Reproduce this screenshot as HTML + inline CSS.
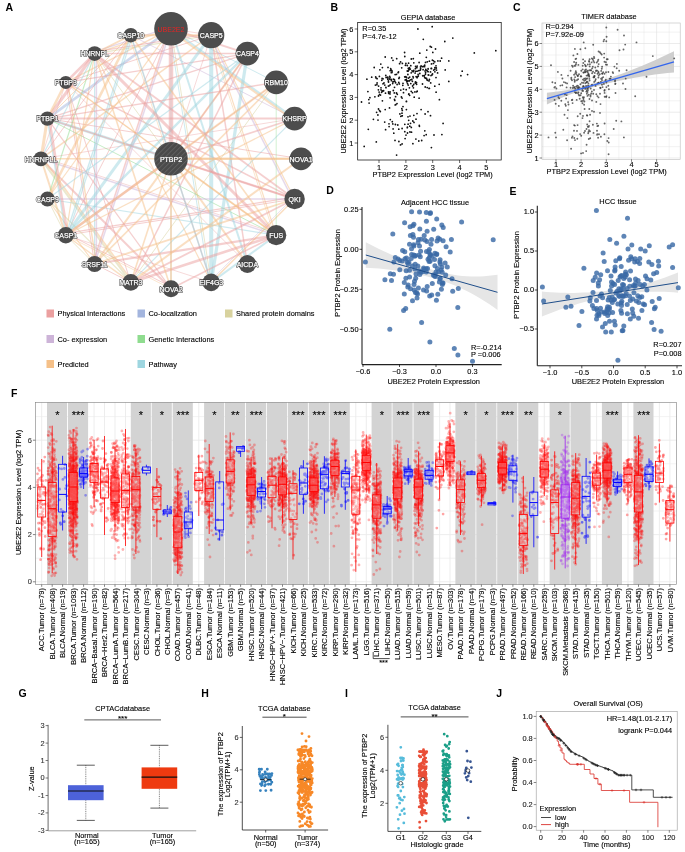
<!DOCTYPE html>
<html><head><meta charset="utf-8"><title>Figure</title>
<style>html,body{margin:0;padding:0;background:#fff;width:685px;height:852px;overflow:hidden}
svg{display:block;font-family:"Liberation Sans", sans-serif;filter:blur(0.4px)}</style></head>
<body><svg width="685" height="852" viewBox="0 0 685 852" font-family='"Liberation Sans", sans-serif'><text x="5.6" y="11.1" font-size="10.5" font-weight="bold">A</text>
<g fill="none" stroke-opacity="0.5" filter="url(#soft)">
<line x1="171" y1="28.8" x2="211.2" y2="282.4" stroke="#d8d29e" stroke-width="1.0"/>
<line x1="65.8" y1="235.2" x2="94.6" y2="53.6" stroke="#f5c088" stroke-width="1.2"/>
<line x1="171" y1="288.8" x2="41" y2="158.8" stroke="#eba0a0" stroke-width="2.0"/>
<line x1="65.8" y1="235.2" x2="47.4" y2="199" stroke="#d8d29e" stroke-width="1.0"/>
<line x1="94.6" y1="264" x2="47.4" y2="199" stroke="#f5c088" stroke-width="1.2"/>
<line x1="171" y1="28.8" x2="65.8" y2="235.2" stroke="#eba0a0" stroke-width="1.0"/>
<line x1="276.2" y1="235.2" x2="41" y2="158.8" stroke="#cdb4d8" stroke-width="1.5"/>
<line x1="247.4" y1="264" x2="65.8" y2="82.4" stroke="#eba0a0" stroke-width="0.8"/>
<line x1="211.2" y1="35.2" x2="94.6" y2="53.6" stroke="#d8d29e" stroke-width="1.2"/>
<line x1="276.2" y1="235.2" x2="47.4" y2="199" stroke="#9ed6e0" stroke-width="1.2"/>
<line x1="171" y1="288.8" x2="65.8" y2="235.2" stroke="#f5c088" stroke-width="0.8"/>
<line x1="171" y1="28.8" x2="171" y2="288.8" stroke="#9ed6e0" stroke-width="0.8"/>
<line x1="211.2" y1="282.4" x2="65.8" y2="235.2" stroke="#eba0a0" stroke-width="0.8"/>
<line x1="65.8" y1="235.2" x2="171" y2="158.8" stroke="#eba0a0" stroke-width="2.6"/>
<line x1="171" y1="28.8" x2="276.2" y2="82.4" stroke="#9ed6e0" stroke-width="1.0"/>
<line x1="211.2" y1="35.2" x2="171" y2="158.8" stroke="#eba0a0" stroke-width="0.8"/>
<line x1="211.2" y1="35.2" x2="247.4" y2="264" stroke="#eba0a0" stroke-width="1.5"/>
<line x1="294.6" y1="199" x2="65.8" y2="235.2" stroke="#eba0a0" stroke-width="1.0"/>
<line x1="171" y1="28.8" x2="94.6" y2="53.6" stroke="#f5c088" stroke-width="1.5"/>
<line x1="47.4" y1="118.6" x2="130.8" y2="35.2" stroke="#f5c088" stroke-width="1.0"/>
<line x1="247.4" y1="53.6" x2="47.4" y2="118.6" stroke="#eba0a0" stroke-width="1.5"/>
<line x1="276.2" y1="82.4" x2="171" y2="158.8" stroke="#eba0a0" stroke-width="1.0"/>
<line x1="294.6" y1="118.6" x2="130.8" y2="282.4" stroke="#9ed6e0" stroke-width="1.2"/>
<line x1="294.6" y1="118.6" x2="130.8" y2="35.2" stroke="#cdb4d8" stroke-width="1.0"/>
<line x1="130.8" y1="282.4" x2="41" y2="158.8" stroke="#d8d29e" stroke-width="2.0"/>
<line x1="94.6" y1="264" x2="65.8" y2="82.4" stroke="#eba0a0" stroke-width="1.0"/>
<line x1="247.4" y1="53.6" x2="94.6" y2="264" stroke="#f5c088" stroke-width="2.0"/>
<line x1="170.4" y1="27.1" x2="94" y2="51.9" stroke="#cdb4d8" stroke-width="1.2"/>
<line x1="276.7" y1="233.5" x2="41.6" y2="157.1" stroke="#eba0a0" stroke-width="0.8"/>
<line x1="276.2" y1="235.2" x2="211.2" y2="282.4" stroke="#9ed6e0" stroke-width="2.0"/>
<line x1="211.2" y1="35.2" x2="65.8" y2="82.4" stroke="#eba0a0" stroke-width="1.0"/>
<line x1="171.8" y1="287.2" x2="66.6" y2="233.6" stroke="#eba0a0" stroke-width="1.0"/>
<line x1="294.6" y1="199" x2="65.8" y2="82.4" stroke="#eba0a0" stroke-width="1.5"/>
<line x1="171" y1="28.8" x2="65.8" y2="82.4" stroke="#f5c088" stroke-width="1.5"/>
<line x1="169.2" y1="29.1" x2="209.4" y2="282.7" stroke="#9ed6e0" stroke-width="1.0"/>
<line x1="211.2" y1="35.2" x2="294.6" y2="199" stroke="#f5c088" stroke-width="1.2"/>
<line x1="47.4" y1="118.6" x2="171" y2="158.8" stroke="#9ed6e0" stroke-width="2.6"/>
<line x1="171" y1="28.8" x2="294.6" y2="118.6" stroke="#9ed6e0" stroke-width="2.0"/>
<line x1="130.8" y1="282.4" x2="94.6" y2="264" stroke="#eba0a0" stroke-width="1.0"/>
<line x1="41" y1="158.8" x2="94.6" y2="53.6" stroke="#9ed6e0" stroke-width="1.2"/>
<line x1="65.8" y1="235.2" x2="47.4" y2="118.6" stroke="#9ed6e0" stroke-width="1.5"/>
<line x1="294.6" y1="118.6" x2="41" y2="158.8" stroke="#eba0a0" stroke-width="0.8"/>
<line x1="211.2" y1="282.4" x2="94.6" y2="53.6" stroke="#f5c088" stroke-width="1.2"/>
<line x1="211.2" y1="35.2" x2="276.2" y2="235.2" stroke="#f5c088" stroke-width="1.2"/>
<line x1="247.4" y1="264" x2="171" y2="158.8" stroke="#f5c088" stroke-width="2.0"/>
<line x1="209.6" y1="36" x2="293" y2="199.8" stroke="#cdb4d8" stroke-width="1.5"/>
<line x1="211.2" y1="35.2" x2="41" y2="158.8" stroke="#f5c088" stroke-width="1.5"/>
<line x1="94.6" y1="264" x2="94.6" y2="53.6" stroke="#9ed6e0" stroke-width="1.2"/>
<line x1="301" y1="158.8" x2="47.4" y2="118.6" stroke="#eba0a0" stroke-width="1.0"/>
<line x1="65.8" y1="235.2" x2="41" y2="158.8" stroke="#f5c088" stroke-width="2.0"/>
<line x1="171" y1="28.8" x2="47.4" y2="118.6" stroke="#a3b5de" stroke-width="2.6"/>
<line x1="294.4" y1="197.2" x2="65.5" y2="233.4" stroke="#eba0a0" stroke-width="1.2"/>
<line x1="294.6" y1="199" x2="211.2" y2="282.4" stroke="#f5c088" stroke-width="1.5"/>
<line x1="293.4" y1="197.7" x2="209.9" y2="281.2" stroke="#cdb4d8" stroke-width="0.8"/>
<line x1="130.8" y1="35.2" x2="171" y2="158.8" stroke="#eba0a0" stroke-width="0.8"/>
<line x1="276.2" y1="235.2" x2="47.4" y2="118.6" stroke="#8fdc8f" stroke-width="1.0"/>
<line x1="209.5" y1="35.7" x2="274.5" y2="235.8" stroke="#f5c088" stroke-width="0.8"/>
<line x1="294.6" y1="199" x2="47.4" y2="199" stroke="#cdb4d8" stroke-width="1.5"/>
<line x1="47.4" y1="199" x2="94.6" y2="53.6" stroke="#8fdc8f" stroke-width="1.2"/>
<line x1="67.6" y1="234.9" x2="49.1" y2="118.3" stroke="#eba0a0" stroke-width="2.6"/>
<line x1="171" y1="28.8" x2="247.4" y2="264" stroke="#9ed6e0" stroke-width="2.0"/>
<line x1="210.9" y1="33.4" x2="94.3" y2="51.8" stroke="#eba0a0" stroke-width="1.2"/>
<line x1="211.2" y1="282.4" x2="171" y2="158.8" stroke="#eba0a0" stroke-width="1.2"/>
<line x1="130.8" y1="282.4" x2="65.8" y2="82.4" stroke="#eba0a0" stroke-width="1.0"/>
<line x1="41" y1="158.8" x2="65.8" y2="82.4" stroke="#eba0a0" stroke-width="0.8"/>
<line x1="247.4" y1="53.6" x2="65.8" y2="82.4" stroke="#eba0a0" stroke-width="1.2"/>
<line x1="247.4" y1="53.6" x2="130.8" y2="282.4" stroke="#eba0a0" stroke-width="1.5"/>
<line x1="247.4" y1="53.6" x2="94.6" y2="53.6" stroke="#eba0a0" stroke-width="1.5"/>
<line x1="94.6" y1="53.6" x2="171" y2="158.8" stroke="#d8d29e" stroke-width="1.0"/>
<line x1="171" y1="28.8" x2="94.6" y2="264" stroke="#cdb4d8" stroke-width="1.5"/>
<line x1="276.2" y1="82.4" x2="276.2" y2="235.2" stroke="#8fdc8f" stroke-width="0.8"/>
<line x1="130.8" y1="282.4" x2="47.4" y2="199" stroke="#d8d29e" stroke-width="1.2"/>
<line x1="47.4" y1="199" x2="130.8" y2="35.2" stroke="#f5c088" stroke-width="2.6"/>
<line x1="96.4" y1="263.7" x2="67.6" y2="82.1" stroke="#f5c088" stroke-width="1.5"/>
<line x1="171" y1="28.8" x2="47.4" y2="199" stroke="#f5c088" stroke-width="1.2"/>
<line x1="65.8" y1="82.4" x2="171" y2="158.8" stroke="#f5c088" stroke-width="0.8"/>
<line x1="94.6" y1="264" x2="65.8" y2="235.2" stroke="#d8d29e" stroke-width="1.0"/>
<line x1="169.3" y1="28.2" x2="92.9" y2="263.4" stroke="#eba0a0" stroke-width="1.5"/>
<line x1="171" y1="288.8" x2="47.4" y2="118.6" stroke="#eba0a0" stroke-width="1.2"/>
<line x1="171" y1="28.8" x2="211.2" y2="35.2" stroke="#eba0a0" stroke-width="0.8"/>
<line x1="276.2" y1="82.4" x2="130.8" y2="282.4" stroke="#d8d29e" stroke-width="1.0"/>
<line x1="132.3" y1="281.4" x2="42.5" y2="157.7" stroke="#f5c088" stroke-width="1.5"/>
<line x1="247.4" y1="53.6" x2="171" y2="158.8" stroke="#eba0a0" stroke-width="1.2"/>
<line x1="96.4" y1="264" x2="96.4" y2="53.6" stroke="#cdb4d8" stroke-width="1.5"/>
<line x1="129.1" y1="35.7" x2="169.3" y2="159.4" stroke="#f5c088" stroke-width="0.8"/>
<line x1="169.9" y1="30.3" x2="293.6" y2="120.1" stroke="#f5c088" stroke-width="2.0"/>
<line x1="41" y1="158.8" x2="130.8" y2="35.2" stroke="#eba0a0" stroke-width="1.0"/>
</g>
<g fill="none" stroke-opacity="0.5" filter="url(#soft)">
<line x1="171" y1="28.8" x2="171" y2="158.8" stroke="#eba0a0" stroke-width="4.5"/>
<line x1="211.2" y1="35.2" x2="211.2" y2="282.4" stroke="#9ed6e0" stroke-width="4.0"/>
<line x1="247.4" y1="53.6" x2="211.2" y2="282.4" stroke="#9ed6e0" stroke-width="3.2"/>
<line x1="211.2" y1="35.2" x2="65.8" y2="235.2" stroke="#9ed6e0" stroke-width="3.0"/>
<line x1="247.4" y1="53.6" x2="65.8" y2="235.2" stroke="#9ed6e0" stroke-width="2.4"/>
<line x1="130.8" y1="35.2" x2="211.2" y2="282.4" stroke="#9ed6e0" stroke-width="1.6"/>
<line x1="130.8" y1="35.2" x2="65.8" y2="235.2" stroke="#9ed6e0" stroke-width="1.4"/>
<line x1="47.4" y1="199" x2="247.4" y2="53.6" stroke="#9ed6e0" stroke-width="1.2"/>
<line x1="67.5" y1="235.8" x2="132.5" y2="35.7" stroke="#9ed6e0" stroke-width="1.2"/>
<line x1="94.6" y1="53.6" x2="276.2" y2="235.2" stroke="#eba0a0" stroke-width="3.0"/>
<line x1="94.6" y1="53.6" x2="47.4" y2="118.6" stroke="#eba0a0" stroke-width="3.2"/>
<line x1="94.6" y1="53.6" x2="65.8" y2="82.4" stroke="#eba0a0" stroke-width="2.6"/>
<line x1="47.4" y1="118.6" x2="41" y2="158.8" stroke="#f5c088" stroke-width="3.0"/>
<line x1="65.8" y1="82.4" x2="47.4" y2="118.6" stroke="#f5c088" stroke-width="2.4"/>
<line x1="47.4" y1="118.6" x2="294.6" y2="118.6" stroke="#eba0a0" stroke-width="2.0"/>
<line x1="171" y1="158.8" x2="301" y2="158.8" stroke="#f5c088" stroke-width="2.6"/>
<line x1="171" y1="158.8" x2="294.6" y2="199" stroke="#eba0a0" stroke-width="2.2"/>
<line x1="171" y1="158.8" x2="276.2" y2="235.2" stroke="#f5c088" stroke-width="1.8"/>
<line x1="276.2" y1="235.2" x2="130.8" y2="282.4" stroke="#eba0a0" stroke-width="2.6"/>
<line x1="276.2" y1="235.2" x2="94.6" y2="264" stroke="#eba0a0" stroke-width="2.2"/>
<line x1="276.2" y1="82.4" x2="65.8" y2="235.2" stroke="#f5c088" stroke-width="2.2"/>
<line x1="301" y1="158.8" x2="130.8" y2="282.4" stroke="#f5c088" stroke-width="2.0"/>
<line x1="294.6" y1="199" x2="94.6" y2="264" stroke="#f5c088" stroke-width="1.8"/>
<line x1="94.6" y1="53.6" x2="294.6" y2="199" stroke="#eba0a0" stroke-width="1.8"/>
<line x1="47.4" y1="118.6" x2="294.6" y2="199" stroke="#eba0a0" stroke-width="1.4"/>
<line x1="130.8" y1="35.2" x2="276.2" y2="235.2" stroke="#f5c088" stroke-width="1.6"/>
<line x1="171" y1="28.8" x2="247.4" y2="53.6" stroke="#eba0a0" stroke-width="2.0"/>
<line x1="130.8" y1="35.2" x2="211.2" y2="35.2" stroke="#f5c088" stroke-width="2.0"/>
<line x1="94.6" y1="53.6" x2="130.8" y2="35.2" stroke="#f5c088" stroke-width="1.8"/>
<line x1="276.2" y1="82.4" x2="94.6" y2="264" stroke="#f5c088" stroke-width="1.6"/>
<line x1="294.6" y1="118.6" x2="171" y2="158.8" stroke="#eba0a0" stroke-width="1.6"/>
<line x1="171" y1="158.8" x2="171" y2="288.8" stroke="#f5c088" stroke-width="2.0"/>
<line x1="171" y1="158.8" x2="130.8" y2="282.4" stroke="#f5c088" stroke-width="1.6"/>
<line x1="41" y1="158.8" x2="301" y2="158.8" stroke="#f5c088" stroke-width="1.4"/>
<line x1="47.4" y1="118.6" x2="276.2" y2="82.4" stroke="#eba0a0" stroke-width="1.4"/>
<line x1="65.8" y1="235.2" x2="130.8" y2="282.4" stroke="#f5c088" stroke-width="1.4"/>
<line x1="94.6" y1="53.6" x2="171" y2="288.8" stroke="#f5c088" stroke-width="1.6"/>
<line x1="65.8" y1="82.4" x2="276.2" y2="235.2" stroke="#f5c088" stroke-width="1.4"/>
<line x1="276.2" y1="235.2" x2="171" y2="288.8" stroke="#eba0a0" stroke-width="1.6"/>
<line x1="294.6" y1="199" x2="130.8" y2="282.4" stroke="#eba0a0" stroke-width="1.8"/>
<line x1="294.6" y1="118.6" x2="65.8" y2="235.2" stroke="#f5c088" stroke-width="1.2"/>
</g>
<defs><filter id="soft" x="-5%" y="-5%" width="110%" height="110%"><feGaussianBlur stdDeviation="0.45"/></filter><pattern id="hatch" width="3.5" height="3.5" patternUnits="userSpaceOnUse" patternTransform="rotate(45)"><rect width="3.5" height="3.5" fill="#4a4a4a"/><line x1="0" y1="0" x2="0" y2="3.5" stroke="#707070" stroke-width="1"/></pattern></defs>
<circle cx="171" cy="28.8" r="16.8" fill="#4d4d4d"/>
<circle cx="211.2" cy="35.2" r="13.1" fill="#4d4d4d"/>
<circle cx="247.4" cy="53.6" r="11.8" fill="#4d4d4d"/>
<circle cx="276.2" cy="82.4" r="11.8" fill="#4d4d4d"/>
<circle cx="294.6" cy="118.6" r="11.8" fill="#4d4d4d"/>
<circle cx="301" cy="158.8" r="11.4" fill="#4d4d4d"/>
<circle cx="294.6" cy="199" r="10.2" fill="#4d4d4d"/>
<circle cx="276.2" cy="235.2" r="10.1" fill="#4d4d4d"/>
<circle cx="247.4" cy="264" r="8.9" fill="#4d4d4d"/>
<circle cx="211.2" cy="282.4" r="8.8" fill="#4d4d4d"/>
<circle cx="171" cy="288.8" r="8.5" fill="#4d4d4d"/>
<circle cx="130.8" cy="282.4" r="8.4" fill="#4d4d4d"/>
<circle cx="94.6" cy="264" r="8.0" fill="#4d4d4d"/>
<circle cx="65.8" cy="235.2" r="8.2" fill="#4d4d4d"/>
<circle cx="47.4" cy="199" r="7.4" fill="#4d4d4d"/>
<circle cx="41" cy="158.8" r="7.4" fill="#4d4d4d"/>
<circle cx="47.4" cy="118.6" r="7.2" fill="#4d4d4d"/>
<circle cx="65.8" cy="82.4" r="6.5" fill="#4d4d4d"/>
<circle cx="94.6" cy="53.6" r="7.4" fill="#4d4d4d"/>
<circle cx="130.8" cy="35.2" r="7.2" fill="#4d4d4d"/>
<circle cx="171" cy="158.8" r="16.8" fill="url(#hatch)"/>
<text x="171" y="31.5" font-size="7" text-anchor="middle" fill="#e42424">UBE2E2</text>
<text x="211.2" y="37.9" font-size="7" text-anchor="middle" fill="#fff" stroke="#3c3c3c" stroke-width="1.3" stroke-linejoin="round">CASP5</text>
<text x="211.2" y="37.9" font-size="7" text-anchor="middle" fill="#fff" stroke="#fff" stroke-width="0.25">CASP5</text>
<text x="247.4" y="56.3" font-size="7" text-anchor="middle" fill="#fff" stroke="#3c3c3c" stroke-width="1.3" stroke-linejoin="round">CASP4</text>
<text x="247.4" y="56.3" font-size="7" text-anchor="middle" fill="#fff" stroke="#fff" stroke-width="0.25">CASP4</text>
<text x="276.2" y="85.1" font-size="7" text-anchor="middle" fill="#fff" stroke="#3c3c3c" stroke-width="1.3" stroke-linejoin="round">RBM10</text>
<text x="276.2" y="85.1" font-size="7" text-anchor="middle" fill="#fff" stroke="#fff" stroke-width="0.25">RBM10</text>
<text x="294.6" y="121.3" font-size="7" text-anchor="middle" fill="#fff" stroke="#3c3c3c" stroke-width="1.3" stroke-linejoin="round">KHSRP</text>
<text x="294.6" y="121.3" font-size="7" text-anchor="middle" fill="#fff" stroke="#fff" stroke-width="0.25">KHSRP</text>
<text x="301" y="161.5" font-size="7" text-anchor="middle" fill="#fff" stroke="#3c3c3c" stroke-width="1.3" stroke-linejoin="round">NOVA1</text>
<text x="301" y="161.5" font-size="7" text-anchor="middle" fill="#fff" stroke="#fff" stroke-width="0.25">NOVA1</text>
<text x="294.6" y="201.7" font-size="7" text-anchor="middle" fill="#fff" stroke="#3c3c3c" stroke-width="1.3" stroke-linejoin="round">QKI</text>
<text x="294.6" y="201.7" font-size="7" text-anchor="middle" fill="#fff" stroke="#fff" stroke-width="0.25">QKI</text>
<text x="276.2" y="237.9" font-size="7" text-anchor="middle" fill="#fff" stroke="#3c3c3c" stroke-width="1.3" stroke-linejoin="round">FUS</text>
<text x="276.2" y="237.9" font-size="7" text-anchor="middle" fill="#fff" stroke="#fff" stroke-width="0.25">FUS</text>
<text x="247.4" y="266.7" font-size="7" text-anchor="middle" fill="#fff" stroke="#3c3c3c" stroke-width="1.3" stroke-linejoin="round">AICDA</text>
<text x="247.4" y="266.7" font-size="7" text-anchor="middle" fill="#fff" stroke="#fff" stroke-width="0.25">AICDA</text>
<text x="211.2" y="285.1" font-size="7" text-anchor="middle" fill="#fff" stroke="#3c3c3c" stroke-width="1.3" stroke-linejoin="round">EIF4G3</text>
<text x="211.2" y="285.1" font-size="7" text-anchor="middle" fill="#fff" stroke="#fff" stroke-width="0.25">EIF4G3</text>
<text x="171" y="291.5" font-size="7" text-anchor="middle" fill="#fff" stroke="#3c3c3c" stroke-width="1.3" stroke-linejoin="round">NOVA2</text>
<text x="171" y="291.5" font-size="7" text-anchor="middle" fill="#fff" stroke="#fff" stroke-width="0.25">NOVA2</text>
<text x="130.8" y="285.1" font-size="7" text-anchor="middle" fill="#fff" stroke="#3c3c3c" stroke-width="1.3" stroke-linejoin="round">MATR3</text>
<text x="130.8" y="285.1" font-size="7" text-anchor="middle" fill="#fff" stroke="#fff" stroke-width="0.25">MATR3</text>
<text x="94.6" y="266.7" font-size="7" text-anchor="middle" fill="#fff" stroke="#3c3c3c" stroke-width="1.3" stroke-linejoin="round">SRSF11</text>
<text x="94.6" y="266.7" font-size="7" text-anchor="middle" fill="#fff" stroke="#fff" stroke-width="0.25">SRSF11</text>
<text x="65.8" y="237.9" font-size="7" text-anchor="middle" fill="#fff" stroke="#3c3c3c" stroke-width="1.3" stroke-linejoin="round">CASP1</text>
<text x="65.8" y="237.9" font-size="7" text-anchor="middle" fill="#fff" stroke="#fff" stroke-width="0.25">CASP1</text>
<text x="47.4" y="201.7" font-size="7" text-anchor="middle" fill="#fff" stroke="#3c3c3c" stroke-width="1.3" stroke-linejoin="round">CASP9</text>
<text x="47.4" y="201.7" font-size="7" text-anchor="middle" fill="#fff" stroke="#fff" stroke-width="0.25">CASP9</text>
<text x="41" y="161.5" font-size="7" text-anchor="middle" fill="#fff" stroke="#3c3c3c" stroke-width="1.3" stroke-linejoin="round">HNRNPLL</text>
<text x="41" y="161.5" font-size="7" text-anchor="middle" fill="#fff" stroke="#fff" stroke-width="0.25">HNRNPLL</text>
<text x="47.4" y="121.3" font-size="7" text-anchor="middle" fill="#fff" stroke="#3c3c3c" stroke-width="1.3" stroke-linejoin="round">PTBP1</text>
<text x="47.4" y="121.3" font-size="7" text-anchor="middle" fill="#fff" stroke="#fff" stroke-width="0.25">PTBP1</text>
<text x="65.8" y="85.1" font-size="7" text-anchor="middle" fill="#fff" stroke="#3c3c3c" stroke-width="1.3" stroke-linejoin="round">PTBP3</text>
<text x="65.8" y="85.1" font-size="7" text-anchor="middle" fill="#fff" stroke="#fff" stroke-width="0.25">PTBP3</text>
<text x="94.6" y="56.3" font-size="7" text-anchor="middle" fill="#fff" stroke="#3c3c3c" stroke-width="1.3" stroke-linejoin="round">HNRNPL</text>
<text x="94.6" y="56.3" font-size="7" text-anchor="middle" fill="#fff" stroke="#fff" stroke-width="0.25">HNRNPL</text>
<text x="130.8" y="37.9" font-size="7" text-anchor="middle" fill="#fff" stroke="#3c3c3c" stroke-width="1.3" stroke-linejoin="round">CASP10</text>
<text x="130.8" y="37.9" font-size="7" text-anchor="middle" fill="#fff" stroke="#fff" stroke-width="0.25">CASP10</text>
<text x="171" y="161.5" font-size="7" text-anchor="middle" fill="#fff" stroke="#fff" stroke-width="0.2">PTBP2</text>
<rect x="46.5" y="309.5" width="7.5" height="8" fill="#eba0a0" stroke="none" stroke-width="0.8"/>
<text x="57.5" y="316" font-size="7.4" stroke="#000" stroke-width="0.12">Physical Interactions</text>
<rect x="137.5" y="309.5" width="7.5" height="8" fill="#a3b5de" stroke="none" stroke-width="0.8"/>
<text x="148.5" y="316" font-size="7.4" stroke="#000" stroke-width="0.12">Co-localization</text>
<rect x="225" y="309.5" width="7.5" height="8" fill="#d8d29e" stroke="none" stroke-width="0.8"/>
<text x="236" y="316" font-size="7.4" stroke="#000" stroke-width="0.12">Shared protein domains</text>
<rect x="46.5" y="335" width="7.5" height="8" fill="#cdb4d8" stroke="none" stroke-width="0.8"/>
<text x="57.5" y="341.5" font-size="7.4" stroke="#000" stroke-width="0.12">Co- expression</text>
<rect x="137.5" y="335" width="7.5" height="8" fill="#8fdc8f" stroke="none" stroke-width="0.8"/>
<text x="148.5" y="341.5" font-size="7.4" stroke="#000" stroke-width="0.12">Genetic Interactions</text>
<rect x="46.5" y="360" width="7.5" height="8" fill="#f5c088" stroke="none" stroke-width="0.8"/>
<text x="57.5" y="366.5" font-size="7.4" stroke="#000" stroke-width="0.12">Predicted</text>
<rect x="137.5" y="360" width="7.5" height="8" fill="#9ed6e0" stroke="none" stroke-width="0.8"/>
<text x="148.5" y="366.5" font-size="7.4" stroke="#000" stroke-width="0.12">Pathway</text>
<text x="330.6" y="11.1" font-size="10.5" font-weight="bold">B</text>
<text x="428" y="20" font-size="7.4" text-anchor="middle" stroke="#000" stroke-width="0.12">GEPIA database</text>
<rect x="357.7" y="22.6" width="143.5" height="137.4" fill="none" stroke="#000" stroke-width="0.7"/>
<path d="M411.2 91.3h0M437.6 72.9h0M417.4 77h0M389.5 107.9h0M394.8 81.2h0M423.1 69.7h0M385.9 87.4h0M434.9 71.8h0M423 75.7h0M409.4 87.8h0M397.1 84.5h0M379.5 94.4h0M393.4 81.7h0M403.5 92.7h0M407.9 74.5h0M404.7 76.8h0M436.3 68h0M424.3 76h0M421.1 65.9h0M439.2 84.3h0M389.6 79h0M394.4 79.6h0M411.2 72.8h0M376.9 84.7h0M368.8 99.6h0M416.5 76.9h0M410.3 69.1h0M437.9 60.9h0M418.8 70.7h0M408.7 94.2h0M408.2 71h0M390.2 70.7h0M376 77.9h0M388.5 82h0M427.2 87.6h0M391.7 72.7h0M398.8 82.4h0M373.4 119.3h0M424.2 66.7h0M394.5 99.4h0M395.6 96.7h0M431 75.6h0M405.9 63.5h0M422.7 75.8h0M415.5 71.3h0M426.8 50.1h0M379.9 69.8h0M408.5 78.2h0M406.5 80.5h0M430.7 82.9h0M390.1 92h0M412 70.8h0M375.4 85.1h0M405 77.1h0M392.1 71.9h0M388.7 93.4h0M434.9 67.6h0M398.1 72.7h0M433.5 60.8h0M413.8 62.8h0M413.7 70.5h0M410.4 79.8h0M420.6 68.3h0M396.5 93h0M402.1 98.1h0M390 77.4h0M395.6 82.6h0M384 82.9h0M429.4 88.4h0M383.6 90.7h0M424.7 77.7h0M390 93.9h0M436.1 92.2h0M425.4 74.4h0M385.8 75.4h0M431.5 63.9h0M445.2 69.9h0M431.1 68.5h0M408.3 68.5h0M378 120.1h0M388.4 86.1h0M441.6 58.2h0M415.6 66.5h0M382.4 67.6h0M426.3 57.3h0M413.2 71.6h0M413.1 71.8h0M398.5 71.9h0M402.8 85.3h0M392.7 83.5h0M377.1 78.7h0M430.2 46.4h0M406.3 79.7h0M409.7 77.1h0M398.9 78.4h0M432.8 52.4h0M381 87.8h0M399.6 63.7h0M369.1 103.1h0M386 87.7h0M425.6 72.7h0M409.4 67.7h0M407.3 65.5h0M412.5 92.7h0M429.4 79.4h0M388.4 80.9h0M410.8 83.6h0M414.9 91.9h0M401.7 67.8h0M420.5 66.8h0M424.7 65.2h0M428.3 74.9h0M379.4 76.4h0M433.7 70.1h0M375.7 77h0M416.6 84.3h0M427 79.7h0M378.6 86.1h0M408.2 85.1h0M432.4 60.2h0M383 83.8h0M412.6 86h0M428.1 68.7h0M407.3 81.5h0M419.1 62.5h0M388.5 91.9h0M381.6 92.3h0M391 69.9h0M391.7 57.9h0M396.7 58.7h0M436 65.8h0M417.1 71.2h0M388 67.4h0M388.9 85.9h0M436 77.6h0M405.9 76.7h0M434.8 61.8h0M413.7 84.5h0M409.6 95.3h0M425.2 87h0M417.2 66.1h0M416.5 82.6h0M405.2 79.9h0M420.3 70.1h0M409 69.8h0M436.5 70.1h0M387.8 79.2h0M400.8 90.1h0M406.8 81.8h0M429 80.9h0M405.4 65.3h0M425.1 71h0M426.6 78.5h0M417.1 77.7h0M416.1 76.6h0M427.3 61.8h0M394.8 100.4h0M406.2 89.7h0M382.1 91.4h0M385.2 57h0M391.3 72.7h0M427.2 71.1h0M425.5 62.4h0M380.8 64.1h0M413.3 77.8h0M403 83.3h0M408.6 63.2h0M415.4 68.7h0M389.7 76.5h0M428.8 75.1h0M404.8 56.5h0M419.8 53.2h0M407.3 71h0M387.7 77.2h0M376.6 112.3h0M396.5 74.3h0M428.1 71.7h0M423.9 66.2h0M429.4 61.2h0M379.1 92.1h0M434.8 86.2h0M424.6 66.7h0M426.5 78.6h0M411.8 79.5h0M432 74.9h0M382.4 90.9h0M377.9 115h0M371.7 77.2h0M391.4 80.7h0M391.9 70.7h0M393 60.3h0M406.5 77.5h0M378.5 109h0M403.5 89.1h0M390.1 97.8h0M412.4 81.3h0M367.9 91.6h0M395.2 104.9h0M440.2 61h0M401.4 96.9h0M420.6 69h0M413 76.6h0M408 80.8h0M390.2 84.8h0M407.5 83.6h0M374.9 96.8h0M429 88.4h0M431.5 68.5h0M431.4 47.2h0M374.2 67.5h0M390.7 68.7h0M386.1 77.5h0M393.3 90.5h0M413.3 58.7h0M426.9 70.6h0M395.5 82.8h0M430.5 71.9h0M425.8 69.3h0M394.5 87.3h0M418.1 74.3h0M422.5 84h0M383.1 91h0M404.6 52.5h0M419.8 73.5h0M418.3 76h0M377.1 82.9h0M409.7 68.5h0M413.4 87.8h0M434.7 69.4h0M410.8 65.7h0M399.3 77.4h0M415.1 73.1h0M435.5 49h0M425.7 78.2h0M384.8 85.1h0M369.9 97.7h0M411.3 59h0M397 103.6h0M415.5 82h0M432.5 73.9h0M395.1 74.6h0M381.8 80.3h0M402.4 63.4h0M416.7 91.8h0M382.1 78.5h0M399.3 83.9h0M378.5 96h0M416.9 67.7h0M427.4 80.3h0M406.5 101.4h0M409.3 80.9h0M408.9 93.9h0M385.5 93.2h0M391.2 79.4h0M393.4 79.2h0M400.6 61.9h0M381 89.8h0M417.2 91.2h0M415.3 83h0M394.3 92.9h0M382.4 100.8h0M422.5 66.7h0M380.5 95.1h0M379.5 110.6h0M383.1 78.8h0M378.4 89.8h0M433.5 63.4h0M392.9 81.8h0M387.9 77.7h0M428.1 69.1h0M425.1 114h0M414.2 97.2h0M413.8 115.3h0M414 122.4h0M389 123.8h0M406.3 101.5h0M405.1 138.6h0M411.3 127.4h0M390.3 119.6h0M430.5 115.7h0M409.9 131.9h0M392.3 121.7h0M385.6 129.7h0M404.8 124.3h0M407.3 127.7h0M398.9 141.5h0M409.8 126.2h0M399.9 113.9h0M415.9 139.1h0M398.8 129.2h0M408 116.8h0M421.7 140.5h0M443.1 123.4h0M395 140.4h0M402.3 110.4h0M397.3 94.3h0M419.1 98.2h0M393.1 128.9h0M402 115.8h0M408.1 124.2h0M395.4 124.5h0M395.7 104.7h0M402.1 143.9h0M380.3 111.5h0M389.1 126.6h0M403 106.6h0M410.5 123.3h0M406 135.1h0M384.7 122.1h0M402.3 115.8h0M419.3 125.4h0M416 119.2h0M407.5 133h0M396.6 155.1h0M417 113.6h0M400.8 116.3h0M392.8 123.9h0M397.8 125h0M428 111.7h0M411.5 132.2h0M424.1 135.6h0M402.1 128.5h0M421.1 109.6h0M400.5 144.9h0M406.4 109.6h0M441.9 134.6h0M418.8 141h0M401.8 108.7h0M407.4 127.2h0M412.9 143.7h0M424.8 130.8h0M402 113.2h0M385.2 109.6h0M404.8 131.7h0M408.7 120.3h0M410 116.1h0M426.2 134.7h0M412.8 121h0M419.4 126.3h0M393.8 133.2h0M417.9 29h0M432.2 26.7h0M423.3 39.3h0M444.8 41.5h0M452.8 38.1h0M474.3 52.9h0M495.8 50.7h0M462.2 71.2h0M467.6 74.6h0M448.8 60.9h0M364.2 146.4h0M368.3 129.3h0M376.3 141.9h0M361.5 102h0M366.9 79.2h0M431.4 147.6h0M434 135h0M439.4 99.7h0M448.8 81.4h0M460.9 75.7h0" stroke="#111" stroke-width="1.8" stroke-linecap="round" fill="none"/>
<line x1="354.7" y1="143" x2="357.7" y2="143" stroke="#000" stroke-width="0.6"/>
<text x="353.4" y="145.5" font-size="7.4" text-anchor="end" stroke="#000" stroke-width="0.12">1</text>
<line x1="354.7" y1="120.2" x2="357.7" y2="120.2" stroke="#000" stroke-width="0.6"/>
<text x="353.4" y="122.7" font-size="7.4" text-anchor="end" stroke="#000" stroke-width="0.12">2</text>
<line x1="354.7" y1="97.4" x2="357.7" y2="97.4" stroke="#000" stroke-width="0.6"/>
<text x="353.4" y="99.9" font-size="7.4" text-anchor="end" stroke="#000" stroke-width="0.12">3</text>
<line x1="354.7" y1="74.6" x2="357.7" y2="74.6" stroke="#000" stroke-width="0.6"/>
<text x="353.4" y="77.1" font-size="7.4" text-anchor="end" stroke="#000" stroke-width="0.12">4</text>
<line x1="354.7" y1="51.8" x2="357.7" y2="51.8" stroke="#000" stroke-width="0.6"/>
<text x="353.4" y="54.3" font-size="7.4" text-anchor="end" stroke="#000" stroke-width="0.12">5</text>
<line x1="354.7" y1="29" x2="357.7" y2="29" stroke="#000" stroke-width="0.6"/>
<text x="353.4" y="31.5" font-size="7.4" text-anchor="end" stroke="#000" stroke-width="0.12">6</text>
<line x1="379" y1="160" x2="379" y2="163" stroke="#000" stroke-width="0.6"/>
<text x="379" y="169.5" font-size="7.4" text-anchor="middle" stroke="#000" stroke-width="0.12">1</text>
<line x1="405.9" y1="160" x2="405.9" y2="163" stroke="#000" stroke-width="0.6"/>
<text x="405.9" y="169.5" font-size="7.4" text-anchor="middle" stroke="#000" stroke-width="0.12">2</text>
<line x1="432.7" y1="160" x2="432.7" y2="163" stroke="#000" stroke-width="0.6"/>
<text x="432.7" y="169.5" font-size="7.4" text-anchor="middle" stroke="#000" stroke-width="0.12">3</text>
<line x1="459.6" y1="160" x2="459.6" y2="163" stroke="#000" stroke-width="0.6"/>
<text x="459.6" y="169.5" font-size="7.4" text-anchor="middle" stroke="#000" stroke-width="0.12">4</text>
<line x1="486.4" y1="160" x2="486.4" y2="163" stroke="#000" stroke-width="0.6"/>
<text x="486.4" y="169.5" font-size="7.4" text-anchor="middle" stroke="#000" stroke-width="0.12">5</text>
<text x="362.3" y="31.4" font-size="7.4" stroke="#000" stroke-width="0.12">R=0.35</text>
<text x="362.3" y="39.2" font-size="7.4" stroke="#000" stroke-width="0.12">P=4.7e-12</text>
<text x="432.6" y="177.3" font-size="7.4" text-anchor="middle" stroke="#000" stroke-width="0.12">PTBP2 Expression Level (log2 TPM)</text>
<text x="0" y="0" font-size="7.4" stroke="#000" stroke-width="0.12" text-anchor="middle" transform="translate(345.6 91) rotate(-90)">UBE2E2 Expression Level (log2 TPM)</text>
<text x="513" y="11" font-size="10.5" font-weight="bold">C</text>
<text x="609" y="19" font-size="7.4" text-anchor="middle" stroke="#000" stroke-width="0.12">TIMER database</text>
<rect x="542" y="23" width="138.2" height="136.3" fill="#fff" stroke="none" stroke-width="0.8"/>
<line x1="543.4" y1="23" x2="543.4" y2="159.3" stroke="#e4e4e4" stroke-width="0.45"/>
<line x1="556" y1="23" x2="556" y2="159.3" stroke="#e4e4e4" stroke-width="0.7"/>
<line x1="568.6" y1="23" x2="568.6" y2="159.3" stroke="#e4e4e4" stroke-width="0.45"/>
<line x1="581.1" y1="23" x2="581.1" y2="159.3" stroke="#e4e4e4" stroke-width="0.7"/>
<line x1="593.7" y1="23" x2="593.7" y2="159.3" stroke="#e4e4e4" stroke-width="0.45"/>
<line x1="606.3" y1="23" x2="606.3" y2="159.3" stroke="#e4e4e4" stroke-width="0.7"/>
<line x1="618.9" y1="23" x2="618.9" y2="159.3" stroke="#e4e4e4" stroke-width="0.45"/>
<line x1="631.5" y1="23" x2="631.5" y2="159.3" stroke="#e4e4e4" stroke-width="0.7"/>
<line x1="644" y1="23" x2="644" y2="159.3" stroke="#e4e4e4" stroke-width="0.45"/>
<line x1="656.6" y1="23" x2="656.6" y2="159.3" stroke="#e4e4e4" stroke-width="0.7"/>
<line x1="669.2" y1="23" x2="669.2" y2="159.3" stroke="#e4e4e4" stroke-width="0.45"/>
<line x1="542" y1="158" x2="680.2" y2="158" stroke="#e4e4e4" stroke-width="0.7"/>
<line x1="542" y1="146.6" x2="680.2" y2="146.6" stroke="#e4e4e4" stroke-width="0.45"/>
<line x1="542" y1="135.1" x2="680.2" y2="135.1" stroke="#e4e4e4" stroke-width="0.7"/>
<line x1="542" y1="123.7" x2="680.2" y2="123.7" stroke="#e4e4e4" stroke-width="0.45"/>
<line x1="542" y1="112.2" x2="680.2" y2="112.2" stroke="#e4e4e4" stroke-width="0.7"/>
<line x1="542" y1="100.8" x2="680.2" y2="100.8" stroke="#e4e4e4" stroke-width="0.45"/>
<line x1="542" y1="89.3" x2="680.2" y2="89.3" stroke="#e4e4e4" stroke-width="0.7"/>
<line x1="542" y1="77.9" x2="680.2" y2="77.9" stroke="#e4e4e4" stroke-width="0.45"/>
<line x1="542" y1="66.4" x2="680.2" y2="66.4" stroke="#e4e4e4" stroke-width="0.7"/>
<line x1="542" y1="55" x2="680.2" y2="55" stroke="#e4e4e4" stroke-width="0.45"/>
<line x1="542" y1="43.5" x2="680.2" y2="43.5" stroke="#e4e4e4" stroke-width="0.7"/>
<line x1="542" y1="32.1" x2="680.2" y2="32.1" stroke="#e4e4e4" stroke-width="0.45"/>
<rect x="542" y="23" width="138.2" height="136.3" fill="none" stroke="#bdbdbd" stroke-width="0.6"/>
<path d="M546.9 92.7 L553.3 92.1 L559.6 91.3 L566 90.2 L572.3 89 L578.7 87.5 L585 85.8 L591.4 83.9 L597.7 82 L604.1 79.9 L610.4 77.8 L616.8 75.5 L623.2 73.2 L629.5 70.8 L635.9 68.3 L642.2 65.7 L648.6 63 L654.9 60.2 L661.3 57.3 L667.6 54.3 L674 51.3 L674 72.4 L667.6 73 L661.3 73.7 L654.9 74.5 L648.6 75.4 L642.2 76.4 L635.9 77.5 L629.5 78.7 L623.2 79.9 L616.8 81.3 L610.4 82.8 L604.1 84.3 L597.7 85.9 L591.4 87.6 L585 89.5 L578.7 91.5 L572.3 93.7 L566 96.1 L559.6 98.7 L553.3 101.6 L546.9 104.6Z" fill="#cfcfcf"/>
<path d="M581.3 70.8h0M582.3 90.7h0M606.8 59.3h0M600.9 81.9h0M559.2 98.4h0M599.8 74.3h0M587.5 81.7h0M573.1 85.8h0M594.3 62.4h0M588.3 73.8h0M604.5 61.7h0M604.7 89.9h0M589.9 64.2h0M595.7 79.2h0M582.3 88.8h0M603.2 72.3h0M589.6 80.6h0M585.3 88.8h0M577.9 93.1h0M562.3 85.3h0M612.7 72.1h0M593.2 44.7h0M615.2 84.1h0M597.5 73.8h0M615 81.4h0M583.4 98.3h0M590.5 96.5h0M575.5 59.1h0M578.3 86.2h0M571.8 100.1h0M600 93.8h0M606.4 82.6h0M577.4 87.7h0M610.9 76.6h0M585.3 48.3h0M605.9 62.3h0M590.7 88.5h0M600.7 53.4h0M623.5 49.5h0M600.5 104.1h0M585.5 83.2h0M582 82.8h0M586 69.5h0M594.1 76.9h0M600.2 87.8h0M577.4 54h0M577.9 87.8h0M577.7 76h0M598.5 82.6h0M593.5 77.3h0M608.3 85.8h0M579.4 87.5h0M587.8 88.7h0M586.9 93.7h0M581.3 101.2h0M596.8 62.5h0M589.2 76.7h0M561.3 100.8h0M583.6 86.2h0M587.8 72.2h0M586.5 82.1h0M598.4 77.5h0M606.4 87.1h0M586.1 86h0M580.7 76.3h0M588.4 83.4h0M585.8 66.2h0M597.8 61.1h0M575.7 93h0M592.1 73.2h0M583.3 72.5h0M598.4 71.8h0M609.2 97.4h0M593.4 60.9h0M574.7 87.1h0M608.7 142.5h0M597.3 134.2h0M574.9 125.6h0M575 140.1h0M592.9 124.7h0M600.9 136.8h0M581.2 135.7h0M582.5 118.1h0M580.1 134.1h0M599 134.2h0M597.1 134.7h0M584.1 104.7h0M589.6 121.3h0M585 131h0M588.2 133.2h0M606.3 27.5h0M636.5 42.4h0M551 65.3h0M556 137.4h0M623.9 137.4h0" stroke="#333" stroke-width="1.9" stroke-linecap="round" stroke-opacity="0.75" fill="none"/>
<path d="M589.7 66.4h0M605.5 80.5h0M597.6 83.4h0M583.9 97.2h0M574.1 74.8h0M587.6 70.8h0M604.2 39.6h0M603.2 77.1h0M574.9 80.4h0M596.2 70.4h0M589 60.9h0M583.5 99.9h0M575.1 77.1h0M576.2 86.6h0M619.2 70.8h0M578.7 94.7h0M589.4 70.2h0M555.2 83h0M585.4 78.4h0M572.6 103.1h0M572.8 88h0M583.9 72.6h0M591.6 62.4h0M585 70.2h0M558.8 105.9h0M576.7 99.9h0M625.5 89h0M582.6 100.9h0M602 80h0M565.3 104.2h0M579.2 95.6h0M571.3 77.8h0M574.3 79.5h0M552.4 82.2h0M591.2 93.5h0M556.4 88.5h0M592 110.9h0M594 89.9h0M566.6 87.4h0M592 100.5h0M580.4 84.2h0M570.6 70.7h0M604.4 90.8h0M589.6 59.3h0M572.3 99.8h0M581.3 76.4h0M605.9 64.6h0M558.4 97.1h0M568.5 104.5h0M588.8 74.4h0M590.8 70.1h0M572.7 66.8h0M590.1 114.7h0M586.2 78.8h0M576.3 92.7h0M589.4 78.9h0M596.3 101.9h0M571.3 79h0M592 85.6h0M588.6 87.4h0M575.8 71.3h0M602.2 78h0M605.8 79.7h0M601.1 78.7h0M583.1 59.4h0M602.1 66.8h0M576.2 62.7h0M615.1 80.2h0M566.7 95.1h0M565.8 105.7h0M578.5 88h0M606.5 96.1h0M598.7 64.1h0M582.9 97.3h0M610.5 78.6h0M577 130.9h0M587.3 115.6h0M583 115.9h0M607.3 141h0M577.3 138.7h0M588.7 126.7h0M613.7 129h0M598.1 137.8h0M589 126h0M582.5 103.3h0M589 130.1h0M598.2 125.8h0M586.6 144.8h0M583 152.9h0M590 131.2h0M617.6 29.8h0M625.2 44.6h0M646.5 76.7h0M571.1 148.8h0M621.4 121.4h0" stroke="#333" stroke-width="1.9" stroke-linecap="round" stroke-opacity="0.75" fill="none"/>
<path d="M589.1 75.7h0M591.9 91.5h0M623 83.5h0M616.7 68.2h0M598.7 83.1h0M595.6 85.9h0M554.6 99.9h0M585.2 72.2h0M574.9 92.1h0M604.1 57.6h0M587.3 78.5h0M585 61.3h0M604.2 53.6h0M594.1 77.3h0M594.3 58.1h0M582.9 79.6h0M584.4 101.5h0M594.3 76.1h0M592.8 59.3h0M557.9 71.9h0M598.5 97.4h0M587.8 64.5h0M590.6 95.1h0M601.2 70.9h0M584.2 80.8h0M584.7 87.6h0M606 72.3h0M603.9 83.9h0M601.7 54.5h0M578.1 79.3h0M596 71.1h0M601.8 68.8h0M587 87.9h0M572 65.6h0M592.8 66.8h0M588.7 94.8h0M574.9 48.9h0M578.4 64.9h0M593.2 93.8h0M585.6 80h0M599.9 52.2h0M587.9 90.2h0M594.2 81.9h0M586.8 90.2h0M608.9 89.3h0M578.5 92.4h0M576.9 80.2h0M588.1 85.4h0M577.2 85.6h0M604.6 92.9h0M594 56.9h0M589.5 99h0M624 35.5h0M595.3 80.7h0M563.9 82.1h0M573.4 55.4h0M579.7 98.8h0M613.1 73.1h0M583 88.1h0M587.5 92h0M580.4 49.3h0M581.2 93.3h0M609.7 78.8h0M568.1 102.1h0M562.4 78.5h0M603.6 41.3h0M594.8 72.9h0M588.2 75h0M570.6 87.7h0M598.6 51.5h0M583.6 82.9h0M607 64.7h0M565.6 82.7h0M602.4 73.7h0M598.7 75.5h0M600 112.9h0M555.3 132.7h0M608.6 154.2h0M590.2 138.3h0M587.8 126.8h0M589.3 109h0M588.8 139h0M597 130.7h0M567.1 140.2h0M593.5 132.9h0M616.2 120.7h0M594 111.7h0M563.3 129.7h0M567.4 118.1h0M574 130.8h0M583.7 42.4h0M652.8 56.1h0M635.2 96.2h0M581.1 153.4h0" stroke="#333" stroke-width="1.9" stroke-linecap="round" stroke-opacity="0.75" fill="none"/>
<path d="M580.2 113.8h0M602.1 73.4h0M576.2 58.6h0M614.4 66.6h0M600.6 88h0M598.5 72.8h0M598.3 59.7h0M575.3 73.2h0M565 94.4h0M586.6 75.6h0M597.4 96.1h0M586.3 91.6h0M582.7 69.4h0M594.6 76h0M615.5 93h0M595.3 67.5h0M561.4 74.9h0M577.7 116.2h0M567.1 83.4h0M574.1 62h0M568 75.6h0M597.3 70.6h0M574 87.5h0M588 75.5h0M602 84.8h0M567.9 110.1h0M572 80.3h0M576.3 72.6h0M583.1 86.2h0M555 87h0M616.9 63.9h0M606.2 97h0M564.5 114.8h0M584.6 109h0M585.5 65.6h0M577.9 75.7h0M579 74.3h0M619.5 50.3h0M626.6 70.3h0M580.5 95.2h0M582.7 65.7h0M575.2 88.7h0M596.3 94.3h0M584.1 78.8h0M589.2 61.7h0M591.1 70.5h0M554.4 87.5h0M604.7 96.7h0M615.5 83.6h0M625.7 78.6h0M598 66.4h0M574.4 65.8h0M575.9 64.4h0M604.5 73.8h0M574.7 81.8h0M583.1 90.9h0M584.9 64.6h0M555.7 103.8h0M576.5 74.5h0M560.4 85.6h0M592.1 68.4h0M602.6 87.1h0M586.5 71.5h0M591.9 58.4h0M575.3 65.7h0M587.5 95.9h0M585 71.7h0M566.1 98.5h0M608.4 72h0M607.7 59.2h0M593 71.7h0M606.6 36.8h0M586.7 82.2h0M583.3 63h0M592 84.8h0M572.5 136.4h0M588.6 131.7h0M574.3 138h0M608.6 138.1h0M604.6 123.5h0M587.2 124.5h0M574.1 125.1h0M586.9 115.2h0M571.9 137.8h0M604.4 134.3h0M597.3 126.1h0M577.6 125.1h0M586.5 129h0M584.1 132.7h0M596.9 123.6h0M606.3 41.2h0M674.2 58.4h0M548.5 137.4h0M586.2 151.1h0" stroke="#333" stroke-width="1.9" stroke-linecap="round" stroke-opacity="0.75" fill="none"/>
<line x1="546.9" y1="98.7" x2="674" y2="61.8" stroke="#3366ee" stroke-width="1.3"/>
<line x1="539.5" y1="158" x2="542" y2="158" stroke="#333" stroke-width="0.6"/>
<text x="538.5" y="160.5" font-size="7.4" text-anchor="end" stroke="#000" stroke-width="0.12">1</text>
<line x1="539.5" y1="135.1" x2="542" y2="135.1" stroke="#333" stroke-width="0.6"/>
<text x="538.5" y="137.6" font-size="7.4" text-anchor="end" stroke="#000" stroke-width="0.12">2</text>
<line x1="539.5" y1="112.2" x2="542" y2="112.2" stroke="#333" stroke-width="0.6"/>
<text x="538.5" y="114.7" font-size="7.4" text-anchor="end" stroke="#000" stroke-width="0.12">3</text>
<line x1="539.5" y1="89.3" x2="542" y2="89.3" stroke="#333" stroke-width="0.6"/>
<text x="538.5" y="91.8" font-size="7.4" text-anchor="end" stroke="#000" stroke-width="0.12">4</text>
<line x1="539.5" y1="66.4" x2="542" y2="66.4" stroke="#333" stroke-width="0.6"/>
<text x="538.5" y="68.9" font-size="7.4" text-anchor="end" stroke="#000" stroke-width="0.12">5</text>
<line x1="539.5" y1="43.5" x2="542" y2="43.5" stroke="#333" stroke-width="0.6"/>
<text x="538.5" y="46" font-size="7.4" text-anchor="end" stroke="#000" stroke-width="0.12">6</text>
<line x1="556" y1="159.3" x2="556" y2="161.8" stroke="#333" stroke-width="0.6"/>
<text x="556" y="167.3" font-size="7.4" text-anchor="middle" stroke="#000" stroke-width="0.12">1</text>
<line x1="581.1" y1="159.3" x2="581.1" y2="161.8" stroke="#333" stroke-width="0.6"/>
<text x="581.1" y="167.3" font-size="7.4" text-anchor="middle" stroke="#000" stroke-width="0.12">2</text>
<line x1="606.3" y1="159.3" x2="606.3" y2="161.8" stroke="#333" stroke-width="0.6"/>
<text x="606.3" y="167.3" font-size="7.4" text-anchor="middle" stroke="#000" stroke-width="0.12">3</text>
<line x1="631.5" y1="159.3" x2="631.5" y2="161.8" stroke="#333" stroke-width="0.6"/>
<text x="631.5" y="167.3" font-size="7.4" text-anchor="middle" stroke="#000" stroke-width="0.12">4</text>
<line x1="656.6" y1="159.3" x2="656.6" y2="161.8" stroke="#333" stroke-width="0.6"/>
<text x="656.6" y="167.3" font-size="7.4" text-anchor="middle" stroke="#000" stroke-width="0.12">5</text>
<text x="545.5" y="29" font-size="7.4" stroke="#000" stroke-width="0.12">R=0.294</text>
<text x="545.5" y="36.5" font-size="7.4" stroke="#000" stroke-width="0.12">P=7.92e-09</text>
<text x="606.7" y="174" font-size="7.4" text-anchor="middle" stroke="#000" stroke-width="0.12">PTBP2 Expression Level (log2 TPM)</text>
<text x="0" y="0" font-size="7.4" stroke="#000" stroke-width="0.12" text-anchor="middle" transform="translate(532.2 91) rotate(-90)">UBE2E2 Expression Level (log2 TPM)</text>
<text x="326.3" y="194.4" font-size="10.5" font-weight="bold">D</text>
<text x="435" y="204.6" font-size="7.4" text-anchor="middle" stroke="#000" stroke-width="0.12">Adjacent HCC tissue</text>
<path d="M365.8 242.2 L370.2 244.5 L374.6 246.8 L379 248.9 L383.4 251 L387.8 253.1 L392.1 255 L396.5 256.9 L400.9 258.7 L405.3 260.5 L409.7 262.2 L414.1 263.8 L418.5 265.4 L422.9 266.9 L427.3 268.3 L431.7 269.6 L436 270.9 L440.4 272.1 L444.8 273.1 L449.2 274 L453.6 274.8 L458 275.4 L462.4 275.9 L466.8 276.2 L471.2 276.4 L475.6 276.5 L479.9 276.4 L484.3 276.2 L488.7 275.8 L493.1 275.3 L497.5 274.7 L497.5 309.9 L493.1 306.8 L488.7 303.8 L484.3 301 L479.9 298.3 L475.6 295.7 L471.2 293.3 L466.8 291 L462.4 288.9 L458 286.8 L453.6 285 L449.2 283.3 L444.8 281.7 L440.4 280.2 L436 278.9 L431.7 277.7 L427.3 276.5 L422.9 275.5 L418.5 274.5 L414.1 273.5 L409.7 272.7 L405.3 271.9 L400.9 271.1 L396.5 270.5 L392.1 269.9 L387.8 269.4 L383.4 268.9 L379 268.5 L374.6 268.2 L370.2 268 L365.8 267.8Z" fill="#e6e6e6"/>
<g fill="#3a6aa6" fill-opacity="0.82">
<circle cx="406.5" cy="258" r="2.5"/>
<circle cx="429.3" cy="257.8" r="2.5"/>
<circle cx="427.2" cy="286.4" r="2.5"/>
<circle cx="419.5" cy="246" r="2.5"/>
<circle cx="416.7" cy="292.7" r="2.5"/>
<circle cx="412.9" cy="234.4" r="2.5"/>
<circle cx="424.2" cy="235.5" r="2.5"/>
<circle cx="442.3" cy="284.4" r="2.5"/>
<circle cx="409.6" cy="277.1" r="2.5"/>
<circle cx="447.3" cy="267.1" r="2.5"/>
<circle cx="437.4" cy="268.5" r="2.5"/>
<circle cx="418.4" cy="288.1" r="2.5"/>
<circle cx="436.5" cy="254.5" r="2.5"/>
<circle cx="403.6" cy="310.6" r="2.5"/>
<circle cx="399.8" cy="269.7" r="2.5"/>
<circle cx="406.2" cy="270.7" r="2.5"/>
<circle cx="419.1" cy="270.8" r="2.5"/>
<circle cx="420.3" cy="256.8" r="2.5"/>
<circle cx="417.5" cy="294.1" r="2.5"/>
<circle cx="426.5" cy="251.4" r="2.5"/>
<circle cx="393.9" cy="261.9" r="2.5"/>
<circle cx="432.3" cy="283.6" r="2.5"/>
<circle cx="404.3" cy="294.1" r="2.5"/>
<circle cx="415.4" cy="292.4" r="2.5"/>
<circle cx="419" cy="255.1" r="2.5"/>
<circle cx="408.2" cy="285.1" r="2.5"/>
<circle cx="405" cy="258.8" r="2.5"/>
<circle cx="410.4" cy="235.4" r="2.5"/>
<circle cx="424.9" cy="240" r="2.5"/>
<circle cx="433.7" cy="229.2" r="2.5"/>
<circle cx="433.3" cy="275.1" r="2.5"/>
<circle cx="410.5" cy="288.7" r="2.5"/>
<circle cx="413.5" cy="237.3" r="2.5"/>
<circle cx="411.6" cy="254.4" r="2.5"/>
<circle cx="431.6" cy="239.5" r="2.5"/>
<circle cx="395.3" cy="257.5" r="2.5"/>
<circle cx="443.1" cy="240.7" r="2.5"/>
<circle cx="418" cy="242.8" r="2.5"/>
<circle cx="413.6" cy="244.8" r="2.5"/>
<circle cx="430" cy="254.4" r="2.5"/>
<circle cx="440.1" cy="259.7" r="2.5"/>
<circle cx="430.1" cy="261.2" r="2.5"/>
<circle cx="440.4" cy="264.1" r="2.5"/>
<circle cx="427" cy="241.6" r="2.5"/>
<circle cx="443" cy="283" r="2.5"/>
<circle cx="443.2" cy="227.4" r="2.5"/>
<circle cx="423.6" cy="267.9" r="2.5"/>
<circle cx="446.1" cy="246.7" r="2.5"/>
<circle cx="427.5" cy="268.5" r="2.5"/>
<circle cx="426.3" cy="272.1" r="2.5"/>
<circle cx="411.6" cy="211.7" r="2.5"/>
<circle cx="420.8" cy="272.2" r="2.5"/>
<circle cx="436.4" cy="300.3" r="2.5"/>
<circle cx="405.9" cy="278.3" r="2.5"/>
<circle cx="434.5" cy="276" r="2.5"/>
<circle cx="430.1" cy="213.5" r="2.5"/>
<circle cx="429.1" cy="261.6" r="2.5"/>
<circle cx="392.8" cy="234" r="2.5"/>
<circle cx="423.5" cy="290.1" r="2.5"/>
<circle cx="434.5" cy="259.4" r="2.5"/>
<circle cx="413.9" cy="246" r="2.5"/>
<circle cx="426.4" cy="221.3" r="2.5"/>
<circle cx="390.3" cy="273.8" r="2.5"/>
<circle cx="434.9" cy="253.2" r="2.5"/>
<circle cx="415.4" cy="255.6" r="2.5"/>
<circle cx="437.8" cy="294.3" r="2.5"/>
<circle cx="398.1" cy="259" r="2.5"/>
<circle cx="435.2" cy="274.8" r="2.5"/>
<circle cx="421.6" cy="322.4" r="2.5"/>
<circle cx="436.8" cy="253.9" r="2.5"/>
<circle cx="411.5" cy="248.7" r="2.5"/>
<circle cx="416" cy="274.1" r="2.5"/>
<circle cx="457.8" cy="307.4" r="2.5"/>
<circle cx="412.9" cy="225.7" r="2.5"/>
<circle cx="414.7" cy="256.3" r="2.5"/>
<circle cx="421" cy="239.3" r="2.5"/>
<circle cx="410.1" cy="226.7" r="2.5"/>
<circle cx="442.4" cy="283.1" r="2.5"/>
<circle cx="450.2" cy="252.1" r="2.5"/>
<circle cx="414.8" cy="268.9" r="2.5"/>
<circle cx="399.8" cy="260.5" r="2.5"/>
<circle cx="442.2" cy="272.2" r="2.5"/>
<circle cx="441.2" cy="269.9" r="2.5"/>
<circle cx="437" cy="241.1" r="2.5"/>
<circle cx="441.9" cy="267" r="2.5"/>
<circle cx="412.4" cy="266.1" r="2.5"/>
<circle cx="422.6" cy="271.8" r="2.5"/>
<circle cx="404.8" cy="251.8" r="2.5"/>
<circle cx="404.3" cy="282.4" r="2.5"/>
<circle cx="439.4" cy="281.9" r="2.5"/>
<circle cx="415.2" cy="264.3" r="2.5"/>
<circle cx="458.3" cy="288.4" r="2.5"/>
<circle cx="426.1" cy="268.8" r="2.5"/>
<circle cx="415.7" cy="278.3" r="2.5"/>
<circle cx="436.7" cy="219" r="2.5"/>
<circle cx="451.4" cy="239.6" r="2.5"/>
<circle cx="432.1" cy="256.3" r="2.5"/>
<circle cx="407.3" cy="262.3" r="2.5"/>
<circle cx="430.5" cy="212.7" r="2.5"/>
<circle cx="445.1" cy="262.9" r="2.5"/>
<circle cx="417.8" cy="265.9" r="2.5"/>
<circle cx="413.7" cy="255.1" r="2.5"/>
<circle cx="439.9" cy="261.9" r="2.5"/>
<circle cx="427.1" cy="231.2" r="2.5"/>
<circle cx="408.9" cy="261.9" r="2.5"/>
<circle cx="419.5" cy="212.1" r="2.5"/>
<circle cx="414" cy="284.6" r="2.5"/>
<circle cx="429.4" cy="249.5" r="2.5"/>
<circle cx="426.6" cy="290.9" r="2.5"/>
<circle cx="441.8" cy="225" r="2.5"/>
<circle cx="435.4" cy="276.5" r="2.5"/>
<circle cx="402.2" cy="261.1" r="2.5"/>
<circle cx="431" cy="244.3" r="2.5"/>
<circle cx="438.1" cy="237.9" r="2.5"/>
<circle cx="431.7" cy="294.9" r="2.5"/>
<circle cx="440.1" cy="278.2" r="2.5"/>
<circle cx="417" cy="298.1" r="2.5"/>
<circle cx="411.2" cy="258.6" r="2.5"/>
<circle cx="438.6" cy="271.7" r="2.5"/>
<circle cx="409.5" cy="270.2" r="2.5"/>
<circle cx="393.5" cy="274.3" r="2.5"/>
<circle cx="440" cy="279.1" r="2.5"/>
<circle cx="414.5" cy="281.3" r="2.5"/>
<circle cx="420.6" cy="251.3" r="2.5"/>
<circle cx="404.6" cy="222.7" r="2.5"/>
<circle cx="405.7" cy="308.4" r="2.5"/>
<circle cx="408.2" cy="264.1" r="2.5"/>
<circle cx="419.8" cy="274.6" r="2.5"/>
<circle cx="430.5" cy="254.8" r="2.5"/>
<circle cx="391.5" cy="280.4" r="2.5"/>
<circle cx="436" cy="272.1" r="2.5"/>
<circle cx="407.8" cy="286.9" r="2.5"/>
<circle cx="409.5" cy="244.2" r="2.5"/>
<circle cx="434.9" cy="265.8" r="2.5"/>
<circle cx="424" cy="269.3" r="2.5"/>
<circle cx="402.6" cy="250.5" r="2.5"/>
<circle cx="452" cy="278.8" r="2.5"/>
<circle cx="412.5" cy="300.8" r="2.5"/>
<circle cx="428.7" cy="251.8" r="2.5"/>
<circle cx="428" cy="259.2" r="2.5"/>
<circle cx="445.7" cy="274.9" r="2.5"/>
<circle cx="418.4" cy="239.4" r="2.5"/>
<circle cx="439.8" cy="239.3" r="2.5"/>
<circle cx="414.2" cy="289.9" r="2.5"/>
<circle cx="441.4" cy="289.3" r="2.5"/>
<circle cx="413.9" cy="224.3" r="2.5"/>
<circle cx="419.8" cy="229" r="2.5"/>
<circle cx="452.7" cy="291.2" r="2.5"/>
<circle cx="429.7" cy="296.1" r="2.5"/>
<circle cx="389.8" cy="329.3" r="2.5"/>
<circle cx="493.2" cy="239.7" r="2.5"/>
<circle cx="472.5" cy="361.3" r="2.5"/>
<circle cx="454.3" cy="348.5" r="2.5"/>
<circle cx="457.9" cy="354.9" r="2.5"/>
<circle cx="429.9" cy="342.1" r="2.5"/>
<circle cx="365.4" cy="262.1" r="2.5"/>
<circle cx="384.9" cy="279.7" r="2.5"/>
<circle cx="426.3" cy="212.5" r="2.5"/>
<circle cx="461.6" cy="222.1" r="2.5"/>
</g>
<line x1="365.8" y1="255" x2="497.5" y2="292.3" stroke="#1f4e8a" stroke-width="1.0"/>
<line x1="362" y1="207" x2="362" y2="364.6" stroke="#222" stroke-width="1.1"/>
<line x1="362" y1="364.6" x2="501.7" y2="364.6" stroke="#222" stroke-width="1.1"/>
<line x1="359.5" y1="209.3" x2="362" y2="209.3" stroke="#000" stroke-width="0.7"/>
<text x="358.5" y="211.7" font-size="7.4" text-anchor="end" stroke="#000" stroke-width="0.12">0.25</text>
<line x1="359.5" y1="249.3" x2="362" y2="249.3" stroke="#000" stroke-width="0.7"/>
<text x="358.5" y="251.7" font-size="7.4" text-anchor="end" stroke="#000" stroke-width="0.12">0.00</text>
<line x1="359.5" y1="289.3" x2="362" y2="289.3" stroke="#000" stroke-width="0.7"/>
<text x="358.5" y="291.7" font-size="7.4" text-anchor="end" stroke="#000" stroke-width="0.12">−0.25</text>
<line x1="359.5" y1="329.3" x2="362" y2="329.3" stroke="#000" stroke-width="0.7"/>
<text x="358.5" y="331.7" font-size="7.4" text-anchor="end" stroke="#000" stroke-width="0.12">−0.50</text>
<line x1="363" y1="364.6" x2="363" y2="367" stroke="#000" stroke-width="0.7"/>
<text x="363" y="373.5" font-size="7.4" text-anchor="middle" stroke="#000" stroke-width="0.12">−0.6</text>
<line x1="399.5" y1="364.6" x2="399.5" y2="367" stroke="#000" stroke-width="0.7"/>
<text x="399.5" y="373.5" font-size="7.4" text-anchor="middle" stroke="#000" stroke-width="0.12">−0.3</text>
<line x1="436" y1="364.6" x2="436" y2="367" stroke="#000" stroke-width="0.7"/>
<text x="436" y="373.5" font-size="7.4" text-anchor="middle" stroke="#000" stroke-width="0.12">0.0</text>
<line x1="472.5" y1="364.6" x2="472.5" y2="367" stroke="#000" stroke-width="0.7"/>
<text x="472.5" y="373.5" font-size="7.4" text-anchor="middle" stroke="#000" stroke-width="0.12">0.3</text>
<text x="433.7" y="383.6" font-size="7.4" text-anchor="middle" stroke="#000" stroke-width="0.12">UBE2E2 Protein Expression</text>
<text x="0" y="0" font-size="7.4" stroke="#000" stroke-width="0.12" text-anchor="middle" transform="translate(339.5 273) rotate(-90)">PTBP2 Protein Expression</text>
<text x="471" y="349.5" font-size="7.4" stroke="#000" stroke-width="0.12">R=-0.214</text>
<text x="471" y="356.5" font-size="7.4" stroke="#000" stroke-width="0.12">P =0.006</text>
<text x="509.5" y="195" font-size="10.5" font-weight="bold">E</text>
<text x="618" y="204.3" font-size="7.4" text-anchor="middle" stroke="#000" stroke-width="0.12">HCC tissue</text>
<path d="M541.9 291.5 L546.4 291.9 L551 292.2 L555.5 292.5 L560 292.7 L564.6 292.8 L569.1 292.9 L573.7 292.9 L578.2 292.8 L582.7 292.6 L587.3 292.4 L591.8 292.2 L596.3 291.8 L600.9 291.4 L605.4 290.9 L610 290.4 L614.5 289.8 L619 289.1 L623.6 288.4 L628.1 287.6 L632.6 286.6 L637.2 285.6 L641.7 284.5 L646.2 283.3 L650.8 282.1 L655.3 280.7 L659.9 279.2 L664.4 277.7 L668.9 276 L673.5 274.3 L678 272.5 L678 292.7 L673.5 292.3 L668.9 292 L664.4 291.8 L659.9 291.7 L655.3 291.7 L650.8 291.7 L646.2 291.8 L641.7 292.1 L637.2 292.4 L632.6 292.8 L628.1 293.3 L623.6 293.9 L619 294.6 L614.5 295.4 L610 296.2 L605.4 297.1 L600.9 298 L596.3 299.1 L591.8 300.1 L587.3 301.3 L582.7 302.5 L578.2 303.8 L573.7 305.2 L569.1 306.6 L564.6 308.1 L560 309.6 L555.5 311.2 L551 312.9 L546.4 314.7 L541.9 316.5Z" fill="#e6e6e6"/>
<g fill="#3a6aa6" fill-opacity="0.82">
<circle cx="609.8" cy="239.6" r="2.5"/>
<circle cx="612.3" cy="302.6" r="2.5"/>
<circle cx="593" cy="292.5" r="2.5"/>
<circle cx="621.7" cy="295.8" r="2.5"/>
<circle cx="598.4" cy="286" r="2.5"/>
<circle cx="599.6" cy="279.7" r="2.5"/>
<circle cx="637.4" cy="261.5" r="2.5"/>
<circle cx="609" cy="312.9" r="2.5"/>
<circle cx="619.8" cy="257.7" r="2.5"/>
<circle cx="632.3" cy="308.9" r="2.5"/>
<circle cx="635.6" cy="283" r="2.5"/>
<circle cx="615.1" cy="267" r="2.5"/>
<circle cx="621.9" cy="275.5" r="2.5"/>
<circle cx="606.4" cy="312.2" r="2.5"/>
<circle cx="652.2" cy="301.6" r="2.5"/>
<circle cx="632.7" cy="298.9" r="2.5"/>
<circle cx="601.5" cy="294.1" r="2.5"/>
<circle cx="621.2" cy="266.5" r="2.5"/>
<circle cx="633.8" cy="316.3" r="2.5"/>
<circle cx="629.6" cy="279.7" r="2.5"/>
<circle cx="653.6" cy="273.8" r="2.5"/>
<circle cx="645.5" cy="275.9" r="2.5"/>
<circle cx="611.5" cy="282" r="2.5"/>
<circle cx="619.5" cy="258.8" r="2.5"/>
<circle cx="598.3" cy="283.1" r="2.5"/>
<circle cx="625.6" cy="272" r="2.5"/>
<circle cx="623.8" cy="278.4" r="2.5"/>
<circle cx="669.2" cy="247" r="2.5"/>
<circle cx="622.9" cy="330.4" r="2.5"/>
<circle cx="583.9" cy="268.2" r="2.5"/>
<circle cx="609.2" cy="297.6" r="2.5"/>
<circle cx="623.1" cy="296.3" r="2.5"/>
<circle cx="598.8" cy="313.8" r="2.5"/>
<circle cx="605.7" cy="331.9" r="2.5"/>
<circle cx="614.6" cy="299.5" r="2.5"/>
<circle cx="627.2" cy="304.4" r="2.5"/>
<circle cx="618.2" cy="280.6" r="2.5"/>
<circle cx="605.3" cy="323.6" r="2.5"/>
<circle cx="635.1" cy="258.8" r="2.5"/>
<circle cx="611.5" cy="286.1" r="2.5"/>
<circle cx="612.2" cy="296.9" r="2.5"/>
<circle cx="596.6" cy="308.6" r="2.5"/>
<circle cx="607.1" cy="308.9" r="2.5"/>
<circle cx="632.7" cy="313" r="2.5"/>
<circle cx="592.4" cy="305.6" r="2.5"/>
<circle cx="619.9" cy="290.7" r="2.5"/>
<circle cx="633.9" cy="292.8" r="2.5"/>
<circle cx="614.4" cy="321.2" r="2.5"/>
<circle cx="625.4" cy="295.7" r="2.5"/>
<circle cx="601.3" cy="311.9" r="2.5"/>
<circle cx="644.4" cy="284.4" r="2.5"/>
<circle cx="640.7" cy="248.9" r="2.5"/>
<circle cx="625.3" cy="276.9" r="2.5"/>
<circle cx="589.9" cy="301.1" r="2.5"/>
<circle cx="602.5" cy="327.1" r="2.5"/>
<circle cx="638.5" cy="318.3" r="2.5"/>
<circle cx="651.6" cy="322.4" r="2.5"/>
<circle cx="626.4" cy="274.7" r="2.5"/>
<circle cx="643.3" cy="304" r="2.5"/>
<circle cx="610.3" cy="290.6" r="2.5"/>
<circle cx="617.8" cy="304.1" r="2.5"/>
<circle cx="621.1" cy="288.7" r="2.5"/>
<circle cx="628.6" cy="260.2" r="2.5"/>
<circle cx="593.9" cy="308.4" r="2.5"/>
<circle cx="637.8" cy="295.8" r="2.5"/>
<circle cx="644.6" cy="304.7" r="2.5"/>
<circle cx="600.7" cy="274.7" r="2.5"/>
<circle cx="597" cy="315.2" r="2.5"/>
<circle cx="627.4" cy="313.7" r="2.5"/>
<circle cx="609.5" cy="321.3" r="2.5"/>
<circle cx="579" cy="325.5" r="2.5"/>
<circle cx="635.5" cy="278.9" r="2.5"/>
<circle cx="623.9" cy="236.2" r="2.5"/>
<circle cx="612.6" cy="312.6" r="2.5"/>
<circle cx="658.7" cy="266" r="2.5"/>
<circle cx="623.6" cy="285" r="2.5"/>
<circle cx="607.7" cy="315.5" r="2.5"/>
<circle cx="622.9" cy="296.2" r="2.5"/>
<circle cx="602.6" cy="297.8" r="2.5"/>
<circle cx="607.6" cy="306.8" r="2.5"/>
<circle cx="628" cy="249.1" r="2.5"/>
<circle cx="611.3" cy="332" r="2.5"/>
<circle cx="613.1" cy="283.6" r="2.5"/>
<circle cx="650.8" cy="280" r="2.5"/>
<circle cx="636.4" cy="301" r="2.5"/>
<circle cx="635.4" cy="285.7" r="2.5"/>
<circle cx="630.5" cy="271" r="2.5"/>
<circle cx="629.7" cy="286.3" r="2.5"/>
<circle cx="647" cy="278.7" r="2.5"/>
<circle cx="620.8" cy="276.1" r="2.5"/>
<circle cx="654.1" cy="329.4" r="2.5"/>
<circle cx="604.2" cy="261.6" r="2.5"/>
<circle cx="616.6" cy="243.2" r="2.5"/>
<circle cx="596.6" cy="273" r="2.5"/>
<circle cx="615" cy="270" r="2.5"/>
<circle cx="630.3" cy="319.1" r="2.5"/>
<circle cx="646.9" cy="289.9" r="2.5"/>
<circle cx="609.3" cy="309.2" r="2.5"/>
<circle cx="621.2" cy="303" r="2.5"/>
<circle cx="614.7" cy="271" r="2.5"/>
<circle cx="608" cy="309.2" r="2.5"/>
<circle cx="600" cy="296" r="2.5"/>
<circle cx="622.2" cy="330.7" r="2.5"/>
<circle cx="590.3" cy="297.7" r="2.5"/>
<circle cx="623.1" cy="288.5" r="2.5"/>
<circle cx="621.5" cy="305.4" r="2.5"/>
<circle cx="609.4" cy="307.2" r="2.5"/>
<circle cx="603.1" cy="253.1" r="2.5"/>
<circle cx="596.5" cy="319.1" r="2.5"/>
<circle cx="654.4" cy="308.7" r="2.5"/>
<circle cx="597.3" cy="310.6" r="2.5"/>
<circle cx="648.8" cy="262" r="2.5"/>
<circle cx="631.8" cy="245.1" r="2.5"/>
<circle cx="614.6" cy="284.4" r="2.5"/>
<circle cx="600.5" cy="308.3" r="2.5"/>
<circle cx="639.7" cy="297.4" r="2.5"/>
<circle cx="651.9" cy="264.4" r="2.5"/>
<circle cx="604.5" cy="311.9" r="2.5"/>
<circle cx="615.8" cy="260.7" r="2.5"/>
<circle cx="639.8" cy="258.5" r="2.5"/>
<circle cx="627.1" cy="288.4" r="2.5"/>
<circle cx="656.7" cy="272.6" r="2.5"/>
<circle cx="611" cy="276.1" r="2.5"/>
<circle cx="630.8" cy="256.7" r="2.5"/>
<circle cx="598.9" cy="315.5" r="2.5"/>
<circle cx="658.4" cy="261.2" r="2.5"/>
<circle cx="608.1" cy="300.1" r="2.5"/>
<circle cx="581.9" cy="311.6" r="2.5"/>
<circle cx="618.9" cy="288.7" r="2.5"/>
<circle cx="618.6" cy="295.4" r="2.5"/>
<circle cx="655.2" cy="307.2" r="2.5"/>
<circle cx="615.1" cy="325" r="2.5"/>
<circle cx="620.9" cy="310.5" r="2.5"/>
<circle cx="631.7" cy="258.7" r="2.5"/>
<circle cx="649.3" cy="245.8" r="2.5"/>
<circle cx="620" cy="277.1" r="2.5"/>
<circle cx="639.6" cy="263.4" r="2.5"/>
<circle cx="630.3" cy="300.4" r="2.5"/>
<circle cx="615.9" cy="292.9" r="2.5"/>
<circle cx="622.5" cy="284.5" r="2.5"/>
<circle cx="621.6" cy="313.3" r="2.5"/>
<circle cx="604.8" cy="313.5" r="2.5"/>
<circle cx="642.7" cy="285.9" r="2.5"/>
<circle cx="596.5" cy="300.4" r="2.5"/>
<circle cx="641.9" cy="310.5" r="2.5"/>
<circle cx="638.1" cy="280.4" r="2.5"/>
<circle cx="619.5" cy="296.4" r="2.5"/>
<circle cx="607.5" cy="270.8" r="2.5"/>
<circle cx="617.1" cy="291.2" r="2.5"/>
<circle cx="629.5" cy="295.9" r="2.5"/>
<circle cx="634.3" cy="286.3" r="2.5"/>
<circle cx="626.2" cy="293.6" r="2.5"/>
<circle cx="638.8" cy="302.5" r="2.5"/>
<circle cx="611.2" cy="300.3" r="2.5"/>
<circle cx="625.3" cy="274.3" r="2.5"/>
<circle cx="593.2" cy="280.4" r="2.5"/>
<circle cx="634.7" cy="261.9" r="2.5"/>
<circle cx="623.8" cy="325.9" r="2.5"/>
<circle cx="613.7" cy="299.8" r="2.5"/>
<circle cx="641.8" cy="296.8" r="2.5"/>
<circle cx="633.4" cy="285.5" r="2.5"/>
<circle cx="571" cy="306.3" r="2.5"/>
<circle cx="621.8" cy="301.3" r="2.5"/>
<circle cx="595.2" cy="277.3" r="2.5"/>
<circle cx="640.1" cy="284.5" r="2.5"/>
<circle cx="596.4" cy="210.4" r="2.5"/>
<circle cx="627.5" cy="218.2" r="2.5"/>
<circle cx="672.6" cy="244.8" r="2.5"/>
<circle cx="542.4" cy="286.9" r="2.5"/>
<circle cx="543.6" cy="300.9" r="2.5"/>
<circle cx="567.8" cy="297" r="2.5"/>
<circle cx="565.9" cy="307.2" r="2.5"/>
<circle cx="617.9" cy="360.2" r="2.5"/>
<circle cx="678.3" cy="287.7" r="2.5"/>
<circle cx="672.6" cy="267.4" r="2.5"/>
<circle cx="661.1" cy="331.3" r="2.5"/>
<circle cx="659.2" cy="298.6" r="2.5"/>
<circle cx="645.2" cy="251" r="2.5"/>
</g>
<line x1="541.9" y1="304" x2="678" y2="282.6" stroke="#1f4e8a" stroke-width="1.0"/>
<line x1="537.3" y1="205.7" x2="537.3" y2="365.8" stroke="#222" stroke-width="1.1"/>
<line x1="537.3" y1="365.8" x2="682" y2="365.8" stroke="#222" stroke-width="1.1"/>
<line x1="534.8" y1="212" x2="537.3" y2="212" stroke="#000" stroke-width="0.7"/>
<text x="534" y="214.4" font-size="7.4" text-anchor="end" stroke="#000" stroke-width="0.12">1.0</text>
<line x1="534.8" y1="251" x2="537.3" y2="251" stroke="#000" stroke-width="0.7"/>
<text x="534" y="253.4" font-size="7.4" text-anchor="end" stroke="#000" stroke-width="0.12">0.5</text>
<line x1="534.8" y1="290" x2="537.3" y2="290" stroke="#000" stroke-width="0.7"/>
<text x="534" y="292.4" font-size="7.4" text-anchor="end" stroke="#000" stroke-width="0.12">0.0</text>
<line x1="534.8" y1="329" x2="537.3" y2="329" stroke="#000" stroke-width="0.7"/>
<text x="534" y="331.4" font-size="7.4" text-anchor="end" stroke="#000" stroke-width="0.12">−0.5</text>
<line x1="550" y1="365.8" x2="550" y2="368.3" stroke="#000" stroke-width="0.7"/>
<text x="550" y="374.5" font-size="7.4" text-anchor="middle" stroke="#000" stroke-width="0.12">−1.0</text>
<line x1="581.8" y1="365.8" x2="581.8" y2="368.3" stroke="#000" stroke-width="0.7"/>
<text x="581.8" y="374.5" font-size="7.4" text-anchor="middle" stroke="#000" stroke-width="0.12">−0.5</text>
<line x1="613.5" y1="365.8" x2="613.5" y2="368.3" stroke="#000" stroke-width="0.7"/>
<text x="613.5" y="374.5" font-size="7.4" text-anchor="middle" stroke="#000" stroke-width="0.12">0.0</text>
<line x1="645.2" y1="365.8" x2="645.2" y2="368.3" stroke="#000" stroke-width="0.7"/>
<text x="645.2" y="374.5" font-size="7.4" text-anchor="middle" stroke="#000" stroke-width="0.12">0.5</text>
<line x1="677" y1="365.8" x2="677" y2="368.3" stroke="#000" stroke-width="0.7"/>
<text x="677" y="374.5" font-size="7.4" text-anchor="middle" stroke="#000" stroke-width="0.12">1.0</text>
<text x="618" y="383.6" font-size="7.4" text-anchor="middle" stroke="#000" stroke-width="0.12">UBE2E2 Protein Expression</text>
<text x="0" y="0" font-size="7.4" stroke="#000" stroke-width="0.12" text-anchor="middle" transform="translate(519 275) rotate(-90)">PTBP2 Protein Expression</text>
<text x="681.5" y="346.5" font-size="7.4" text-anchor="end" stroke="#000" stroke-width="0.12">R=0.207</text>
<text x="681.5" y="355.5" font-size="7.4" text-anchor="end" stroke="#000" stroke-width="0.12">P=0.008</text>
<text x="11" y="397.3" font-size="10.5" font-weight="bold">F</text>
<rect x="35.4" y="402.4" width="641.2" height="182.2" fill="#fff" stroke="none" stroke-width="0.8"/>
<line x1="41.7" y1="402.4" x2="41.7" y2="584.6" stroke="#ebebeb" stroke-width="0.9"/>
<line x1="52.2" y1="402.4" x2="52.2" y2="584.6" stroke="#ebebeb" stroke-width="0.9"/>
<line x1="62.6" y1="402.4" x2="62.6" y2="584.6" stroke="#ebebeb" stroke-width="0.9"/>
<line x1="73.1" y1="402.4" x2="73.1" y2="584.6" stroke="#ebebeb" stroke-width="0.9"/>
<line x1="83.6" y1="402.4" x2="83.6" y2="584.6" stroke="#ebebeb" stroke-width="0.9"/>
<line x1="94.1" y1="402.4" x2="94.1" y2="584.6" stroke="#ebebeb" stroke-width="0.9"/>
<line x1="104.5" y1="402.4" x2="104.5" y2="584.6" stroke="#ebebeb" stroke-width="0.9"/>
<line x1="115" y1="402.4" x2="115" y2="584.6" stroke="#ebebeb" stroke-width="0.9"/>
<line x1="125.5" y1="402.4" x2="125.5" y2="584.6" stroke="#ebebeb" stroke-width="0.9"/>
<line x1="135.9" y1="402.4" x2="135.9" y2="584.6" stroke="#ebebeb" stroke-width="0.9"/>
<line x1="146.4" y1="402.4" x2="146.4" y2="584.6" stroke="#ebebeb" stroke-width="0.9"/>
<line x1="156.9" y1="402.4" x2="156.9" y2="584.6" stroke="#ebebeb" stroke-width="0.9"/>
<line x1="167.3" y1="402.4" x2="167.3" y2="584.6" stroke="#ebebeb" stroke-width="0.9"/>
<line x1="177.8" y1="402.4" x2="177.8" y2="584.6" stroke="#ebebeb" stroke-width="0.9"/>
<line x1="188.3" y1="402.4" x2="188.3" y2="584.6" stroke="#ebebeb" stroke-width="0.9"/>
<line x1="198.8" y1="402.4" x2="198.8" y2="584.6" stroke="#ebebeb" stroke-width="0.9"/>
<line x1="209.2" y1="402.4" x2="209.2" y2="584.6" stroke="#ebebeb" stroke-width="0.9"/>
<line x1="219.7" y1="402.4" x2="219.7" y2="584.6" stroke="#ebebeb" stroke-width="0.9"/>
<line x1="230.2" y1="402.4" x2="230.2" y2="584.6" stroke="#ebebeb" stroke-width="0.9"/>
<line x1="240.6" y1="402.4" x2="240.6" y2="584.6" stroke="#ebebeb" stroke-width="0.9"/>
<line x1="251.1" y1="402.4" x2="251.1" y2="584.6" stroke="#ebebeb" stroke-width="0.9"/>
<line x1="261.6" y1="402.4" x2="261.6" y2="584.6" stroke="#ebebeb" stroke-width="0.9"/>
<line x1="272" y1="402.4" x2="272" y2="584.6" stroke="#ebebeb" stroke-width="0.9"/>
<line x1="282.5" y1="402.4" x2="282.5" y2="584.6" stroke="#ebebeb" stroke-width="0.9"/>
<line x1="293" y1="402.4" x2="293" y2="584.6" stroke="#ebebeb" stroke-width="0.9"/>
<line x1="303.4" y1="402.4" x2="303.4" y2="584.6" stroke="#ebebeb" stroke-width="0.9"/>
<line x1="313.9" y1="402.4" x2="313.9" y2="584.6" stroke="#ebebeb" stroke-width="0.9"/>
<line x1="324.4" y1="402.4" x2="324.4" y2="584.6" stroke="#ebebeb" stroke-width="0.9"/>
<line x1="334.9" y1="402.4" x2="334.9" y2="584.6" stroke="#ebebeb" stroke-width="0.9"/>
<line x1="345.3" y1="402.4" x2="345.3" y2="584.6" stroke="#ebebeb" stroke-width="0.9"/>
<line x1="355.8" y1="402.4" x2="355.8" y2="584.6" stroke="#ebebeb" stroke-width="0.9"/>
<line x1="366.3" y1="402.4" x2="366.3" y2="584.6" stroke="#ebebeb" stroke-width="0.9"/>
<line x1="376.7" y1="402.4" x2="376.7" y2="584.6" stroke="#ebebeb" stroke-width="0.9"/>
<line x1="387.2" y1="402.4" x2="387.2" y2="584.6" stroke="#ebebeb" stroke-width="0.9"/>
<line x1="397.7" y1="402.4" x2="397.7" y2="584.6" stroke="#ebebeb" stroke-width="0.9"/>
<line x1="408.2" y1="402.4" x2="408.2" y2="584.6" stroke="#ebebeb" stroke-width="0.9"/>
<line x1="418.6" y1="402.4" x2="418.6" y2="584.6" stroke="#ebebeb" stroke-width="0.9"/>
<line x1="429.1" y1="402.4" x2="429.1" y2="584.6" stroke="#ebebeb" stroke-width="0.9"/>
<line x1="439.6" y1="402.4" x2="439.6" y2="584.6" stroke="#ebebeb" stroke-width="0.9"/>
<line x1="450" y1="402.4" x2="450" y2="584.6" stroke="#ebebeb" stroke-width="0.9"/>
<line x1="460.5" y1="402.4" x2="460.5" y2="584.6" stroke="#ebebeb" stroke-width="0.9"/>
<line x1="471" y1="402.4" x2="471" y2="584.6" stroke="#ebebeb" stroke-width="0.9"/>
<line x1="481.4" y1="402.4" x2="481.4" y2="584.6" stroke="#ebebeb" stroke-width="0.9"/>
<line x1="491.9" y1="402.4" x2="491.9" y2="584.6" stroke="#ebebeb" stroke-width="0.9"/>
<line x1="502.4" y1="402.4" x2="502.4" y2="584.6" stroke="#ebebeb" stroke-width="0.9"/>
<line x1="512.9" y1="402.4" x2="512.9" y2="584.6" stroke="#ebebeb" stroke-width="0.9"/>
<line x1="523.3" y1="402.4" x2="523.3" y2="584.6" stroke="#ebebeb" stroke-width="0.9"/>
<line x1="533.8" y1="402.4" x2="533.8" y2="584.6" stroke="#ebebeb" stroke-width="0.9"/>
<line x1="544.3" y1="402.4" x2="544.3" y2="584.6" stroke="#ebebeb" stroke-width="0.9"/>
<line x1="554.7" y1="402.4" x2="554.7" y2="584.6" stroke="#ebebeb" stroke-width="0.9"/>
<line x1="565.2" y1="402.4" x2="565.2" y2="584.6" stroke="#ebebeb" stroke-width="0.9"/>
<line x1="575.7" y1="402.4" x2="575.7" y2="584.6" stroke="#ebebeb" stroke-width="0.9"/>
<line x1="586.1" y1="402.4" x2="586.1" y2="584.6" stroke="#ebebeb" stroke-width="0.9"/>
<line x1="596.6" y1="402.4" x2="596.6" y2="584.6" stroke="#ebebeb" stroke-width="0.9"/>
<line x1="607.1" y1="402.4" x2="607.1" y2="584.6" stroke="#ebebeb" stroke-width="0.9"/>
<line x1="617.6" y1="402.4" x2="617.6" y2="584.6" stroke="#ebebeb" stroke-width="0.9"/>
<line x1="628" y1="402.4" x2="628" y2="584.6" stroke="#ebebeb" stroke-width="0.9"/>
<line x1="638.5" y1="402.4" x2="638.5" y2="584.6" stroke="#ebebeb" stroke-width="0.9"/>
<line x1="649" y1="402.4" x2="649" y2="584.6" stroke="#ebebeb" stroke-width="0.9"/>
<line x1="659.4" y1="402.4" x2="659.4" y2="584.6" stroke="#ebebeb" stroke-width="0.9"/>
<line x1="669.9" y1="402.4" x2="669.9" y2="584.6" stroke="#ebebeb" stroke-width="0.9"/>
<line x1="35.4" y1="581.8" x2="676.6" y2="581.8" stroke="#ebebeb" stroke-width="0.9"/>
<line x1="35.4" y1="558.2" x2="676.6" y2="558.2" stroke="#ebebeb" stroke-width="0.6"/>
<line x1="35.4" y1="534.6" x2="676.6" y2="534.6" stroke="#ebebeb" stroke-width="0.9"/>
<line x1="35.4" y1="511" x2="676.6" y2="511" stroke="#ebebeb" stroke-width="0.6"/>
<line x1="35.4" y1="487.4" x2="676.6" y2="487.4" stroke="#ebebeb" stroke-width="0.9"/>
<line x1="35.4" y1="463.8" x2="676.6" y2="463.8" stroke="#ebebeb" stroke-width="0.6"/>
<line x1="35.4" y1="440.2" x2="676.6" y2="440.2" stroke="#ebebeb" stroke-width="0.9"/>
<line x1="35.4" y1="416.6" x2="676.6" y2="416.6" stroke="#ebebeb" stroke-width="0.6"/>
<rect x="47" y="402.4" width="20.1" height="182.2" fill="#d3d3d3" stroke="none" stroke-width="0.8"/>
<rect x="68" y="402.4" width="20.1" height="182.2" fill="#d3d3d3" stroke="none" stroke-width="0.8"/>
<rect x="130.8" y="402.4" width="20.1" height="182.2" fill="#d3d3d3" stroke="none" stroke-width="0.8"/>
<rect x="151.7" y="402.4" width="20.1" height="182.2" fill="#d3d3d3" stroke="none" stroke-width="0.8"/>
<rect x="172.7" y="402.4" width="20.1" height="182.2" fill="#d3d3d3" stroke="none" stroke-width="0.8"/>
<rect x="204.1" y="402.4" width="20.1" height="182.2" fill="#d3d3d3" stroke="none" stroke-width="0.8"/>
<rect x="225" y="402.4" width="20.1" height="182.2" fill="#d3d3d3" stroke="none" stroke-width="0.8"/>
<rect x="246" y="402.4" width="20.1" height="182.2" fill="#d3d3d3" stroke="none" stroke-width="0.8"/>
<rect x="266.9" y="402.4" width="20.1" height="182.2" fill="#d3d3d3" stroke="none" stroke-width="0.8"/>
<rect x="287.8" y="402.4" width="20.1" height="182.2" fill="#d3d3d3" stroke="none" stroke-width="0.8"/>
<rect x="308.8" y="402.4" width="20.1" height="182.2" fill="#d3d3d3" stroke="none" stroke-width="0.8"/>
<rect x="329.7" y="402.4" width="20.1" height="182.2" fill="#d3d3d3" stroke="none" stroke-width="0.8"/>
<rect x="371.6" y="402.4" width="20.1" height="182.2" fill="#d3d3d3" stroke="none" stroke-width="0.8"/>
<rect x="392.5" y="402.4" width="20.1" height="182.2" fill="#d3d3d3" stroke="none" stroke-width="0.8"/>
<rect x="413.5" y="402.4" width="20.1" height="182.2" fill="#d3d3d3" stroke="none" stroke-width="0.8"/>
<rect x="455.4" y="402.4" width="20.1" height="182.2" fill="#d3d3d3" stroke="none" stroke-width="0.8"/>
<rect x="476.3" y="402.4" width="20.1" height="182.2" fill="#d3d3d3" stroke="none" stroke-width="0.8"/>
<rect x="497.2" y="402.4" width="20.1" height="182.2" fill="#d3d3d3" stroke="none" stroke-width="0.8"/>
<rect x="518.2" y="402.4" width="20.1" height="182.2" fill="#d3d3d3" stroke="none" stroke-width="0.8"/>
<rect x="549.6" y="402.4" width="20.1" height="182.2" fill="#d3d3d3" stroke="none" stroke-width="0.8"/>
<rect x="570.5" y="402.4" width="20.1" height="182.2" fill="#d3d3d3" stroke="none" stroke-width="0.8"/>
<rect x="601.9" y="402.4" width="20.1" height="182.2" fill="#d3d3d3" stroke="none" stroke-width="0.8"/>
<rect x="633.4" y="402.4" width="20.1" height="182.2" fill="#d3d3d3" stroke="none" stroke-width="0.8"/>
<path d="M43.8 486.6h0M39.4 489.3h0M40.1 492h0M45.3 495.6h0M38.3 494h0M43.3 492.4h0M43.7 549h0M40.1 504.4h0M39.7 478.4h0M40.5 494.3h0M42 484.6h0M42.6 511.6h0M44.2 492.7h0M37.8 505.8h0M41.8 519.7h0M43.6 461.4h0M37.8 484.6h0M38.2 495.6h0M38.2 499.3h0M44.9 504.1h0M41.1 499.9h0M39.7 496.5h0M40.7 548.2h0M40.6 559.7h0M39.5 535.4h0M40.3 501.3h0M45.9 493h0" stroke="#ff0000" stroke-width="2.8" stroke-linecap="round" stroke-opacity="0.35" fill="none"/>
<path d="M44.5 492.3h0M42.8 504.6h0M37.7 485.7h0M37.6 508.5h0M45 521.7h0M43.4 508.8h0M41.4 476.9h0M37.5 473.8h0M39.8 502.6h0M38.4 523.2h0M38 468.2h0M39.8 514.4h0M41.7 513.8h0M39.4 470.4h0M38.9 528.6h0M42.6 475.5h0M40.9 507.4h0M42.9 515.1h0M44.9 522.5h0M42.6 517.4h0M43.1 494.1h0M44.8 457.1h0M43.8 522.1h0M45.1 522.7h0M44.9 527.7h0M44.9 489.1h0" stroke="#ff0000" stroke-width="2.8" stroke-linecap="round" stroke-opacity="0.35" fill="none"/>
<path d="M41.6 531.1h0M45.1 504.2h0M39.1 529.8h0M38 480.2h0M40.7 549.2h0M41.1 480.4h0M42.1 518.8h0M42.5 524.4h0M44.9 494.9h0M42.8 480.9h0M40.4 496.4h0M45.8 480.4h0M45.2 492.8h0M45.2 536.4h0M42.3 504.3h0M37.9 501.7h0M37.6 482.1h0M41.2 501.5h0M40.6 507.4h0M42.7 520.8h0M39.5 533.4h0M39.2 495.2h0M40.3 523h0M39.2 487.5h0M39.8 488.2h0M40.2 489.3h0" stroke="#ff0000" stroke-width="2.8" stroke-linecap="round" stroke-opacity="0.35" fill="none"/>
<path d="M54.2 530.9h0M50 543.4h0M55.8 510h0M52.6 517.9h0M53.6 486.3h0M53.6 530.3h0M54.9 556.7h0M54.8 512.2h0M52.7 458.5h0M53.2 568h0M53 514.8h0M49 550h0M52.3 497.9h0M52.6 543.6h0M56.2 517.7h0M53.2 473.5h0M49.7 491.9h0M54.6 503.8h0M49.9 482.3h0M50.5 491.2h0M51.6 500.4h0M52.3 538.3h0M48.9 499.4h0M52.3 556h0M52.2 484.3h0M56 520.9h0M55.9 496.9h0M49.4 487.8h0M50.7 488.6h0M53.2 556.2h0M55.7 485.2h0M52.8 558.8h0M52.2 509.1h0M54 540.2h0M51.2 543h0M51.7 575.8h0M51.4 531.7h0M56.3 441.3h0M49.5 524.5h0M48.8 571.8h0M56 554.6h0M50.1 427.1h0M56.2 510h0M55.7 543.5h0M53.5 471.5h0M53.5 509.1h0M51.7 492.6h0M53.9 559.4h0M54.3 528.4h0M50.1 520.4h0M53.5 513.6h0M52.9 573.6h0M53.6 460.5h0M56.1 476.5h0M53.8 540.5h0M52.7 498.8h0M54.8 449.6h0M49.2 505.9h0M55.3 540.1h0M53.8 548.2h0M50.7 522.5h0M54.4 470h0M48.5 493.9h0M50.6 508.2h0M48.7 431.7h0M53 525.4h0M49.8 510.6h0M55.3 514.5h0" stroke="#ff0000" stroke-width="2.8" stroke-linecap="round" stroke-opacity="0.3" fill="none"/>
<path d="M51.6 554.5h0M54.4 486.5h0M49.6 545.6h0M55.5 562.4h0M48.4 559.2h0M48.7 508.2h0M53.7 464.4h0M53.3 540.4h0M55.1 505h0M53.9 449.9h0M53.6 495.9h0M49.7 505.2h0M48.2 506h0M50.7 463.2h0M54.1 486.7h0M52.7 514.9h0M53.7 471.6h0M50.7 490.4h0M51.1 527.2h0M50.7 466.5h0M55.9 491.7h0M53.8 542.1h0M51.4 484.9h0M51.9 495.8h0M56 505h0M54 464.4h0M52.9 517.7h0M51.2 533.8h0M49.5 530.3h0M50.2 466.9h0M53.2 527.7h0M50.2 480.5h0M53.3 464.3h0M50.5 487.8h0M50.8 486h0M53.6 569.2h0M50.2 444.7h0M48.9 562.7h0M52.7 538.9h0M48.9 480h0M49.7 474.5h0M48.2 491.6h0M50 501.8h0M48.7 521.8h0M52.7 513.9h0M55.7 467.3h0M54.8 508.9h0M49.9 531.9h0M50.2 494.9h0M50.4 533.6h0M55.8 478.4h0M48.5 468.4h0M52.4 494.9h0M48.6 515.4h0M51 555.2h0M48.2 492.2h0M55.5 511.1h0M54.5 457h0M54.4 523.4h0M50.2 524.7h0M55.4 475.1h0M48.7 491.9h0M48.4 513.8h0M49.5 515.3h0M54.2 520.5h0M48.9 531.3h0M56.2 472.9h0M53.8 444.2h0" stroke="#ff0000" stroke-width="2.8" stroke-linecap="round" stroke-opacity="0.3" fill="none"/>
<path d="M54.6 476.8h0M54.9 525.1h0M55.9 479h0M53.6 496.3h0M50.1 517.4h0M50.1 517.5h0M51.9 486.2h0M50.8 493.1h0M50.6 484.7h0M53.8 538.1h0M54.1 530.8h0M55.8 471.3h0M52.8 505.4h0M54.5 493.8h0M53.6 554.2h0M54.6 498.8h0M49 564.2h0M50.5 508.9h0M54.5 519.5h0M54.2 474.1h0M48.4 471.4h0M53.5 527.4h0M49.6 506.8h0M53 531.2h0M49.8 464.3h0M48.2 480.9h0M49.8 532.7h0M48.8 525h0M54.2 468.5h0M52.1 461.7h0M50.9 561.4h0M54.3 498h0M50.6 492.9h0M52 472.6h0M50.8 458.7h0M51.5 510.4h0M49.2 531.1h0M50.9 511.7h0M48.6 531.9h0M53.9 526.1h0M48.5 453.5h0M53.5 509.2h0M50 456.7h0M55 541.2h0M50 485.3h0M49.9 531.5h0M56.4 516.2h0M50.1 501.2h0M53.5 439.4h0M48.7 489.7h0M54.8 546.8h0M48.4 503.5h0M55.8 509.5h0M53 476.2h0M52.5 534.6h0M54.8 496.7h0M53.1 472.4h0M50.5 476.5h0M48.5 540h0M53.8 509.1h0M54.5 499.3h0M50.3 476.4h0M52.8 449.7h0M55.5 536.5h0M54.2 549.3h0M54.6 492.9h0M55.9 507.8h0M51.6 457.2h0" stroke="#ff0000" stroke-width="2.8" stroke-linecap="round" stroke-opacity="0.3" fill="none"/>
<path d="M52.4 513.9h0M52.2 486.7h0M54.4 534.7h0M50.4 485.8h0M52.6 563.8h0M55.4 525.2h0M55.2 516.2h0M52.8 497.7h0M48.5 559.1h0M55.3 466.2h0M56.2 505.1h0M51.4 471.6h0M56 473.2h0M51.2 538.2h0M49 481h0M48.2 555h0M48.7 518.4h0M53 487h0M55.8 506.7h0M53.7 529.1h0M48.1 434.9h0M54.8 465h0M55.8 486.3h0M55.9 459.7h0M53.4 503.9h0M56.2 480h0M51.6 480.9h0M48.8 548h0M53.1 526.8h0M51.7 526h0M54.6 523.5h0M48.9 512.2h0M52.8 482.4h0M54.8 528.1h0M54.6 521.2h0M52.8 468.7h0M56.1 516.3h0M55.4 547h0M48.5 572.5h0M53.2 535.1h0M53.4 486.5h0M54.3 509.2h0M51 559.6h0M52.5 556.1h0M50.4 465.5h0M50.7 499.1h0M55.4 471h0M49.7 541h0M50.9 433.5h0M51 549h0M52.8 519.5h0M53.4 491.2h0M49.1 546.5h0M55.7 563.6h0M55.8 546.3h0M48.4 533.1h0M50.5 502.4h0M52.3 541.4h0M54.4 454.6h0M51.2 506.1h0M49.7 506.5h0M54.2 502.3h0M49.1 568.1h0M54.3 519.7h0M53.3 452.4h0M54.5 463.6h0M54.3 459.6h0M53.7 522.9h0" stroke="#ff0000" stroke-width="2.8" stroke-linecap="round" stroke-opacity="0.3" fill="none"/>
<path d="M54.9 509.9h0M55.8 512.3h0M55.9 510.3h0M50.4 561.6h0M49.6 443.3h0M48.3 530.7h0M49.7 526.1h0M48.7 559.3h0M48.7 490.7h0M53.7 560.8h0M49.5 560.9h0M52.7 472.3h0M53.7 515.4h0M50.8 527.2h0M54.8 516.4h0M48.8 495.9h0M52.4 467.3h0M56.2 529.9h0M49.3 531h0M54.2 497h0M48.1 474.5h0M52.4 477.6h0M54.4 451.3h0M50.3 531.4h0M48.7 503.5h0M52.5 510.7h0M54.3 500.1h0M49 483.1h0M54.9 540.8h0M52.9 485h0M49.3 549.8h0M48.3 519.2h0M56.2 522.7h0M55.4 516.6h0M56 566.4h0M49.5 499.1h0M53.8 506h0M56.1 501.7h0M55.2 523.9h0M49.8 454.1h0M48.9 545.4h0M50.6 509.3h0M50 497.1h0M48.3 467.9h0M55.8 485.7h0M55 530.9h0M54.4 527.8h0M53.7 459.6h0M54.9 573.2h0M50.8 497.2h0M51 479.2h0M49.3 531.6h0M50.6 486h0M49.2 487h0M51.9 486.3h0M56.2 537.5h0M53 511.3h0M50.2 529.7h0M55.7 562.7h0M55.7 558.1h0M49.8 533.5h0M50.5 528.5h0M56.1 491.7h0M48.9 513h0M52.1 493.6h0M53.7 440.6h0M54.6 451.4h0M48.6 506.1h0" stroke="#ff0000" stroke-width="2.8" stroke-linecap="round" stroke-opacity="0.3" fill="none"/>
<path d="M51.9 434.7h0M53.9 536.4h0M50.9 564.7h0M55.9 488.4h0M51.9 510.9h0M48.9 484.9h0M48 470.9h0M50.6 558.1h0M50.5 494.1h0M53.6 479.4h0M53.4 508.7h0M49.7 506h0M53.6 512.4h0M52.6 526h0M51.5 440.7h0M50.3 522.4h0M48.5 435.7h0M50.3 505.3h0M48.2 447.6h0M51.3 470.3h0M54.8 497.5h0M50.7 525.5h0M50.4 513.2h0M53.1 518.2h0M52.5 482h0M52.8 470.2h0M51.3 540.3h0M52.2 524.4h0M49.3 490.8h0M52.8 447.8h0M54.5 481.4h0M50.3 544.8h0M56.4 530.7h0M56 495.5h0M52.7 481.9h0M48.8 461.6h0M51.2 553.9h0M54.6 575.6h0M48 518.9h0M51.4 452.1h0M52.6 495.8h0M49.3 526.8h0M50 500.1h0M49.2 565h0M54.2 502.5h0M51.7 507.3h0M51.7 529.9h0M55.9 572.9h0M52 507.7h0M51.8 473.2h0M49.4 555.8h0M55.1 559.6h0M52.2 504.8h0M53.9 458.6h0M51.8 507.5h0M56.1 518.2h0M53.7 475.6h0M50.3 539.4h0M53.9 545.6h0M53.9 526.7h0M48.1 520.7h0M50.4 495.5h0M48.2 473.9h0M48.4 550.1h0M51.9 473.6h0M49.9 478.8h0M51.8 514.4h0M51.3 564.8h0" stroke="#ff0000" stroke-width="2.8" stroke-linecap="round" stroke-opacity="0.3" fill="none"/>
<path d="M62.7 515.8h0M59 468.4h0M61.6 468.9h0M64.9 477.4h0M64.9 464.6h0M59.7 489.3h0M61 509.3h0M60.7 524.3h0M64.2 521.7h0M59.5 488.9h0M66.7 496.1h0M59.4 499.9h0M62.9 511.4h0M64.3 468.5h0M66.4 485.7h0M63.6 511.8h0M65.6 488.6h0M62.9 479.4h0M60.3 523h0" stroke="#0000ff" stroke-width="2.8" stroke-linecap="round" stroke-opacity="0.5" fill="none"/>
<path d="M71.1 497.1h0M69.9 457.6h0M75.5 489.7h0M71 475.2h0M70.5 519.1h0M75.4 483.5h0M75.5 487.4h0M75 474.6h0M76.1 509.4h0M73.8 497.1h0M71.2 489.4h0M73.2 460.3h0M75.4 506.3h0M75.5 490.7h0M71.9 486h0M75.6 488.8h0M76.9 486.9h0M70.3 542.2h0M75.4 452.7h0M74.5 534.9h0M69.4 498.6h0M76.3 499.5h0M70.5 497.6h0M71.9 481.5h0M69.4 492.9h0M71.8 500.8h0M75.5 481.3h0M71.8 483.7h0M75.6 502.7h0M76.3 506.6h0M76.3 530.6h0M76.4 507.9h0M76 453.5h0M69.5 512.9h0M70 475.9h0M74.8 520h0M75.9 483.9h0M72.8 490.3h0M70.2 507.4h0M75.7 481.2h0M77.3 484.5h0M75.6 453.3h0M75.9 494.8h0M69.6 476.1h0M72.5 441.9h0M74 508.3h0M72.6 502.8h0M70.3 472.6h0M70.2 446.5h0M74.7 458.7h0M69 499.8h0M69.3 465.8h0M74.7 474h0M76.9 473.3h0M70.7 512.5h0M70.1 478.7h0M73.3 486.3h0M75.9 525.4h0M73 521.6h0M76.1 490.4h0M77.3 481.5h0M73.6 492h0M71.5 467.9h0M71.5 492.3h0M72.9 479.4h0M70.5 488.2h0M75.8 522.3h0M73.8 499h0M71.2 512.5h0M74 479.6h0M69.3 482h0M69.3 490.4h0M73.1 513.7h0M71.7 484.7h0M74.1 497.3h0M69.9 497.3h0M77.2 502.1h0M69.7 485.4h0M69.1 512.8h0M77.2 522.9h0M74.5 500.3h0M71.8 507.3h0M74 461.3h0M74.4 479.9h0M76.3 458.4h0M76.2 488.5h0M77.1 488.6h0M73.2 482.2h0M74.9 467.7h0M72.2 490.4h0M70.4 490.3h0M70.3 454.1h0M72.4 453h0M76 538.3h0M74.2 517.8h0M74.5 466.2h0M71.4 472.2h0M76 515.1h0M76.2 473h0M74.7 448.5h0M71.3 474.3h0M73.1 493.2h0M73.3 500.9h0M70.4 495.2h0M76.3 452.6h0M71.5 439.3h0M77.1 465.1h0M72.5 538h0M76.7 509.6h0M73.7 504.9h0M75.2 438.4h0M73 466.8h0M71.1 520.7h0M72.8 502.1h0M72.1 492.8h0M71.8 482.6h0M73.2 487h0M71.8 461.3h0M72.4 508h0M74.6 476.8h0M73.9 511.3h0M74.4 509h0M72.7 494.6h0M74.6 477.6h0M69 486.5h0M73.5 493.1h0M68.9 489.6h0M74.5 505h0M75.1 503.8h0M74 480.2h0M73.7 479h0M71.7 499h0M73.9 482.8h0M70 486.1h0M73.3 479.2h0M71.9 539.9h0M76.1 470.9h0M70 431.1h0M75.8 495.8h0M69.8 501h0M76.5 498.2h0M71.4 471.1h0M77 500.8h0M72.2 491.4h0M72.6 479.8h0M69.5 504.7h0M71.3 501.7h0M69.3 485.9h0M75.5 475.7h0M74.5 484.1h0M72 483.4h0M76.2 499.9h0M69 453.4h0M75.1 452.7h0M75.7 476.4h0M69.1 498.4h0M73.3 445.5h0M71.2 455.1h0M74.9 537.1h0M76.3 510.1h0M70.3 476.7h0M71.5 452h0M76.7 510h0M72.1 511.1h0M73 470.2h0M76.2 482.1h0M69.9 496h0M74.6 492.6h0M73.2 483.9h0M76.3 488.1h0M75.6 512.2h0M75.8 466.7h0M72.6 486.2h0M75.1 474.8h0M70.1 464.3h0M73.3 511h0M73.2 490h0M69.4 543.5h0M71.6 466.6h0M70.4 532h0M74.1 482.2h0M70.5 489h0M73.4 469.3h0" stroke="#ff0000" stroke-width="2.8" stroke-linecap="round" stroke-opacity="0.3" fill="none"/>
<path d="M69.6 492.9h0M75.9 469.5h0M77.2 468.3h0M74.8 482.9h0M72.2 480.7h0M75.3 483.9h0M70.6 498.4h0M72.6 468h0M76.4 501.6h0M71.1 489.6h0M74 482.3h0M71.9 481.6h0M77.3 487.1h0M73.4 483.8h0M69.6 502.5h0M73.2 466.6h0M71.3 496.1h0M70.8 517.2h0M75.3 488.5h0M74.5 460.4h0M76.8 492h0M77.1 492h0M77.1 501.2h0M73.8 488.6h0M73.9 480.2h0M73 498h0M75.1 507.7h0M70.8 530.1h0M75.2 478.8h0M72.1 504.4h0M69.7 489.5h0M72.9 514.1h0M69.6 528.1h0M77.2 487.1h0M74.7 503.9h0M75.2 480.1h0M74.4 471.8h0M72.3 508.1h0M73.8 491.4h0M74.6 502.1h0M72.6 530.8h0M72.4 482.8h0M71.1 525.8h0M70.1 503.2h0M72.5 489.3h0M76.8 475.7h0M71.2 491.9h0M69.4 525.9h0M69 493.8h0M74 482.6h0M72.7 494.9h0M69.6 509h0M70.1 503.4h0M75.5 475.4h0M71.5 483.6h0M74.2 473.2h0M69.4 457.5h0M70.5 470.8h0M76.1 503.9h0M73.5 488.9h0M71.7 491.4h0M71.4 476.2h0M72.4 467.2h0M76.6 512.6h0M76.2 481.4h0M69.9 482h0M73.8 493.2h0M75.3 536.1h0M70.6 484.2h0M69.8 471.8h0M74.8 448.9h0M74.7 507.2h0M73 502.8h0M73.4 496.6h0M76.2 518h0M71 469.6h0M74.9 494h0M71.2 463.7h0M76.8 494.3h0M69.2 492h0M71.5 505.8h0M74.6 486.9h0M74.4 488.1h0M71.2 526.8h0M74.9 521.8h0M69.8 484.1h0M71.6 478.6h0M76.8 472.6h0M70.3 490.5h0M70.7 505.6h0M75.7 537.8h0M71.1 480h0M70.7 433h0M70.2 470.2h0M76.4 497.1h0M76.1 481.4h0M75 508.7h0M75.7 470.2h0M72 479.4h0M69.2 481.2h0M73.1 476.7h0M76.5 534.2h0M70.8 551.1h0M74.7 485.3h0M69.2 518.2h0M71.9 511.8h0M75.9 480.5h0M75.6 536.9h0M76.2 487.5h0M74.5 484.8h0M68.9 435.3h0M76.7 489.2h0M75.4 482.9h0M70.6 457.2h0M76.7 483.2h0M70.7 508.4h0M75.6 479.9h0M72.2 500.7h0M74.6 498.4h0M75.9 483.3h0M71.6 496h0M74 502.1h0M71.4 465.4h0M77.3 457.3h0M75.1 510.3h0M74.2 491.8h0M76.2 512.1h0M70.9 515.1h0M76 446.7h0M73.3 497.8h0M76.9 518.2h0M73.9 497.5h0M70.5 499.1h0M73.7 491.3h0M70.5 482.8h0M75.8 493.1h0M69.1 477h0M72.1 505.9h0M71.6 506.2h0M74.7 478h0M69 477h0M70.1 481.7h0M73.4 555.7h0M71.4 472.7h0M69.9 507.7h0M71.8 464.6h0M69.7 510.7h0M76.3 468.6h0M70.7 547.8h0M74 494.6h0M76.7 491h0M72.7 487.1h0M74.3 503.4h0M71.2 474.8h0M74.9 483.5h0M69.6 511h0M75.2 515.5h0M74 524.7h0M73.5 543.7h0M75.7 458.6h0M75.7 445.3h0M76.3 494.1h0M70 477.7h0M76.2 509.2h0M74.8 517.3h0M69.1 495.6h0M74.3 516.5h0M72.7 532.7h0M76.4 546.7h0M73.6 526.4h0M71.8 473.9h0M76.8 465.8h0M71.7 471.9h0M70.4 491h0M76.7 510.8h0M75.6 480.6h0M77.1 482.2h0M69.1 475.3h0M75.3 505.4h0M70.2 495h0M72.5 497.4h0M72.9 512.4h0" stroke="#ff0000" stroke-width="2.8" stroke-linecap="round" stroke-opacity="0.3" fill="none"/>
<path d="M70.1 490.8h0M76.2 506.3h0M73.4 476h0M73.8 507.1h0M74.2 470.9h0M70.7 476.8h0M72.4 491.4h0M70.4 486.8h0M71.8 493.7h0M75.5 467.6h0M74.8 464.3h0M72.2 495h0M76.2 510.5h0M73.1 468.8h0M72.3 512.9h0M74.7 467.7h0M75.4 478.4h0M76.3 508.9h0M73.5 474.5h0M72.2 474.7h0M73.4 474.4h0M70.9 494.1h0M75.9 478.2h0M72.1 488.1h0M69.4 462.8h0M69.9 470.5h0M74.3 460.1h0M70.9 504h0M75.1 482.6h0M74.9 503.7h0M75.3 467h0M69.9 491.3h0M70.6 475.9h0M71.2 525.1h0M72.7 533.3h0M70.9 448.6h0M71.8 479.2h0M71.8 504.6h0M70.4 535.2h0M69.9 467.7h0M74 557.1h0M75.9 501.4h0M73.2 489.3h0M72.1 488.9h0M71 486.8h0M76.9 511.5h0M74.1 489.2h0M72.9 470.3h0M69.9 461.2h0M73.7 457.9h0M76.2 447.4h0M74.5 497h0M71.4 495.7h0M76.7 517.2h0M70.1 512.4h0M72.7 443.1h0M72.9 497.2h0M76.6 498.4h0M71.1 489.5h0M77.2 476.7h0M71 500.4h0M69.8 490.2h0M70.1 437.9h0M69.9 517.6h0M69.3 463.9h0M77.1 465.7h0M72.8 473.7h0M72.9 479h0M74 493.1h0M72 519.3h0M73.1 523.3h0M69.5 494.4h0M69.9 465.2h0M71.3 438.8h0M68.9 483.8h0M73.5 452.6h0M71.1 470.4h0M70 484.9h0M75.9 472h0M77.3 501.5h0M71.4 489.5h0M68.9 491.2h0M70.4 461.1h0M71.2 484h0M70.5 530.7h0M69.7 471.5h0M76.7 477.8h0M75.5 487.7h0M74.9 481.7h0M72 476.7h0M74.8 480.7h0M75.4 457h0M73.3 484.7h0M73.1 489.7h0M69.8 500.4h0M70.4 484.1h0M73.5 530.5h0M70.9 466.2h0M70 495.3h0M72.4 500.1h0M74.1 488h0M76.5 488h0M75.2 488.4h0M73.2 493.6h0M77.1 545.8h0M69.2 476.9h0M70 474h0M69.1 473.6h0M70.6 481.4h0M74.1 483.8h0M76.4 484.3h0M71.4 461h0M72.1 478.4h0M72.9 484.8h0M73 488.1h0M73.2 513.3h0M75.3 500.5h0M76.2 459.1h0M74.5 490.5h0M73.5 475.3h0M75.1 472.7h0M74.7 506.8h0M75.2 494.2h0M74.4 527.8h0M72.5 513.4h0M74.3 496.6h0M70 485.1h0M76.1 463.5h0M69.1 502.7h0M74 479h0M72 522.6h0M72.5 509h0M73.5 464.8h0M72.4 471h0M74.6 482.8h0M73.4 451.6h0M74.7 493.9h0M69.4 482.7h0M69 454.1h0M74 492.5h0M76.9 433.8h0M73.7 457.5h0M70.8 478.8h0M72.3 457.2h0M71.4 481.5h0M69.5 472.2h0M75.5 475.6h0M70.4 491.2h0M74.9 466.4h0M71 486.8h0M74.5 497.5h0M75.8 494.9h0M69.5 454.9h0M69.5 508.8h0M72.1 489h0M76.6 505.2h0M69.2 485.1h0M75.3 513.7h0M75.1 490.2h0M70.8 494.7h0M70.4 458.8h0M71.5 536.8h0M73.6 518.9h0M73.6 545.8h0M71.7 481h0M75.3 458.3h0M70.7 481.8h0M74 430.1h0M69 495h0M70.8 487h0M70.7 455.2h0M72.4 489.2h0M75 510.2h0M70.6 479h0M69.5 509.2h0M71.7 529.4h0M74.1 493.7h0M71.9 493.1h0M75.6 488.5h0M71.6 494.1h0M70.4 479.6h0M71 457.9h0" stroke="#ff0000" stroke-width="2.8" stroke-linecap="round" stroke-opacity="0.3" fill="none"/>
<path d="M73.5 455.5h0M71 484.2h0M72.3 505.4h0M71.8 493.3h0M75.2 471.3h0M72.2 490.2h0M71.7 509.1h0M74.2 511.2h0M72 481.7h0M71.4 478.1h0M70.8 479.7h0M69.7 474.9h0M74.1 487.8h0M74.2 461.3h0M69.7 482.6h0M72.5 488.6h0M72.1 494.7h0M73.7 456.4h0M74 462.4h0M75.8 441.5h0M73.8 473.2h0M70.9 491h0M72 500.3h0M76 539.2h0M71.8 524.2h0M71 502.1h0M75.4 510.3h0M71.5 501.5h0M73 519.7h0M76.2 501.2h0M71.3 479.9h0M75.7 497.5h0M70.5 468.4h0M72.4 509.6h0M69.6 459.6h0M71.3 467.5h0M71.5 472.8h0M75.2 488h0M76.3 523.9h0M76.1 491.3h0M72.2 489.6h0M71.6 488.5h0M70.4 485.2h0M75.3 482.9h0M71.8 497.6h0M74.7 491.5h0M70.7 473h0M70 441.1h0M75 514.1h0M76 521.1h0M73.3 483.3h0M76.9 489.9h0M76 537.9h0M72.2 478.4h0M76.9 440.1h0M76.6 489.2h0M71.3 495.5h0M70.1 443.4h0M70.1 484.1h0M72.5 484.4h0M75.7 495.7h0M74.1 455.5h0M74.7 450.7h0M69.6 497.2h0M75.5 504.4h0M76.8 483.7h0M69.1 504.5h0M70.9 479.6h0M72.8 461.7h0M73.5 500.6h0M77 451.4h0M74.1 466.2h0M71 552.1h0M71.3 490h0M76.5 453.6h0M69.4 530.5h0M70.6 517.7h0M73.9 517.3h0M69.2 486.1h0M74.1 513.1h0M75.6 482.6h0M73.4 455.2h0M76.1 490.8h0M73.5 502.7h0M76.7 491.1h0M77.1 481.8h0M70.3 477.9h0M74.6 460.1h0M75.7 520.1h0M72.3 547.1h0M71.7 530.7h0M70.5 506.6h0M77.3 517.2h0M72.6 493.9h0M69.9 462h0M69.8 490.4h0M71.3 521.2h0M70.7 473.4h0M73.5 479.3h0M70.4 526.3h0M73.5 498.8h0M76.6 506.1h0M73.8 497.1h0M75.4 482.1h0M69.4 491.4h0M75.3 488.6h0M74.1 466h0M72.1 483.3h0M76.7 464.5h0M70.8 518.1h0M76.3 493.5h0M69.6 503.7h0M70.1 495.9h0M69.8 488.7h0M75.1 497.7h0M74.6 483.2h0M76.8 508.2h0M76.2 475h0M72.5 457.4h0M76.3 515.1h0M71.3 473.8h0M69.2 478.6h0M74.6 494.6h0M77 545.2h0M76.2 463.1h0M72.7 459.2h0M69.9 552.6h0M73.7 486.8h0M76.7 498.9h0M71 520.3h0M73.4 485.5h0M75 474.2h0M76.3 474.8h0M72.1 515.6h0M72.7 500h0M74.8 474.6h0M76.7 484.3h0M74.1 475.5h0M70.4 504.7h0M76.6 463h0M71.1 523.1h0M75.9 502.7h0M71.4 468.3h0M71.1 508.1h0M74.7 480.5h0M73.6 445.8h0M71.8 552.3h0M76.8 497.3h0M77 496h0M73.4 494.1h0M72.4 467h0M70.2 514.7h0M76.5 505.4h0M73.6 510.2h0M70.7 457.5h0M69 475.1h0M75.1 452.2h0M76 497.3h0M75.2 489.9h0M72.2 474.1h0M77 486.9h0M69.6 465.9h0M74.5 472.2h0M72.5 513.4h0M69.1 515.6h0M71.4 483.7h0M75.6 479.1h0M69.4 508h0M71.1 518h0M75.8 471.9h0M69.5 463.6h0M70 463.8h0M75.2 498.3h0M70.4 462.3h0M76.7 499.8h0M75.7 476.1h0M74.3 444.9h0M77.2 489.1h0M69.6 549.7h0M72.1 492.9h0M69.9 522.7h0M71.1 493.3h0" stroke="#ff0000" stroke-width="2.8" stroke-linecap="round" stroke-opacity="0.3" fill="none"/>
<path d="M76.5 428.1h0M70.7 505.1h0M71.9 512.8h0M74.8 556.7h0M69.5 504.8h0M74.6 470.2h0M75.9 460.5h0M70.3 492.1h0M74 490.7h0M76.2 457.1h0M77 475.8h0M76.8 514.9h0M69.1 470.5h0M75 487.8h0M72.1 508.1h0M73.6 475.3h0M72.7 457.4h0M70.2 488.6h0M70.1 470.7h0M70.8 471h0M74.4 473.4h0M76.1 481h0M74.2 492.7h0M70.8 522.1h0M75.3 505.1h0M76.6 501.1h0M70 459.3h0M77 515.9h0M73.2 475.1h0M73.7 504.6h0M74.8 518.4h0M71.8 501.4h0M72.3 540.8h0M75.5 471.7h0M77.3 534.2h0M72.2 497.4h0M71.9 497.2h0M76.3 513.7h0M73.2 471.7h0M69.4 480h0M72.9 493.5h0M75.5 476.6h0M69.5 492.4h0M72 512.2h0M72.9 492h0M72 450.2h0M74 468h0M70.5 484.8h0M72.4 458h0M69.6 484.8h0M76.1 493.4h0M70.2 493h0M76.1 537.8h0M72.6 487.8h0M74.1 460.7h0M69.1 496.6h0M71.4 460h0M76.3 469.6h0M75.1 493.2h0M72.3 526.1h0M71.3 475h0M72.2 486.2h0M69.3 472.2h0M71.6 536.4h0M74.9 510.5h0M73.2 454.9h0M74.6 512.4h0M76.9 492.6h0M73.7 471.2h0M74 500.8h0M71.8 482.1h0M74.2 483.9h0M75.7 484.5h0M75.6 494.6h0M69.8 493.5h0M76.6 485h0M75.8 497h0M76.4 468h0M71.3 508.3h0M72.3 500.9h0M71.6 439.2h0M72.6 495h0M75.8 497.9h0M72.6 524.5h0M73.7 494.5h0M69.9 489.6h0M76.3 432.4h0M72.9 498.9h0M74.6 456.2h0M75.7 505.5h0M73.8 481.9h0M71.2 509.2h0M73.2 465.6h0M75.8 458.7h0M73 489h0M71.8 492.4h0M73.6 495.7h0M76 472.1h0M76.9 508.7h0M69.6 513.4h0M71.9 520.6h0M76.4 431.4h0M72.3 497.8h0M69.9 495.2h0M75 509.8h0M69.1 473.7h0M75.7 508.5h0M76 489.3h0M71 490.4h0M76.2 472.7h0M71.1 489h0M72.2 503.3h0M70.5 473.9h0M72.9 543.2h0M71.6 477.3h0M71.1 531.3h0M74.7 487.3h0M70.7 501.9h0M73.6 471.4h0M73.1 484.3h0M74.3 499.4h0M72.7 512.4h0M72.6 457.2h0M75.1 452.6h0M76.3 479h0M72.3 494.1h0M75.4 502.6h0M70.8 494.9h0M75.8 493.7h0M76.7 476.1h0M74.2 470.5h0M72 520.4h0M74.8 445.7h0M74.9 489.5h0M76.1 455.1h0M69.4 476h0M76 436.2h0M74.4 431h0M75.8 471.2h0M75.7 507.7h0M69.7 522.9h0M71.6 490.9h0M70.3 501h0M76.1 489.6h0M77.1 537.3h0M72.2 483.8h0M69.5 470.3h0M77.1 489.1h0M72.8 494.6h0M73.2 540.8h0M73.6 511.1h0M75 498.6h0M73.6 481.7h0M75.6 486.5h0M71.8 470h0M73.6 551.4h0M74.1 477.7h0M69.6 485.2h0M73.5 491h0M76.6 450.1h0M74.5 491h0M75.2 478h0M71.5 492.2h0M73.1 512.8h0M74.6 491h0M75.8 454.1h0M73.6 515.1h0M69.8 503.1h0M69.7 492.5h0M71.7 484.5h0M76.6 502.1h0M74.7 482.6h0M74.1 472.6h0M70.5 455.3h0M75.6 501h0M72.5 493h0M70.9 524.4h0M71.1 506.9h0M72.4 502.1h0M74 442.7h0M70.1 451.5h0M75.2 490.7h0" stroke="#ff0000" stroke-width="2.8" stroke-linecap="round" stroke-opacity="0.3" fill="none"/>
<path d="M76.2 497.1h0M72 498.9h0M72.7 496.3h0M75.5 476.8h0M69.8 490h0M73.2 448.7h0M71.7 481.5h0M69.9 438.1h0M74.1 471.9h0M76.8 509.2h0M72.7 477.8h0M76.3 491.9h0M77 544.2h0M73.5 469.2h0M76.2 501.8h0M76.4 477.9h0M72.3 472.1h0M77.2 493.7h0M70.4 533.7h0M70.2 503.7h0M69.9 465.1h0M73.2 506.8h0M75 521h0M72.7 489.9h0M73.5 502.1h0M70.1 500.3h0M71.9 468.9h0M72.1 478.8h0M70.4 493.8h0M72 490.9h0M70.7 489.4h0M69.7 491.9h0M77.1 456h0M76.1 453.9h0M72.4 498h0M76.3 470.1h0M72.2 471.9h0M76.3 526.4h0M69 499.5h0M76.4 480.3h0M75.9 492.3h0M71.6 508h0M72.4 500.3h0M69.2 469.9h0M73.2 546h0M69 499.5h0M71.1 496.9h0M71.2 491.7h0M74.6 490.9h0M71.6 495.6h0M74.1 496.1h0M76.7 466h0M74.7 475.9h0M71.6 441.6h0M76.9 473.5h0M74 465.9h0M69.3 493.1h0M77 474.1h0M73.7 476.5h0M75.4 479.5h0M70.2 535.4h0M69.8 483.6h0M72.5 475.6h0M77 434.7h0M77.1 499.3h0M76.5 448.1h0M75.2 442.8h0M69.6 507.6h0M72.8 490.6h0M72.6 484.3h0M74.6 516h0M74.9 499.5h0M76.9 516.8h0M75.9 463.5h0M69.1 438.2h0M72.6 477.1h0M73.7 490.8h0M72 491.1h0M72.1 481.4h0M72.3 484h0M75.7 439.1h0M75.5 481.3h0M73.3 487h0M70 521.5h0M72.9 482.2h0M72.7 497.8h0M68.9 449.9h0M75.4 486.6h0M70.9 499.6h0M75.2 481.5h0M69.8 448.8h0M73.2 501.2h0M76.2 523.5h0M74.8 439.1h0M74.4 481.7h0M74.7 523.1h0M72.8 507.2h0M76 488.9h0M73.8 503.2h0M70.8 501.6h0M70.2 490.1h0M73.7 504h0M69.4 481.6h0M74.6 492h0M73.4 513.4h0M77 559.3h0M72.3 497.5h0M75.6 487h0M73.5 465.6h0M70.2 469.8h0M73.6 500.6h0M71.5 488.8h0M76.2 495.4h0M70.9 503.6h0M70.5 543.9h0M74.8 478.3h0M69.4 485h0M76.5 457.1h0M72.9 505.5h0M69.4 466.4h0M70.5 498.2h0M75.2 444h0M76 470.3h0M72.7 506.7h0M75.9 490.4h0M77.1 479.9h0M69 470.4h0M73.8 492.7h0M70.9 461.1h0M74.8 496.9h0M74.1 505.8h0M72.7 490.6h0M73.1 498.8h0M77.1 498.2h0M75.2 507.1h0M71.2 486.9h0M70.2 485h0M74.6 480h0M70.2 503.5h0M76.3 544.4h0M76.5 495h0M76.1 477.7h0M72.6 526.4h0M76.6 468.4h0M75.3 495.9h0M72.7 486.5h0M70.6 464.4h0M69.9 463.8h0M70.7 488.5h0M72.4 460.6h0M74.2 472.9h0M74.8 476.4h0M70.2 464.9h0M74.9 482h0M75.9 494.4h0M76.4 478.2h0M74.2 517.9h0M76.4 459.1h0M76.1 551.2h0M73.7 483h0M76.9 484.4h0M76.7 479.6h0M75 508.4h0M72.4 459.1h0M72.7 491.1h0M71.6 486.1h0M76.1 485h0M71 448.1h0M75.8 474.3h0M74.1 513h0M69.2 518.1h0M70.6 468.2h0M73.2 484.6h0M72.7 487.4h0M73.6 503.6h0M75.7 483.8h0M77.3 502.9h0M69.5 489.3h0M72.5 458.3h0M74.4 512.6h0M75.1 499h0M75.5 475.7h0" stroke="#ff0000" stroke-width="2.8" stroke-linecap="round" stroke-opacity="0.3" fill="none"/>
<path d="M83 476.5h0M86.1 474.3h0M87.6 475.2h0M84.7 474h0M86.6 464.2h0M85.8 482.4h0M80.2 472.1h0M85.5 476.7h0M83.4 476.6h0M81.1 477.2h0M83.4 470.7h0M81.9 473h0M81.2 468.9h0M82.7 466.2h0M81 486.9h0M80 460.6h0M83.5 472h0M82.8 461h0M85.6 495.3h0M83.7 467.3h0M80.8 483.9h0M83.7 479.7h0M82.2 468.6h0M82.3 468.5h0M83.7 472.1h0M86.6 470.4h0M81.8 471.3h0M83 451h0M84.3 483.4h0M81.7 452h0M84.9 464.3h0M83 478.3h0M83.4 477.7h0M81 476.1h0M86.5 474h0M82 481.5h0M85 462h0M82.3 480.8h0" stroke="#0000ff" stroke-width="2.8" stroke-linecap="round" stroke-opacity="0.35" fill="none"/>
<path d="M81 475.1h0M84.4 478.9h0M82.2 468.2h0M87.6 449.2h0M82.8 472.7h0M84.5 476.9h0M83.2 481.3h0M81.3 476.6h0M79.4 480.5h0M85.6 475.7h0M82.1 476.1h0M83.2 484.2h0M84.6 474.2h0M81.3 467.4h0M87.4 473.8h0M80.4 479.6h0M82 464.6h0M83 475.3h0M83.9 482.5h0M86.3 460.5h0M84.6 476.7h0M83.5 470.6h0M81.8 470.9h0M85 477.3h0M87.2 456.2h0M85.5 470.4h0M85.2 475.6h0M87.5 474.2h0M80.3 484.4h0M83.1 471.2h0M81.3 474h0M84.3 476.6h0M84.5 478.1h0M86.4 469.8h0M79.8 471.9h0M80.1 470.4h0M86.8 476.4h0" stroke="#0000ff" stroke-width="2.8" stroke-linecap="round" stroke-opacity="0.35" fill="none"/>
<path d="M81.3 459.5h0M81.2 474.5h0M84 471.6h0M85.2 474.7h0M81.9 457.1h0M83.1 474.9h0M80 462.7h0M83.8 467.8h0M87.5 467.8h0M87.1 471.4h0M80.1 459h0M82.7 472.3h0M85.9 474.7h0M81.9 471.8h0M86.6 466.5h0M86.3 467.4h0M87.2 476.1h0M86.7 475.9h0M79.6 474.3h0M83.8 470.7h0M85.9 473.5h0M86 475.7h0M82.8 479.5h0M85.8 461.2h0M86.6 474h0M87.3 460.3h0M82.7 464.9h0M83.8 474.6h0M86 464.1h0M81.5 475.9h0M84.2 471.4h0M86.8 463.9h0M84.3 470.6h0M83.7 468.9h0M83.7 474.4h0M87.4 478.8h0M84.4 472h0" stroke="#0000ff" stroke-width="2.8" stroke-linecap="round" stroke-opacity="0.35" fill="none"/>
<path d="M91.1 446.2h0M93.8 492.3h0M94.3 495.1h0M91.6 470.7h0M94.2 482.3h0M97.7 470h0M97.2 477.2h0M96.3 476h0M96.7 476.6h0M97.7 463.3h0M91.8 507.9h0M96.7 466.5h0M94.7 450.4h0M95.9 488h0M93.8 496.8h0M90.2 467.3h0M92.5 463.9h0M96.1 450.1h0M94.8 484.3h0M97 468.7h0M96 500.5h0M95.3 486.1h0M98.1 484.6h0M90.6 467.8h0M93.6 466.5h0M97.1 465.7h0M97.2 460.4h0M90.6 474.4h0M94.3 475.3h0M98 438.7h0M91.1 467.5h0M92.4 480.5h0" stroke="#ff0000" stroke-width="2.8" stroke-linecap="round" stroke-opacity="0.3" fill="none"/>
<path d="M91.5 465.6h0M97.8 456.6h0M96.7 460.2h0M98.1 477.5h0M90.4 466.7h0M95.9 481h0M96.4 466.7h0M93 475.9h0M97.5 468.6h0M95.3 478.5h0M91.9 524.3h0M93.4 486.4h0M98.1 477h0M97 462.4h0M95.4 469.1h0M96.2 468.6h0M89.9 447.5h0M92.6 472.2h0M91.7 469.9h0M90.1 468.1h0M93.9 512h0M97.6 468.2h0M97.8 484.9h0M93 453.9h0M96.2 481.2h0M93.3 492.6h0M97.7 501h0M90.6 442.7h0M92.9 491.3h0M95.5 473.6h0M95.6 510h0M96 476.8h0" stroke="#ff0000" stroke-width="2.8" stroke-linecap="round" stroke-opacity="0.3" fill="none"/>
<path d="M98.2 483.7h0M95.4 480.3h0M90.1 470.9h0M97.4 489.9h0M96.5 473.3h0M93.9 480h0M96.9 439.9h0M97.3 464.1h0M92.6 452.2h0M96.2 458.4h0M94.5 476.2h0M90.6 460.6h0M94.6 457.4h0M93.1 463.5h0M96.7 491.2h0M90.4 457.1h0M94.1 447.4h0M92.5 463.5h0M95.1 491.4h0M90.1 469.8h0M92.9 468.2h0M90.2 481.1h0M92.8 474.1h0M92.3 469.7h0M96.2 460h0M91.3 473.6h0M91.7 464.7h0M93.8 472.8h0M91.7 463.6h0M96.3 460.1h0M95.5 465.8h0M93.9 482.3h0" stroke="#ff0000" stroke-width="2.8" stroke-linecap="round" stroke-opacity="0.3" fill="none"/>
<path d="M93.8 487.8h0M95.3 480.4h0M95.7 484.2h0M97.5 465.4h0M90.8 474.5h0M93.3 464.2h0M97.5 474.5h0M91.8 437.4h0M94 477.2h0M91.3 444.9h0M95 493.5h0M91.8 459.5h0M93.2 440.1h0M94.8 492.1h0M98 490.4h0M90.7 463.7h0M93.1 453.7h0M93.7 497.6h0M93.5 464.9h0M92.6 459.5h0M95.2 483.4h0M96.4 458.9h0M96.7 464.4h0M94.6 506.7h0M92.8 477.1h0M90.9 478.3h0M93 513.7h0M94.8 488.2h0M95.9 468.5h0M93.5 457.9h0M92.6 474.8h0M92.8 468.2h0" stroke="#ff0000" stroke-width="2.8" stroke-linecap="round" stroke-opacity="0.3" fill="none"/>
<path d="M91 467.3h0M96.7 467.6h0M94.2 494.9h0M90.5 461.1h0M96.5 487.7h0M94.6 475.7h0M95.3 468.4h0M95 481.1h0M93.1 458.4h0M97 471.2h0M92.7 480.1h0M92 459h0M94.2 478.4h0M96.5 449.6h0M90.6 484.6h0M92.9 474.3h0M90.8 471.6h0M90.7 471.8h0M93 459.8h0M92 463.5h0M95.9 458.1h0M91 506.4h0M93.8 470.8h0M95.2 467.2h0M90.4 480.6h0M92.2 451.9h0M95.5 467.8h0M92.3 474.8h0M93.2 493h0M96.6 500.6h0M95.6 477.9h0" stroke="#ff0000" stroke-width="2.8" stroke-linecap="round" stroke-opacity="0.3" fill="none"/>
<path d="M97.1 465h0M90.5 439.1h0M91.6 472.7h0M95.6 484.9h0M91.2 512.1h0M90.4 443.2h0M94.9 476.5h0M94.4 453.1h0M92.5 465.5h0M96.6 469.2h0M97.5 483.6h0M95.1 469.4h0M96.4 475.9h0M90.6 486h0M97.9 458.4h0M96.8 464.4h0M89.9 466h0M95.9 472.3h0M93.9 465.9h0M93.7 453.7h0M97.8 472h0M91.9 471.1h0M91.3 456.7h0M98.1 479.2h0M95.1 464.3h0M98.2 446.1h0M91.3 464.3h0M96.3 465.3h0M97.1 487.8h0M92.4 525.8h0M97.6 476h0" stroke="#ff0000" stroke-width="2.8" stroke-linecap="round" stroke-opacity="0.3" fill="none"/>
<path d="M108.3 464.3h0M107.9 519.9h0M102 474.8h0M103 441h0M107.4 465.7h0M101.1 482h0M102.1 473.3h0M103.2 488.3h0M106.1 481.7h0M101.7 506.9h0M105.2 486.2h0M101.3 472.5h0M103.5 498.1h0M107 476.5h0M104.5 497.6h0M101.1 471.8h0M106.4 521.3h0M102.4 475.4h0M103.4 499h0M103.9 458.6h0M103.4 479h0M101.2 495.2h0M101.6 468.4h0M103.8 468.6h0M105.1 494.8h0M105.9 453.6h0M102 490.5h0M103.1 481.4h0" stroke="#ff0000" stroke-width="2.8" stroke-linecap="round" stroke-opacity="0.35" fill="none"/>
<path d="M105.4 460h0M106.6 486.2h0M107.2 479.7h0M102 481.3h0M106.2 479.3h0M107.8 487h0M107.9 482.8h0M104.6 461.1h0M104.9 484.9h0M102.5 448.5h0M107 477.3h0M107.3 469.8h0M100.9 503.9h0M104.7 480.1h0M104 490.1h0M103.7 468.5h0M105.8 481.9h0M101.1 511h0M104 478h0M105.7 518h0M108.1 508.5h0M100.9 479.3h0M101.1 509.6h0M106.2 476.5h0M101.2 472h0M107.3 469.2h0M108.4 478.9h0" stroke="#ff0000" stroke-width="2.8" stroke-linecap="round" stroke-opacity="0.35" fill="none"/>
<path d="M107.7 468.1h0M107 465.2h0M107 475.6h0M102.6 474.2h0M104.3 473.1h0M100.4 504.5h0M104.7 477.1h0M105.6 473.2h0M100.7 458.7h0M104.2 462.3h0M102.1 498.2h0M105.3 460.3h0M101.9 466.8h0M100.5 483.4h0M106.7 480.7h0M108 477.2h0M103.7 484h0M102.9 503.1h0M107.4 491.9h0M101.7 497.7h0M101.8 480.9h0M100.4 493h0M101.7 483.1h0M107.2 481.9h0M107.2 471.6h0M106.7 477.3h0M106.9 518h0" stroke="#ff0000" stroke-width="2.8" stroke-linecap="round" stroke-opacity="0.35" fill="none"/>
<path d="M113.8 497.6h0M119.1 514.3h0M114.9 489.2h0M117.1 465.1h0M119.1 458.6h0M115.6 485.4h0M111.7 514.3h0M118.3 479.6h0M115.4 494.3h0M114.7 443.8h0M111.3 456.6h0M113.2 497.4h0M112.2 537.7h0M116.1 492.9h0M115.8 500.6h0M117.5 474.7h0M114.8 483.8h0M111.2 484.1h0M113.9 537h0M111.5 471.3h0M116.6 505.8h0M111 491.1h0M111.9 492.9h0M117.2 481.7h0M114.8 510h0M118.9 499.8h0M111.6 483.1h0M111.2 492.6h0M113.6 473.6h0M117.7 501.4h0M111.4 499.8h0M117.8 486.5h0M112.8 503.5h0M118 463.2h0M112.3 482h0M114.5 477.4h0M111.4 452.5h0M114.5 513.1h0M112.3 471.1h0M112.4 467.2h0M115.1 504.7h0M117.3 480.4h0M118.4 489.7h0M116.7 486.8h0M116.5 457.7h0M117.7 494.2h0M117.8 519.8h0M111.3 483.7h0M118.5 509h0M117.2 493.9h0M113.4 499.3h0M113.9 535h0M118.6 486.4h0M118.4 516.9h0M117 467.6h0M113.8 492h0M111.1 503.9h0M113 470h0M117 513.2h0M117.4 511h0M113.3 520.6h0M114.6 477.7h0M117.3 515.1h0M116.7 504.8h0M115.5 504h0M117.2 450.2h0M119 501.9h0M115.7 483.9h0M110.9 494.5h0M118.8 518.7h0M118.7 511.8h0M115.8 486h0M118.9 505.1h0M116.5 508.9h0M117.4 508h0M113.8 495.8h0M117.1 478.6h0M115.1 505.8h0M111.1 459h0M118.3 498.8h0M116.2 507.7h0M117.9 483.8h0M115.7 492.9h0M111.7 497.6h0M117 493.3h0M116.7 491h0M118.6 455.4h0M112.2 484.8h0M118.4 498.2h0M119.2 507.3h0M115.5 518.9h0M110.9 476.7h0M118.5 499.3h0M115.6 456.1h0" stroke="#ff0000" stroke-width="2.8" stroke-linecap="round" stroke-opacity="0.3" fill="none"/>
<path d="M111.6 489.9h0M115 477.7h0M112.4 517.6h0M113.6 514.2h0M115.6 503h0M115 506.8h0M118 500h0M116.4 487.4h0M119 492h0M117.4 511.6h0M114.4 486.5h0M113.7 475.3h0M113.7 491.9h0M117.8 477.2h0M118.3 492.7h0M116.9 501.2h0M111.6 483.1h0M116 483.5h0M112.1 508.4h0M116.5 490h0M113.3 491.9h0M113.8 496.4h0M114.7 495.9h0M118.7 517.1h0M117.7 494.1h0M117.2 516.8h0M117.2 527.5h0M117.5 512.7h0M110.9 493.3h0M111 495.9h0M114.5 506.2h0M116.9 489.3h0M112.9 485.8h0M116.4 489.2h0M114.3 483.6h0M111.9 476.2h0M112.7 461.5h0M119 489.9h0M116.5 461.3h0M117.2 518.1h0M113.6 472.9h0M115.9 501.7h0M114.4 515.2h0M116.9 463.5h0M118.8 462.7h0M111 489h0M116.6 511.1h0M116.6 492h0M114.8 486.6h0M114.7 533.8h0M114.6 494.5h0M113.8 515.6h0M112.6 485.6h0M114.4 475h0M117.2 498.9h0M118.7 462h0M114.3 505.5h0M111.4 515.2h0M111.3 509.2h0M113 444.3h0M118.1 486.8h0M116 480.4h0M116.4 505.5h0M117.8 472.9h0M116.9 493.8h0M113.4 493h0M112.9 447.9h0M117.8 510.2h0M118 491.3h0M113.3 463.7h0M112.6 443.6h0M111.4 495.6h0M113.9 485h0M115.6 479.3h0M115.1 558.7h0M113.6 475.3h0M118.7 495.2h0M116.7 503.3h0M116.4 498.8h0M115.7 492.9h0M112.1 514.8h0M118.7 495.4h0M111.2 518.6h0M118.1 540.4h0M112.5 498.6h0M117.9 496.3h0M114.3 490h0M112 473.1h0M114.5 468.8h0M112.3 501.5h0M117.5 473.3h0M116.3 475.1h0M113.9 500.8h0M115.9 496.9h0" stroke="#ff0000" stroke-width="2.8" stroke-linecap="round" stroke-opacity="0.3" fill="none"/>
<path d="M112.7 489.7h0M110.8 488.1h0M116.7 492.9h0M111.9 496.1h0M114.6 489.5h0M114.8 458.9h0M116.4 486.3h0M117.5 511.8h0M111.7 499h0M111.9 480.4h0M113.6 495.8h0M111.3 491.9h0M111.2 464.3h0M117.3 488.3h0M111.8 492.6h0M114.9 501.4h0M114.8 480.8h0M111.9 482.3h0M118.4 495.8h0M116.5 441h0M118.1 453.4h0M118.8 447.6h0M115.8 485.6h0M113.6 471.9h0M115.6 488.8h0M114.5 516.5h0M116.6 541.1h0M118.4 489.4h0M112.8 493.4h0M118.8 489.6h0M112.3 484.6h0M114.9 538.9h0M113 493.4h0M118.6 482.7h0M117.9 492h0M113.5 481.5h0M112.5 467.5h0M117.2 471.1h0M118.4 483.7h0M115 469.3h0M111.2 511.3h0M116.1 495h0M111.3 505.2h0M114.3 480.4h0M117 529.9h0M112.6 510.5h0M113.9 486h0M111.8 486.7h0M116.8 488.7h0M118.1 518.2h0M111.8 492.6h0M111.7 487.1h0M111.1 476.3h0M113.7 465.7h0M112.9 483.1h0M113.3 470.1h0M116.6 492.7h0M114.3 484.3h0M111 494.7h0M117.7 491.7h0M112.2 480.8h0M113.7 481.2h0M119.2 449.9h0M116.9 478.2h0M117.4 504.6h0M111.4 513.9h0M116.3 447.1h0M118.5 505.4h0M111.9 490.2h0M113.5 511.9h0M116.2 508.2h0M116.7 519.4h0M114.8 504.7h0M115.1 484.8h0M115.8 503.4h0M114.2 443h0M118.7 475.6h0M118.7 491.1h0M111.8 506.1h0M113.3 476.5h0M115.8 472.5h0M118.5 547.4h0M114.3 496.7h0M117 483.2h0M118.7 459.6h0M113.4 504.8h0M115.5 525.3h0M117.7 490.8h0M112.9 491.8h0M112.1 493.4h0M118.5 520.5h0M111.8 502.8h0M112.5 494.3h0M117.1 492.6h0" stroke="#ff0000" stroke-width="2.8" stroke-linecap="round" stroke-opacity="0.3" fill="none"/>
<path d="M116.8 494.4h0M114.2 490h0M112.1 473h0M113.8 466.7h0M112.5 468h0M112.5 507.3h0M111.7 486.2h0M116.2 450.7h0M113.4 501.7h0M118.3 523.1h0M113.3 474.3h0M113.5 502.8h0M114.4 502.5h0M117.3 487h0M119 497.1h0M111.3 520.8h0M118.5 501h0M117.9 470.2h0M111.8 493.7h0M118.2 485.3h0M115.9 442.9h0M113.2 492.5h0M118.7 467h0M118.2 507.4h0M115.5 502.4h0M116.2 494.1h0M115.5 488.5h0M115.2 475.3h0M112.9 480.1h0M113.6 503.8h0M111.8 494.3h0M113.1 488.7h0M117.9 500.3h0M112.8 517.2h0M113.8 494.5h0M116.1 485.6h0M113.4 505.5h0M117.8 488.9h0M115.8 482.4h0M111.1 487.6h0M113.7 475.2h0M114.5 512.3h0M116.7 446h0M113.7 460.1h0M114.2 513.7h0M119 502h0M116.2 515.5h0M112.4 516h0M115.7 481.3h0M111.5 493h0M114.4 518.5h0M116.3 477.5h0M113.3 447.5h0M111 499.7h0M113.2 502.9h0M111.6 489.9h0M115.8 512.8h0M115.6 489.1h0M114.5 480.9h0M114.7 486.5h0M111.1 512.2h0M111.7 495.2h0M116.6 469.8h0M118 508.6h0M111.5 503.7h0M116 471.3h0M113.8 493.7h0M114.9 460.2h0M113.9 494.4h0M114.4 476h0M115.6 507.4h0M113.5 463.2h0M115.9 491.3h0M113.7 483h0M116.6 534.7h0M115 555.6h0M118 492.7h0M111.3 489.5h0M116.1 480.1h0M112.4 501.9h0M111.9 482.6h0M114.6 488.9h0M114.5 509.8h0M112.1 479.2h0M117 505.2h0M117.5 501.8h0M111.9 497.7h0M111.7 506.2h0M115.1 501.6h0M115.4 501.5h0M113.4 472.5h0M115.2 459.2h0M113 485.3h0M117.5 479h0" stroke="#ff0000" stroke-width="2.8" stroke-linecap="round" stroke-opacity="0.3" fill="none"/>
<path d="M115.6 483.1h0M114.6 488.3h0M114.5 495.5h0M118.4 506h0M111.3 452.3h0M117 504h0M113.7 489.3h0M112.7 496.2h0M116 469.5h0M113.3 501.1h0M117.5 496h0M112.1 513.6h0M118.1 509.4h0M118.7 519.8h0M118.7 496.4h0M115.6 493.6h0M117.7 465.8h0M118 523.1h0M117 505.4h0M117.3 461.4h0M111.5 483.2h0M117.4 521.9h0M115.1 448.8h0M113.2 461.6h0M111.3 479.9h0M118.8 501.3h0M115.2 466.4h0M115.3 483.9h0M115.6 471.9h0M114.7 460.7h0M111.9 491h0M115.9 484.1h0M117.5 511.6h0M114.6 481.2h0M111.4 489.9h0M118.4 501.3h0M118 465.7h0M119.1 497.6h0M116.7 479.3h0M116.5 498.7h0M112.5 466.7h0M112.4 489.5h0M114.6 487.9h0M111.9 504.7h0M115.4 488.7h0M115 485.3h0M114.4 515.8h0M112.6 495.6h0M114.7 484.8h0M116.7 497.4h0M111.4 478.8h0M114 492h0M116.4 507.1h0M115.2 488.7h0M113.9 510.2h0M114.6 501.1h0M112.9 495h0M113.6 502.7h0M114.4 494.9h0M116.2 470.1h0M111.4 494.5h0M112.4 475.6h0M111.6 469.5h0M115 495.1h0M112.4 500.4h0M116.4 497.2h0M111.3 471h0M113.7 481.6h0M116 539.4h0M117.6 493.8h0M111.1 507.9h0M110.9 487.4h0M117.9 496.2h0M114.8 519.2h0M115.5 501.7h0M117.4 502.3h0M118.5 519.1h0M115.7 501.2h0M111.5 466.3h0M112.1 492.2h0M113.1 483.2h0M113.9 493.1h0M114.1 531.3h0M118.7 484.9h0M116.7 471.5h0M115.9 512.5h0M112.9 456.4h0M118.8 495.8h0M117.2 446h0M112.8 500.4h0M115.1 492h0M116.8 512.5h0M111.6 505.8h0M114.3 513.4h0" stroke="#ff0000" stroke-width="2.8" stroke-linecap="round" stroke-opacity="0.3" fill="none"/>
<path d="M117.7 483.8h0M115.4 494.7h0M113.7 473.5h0M117.7 467.5h0M118.2 476.1h0M113.7 463h0M111.2 507.3h0M117 510.2h0M115.3 480.6h0M113 499.5h0M114.9 525.5h0M112.8 498.1h0M116.9 499.5h0M115.6 461h0M115.3 480.8h0M113.2 469h0M116.8 479.7h0M117.6 496.9h0M112.7 493.1h0M118 475h0M113.5 513.8h0M115.4 511.3h0M116.9 506.4h0M112.5 500.7h0M111.5 473.2h0M116.9 485.7h0M113.9 494h0M118.7 552.4h0M113.2 475.9h0M114.4 482.5h0M113 519.3h0M115.2 488.2h0M115 478.9h0M118.3 528.2h0M114.3 502.9h0M114.2 517.6h0M117.6 498h0M118.9 520.8h0M116.5 473.2h0M117.9 495.5h0M111.3 497.3h0M111.6 500.8h0M117.4 504.6h0M111.7 484.2h0M111.2 486.5h0M114 505.9h0M116.8 488.9h0M116.8 514.7h0M118.5 500h0M112.9 497.2h0M117.3 467.1h0M111.5 529.2h0M118.5 489h0M117.7 483.5h0M115.3 494.6h0M110.8 530.5h0M114.3 484.2h0M114.8 470.3h0M118.2 502.8h0M112.5 477.4h0M115.8 492.2h0M118.9 478.4h0M113.6 518.9h0M112.3 502h0M118.6 486.1h0M111.5 509.2h0M112.4 476.3h0M112.7 494.3h0M116.7 481.7h0M117.4 476.9h0M112.4 504.6h0M118.8 511.8h0M112.8 496.5h0M112.2 489.2h0M114.4 500.7h0M118.5 486.4h0M114.1 477.7h0M114.5 494.8h0M113 491.7h0M118.3 490.7h0M116.3 485.1h0M116.9 490.3h0M113.2 513.6h0M113.7 502.9h0M118.1 488.4h0M115.3 497.6h0M116.4 496.8h0M113.9 463.5h0M117 496h0M111.1 500.2h0M116.5 450.4h0M113.9 447.3h0M111.9 497.4h0M112.5 490.3h0" stroke="#ff0000" stroke-width="2.8" stroke-linecap="round" stroke-opacity="0.3" fill="none"/>
<path d="M123.4 462h0M128.2 538h0M124.5 439.4h0M127.1 454.4h0M122.1 519.9h0M122.6 506.4h0M127.6 507.7h0M124.5 490.5h0M126.3 497.1h0M127.6 490h0M128.3 489.6h0M123.1 443h0M123.6 496.4h0M129 509.1h0M127.3 487.9h0M129.3 473.2h0M121.6 495.8h0M122.9 483h0M128.2 466.4h0M125 444.3h0M124.5 533.7h0M124.3 468.7h0M123.8 518h0M123.9 507h0M128.9 479.6h0M122.9 549.5h0M125.6 443.1h0M124.1 471.6h0M127.6 499h0M121.6 457.2h0M124.9 507.4h0M124.6 499.7h0M122.7 473.1h0M122.3 481h0M127.5 517.8h0M128.4 506.8h0M122.3 480.7h0" stroke="#ff0000" stroke-width="2.8" stroke-linecap="round" stroke-opacity="0.3" fill="none"/>
<path d="M127.4 477.9h0M124.2 480.4h0M122.1 459.7h0M129.1 504h0M128.4 510.5h0M126.6 534h0M127.5 498.3h0M124.4 469.9h0M124.4 435.8h0M121.8 455h0M123 489.9h0M125.9 499.1h0M126.7 520.9h0M126.2 492.2h0M128.7 466.8h0M124.9 499.4h0M123.7 459.5h0M124.5 534.3h0M125.6 501.4h0M128.8 493.4h0M128.9 477.7h0M123.3 535.4h0M121.6 497h0M123.1 516.9h0M124.1 491.9h0M121.3 490.5h0M121.5 447.3h0M129.5 477.2h0M123.9 519.1h0M121.5 487.9h0M129.6 479.1h0M128.7 480.8h0M124.7 512.1h0M127.4 455.1h0M127.6 473.7h0M128.4 441.1h0" stroke="#ff0000" stroke-width="2.8" stroke-linecap="round" stroke-opacity="0.3" fill="none"/>
<path d="M121.5 493.8h0M127.6 508.5h0M124.6 478.3h0M126.4 484h0M122.6 477h0M125.4 457.2h0M127.5 470.5h0M126.6 485.8h0M123.9 519.6h0M126.4 481.7h0M127.2 507.3h0M126.9 510.3h0M123.9 466h0M123.5 434.3h0M122.7 502.4h0M127.4 519.5h0M128.1 467.6h0M128.7 509.1h0M124.7 448.4h0M127.3 448.6h0M127.3 438.3h0M122.1 478.1h0M127.9 504.8h0M122.3 461.8h0M127.1 485.4h0M127.9 485.7h0M124.3 486h0M124.5 529.1h0M122.8 449.7h0M122.3 470h0M121.8 524.1h0M129.6 483.9h0M121.5 481.6h0M128.6 472.7h0M123.8 467.8h0M127.6 490.5h0" stroke="#ff0000" stroke-width="2.8" stroke-linecap="round" stroke-opacity="0.3" fill="none"/>
<path d="M128.3 518.1h0M126.3 471.4h0M123 478h0M121.8 476.5h0M127.6 477.5h0M127.1 501.5h0M122 494.1h0M128.2 499.3h0M121.6 486.8h0M123.1 499.1h0M123 504.8h0M127.8 493.6h0M124.7 439.7h0M128 514.4h0M128 491.8h0M123.3 482.6h0M122 477.9h0M124.7 477.7h0M123.5 526.3h0M129.2 490.7h0M123.2 486.9h0M128 513.4h0M125.2 503h0M129 438.1h0M127.1 507.3h0M121.9 430.9h0M128.4 457.5h0M125.4 481.5h0M128.4 483.9h0M124 464.8h0M126 457.8h0M122.5 512.2h0M127.2 457.7h0M126.4 474.7h0M125.4 459h0M126.9 478.2h0" stroke="#ff0000" stroke-width="2.8" stroke-linecap="round" stroke-opacity="0.3" fill="none"/>
<path d="M124.6 476.6h0M124 491.1h0M125.7 455.2h0M122.5 493.6h0M124.6 472.7h0M123.5 524.4h0M129.5 484.8h0M121.6 472.7h0M128.9 475.6h0M128.1 523h0M129 466.8h0M127.9 512h0M122.4 492.1h0M129.3 490.9h0M122.3 485.6h0M122.6 499.7h0M127.1 483.8h0M127.2 505h0M124.6 505.2h0M125.8 483.9h0M129.5 479.5h0M124.7 538.2h0M126.3 500.6h0M122.2 515.3h0M122 484.8h0M127 498.9h0M127.1 506.1h0M125.9 493.1h0M123.4 471.5h0M122.5 472.1h0M129.6 529.3h0M125.4 517.8h0M128 513.9h0M121.7 460.8h0M126.4 491.3h0M125.4 489.3h0" stroke="#ff0000" stroke-width="2.8" stroke-linecap="round" stroke-opacity="0.3" fill="none"/>
<path d="M127.6 457.3h0M128.1 484.1h0M125.9 462.2h0M127.2 501.2h0M126.4 474h0M124.7 492.8h0M125.2 445.4h0M127.5 490.6h0M125.2 489.4h0M127.6 511h0M124.2 498.5h0M126.3 505.6h0M128.5 502h0M126.2 502.8h0M126.5 475.4h0M123.2 502.2h0M126.2 473h0M127.9 512.3h0M122.4 493h0M121.5 508.9h0M126.1 491.7h0M125.8 493.6h0M129.2 472h0M128.9 520.9h0M128.4 475.9h0M128.1 500.8h0M128 503.9h0M127.1 491.8h0M123.4 453.2h0M128.1 483.7h0M128.6 454.6h0M121.5 489.4h0M125.8 483h0M122.1 526h0M129.5 517.2h0M129.5 455.7h0" stroke="#ff0000" stroke-width="2.8" stroke-linecap="round" stroke-opacity="0.3" fill="none"/>
<path d="M131.8 490.5h0M137.5 496.5h0M132.7 476.5h0M136.5 449.8h0M136.5 490.9h0M135.9 473.7h0M132.5 474.1h0M132.4 487.1h0M132 483.8h0M139.2 479.3h0M133.5 458h0M134.1 461.8h0M134.5 501.6h0M136.4 529.7h0M133.8 496.4h0M139.8 458.2h0M134.4 445.9h0M138.6 478.6h0M137.2 489.8h0M139.1 525.3h0M138.9 512.5h0M140.1 506.8h0M131.8 488.1h0M133.2 503.7h0M136 455.7h0M138.3 530.3h0M136.8 547.4h0M139.8 449.7h0M137.4 479h0M135.3 445.7h0M136.4 528.3h0M132.6 495.3h0M139.4 507.9h0M132.8 481.8h0M131.8 515.9h0M132.5 501.3h0M139.3 498.6h0M134.3 509.8h0M133.2 479.3h0M135.3 509.1h0M133.3 488.9h0M139.2 479h0M134 487.4h0M140 511.8h0M133 483.5h0M139.7 539.8h0M131.8 538h0M135.7 483.6h0M140 527.3h0M134.5 450h0M136.7 477.8h0" stroke="#ff0000" stroke-width="2.8" stroke-linecap="round" stroke-opacity="0.3" fill="none"/>
<path d="M133.6 501.8h0M135.6 471h0M132.8 473.4h0M138.2 472.4h0M132 488h0M135.2 480.4h0M138.2 451.6h0M134.9 487.7h0M134.5 500h0M137.2 531.6h0M137.4 499.8h0M135.3 500.5h0M138.7 498.8h0M135.9 487.7h0M135.3 489.8h0M134.5 463.4h0M135.8 485.2h0M136.8 512.8h0M137.9 495.2h0M137.1 488.4h0M133 473.9h0M137.6 478.8h0M135.2 465.4h0M134.8 495.8h0M136.7 479h0M138.1 501.3h0M134.7 478.2h0M134.6 447.4h0M134.4 558h0M135.4 527.1h0M140 495.6h0M134 495.6h0M136.3 516.5h0M138.7 473.6h0M137.6 454.2h0M133.4 493.7h0M140.1 461.7h0M133.1 470.1h0M132.8 499.1h0M137.9 486.4h0M132.6 486.1h0M137.2 518.6h0M135.6 488h0M137.4 478h0M133.9 490.8h0M132.6 520.2h0M134.8 524.6h0M137.5 494.4h0M133.7 496h0M137.7 479.2h0M138.1 523h0" stroke="#ff0000" stroke-width="2.8" stroke-linecap="round" stroke-opacity="0.3" fill="none"/>
<path d="M133.2 472.4h0M133.2 489.3h0M136 493.7h0M133.4 495.8h0M132.5 549.5h0M132.7 509.4h0M138.5 489.3h0M131.8 488.6h0M138.6 481.1h0M139.6 517.6h0M139.8 506.8h0M133.7 524.8h0M139.5 473h0M133.4 482.2h0M139.5 509.8h0M134.2 497.5h0M139.6 494.7h0M132.1 504h0M137.5 488.9h0M135.9 505.3h0M132.8 490.5h0M132.9 499h0M132.1 536.1h0M138.5 511.1h0M139.3 519.9h0M135.3 497h0M133.9 498.6h0M134.8 506.8h0M136.4 453h0M136.3 472.1h0M133 494.2h0M139.6 488.5h0M132.7 489.3h0M137.1 483.6h0M137.6 497.8h0M132.3 481.4h0M139.8 483.5h0M139.7 509h0M135.3 452.9h0M138.3 467.3h0M133.4 489.1h0M136 511.1h0M139.7 490.6h0M137.3 516.2h0M134.7 491.6h0M133.1 472.9h0M138.4 488.6h0M136.6 487.2h0M135.1 487.6h0M135.9 488.4h0M135.1 484.6h0" stroke="#ff0000" stroke-width="2.8" stroke-linecap="round" stroke-opacity="0.3" fill="none"/>
<path d="M140 541.4h0M133.4 457.1h0M132.8 474.9h0M136.7 485.1h0M135.7 494.7h0M139.8 514.8h0M139.8 503.8h0M138.8 496.2h0M135.8 497.5h0M139.9 510.4h0M139.2 535.9h0M137.3 490.7h0M137.9 463.4h0M135.2 550.7h0M139.2 482.1h0M131.8 504.3h0M137.1 501.9h0M132.4 507.6h0M138.5 529.5h0M138.5 482.9h0M136.4 492.1h0M138.4 481.9h0M135 525.7h0M137.9 503h0M133.8 554.8h0M134.2 486h0M134.4 511.7h0M135.5 493h0M134.4 530h0M132 489.4h0M133.7 474.5h0M134.4 489.8h0M138.4 489.9h0M134.3 445.5h0M133.1 477.8h0M133.8 488.3h0M136.2 469h0M138.7 485.9h0M138.4 480.2h0M133.3 519.8h0M139.3 501h0M132.7 537.6h0M136.8 487h0M135 512.8h0M132.5 461.7h0M137.2 503.3h0M139.1 513.6h0M134.3 490.6h0M140.1 507.4h0M139.9 506.2h0M137.9 487.6h0" stroke="#ff0000" stroke-width="2.8" stroke-linecap="round" stroke-opacity="0.3" fill="none"/>
<path d="M138.6 537.1h0M133.7 482.8h0M135.7 500.2h0M134.9 523.9h0M134.6 446.3h0M137.4 487.3h0M132.1 524h0M135.8 454.5h0M132.1 480.3h0M133.8 508.4h0M133.1 516.2h0M131.8 469.6h0M131.9 528.8h0M140 457.6h0M135.8 455h0M136.9 523h0M136.2 471.1h0M137 469.5h0M135.5 478.9h0M138.2 469.9h0M133.4 497.8h0M135.1 502.5h0M138.4 551.9h0M134.1 509.9h0M132.1 456.5h0M139.5 508.2h0M136.4 475.6h0M136.6 490.8h0M134.4 525.7h0M133.6 486.3h0M135.1 464.1h0M137.3 469.4h0M136.8 480h0M134.2 485.7h0M134.4 475.7h0M137.2 510.5h0M139 510.1h0M136.8 532.5h0M138.6 458.3h0M138 489.5h0M135.1 498.5h0M138.9 507.1h0M138.3 465.5h0M135 505.9h0M134.6 513.5h0M132.1 476h0M136.5 488.6h0M138.4 488.9h0M137 511.7h0M137.9 506.4h0" stroke="#ff0000" stroke-width="2.8" stroke-linecap="round" stroke-opacity="0.3" fill="none"/>
<path d="M138.5 482.7h0M138.5 504.2h0M134.6 499.5h0M136 461.9h0M136.7 463.3h0M138.3 492h0M132.5 497.9h0M138.3 525.6h0M136.6 539.5h0M136 510.1h0M137.2 463.4h0M131.7 464.9h0M138.5 474.4h0M135.2 449.3h0M137.5 509.9h0M138.3 486.6h0M136.3 500.8h0M132.7 488h0M132.5 482h0M136.8 459.4h0M135.2 522.1h0M139.1 475.7h0M137.3 507.7h0M134.8 519.7h0M139.8 489.7h0M131.8 481.5h0M135.7 477.4h0M139.7 523h0M135.3 470.2h0M138.8 472.9h0M139.2 487h0M139.6 492.1h0M133.9 515.4h0M138.2 448.8h0M136.3 515.8h0M137.7 538.3h0M134.5 465.4h0M136.5 516.7h0M135.1 480.1h0M139 502.8h0M138.1 474h0M139.7 497.3h0M134.7 525.3h0M132.5 480.8h0M134.3 449.8h0M132.3 514h0M135.1 463h0M133 532.9h0M138.3 485.7h0M132.6 509.9h0" stroke="#ff0000" stroke-width="2.8" stroke-linecap="round" stroke-opacity="0.3" fill="none"/>
<path d="M142.4 469.4h0M148.2 468.2h0M148.2 467.7h0" stroke="#0000ff" stroke-width="2.8" stroke-linecap="round" stroke-opacity="0.5" fill="none"/>
<path d="M153.5 517.1h0M154.3 493.9h0M156.8 480.2h0M160.7 538.7h0M156 510.1h0M157.1 501.9h0M160.1 505.3h0M157.3 521.2h0M153.1 489.3h0M157.5 509.3h0M159 500.5h0M155 488h0M154.6 498.7h0M160.9 485.7h0M153.8 502.4h0M154.2 525.6h0M158.8 477h0M158.8 498.6h0M159.5 484.4h0M155.6 512h0M157.9 482.1h0M154.5 499.2h0M154.6 493.8h0M158.8 491.4h0M160.7 488.8h0M160 521.3h0M157.9 496.8h0M156.8 493.8h0M155.4 503.7h0M153 487.1h0M158.1 490.2h0M153.3 519.8h0M156 487.7h0M152.8 499.6h0M156.1 499.1h0M156.7 493.3h0" stroke="#ff0000" stroke-width="2.8" stroke-linecap="round" stroke-opacity="0.5" fill="none"/>
<path d="M165.9 511.3h0M170.1 509.4h0M170.9 507.4h0M164.5 512.3h0M163.6 511.2h0M164.9 510.3h0M169.9 509h0M169.6 512.7h0M163.6 514.4h0" stroke="#0000ff" stroke-width="2.8" stroke-linecap="round" stroke-opacity="0.5" fill="none"/>
<path d="M173.8 509.5h0M175.6 502.1h0M174.7 526.7h0M180.2 525.1h0M174.7 518.9h0M180.9 494.2h0M179.4 552.5h0M176.4 554.9h0M174.6 502.7h0M174.1 531h0M179.2 509.9h0M181.1 542.3h0M177.2 476.2h0M175.7 538.6h0M179.6 528.4h0M174.3 543.5h0M181.4 523.5h0M179.9 547.9h0M174.6 526.1h0M177.6 564.8h0M177.7 552.5h0M178.2 528.5h0M178.8 537.5h0M177.3 534.7h0M181 558.1h0M181 503.2h0M181.1 569.3h0M175.1 520.2h0M175.9 552h0M178.8 537.1h0M179.4 534.1h0M173.9 528.8h0M180.9 529h0M174.9 550.5h0M176 560.6h0M179 514.1h0M178.4 549.5h0M181.4 524.3h0M175.4 532.4h0M176.8 515.9h0M177.6 500.3h0M178.4 501.7h0M179.6 568.7h0M180.1 528.2h0M176.8 514.1h0M178 516.9h0M178.8 523.8h0M179.5 509.9h0M180 507.9h0M177.7 493.2h0M177.2 529.9h0M174.7 543h0M180.2 569h0M178.2 521.8h0M182 557h0M177.6 542.4h0M177.1 534h0M175.5 516.7h0M179.7 529.9h0M174.3 560.1h0M177.8 533.6h0M177.4 514h0M176 526.3h0M173.6 525.3h0M182 505h0M175.9 552h0M177 507.7h0M175.9 528.5h0M177.5 504.3h0M181 501.7h0M173.6 559.6h0M179.5 521.2h0M177.8 485.9h0M178.6 528.3h0M177.7 534.3h0M176.6 551h0M179.5 565.6h0" stroke="#ff0000" stroke-width="2.8" stroke-linecap="round" stroke-opacity="0.3" fill="none"/>
<path d="M176.8 537.9h0M176 537.7h0M175.4 533.3h0M181.3 530.1h0M175.8 526.8h0M174.6 504.8h0M179 557.5h0M174.5 536.9h0M179 553h0M175.4 488.6h0M179.2 532h0M174.9 533.2h0M174.5 547.4h0M174.4 545.6h0M178.9 517.9h0M175 528.4h0M179.5 529.9h0M180.5 534.4h0M179.4 505.3h0M174.8 548.6h0M176 488.1h0M179.3 519.2h0M175.1 469.6h0M175.8 515.6h0M177.1 543.5h0M181 544.2h0M177.6 515.7h0M179 547.9h0M175.6 532.6h0M175.4 541.5h0M174.9 541.1h0M175.8 555.8h0M176.4 549.1h0M174.5 561h0M175 509.9h0M179.7 569.2h0M174 506.2h0M181.5 509.5h0M174.1 550.5h0M174.9 553.3h0M181.7 536.9h0M175.7 549.8h0M179.4 549.9h0M174.1 524.3h0M175.9 544.3h0M174.7 525.5h0M180.4 529h0M179.2 556.7h0M179.5 545.7h0M180.8 515.9h0M181.4 547.3h0M180.5 503.4h0M175.9 517.7h0M176.7 524.9h0M178.3 545.5h0M179.2 505h0M179.1 484.9h0M174.8 560.6h0M176.8 537.2h0M175.1 557.3h0M178.5 542.3h0M179.8 568h0M179.4 473.8h0M178.2 492.4h0M175 557.6h0M175.8 521.7h0M178.7 528.6h0M179.4 495.2h0M173.7 547.2h0M181.3 510.6h0M176.6 557h0M175.8 487.2h0M174.3 503.4h0M180.3 562.3h0M177.8 521.4h0M179.5 480.5h0" stroke="#ff0000" stroke-width="2.8" stroke-linecap="round" stroke-opacity="0.3" fill="none"/>
<path d="M174.3 535.3h0M179.3 507h0M174.8 497.3h0M174.2 528.8h0M179.2 537.6h0M178.8 528.2h0M177.6 534h0M175.1 542h0M179.6 542.8h0M178.2 564.4h0M175.3 532.6h0M174.8 548.9h0M178.8 492.4h0M181.9 484.5h0M174.9 553.9h0M179.3 535.1h0M177.5 542.1h0M178.8 530h0M178 535.5h0M181.6 546.5h0M181.2 525.4h0M179.6 566h0M181.1 534.1h0M178.3 543h0M180.2 534.9h0M180.8 512.9h0M175 536.9h0M177.8 539h0M180.5 517.7h0M179.5 508.6h0M174.5 530h0M179.6 510.1h0M176 535.7h0M174.6 561.4h0M177.3 516.7h0M178.8 555.4h0M174.5 529.9h0M175.7 560.6h0M179.6 534.9h0M180.7 495.1h0M175.6 527.4h0M177 538.3h0M175.3 525.5h0M175.3 477.2h0M181.5 514h0M175.7 526.3h0M176.4 528.5h0M176.1 492.8h0M180.4 530h0M181.7 471.3h0M180.1 483.7h0M175.4 537.4h0M178.6 563.9h0M176.9 498.5h0M175.2 501.8h0M173.7 553.1h0M177.3 516.4h0M177.2 518.7h0M178.8 556.9h0M174.8 544.3h0M180.5 535.6h0M181.5 501.5h0M179.6 556.6h0M176 541.8h0M177.9 476.4h0M180.8 575h0M177.3 539.1h0M176.3 516.3h0M179 543h0M175.6 538.2h0M177.2 522.4h0M181.2 530.4h0M178.1 555.2h0M177.2 557.7h0M176.2 537.4h0M177.4 529.8h0" stroke="#ff0000" stroke-width="2.8" stroke-linecap="round" stroke-opacity="0.3" fill="none"/>
<path d="M175.1 538.7h0M177.4 524.7h0M174.1 522.4h0M180.1 530.5h0M175.6 499.2h0M178.7 536.6h0M176.3 533.8h0M176.5 542.5h0M173.9 500.1h0M174.7 529h0M180.1 519.8h0M179.6 556.1h0M178.8 531.4h0M179.3 500.2h0M179.3 509.7h0M177.4 514.7h0M178.3 507.5h0M181.7 553.3h0M175.5 507.2h0M176.2 536.1h0M181.4 544.3h0M177.4 507h0M176.8 527.5h0M174.3 530.1h0M176.1 532.4h0M175.4 500.7h0M180.8 498.6h0M178.8 541.4h0M179.7 557h0M179.5 517h0M178.4 539.1h0M178.1 472.3h0M173.8 510.5h0M179.8 521.7h0M178.8 541.3h0M178.5 515.4h0M177 554h0M177.3 547.2h0M178.3 561.6h0M180.2 514.5h0M181.9 525.6h0M181.7 526.4h0M176.7 537.6h0M181.8 538.5h0M175.2 564.8h0M174.8 510h0M181.5 552h0M175 527.2h0M181.5 538.9h0M173.8 526h0M181.5 565.3h0M174.2 546.4h0M175.4 554.5h0M181.3 542.6h0M175.3 515h0M178.1 572.6h0M181.9 540.3h0M180.6 528.1h0M179.9 512.3h0M173.9 516.2h0M181.3 545.8h0M174.6 534.8h0M179.7 523.9h0M178.9 525h0M175.1 509.8h0M178.4 559.8h0M181.5 529.1h0M176.1 472.1h0M181.9 572.4h0M177.8 545.7h0M174.5 511.9h0M176.7 531.5h0M174.7 519.1h0M179.5 505.7h0M179.7 497.8h0M175.5 552.6h0" stroke="#ff0000" stroke-width="2.8" stroke-linecap="round" stroke-opacity="0.3" fill="none"/>
<path d="M174.9 515.4h0M178.5 520.9h0M177.8 497.7h0M174.1 513.5h0M176.1 516.7h0M179.2 552.1h0M181.9 565.8h0M175.9 538.2h0M177.8 546.6h0M175.8 538.8h0M178 494.9h0M174.9 515.4h0M174.5 523h0M179.2 522.8h0M180 564.8h0M178.2 540h0M175.5 527.6h0M178.5 524.5h0M175.4 538.3h0M177 479h0M180.3 529h0M178.2 511h0M178.7 524.1h0M176.1 538.8h0M178.6 520.6h0M178.3 497.6h0M177.4 513.7h0M178 530.7h0M175.6 527.8h0M179.4 535.7h0M175.7 551h0M181.5 548.8h0M177.7 525h0M180.1 468.3h0M180.5 558.8h0M181.8 552.7h0M175.3 491.8h0M181.8 529.4h0M180.5 552.3h0M181.4 496.7h0M173.8 511.8h0M175.7 535.3h0M175.9 548.5h0M175.5 520.7h0M180 539.9h0M177.7 524.3h0M175.7 519.7h0M181.3 529.9h0M181.4 538.2h0M173.9 514.5h0M175.2 542.4h0M179.9 489.9h0M175.6 498.1h0M175 537.4h0M176.2 534.2h0M173.6 520h0M180 511.1h0M174.2 526h0M177.6 551.2h0M181.9 517.6h0M177.2 571.7h0M177 520.1h0M176.1 558.3h0M174.7 523.6h0M178.8 570.5h0M176.6 556.1h0M174.7 527.6h0M180 493.1h0M178 532.5h0M181.8 523.7h0M177.4 521.2h0M180.6 510.9h0M181.5 496.9h0M181.7 549.1h0M177.9 533.3h0M177.6 503.2h0" stroke="#ff0000" stroke-width="2.8" stroke-linecap="round" stroke-opacity="0.3" fill="none"/>
<path d="M174.4 522.8h0M180 546.4h0M181.6 529.9h0M180.3 552.9h0M173.9 522h0M174.7 533.1h0M175.9 534.2h0M176.7 519.5h0M180.9 534.4h0M176.6 536.9h0M176.8 543h0M175 525.5h0M174.3 526.1h0M180.9 504.7h0M175 512.5h0M180.1 497.8h0M178.4 505.9h0M181 557.1h0M180.1 479.1h0M175.7 511.5h0M177.6 527.2h0M178.4 516.6h0M179.7 543.5h0M177.7 495.2h0M180.7 487.8h0M174.8 527h0M180.3 504.2h0M177.4 533.7h0M177.2 551.9h0M175.8 554h0M176.4 513.4h0M177.7 523.1h0M179.2 499.1h0M178.6 551.7h0M176.1 539.4h0M173.8 523.7h0M180.5 522.3h0M180.7 553.9h0M177.5 544.1h0M179.5 532h0M176.2 524.5h0M174.7 532.1h0M180.8 526.5h0M181.1 493.8h0M178 522.9h0M179.9 509.9h0M176 540.4h0M181.2 557h0M177.7 559.2h0M181.8 512h0M179.2 472.6h0M179.5 532.1h0M177.9 517.1h0M178.8 495.7h0M177.7 538.9h0M182 538.1h0M176.5 543.1h0M176.6 537.4h0M178.4 479.3h0M177.6 493.8h0M174.6 545.4h0M179.3 539.6h0M178.5 519.5h0M178.8 535.5h0M180.4 555.5h0M178.6 546.2h0M176 516.3h0M177.2 507.3h0M181.7 535h0M177.1 548.7h0M176.1 538.7h0M176.8 538.5h0M175.8 545.5h0M175.2 525.8h0M178.5 536.7h0M177.7 523h0" stroke="#ff0000" stroke-width="2.8" stroke-linecap="round" stroke-opacity="0.3" fill="none"/>
<path d="M185.2 529.1h0M185.6 525.9h0M186.2 507.8h0M191.4 523h0M187.7 515.9h0M186.3 517.5h0M190.4 508.6h0M186.4 524.7h0M190.5 520.4h0M185.6 523.4h0M192 520.1h0M189.6 506.2h0M186.8 534.2h0M185 531.8h0" stroke="#0000ff" stroke-width="2.8" stroke-linecap="round" stroke-opacity="0.35" fill="none"/>
<path d="M186.3 510.3h0M184.9 536.4h0M192 520.6h0M188.1 525.8h0M189.3 523.8h0M185.6 496.4h0M186.1 523.1h0M190.4 532.9h0M185.4 537.7h0M190.1 528.6h0M188 519.2h0M185.4 508.9h0M188.6 536.7h0M184.9 534.1h0" stroke="#0000ff" stroke-width="2.8" stroke-linecap="round" stroke-opacity="0.35" fill="none"/>
<path d="M190.7 518.8h0M191.1 502.3h0M190.9 514h0M186.4 524.8h0M185.8 511.3h0M186 521.8h0M185.6 527.1h0M186.1 524.3h0M187 498.9h0M184.5 521.9h0M185.5 493.1h0M185.6 525.9h0M187.5 527h0" stroke="#0000ff" stroke-width="2.8" stroke-linecap="round" stroke-opacity="0.35" fill="none"/>
<path d="M198.5 485.9h0M202.6 491.7h0M200.8 487.7h0M202.1 503.9h0M199.5 483.5h0M199.5 478.8h0M201.9 482.7h0M194.7 483.8h0M200.7 487.9h0M198 486.7h0M200 489.5h0M199.4 468.2h0M196.2 501.9h0M196.4 479.9h0M202.2 479.9h0M202.1 479.5h0" stroke="#ff0000" stroke-width="2.8" stroke-linecap="round" stroke-opacity="0.35" fill="none"/>
<path d="M196.6 490.9h0M199.6 499.5h0M198.9 488.2h0M197.1 483.7h0M198.2 478.1h0M195.4 484.4h0M196.2 468.1h0M196 485.2h0M199.5 490.6h0M201.8 493.1h0M199.7 483.7h0M198.7 480.7h0M196.4 488.9h0M199.4 468.6h0M200.7 470.7h0M200.8 489.2h0" stroke="#ff0000" stroke-width="2.8" stroke-linecap="round" stroke-opacity="0.35" fill="none"/>
<path d="M202.1 471.2h0M200.1 497.9h0M195.1 481.9h0M202.8 470.1h0M200.5 462.8h0M201.2 468.8h0M199.1 479.6h0M201.9 456.2h0M202.5 502h0M196 489.3h0M195.9 472.9h0M202.1 481.1h0M198.5 456.6h0M202.7 479.7h0M202.8 461.9h0M195.8 475.7h0" stroke="#ff0000" stroke-width="2.8" stroke-linecap="round" stroke-opacity="0.35" fill="none"/>
<path d="M208.5 522.2h0M206.6 470.7h0M205.8 499h0M207.1 503.2h0M212.5 472h0M205.5 504.5h0M212 514h0M211.2 515.4h0M211.9 488.1h0M209.2 468.4h0M205.6 500.3h0M208.6 517.6h0M209.2 544.9h0M211.6 492.7h0M208.5 481h0M211.5 496.6h0M206.9 501.6h0M207.3 490.1h0M210.2 461.4h0M208.3 487.7h0M206 472.5h0M206.4 498h0M210.5 487.8h0M207 485.7h0M210.3 477.7h0M209.1 476.5h0M209.1 493.4h0M209.4 501.1h0M209.6 483.9h0M205.2 500.6h0M208.7 475.4h0" stroke="#ff0000" stroke-width="2.8" stroke-linecap="round" stroke-opacity="0.3" fill="none"/>
<path d="M205 505.5h0M207.3 501.5h0M208.8 504.9h0M205.5 503.5h0M205.3 483.9h0M205.2 489.7h0M205.2 498.7h0M213.4 519.6h0M210.3 462.1h0M208.5 493.1h0M205.1 491.1h0M208.6 479.4h0M206.6 494.7h0M209.6 484.1h0M209.4 484.9h0M206.2 478.4h0M209.7 474.3h0M212.8 491.8h0M206.9 495.3h0M213 480.3h0M205.7 512.9h0M212.5 522.6h0M210.9 487h0M206.6 513.8h0M211.4 498.2h0M210.7 481.1h0M212.6 488h0M210.9 477.4h0M205 462.2h0M207.7 486.3h0M213.4 497.8h0" stroke="#ff0000" stroke-width="2.8" stroke-linecap="round" stroke-opacity="0.3" fill="none"/>
<path d="M210.5 484.1h0M207.7 480.3h0M207.8 493.2h0M206.2 488.7h0M212.2 461.6h0M213.4 458.1h0M209.7 477.6h0M208.4 486h0M208 493.6h0M209.7 482.9h0M206.4 463.4h0M209.3 525.7h0M213.2 488.8h0M207.5 511.7h0M206.9 491.3h0M205.3 441h0M210.6 464.3h0M205.4 484.1h0M207.5 503.5h0M208.5 524.1h0M209.6 474.6h0M205.6 508.3h0M208.4 489.9h0M211.2 495.2h0M207.1 499.7h0M206.1 482.3h0M205.6 484.4h0M205.8 485.1h0M207.6 490.2h0M212 495.4h0M209.3 522.1h0" stroke="#ff0000" stroke-width="2.8" stroke-linecap="round" stroke-opacity="0.3" fill="none"/>
<path d="M209.1 471.3h0M211 522.3h0M206.9 527.7h0M209.8 481.2h0M210.8 474.6h0M205.6 486.3h0M205.7 501.9h0M205 448.8h0M207.8 509.8h0M205.9 492.7h0M207.6 504.5h0M205.1 511.8h0M205.4 486.1h0M211.2 477.4h0M206.9 489.1h0M213.2 494.3h0M211.3 472h0M211.9 492.6h0M211.6 496.7h0M205.1 493.1h0M206 491.6h0M211.6 486.4h0M212.1 479h0M213.4 475.3h0M208.5 509.2h0M213.2 483.7h0M207.4 492.7h0M209.5 498.8h0M211.1 475.5h0M208.4 473.4h0M211.6 530.6h0" stroke="#ff0000" stroke-width="2.8" stroke-linecap="round" stroke-opacity="0.3" fill="none"/>
<path d="M210 557h0M206.3 484.3h0M206.6 483.5h0M213.1 535.1h0M210.8 500.6h0M211.1 463h0M211.8 512.9h0M210.7 477.3h0M207.6 468h0M207.7 471.9h0M212 507.6h0M212.7 505.2h0M208 511.5h0M211 490.5h0M212 491.6h0M209.6 500.1h0M210 515.8h0M208.6 493.6h0M206.2 484.4h0M209.3 493.3h0M210 505.5h0M208.9 516.6h0M211.9 516.2h0M210.6 474.2h0M210.5 484.2h0M206.3 486.5h0M209.5 511.4h0M212.9 484.3h0M211.7 494.5h0M209.5 483.7h0" stroke="#ff0000" stroke-width="2.8" stroke-linecap="round" stroke-opacity="0.3" fill="none"/>
<path d="M209.2 517.3h0M209.7 489.3h0M210.2 480.6h0M205.4 487.3h0M211.4 515.7h0M207.6 491.2h0M206 489.6h0M207.5 452.2h0M211.2 474.3h0M207.5 475.3h0M206.3 504.6h0M213 489.5h0M206.8 477.2h0M207.7 539.6h0M212.5 484.1h0M212.1 480.6h0M205.3 477.5h0M209.3 488.2h0M207.3 495.7h0M206.6 471.9h0M210.3 497h0M212.3 476.3h0M210.9 487.8h0M206.9 510.5h0M211.9 503.9h0M208 505.9h0M207.8 492.7h0M211.7 483.3h0M210.7 498.3h0M210 470.6h0" stroke="#ff0000" stroke-width="2.8" stroke-linecap="round" stroke-opacity="0.3" fill="none"/>
<path d="M217.9 519.9h0M219.3 487.9h0M222.4 532.1h0M219.2 483.1h0M221.9 535.2h0M222.1 504.5h0M218.7 539.2h0M219.3 531.2h0M215.6 528h0M216.1 533.9h0M223.2 504h0" stroke="#0000ff" stroke-width="2.8" stroke-linecap="round" stroke-opacity="0.5" fill="none"/>
<path d="M233.1 462.8h0M228.9 484h0M233.7 463.6h0M228 459.9h0M227.7 468.1h0M231.5 485.6h0M227.4 494.9h0M231.2 461.4h0M228.9 481.8h0M232.4 470.6h0M232.4 471.5h0M226.5 463.2h0M227.2 482h0M229.8 461.2h0M227.6 472.6h0M228.5 485.3h0M226.7 458.1h0M230.5 446.7h0M229.9 468.6h0M230.1 506.9h0M231.4 494.1h0M228.1 473.9h0M231.2 481.7h0M233.9 456.3h0M229.8 479.8h0M230.8 480.7h0" stroke="#ff0000" stroke-width="2.8" stroke-linecap="round" stroke-opacity="0.3" fill="none"/>
<path d="M233.9 481.3h0M226.1 488.6h0M233.5 491.7h0M228.6 491.2h0M229.3 446.9h0M230.1 460.1h0M229.2 467.5h0M234 487.4h0M229.5 495.7h0M229.9 477.3h0M228.4 466.2h0M231.8 515.5h0M230.8 473.3h0M233.9 468.9h0M232.1 475h0M232.1 479.9h0M230.8 471.8h0M232.1 485h0M227.6 471.5h0M232.4 464.6h0M227.2 478.1h0M228 463.6h0M227.3 464.7h0M226 436.5h0M231.3 441.1h0M231.1 456.7h0" stroke="#ff0000" stroke-width="2.8" stroke-linecap="round" stroke-opacity="0.3" fill="none"/>
<path d="M228.8 443.1h0M230.9 441.3h0M226.7 475.7h0M233 465.8h0M231.2 441.3h0M230.6 473.8h0M229.6 448.4h0M227 474.8h0M226.5 447h0M233.2 457.1h0M228.8 467h0M233.5 469.3h0M234 475.2h0M231.8 481.4h0M232.7 463.4h0M234.3 452.5h0M230.7 460.7h0M232.9 472.7h0M228.5 452.5h0M231.8 499.3h0M230.5 458.1h0M228.6 470.3h0M228.1 474h0M230.2 471.8h0M230.7 482.5h0M226.3 442h0" stroke="#ff0000" stroke-width="2.8" stroke-linecap="round" stroke-opacity="0.3" fill="none"/>
<path d="M226.1 452.1h0M227.4 484.6h0M230.7 482.4h0M233.9 501.3h0M232.6 466.6h0M233.4 434h0M228.7 470.9h0M229.9 469.9h0M226.9 486.5h0M234.2 478.5h0M227.9 508.7h0M231.7 457.9h0M232.1 491h0M228.3 489h0M227.9 457.8h0M226.1 453.6h0M230.5 515.4h0M234.3 461.2h0M232.9 513.2h0M230.5 507.9h0M226.6 474.7h0M230.6 496.2h0M233.8 463h0M226.4 467.8h0M231.4 490.6h0" stroke="#ff0000" stroke-width="2.8" stroke-linecap="round" stroke-opacity="0.3" fill="none"/>
<path d="M227 475.3h0M234.2 470.4h0M226.6 462.8h0M229.3 482.7h0M226.3 441.3h0M232.2 447.5h0M231.9 473.2h0M229.4 463.1h0M228.5 484.6h0M232.9 459.3h0M228.5 460.5h0M232 505.7h0M233.3 455.4h0M226.9 481.7h0M232 470.2h0M231 488.2h0M226.9 450.2h0M227.6 448.8h0M233.7 451.4h0M233.6 490.7h0M232.9 461.5h0M229.5 461.5h0M228.4 480.5h0M232.6 473.2h0M233.1 484.7h0" stroke="#ff0000" stroke-width="2.8" stroke-linecap="round" stroke-opacity="0.3" fill="none"/>
<path d="M227.8 467.3h0M227 474.3h0M228.3 473.8h0M227.5 470.2h0M229.2 484.9h0M229.2 498.2h0M227.9 485.3h0M230.8 469.5h0M231.7 479.8h0M231 489.2h0M232.4 469.4h0M230.6 464.7h0M232.4 468.3h0M227.6 484h0M230.4 453.2h0M227.9 494h0M231.6 453.8h0M233.9 482.5h0M231.3 466.2h0M233.3 453.5h0M232 479.3h0M229.1 475.7h0M232.8 477.3h0M227.8 464.8h0M230 455.3h0" stroke="#ff0000" stroke-width="2.8" stroke-linecap="round" stroke-opacity="0.3" fill="none"/>
<path d="M243.3 446.4h0M242.5 449.3h0M239 452.5h0M239.4 452.7h0M239.5 451.3h0" stroke="#0000ff" stroke-width="2.8" stroke-linecap="round" stroke-opacity="0.5" fill="none"/>
<path d="M251.5 494.8h0M249.3 497.5h0M247.7 527.1h0M253.1 505.4h0M253.6 472.9h0M253.7 477.5h0M254.5 482.4h0M248.2 494.2h0M254.3 490.4h0M254.3 496.3h0M253.7 475.7h0M247.5 498.7h0M249.8 486.9h0M254.6 475.4h0M249.4 486.7h0M251.5 501.2h0M251.5 487.9h0M250.1 484.5h0M247.2 486.6h0M254.5 482.9h0M252.5 476.6h0M247.4 473.7h0M250.2 485.7h0M252.9 476h0M254.6 477.2h0M252.4 490.6h0M252.5 495h0M254.8 487.1h0M253.3 487.9h0M250.8 484.6h0M252.8 491.2h0M248.5 473h0M250.5 487h0M253.9 482.3h0M253.2 473.3h0M252.2 486.8h0M253.1 498h0M255.2 481.8h0M249 500.7h0M254.6 485.7h0M250.7 485.5h0M254.3 500.1h0M251.5 501.9h0M250.8 485.5h0M253.1 483.2h0M251.8 483.7h0M254.4 484h0M250.3 462.9h0M248 486.8h0M249.8 494.5h0M248.5 499.1h0M251.2 473.7h0M247 507.1h0M254.5 486.8h0M248.7 451.4h0M252.5 515.6h0M247.5 486.8h0M247.3 473.7h0M249.8 517.2h0M247.8 499h0M247.9 483.6h0M254 499.6h0M251.6 519.8h0M247 482.1h0M248.2 515.8h0M248.9 481.8h0M247.4 494.5h0M252.2 483.1h0M250.4 479.4h0M248 484.7h0M253.1 506.8h0M249 485.5h0M248.1 480.7h0M253.5 488.6h0M253.3 512h0M248.4 499.2h0M255 486.9h0M254.3 475.9h0M254.9 463.3h0M250.8 492.1h0M252.6 501.6h0M254.5 470.3h0M249.1 516.1h0M251.9 501.8h0M247.6 484.2h0M247.3 472.4h0M249.4 486.9h0" stroke="#ff0000" stroke-width="2.8" stroke-linecap="round" stroke-opacity="0.3" fill="none"/>
<path d="M247.9 456.4h0M254.6 509.1h0M248.4 494.2h0M249.1 523.8h0M253.9 454.1h0M250.1 486h0M251.5 477.3h0M250.7 491.1h0M254.3 481.5h0M253.9 495.1h0M254.1 491.3h0M247.6 481.6h0M253.4 481.1h0M250.8 477.7h0M253.8 481.9h0M252.8 490.9h0M250.2 482.3h0M251.4 469.6h0M248.3 478.8h0M248.7 488.8h0M252.1 472.4h0M247.6 480.1h0M247.5 486.8h0M253.6 483.6h0M250 510.6h0M254.4 522.4h0M252.9 500.1h0M253 491.5h0M249.9 471h0M248.2 481.2h0M255.1 496.6h0M251.8 489.5h0M250.2 497.7h0M252.8 483.5h0M252.2 492.2h0M247.8 459.6h0M253 480h0M254.8 493.2h0M247.2 486h0M247.3 476.7h0M249.3 481.1h0M248.2 482.9h0M247.8 467h0M252.8 536h0M253.2 467.9h0M248 482.4h0M252.8 498.9h0M246.9 490.2h0M252.4 477.2h0M250.9 473.3h0M249.7 508h0M247.9 511.2h0M248.7 477h0M247.2 474.3h0M249.2 500.3h0M252.8 538.3h0M248.9 488.3h0M247.9 484.8h0M250.9 507.7h0M251 494.4h0M249.8 463.3h0M252 495.9h0M254.2 494.3h0M252.6 447.2h0M252.5 471.6h0M253.4 504.1h0M254.5 480.4h0M250.2 483.2h0M248.2 474.6h0M254.1 471.4h0M249.6 477.2h0M247.5 481.3h0M247.9 492.1h0M249.2 506.5h0M249.4 500.6h0M254 463.7h0M253.2 494.9h0M250.9 488.8h0M250.7 498.6h0M249.5 482.9h0M250 478.1h0M251.6 493.5h0M250.4 492.1h0M253.3 488.5h0M255.2 497.4h0M251.1 448.3h0M253.5 494h0" stroke="#ff0000" stroke-width="2.8" stroke-linecap="round" stroke-opacity="0.3" fill="none"/>
<path d="M248.6 471.5h0M249.6 484h0M255.3 471.3h0M252.9 480.9h0M248.3 477.7h0M250.8 465.2h0M247.6 488.8h0M250.6 477.8h0M248.7 485.2h0M247.9 504.4h0M249.9 465h0M248.8 459h0M253.7 478.3h0M248.9 469.4h0M249.6 486.5h0M255.2 463.5h0M252.5 469.5h0M248.9 493.9h0M252.1 483.8h0M247.7 488.5h0M249.2 479h0M248.8 478.1h0M250.2 497.2h0M253.9 479.7h0M254.9 486.9h0M253.1 472.3h0M249.1 482.1h0M247.8 493.9h0M251.3 480.5h0M251.7 486.1h0M248.1 500.8h0M247.8 478.5h0M249.9 444.9h0M253.9 485.3h0M250.5 473.2h0M255.1 491.7h0M249.5 472.3h0M249.2 478.9h0M252.1 502.7h0M252.7 486.7h0M249 488.7h0M253 488.3h0M253 472h0M253.2 452.3h0M249.6 490h0M247.8 504.9h0M251.1 481.5h0M251.5 470.7h0M248.3 485.6h0M252.8 478.4h0M253.9 476.1h0M248.8 465.1h0M254.2 498.7h0M254.3 485.6h0M248 495.3h0M249.7 489.7h0M252.3 487h0M249.8 474.4h0M252.8 472.9h0M247 497.1h0M253.9 476.6h0M252.3 470.2h0M247.4 552.3h0M251.6 478.5h0M253.5 518h0M254 490.6h0M252.9 485.4h0M253.3 470.1h0M247.3 485.5h0M254.4 496.3h0M252.9 454.5h0M254.6 475.4h0M248.9 473.1h0M247.2 480.4h0M252.6 485.9h0M253.9 484.4h0M248.6 483.8h0M253.3 491.3h0M252.8 478.8h0M248.9 482.1h0M248.5 495.9h0M254.2 485.7h0M250.3 490.1h0M254.6 461.3h0M247.6 478.3h0M247.2 486.1h0M252.3 480.4h0" stroke="#ff0000" stroke-width="2.8" stroke-linecap="round" stroke-opacity="0.3" fill="none"/>
<path d="M248.2 478.6h0M250.9 486.4h0M254.5 480.6h0M250.6 505.3h0M253.2 483.7h0M252.5 472.3h0M255 482.7h0M253.8 498.8h0M250.8 483.7h0M254.5 463.6h0M253.5 526.9h0M250.2 470.5h0M252.5 483h0M251.4 491.1h0M250.6 474.1h0M252.4 498.1h0M249.3 488.3h0M247 451h0M253.5 470.5h0M247.2 459h0M254.5 507.2h0M247.8 482.8h0M251 480h0M251.4 522.8h0M247.9 516.8h0M248.1 474.9h0M254.3 459h0M249.7 490.5h0M252.6 485.6h0M254.4 477.5h0M254.4 498.2h0M249.7 499.1h0M252.4 500.8h0M252.8 505.2h0M253.1 483.9h0M247.6 480.5h0M253.2 470h0M252.3 501.5h0M253.9 480.5h0M254.8 476.2h0M248.3 473.3h0M253.3 517.1h0M246.9 471.4h0M249.2 473.7h0M247.2 473.2h0M252.6 456.4h0M249.3 488h0M247.5 474.9h0M252.5 478.1h0M250.7 489.4h0M253 479.9h0M254.4 476.9h0M247 499.4h0M254.6 481.3h0M249.5 477.6h0M247.5 478.3h0M250.1 481.5h0M254.6 482.8h0M252.2 468.8h0M253.9 494.2h0M249.9 489.6h0M250.6 477.4h0M248.2 485.6h0M248.7 481.6h0M250.8 487.4h0M252.5 501.6h0M247.1 485h0M254.9 480.9h0M248.5 482.5h0M252.1 487h0M250.6 494.2h0M252.4 501.4h0M247.2 465.6h0M254.5 488.2h0M250 491.8h0M249.1 473.8h0M248.1 491.5h0M252.7 503.7h0M253.6 483.3h0M254.2 474.7h0M253.7 476.3h0M252.3 510.3h0M253.2 515.7h0M250 471.8h0M250.4 473.6h0M248.4 470.8h0M255.1 494.1h0" stroke="#ff0000" stroke-width="2.8" stroke-linecap="round" stroke-opacity="0.3" fill="none"/>
<path d="M247.6 500.3h0M251.6 488.4h0M254.4 492.1h0M250.5 477.7h0M251.3 554.9h0M251.4 500.3h0M253.8 490h0M253.5 486.3h0M250.3 459.9h0M250.3 493.5h0M248.4 481.7h0M248.4 468.6h0M249.8 550.6h0M248 468.7h0M249.5 479.3h0M248.2 493.2h0M253.6 485.1h0M251.6 483.8h0M249 480.7h0M252 478.4h0M250.6 507.8h0M250.2 480.7h0M252 484.5h0M254.4 470.9h0M253.4 451.6h0M253.2 483.4h0M254.2 491.1h0M255.2 469.2h0M255.2 492.2h0M247.4 486.1h0M250.3 501.5h0M252.8 506.9h0M252.8 478.9h0M247.7 482.1h0M252.4 479.6h0M253.6 468h0M249.2 479.5h0M249.8 490h0M255.1 506.3h0M249.7 522.3h0M250.3 483.1h0M250.8 511.2h0M255.2 484h0M251.8 484.8h0M250.8 489.5h0M252.8 480.6h0M248.7 498.1h0M254 476.8h0M253.1 474.2h0M248.4 506.1h0M252.5 474.2h0M249.2 480h0M249.3 467.3h0M248.3 542.4h0M253.9 449.9h0M247 490.6h0M255.1 481.8h0M249.8 478.3h0M251.6 488h0M251.6 507.2h0M251.4 479.7h0M248.3 477.6h0M253.7 483.3h0M254.5 496.8h0M249.5 481.5h0M250.7 503.4h0M254.3 499h0M252.7 477.8h0M248.9 474.2h0M247 491h0M251.8 497h0M253.7 482h0M252.1 476.3h0M249.3 478.2h0M253.7 486h0M252.4 498.6h0M253.7 494.9h0M250.7 494.3h0M251.6 477.3h0M248.7 473.7h0M254.2 457h0M253.4 477.5h0M252.7 491.8h0M248.5 476.4h0M251.5 488.2h0M249.4 440.2h0" stroke="#ff0000" stroke-width="2.8" stroke-linecap="round" stroke-opacity="0.3" fill="none"/>
<path d="M253.4 474.9h0M247.5 500.8h0M249.6 478.4h0M249.1 489.8h0M252.5 459.8h0M247.7 490.5h0M246.9 491.9h0M248.1 503.6h0M247 470.2h0M254.2 483.1h0M251.4 522.4h0M250.7 500.8h0M247.6 484h0M252.2 481.7h0M254.2 482.8h0M253 507.2h0M254.4 445h0M254.9 474.3h0M249.1 481.9h0M250.3 470.1h0M249.1 499.7h0M254 491h0M252.1 480.5h0M248.2 493.7h0M254.7 495h0M247 512.5h0M250.1 484.5h0M250.2 492.1h0M252.1 485.5h0M255 473.1h0M255 471.5h0M248 475.3h0M247.3 463h0M249.2 479.9h0M247.2 471.8h0M250.7 487.8h0M250 487.9h0M254.3 519.3h0M246.9 498.3h0M247.8 483.2h0M248.7 482.4h0M251.6 488.2h0M248.1 479.5h0M252.8 460.3h0M247.3 486.6h0M250 486.4h0M254.3 476.7h0M248.7 474.3h0M251.2 484.4h0M252.7 484h0M249.4 486.2h0M253.7 489.7h0M247.1 480.1h0M248.8 487.6h0M252.1 479.8h0M251.9 501.6h0M251.8 495.1h0M250.5 479.1h0M251.9 483.3h0M251.5 504h0M251.5 524.2h0M255.1 472.7h0M250.8 481.3h0M248 507.1h0M254.8 491.2h0M252.7 469.3h0M252 469.2h0M252.3 484h0M255.2 487.5h0M249.9 479.1h0M250.1 485.1h0M253.1 458.5h0M249 477.9h0M251.5 482h0M252.1 505.5h0M253.7 481.6h0M254.4 519.7h0M250.3 478.9h0M250.4 475.2h0M253.6 463h0M253 482.3h0M254.2 490.6h0M251.6 471h0M247.6 478.2h0M253.4 477.8h0M247 469.7h0" stroke="#ff0000" stroke-width="2.8" stroke-linecap="round" stroke-opacity="0.3" fill="none"/>
<path d="M257.4 511.7h0M258.7 488.8h0M257.8 499.4h0M263.4 485h0M261.8 487.8h0M260.5 501.7h0M264.3 486.4h0M260.1 484.2h0M260.8 503.3h0M263.4 493.8h0M257.8 490.9h0M260 498.9h0M261.1 491.8h0M261.1 490.3h0M257.5 488.9h0" stroke="#0000ff" stroke-width="2.8" stroke-linecap="round" stroke-opacity="0.35" fill="none"/>
<path d="M260.9 487.8h0M263 491.7h0M260.5 494h0M262.2 488.4h0M261.9 490.9h0M262.6 488.6h0M263.4 494.1h0M257.6 497.3h0M265 507.3h0M265.1 499.8h0M264.4 503.8h0M261.4 497.5h0M265.7 488.8h0M262.2 484.7h0M261.8 486.1h0" stroke="#0000ff" stroke-width="2.8" stroke-linecap="round" stroke-opacity="0.35" fill="none"/>
<path d="M259.9 488.8h0M261.7 483.7h0M264.3 498.8h0M260.4 486.8h0M258 493h0M264.1 481.4h0M258.6 483.8h0M265 484.9h0M260.5 511.1h0M259.3 494.3h0M261 498.1h0M264 481.5h0M265.6 493.8h0M261.1 487.5h0" stroke="#0000ff" stroke-width="2.8" stroke-linecap="round" stroke-opacity="0.35" fill="none"/>
<path d="M273.9 470.7h0M273.8 477.3h0M276 488.4h0M274 493.5h0M272.5 495.2h0M274.8 479.9h0M273.8 467.6h0M270.1 501.1h0M276 483.8h0M270.1 505.4h0M272.9 492h0M274 476.1h0M275.2 467.8h0M268.2 500.7h0M268.3 486.5h0M269.3 482.2h0M270.5 480.6h0M268.6 486.9h0M275.9 486h0M275.2 500.8h0M271.1 500.9h0M268.8 483.8h0M272.7 496h0M276 473.7h0M274.9 478.5h0M268.7 521.7h0M268.6 503.2h0M270.9 505.5h0M272 484.2h0M275.4 458.4h0M268.1 478.9h0M271.2 481.1h0M269.7 482h0" stroke="#ff0000" stroke-width="2.8" stroke-linecap="round" stroke-opacity="0.35" fill="none"/>
<path d="M269.4 485.3h0M271.1 495.2h0M268.9 479.2h0M274.2 460.3h0M271.4 502h0M273.1 480.5h0M274.4 494.6h0M268.9 486.5h0M274.7 475.8h0M268 477h0M272.3 475.5h0M275.7 459.9h0M275.1 468.3h0M273.1 482.2h0M269.1 498.1h0M271.1 482.5h0M268.2 516.7h0M269.1 475.6h0M270.6 520.8h0M268.3 472h0M276.1 484.6h0M271.8 491h0M270.1 463.7h0M275.9 491h0M271.5 507h0M271.7 469h0M275.1 509h0M269.7 470.2h0M275.9 459.4h0M271.4 500.4h0M268.3 482.9h0M272.9 493.4h0" stroke="#ff0000" stroke-width="2.8" stroke-linecap="round" stroke-opacity="0.35" fill="none"/>
<path d="M272.9 505.8h0M273.7 485.1h0M274.8 528.1h0M274.4 466.8h0M267.9 472.7h0M274.3 489.1h0M271.5 471.8h0M269.7 476h0M270.1 472.1h0M272 476.7h0M273.9 487.6h0M275.2 529.3h0M272.4 472.4h0M271.4 469.1h0M270.2 458.7h0M276.1 486.6h0M272.1 483.7h0M269 474.2h0M270.5 518h0M273.4 488.1h0M270.7 479.8h0M271.2 481.4h0M270.5 477.1h0M275 492.2h0M275.8 477.3h0M271.7 480.2h0M271.3 483.4h0M273.5 504.4h0M273.2 485.3h0M271.4 481.1h0M269.4 473.9h0M273.6 499.2h0" stroke="#ff0000" stroke-width="2.8" stroke-linecap="round" stroke-opacity="0.35" fill="none"/>
<path d="M283.1 466.6h0M279.7 478.9h0M283.6 476.9h0M278.5 468.4h0M286.1 478.9h0M283.2 478.2h0M283.8 478.7h0M283.9 497.3h0M281.4 502.8h0M285.7 468h0M280.8 491.3h0M281.8 491.5h0M286.5 481.5h0M284.6 514.5h0M282.1 495.3h0M286.6 461.1h0M282.5 468.8h0M281 476.9h0M285.5 471.6h0M283.3 488.8h0M279.4 478.3h0M280.3 472.4h0M281.1 477.8h0M279.8 483.5h0M286.4 479.9h0M284.4 492.5h0M285.3 487.1h0M279.6 497.8h0M284.2 495h0M284.5 482.9h0M282.3 464.7h0M278.5 490.9h0M283.2 505.4h0M284.7 455.5h0M285.4 471.4h0M285.5 496.5h0M282.5 525h0M283 520.2h0M283.2 483.1h0M286.7 508.4h0M282.7 507h0M282.9 480.9h0M280.4 482.2h0M285.3 459.5h0M278.4 503.4h0M283.4 495.2h0M285.5 475.7h0M280.8 510h0M278.5 499.3h0M282.6 477.9h0M284.2 507.3h0M281.2 478.1h0M285.7 506.7h0M285.7 489.8h0M285.9 483.7h0M285.7 482.7h0M282 504.3h0M284.7 471.3h0M279.4 489h0M279.1 545.7h0M283.8 477.9h0M279.1 471.8h0M280.4 480.4h0M279.8 480.2h0M286.2 489.8h0M286.2 493.1h0M283.1 493.5h0M283.4 483.8h0M281.7 500.4h0M283.5 499.8h0M285.1 503.9h0" stroke="#ff0000" stroke-width="2.8" stroke-linecap="round" stroke-opacity="0.3" fill="none"/>
<path d="M279.8 475.4h0M280.5 472.6h0M280.5 492.3h0M280.8 489.3h0M282.5 482.9h0M282.8 473.6h0M282.5 500.7h0M284.6 472.9h0M281.8 476.8h0M283.5 478.4h0M284.1 511.9h0M278.8 473.5h0M278.9 505.3h0M279.2 459.5h0M279.7 539.4h0M283.7 457.4h0M286.5 497.1h0M283.6 483.5h0M284.7 485.4h0M279.3 475h0M279.6 483.3h0M281.5 495.1h0M278.6 480.6h0M281.1 479.4h0M285.6 483.1h0M279.9 480h0M279 496.7h0M283.4 486.8h0M284.5 443.5h0M285 465.9h0M285.6 474.2h0M278.4 477.6h0M286.6 505.3h0M283.8 482.7h0M285.6 472.6h0M281.1 475.1h0M286.7 478.9h0M279 478.8h0M283.3 492.8h0M281.7 490.4h0M279 489.9h0M284 527h0M284.3 475.5h0M285.2 480.5h0M284.6 491.1h0M281.9 480.2h0M278.8 480.1h0M281 489.2h0M285.5 491.4h0M278.6 476h0M279.2 510.8h0M282.9 482.3h0M285.8 481.9h0M281.2 502.5h0M279.5 474.5h0M284.2 492.7h0M286.3 493.9h0M285 496h0M278.8 482.3h0M281.5 454.5h0M279.2 485.8h0M283.9 481.8h0M286 488.8h0M284.8 447.9h0M281.8 491.3h0M283.2 503.8h0M285.7 474.9h0M281.2 493.6h0M282.1 469.4h0M279.4 478.9h0" stroke="#ff0000" stroke-width="2.8" stroke-linecap="round" stroke-opacity="0.3" fill="none"/>
<path d="M284.8 492.8h0M280.5 491.5h0M283.4 505.6h0M285.2 486.5h0M282.5 472.4h0M278.7 480.3h0M282.1 480.4h0M284.2 497.7h0M284.9 478.3h0M284.9 487h0M284 504h0M285.8 510.4h0M286.2 452.2h0M280.9 493h0M284 483.8h0M286.5 474.5h0M279.1 500h0M280.5 471.1h0M280.2 497.9h0M284.3 483.2h0M286 503.7h0M279.2 504.4h0M282.7 481.3h0M280.2 480.4h0M280.7 472.6h0M282.9 485h0M281.4 498h0M281.8 502.1h0M285 500.2h0M279.3 482h0M285.8 466h0M284 497.4h0M285.6 493.6h0M286.3 478.9h0M278.4 485.9h0M280 496.3h0M280.1 495.4h0M281.5 478.9h0M285.7 482.4h0M285.3 485.4h0M283.6 457.6h0M285.7 492.7h0M283.1 486h0M282.8 530.4h0M285.6 505.8h0M279.9 496.5h0M284 531.2h0M283.1 491h0M278.7 472.5h0M281.5 467.3h0M281.9 490.2h0M280.5 472.4h0M282.7 491.7h0M282 479.9h0M281 478.7h0M283 479.1h0M280.4 486.6h0M281.2 479.9h0M282.1 484.4h0M280.6 488.6h0M285.1 474.7h0M283.9 468.6h0M285 480.7h0M284 473.6h0M285.2 470.1h0M279.6 503.4h0M283.4 505.6h0M286.6 465.5h0M282.4 468.6h0M283 490.9h0" stroke="#ff0000" stroke-width="2.8" stroke-linecap="round" stroke-opacity="0.3" fill="none"/>
<path d="M286 475h0M281.3 490.7h0M282 476.6h0M283.6 498.8h0M283.1 490.7h0M285.7 468.4h0M284.4 490.9h0M284.2 492.7h0M278.6 457.9h0M286 478.5h0M283.4 463.2h0M278.6 485.8h0M286.5 481.6h0M285.1 496.1h0M285.8 475.2h0M286.4 499.7h0M283.7 501.7h0M281.6 494.8h0M279.2 488.5h0M281.2 479.2h0M284.4 481.1h0M283.4 503.7h0M285.9 475.9h0M283.6 490.7h0M282.8 474.3h0M279.6 486.7h0M279.9 466.3h0M280.1 498.8h0M286.6 488.1h0M281.6 507.2h0M278.6 503.6h0M286.5 485.5h0M285.9 492.9h0M285.8 475.6h0M278.7 505.4h0M281.2 476.4h0M281.7 474.3h0M285.7 495.6h0M285.5 449.2h0M283 479.4h0M283.1 480.4h0M281.8 487.1h0M284.4 496.2h0M285.8 483.9h0M284.6 478.5h0M284.6 477.7h0M281.6 464.6h0M281.8 487.7h0M284.9 473.6h0M283 528h0M282 500.3h0M282.2 493h0M279.7 495.8h0M278.5 503.4h0M284 492.2h0M280.2 493.5h0M279.9 491.8h0M286.1 479.9h0M282.7 522h0M285.6 479.5h0M286.7 485.2h0M286.7 481.5h0M280.7 488.3h0M283.8 469.6h0M285.7 480.6h0M285 468.9h0M278.9 482.3h0M286.1 479.7h0M281.4 482.4h0M282.4 475.2h0" stroke="#ff0000" stroke-width="2.8" stroke-linecap="round" stroke-opacity="0.3" fill="none"/>
<path d="M281.5 483.9h0M283.7 507.5h0M280 489.5h0M279.9 465.9h0M285.3 479.1h0M286.2 481.8h0M278.9 501.3h0M279.1 479.8h0M280 478.7h0M280 485h0M283.5 494.4h0M279.7 473h0M285.6 493.7h0M279.8 492.9h0M281.4 473.8h0M280.1 518.8h0M281.5 493.5h0M280.5 475.2h0M280.5 473.5h0M280.7 470.7h0M284.2 464.4h0M285.7 497h0M281.3 488h0M283.8 493.5h0M282.5 463.5h0M284.3 491.3h0M284.2 484.5h0M284.9 441.4h0M279.9 480.7h0M279.6 470.9h0M280 475.2h0M282.9 478.8h0M279 492.1h0M279.2 456.8h0M286 485.9h0M279.8 467.3h0M282.3 477.6h0M279.5 494.3h0M284 476.8h0M279.9 504.4h0M279.6 474.6h0M281.7 516.8h0M281.3 488.9h0M284.4 484.3h0M284.8 487.9h0M279.2 471.6h0M282.5 486.7h0M282.5 488.7h0M286.7 476.7h0M286.3 478.2h0M284.1 491.4h0M278.8 516.7h0M279 489.5h0M279.2 488.5h0M284 469.3h0M281.4 480.2h0M284.6 492.3h0M282.5 477.2h0M282.9 489h0M285.8 478.1h0M281.9 440.9h0M284.7 497h0M284.5 521.1h0M285.9 477h0M278.8 473.6h0M285.5 486.4h0M281.5 499.7h0M286.3 518.9h0M284.2 473.3h0M278.5 464.5h0" stroke="#ff0000" stroke-width="2.8" stroke-linecap="round" stroke-opacity="0.3" fill="none"/>
<path d="M285.6 502.7h0M284.3 482.5h0M282.1 474.2h0M282.6 501.1h0M284.6 532.7h0M282.7 502.1h0M283.8 441.6h0M282.6 488.6h0M282.9 517.3h0M280.3 492.1h0M279.9 483.1h0M284.3 492h0M285 481.4h0M280 490h0M279.6 476.5h0M284.4 469.4h0M279.8 484.6h0M278.7 479.1h0M279.5 491.3h0M280.1 505.2h0M279.8 469h0M284.5 476.8h0M281.2 474.6h0M281.8 495.8h0M278.9 478.8h0M279.6 498.1h0M283.2 505.6h0M280.9 472.8h0M282.2 493.9h0M284.5 515.6h0M286.2 483.2h0M280.4 479.6h0M286.7 488.6h0M282.9 483.9h0M284.3 476.2h0M283.3 484.1h0M284.7 475.1h0M282.4 477.1h0M281 486.8h0M283.1 463.4h0M278.5 463.7h0M279.1 480.1h0M286 482.6h0M280.3 479.3h0M280.9 480.4h0M285.2 524.6h0M286.5 483.9h0M279.5 475.8h0M280 498.4h0M278.7 500.6h0M281 481.8h0M283.8 476.6h0M284.7 496.8h0M283.1 481.2h0M278.6 491.5h0M281.1 495.5h0M285.6 478.5h0M285.4 487.4h0M279.1 458.2h0M283.1 515.4h0M279.8 479.7h0M285.5 500.1h0M285.5 481.9h0M283.1 492.4h0M282.4 480.4h0M286.5 482.2h0M283.6 467h0M284.9 457.5h0M283.1 516.6h0M284.1 481.2h0" stroke="#ff0000" stroke-width="2.8" stroke-linecap="round" stroke-opacity="0.3" fill="none"/>
<path d="M291.1 518.3h0M293.2 485.3h0M294.6 479.8h0M295.8 474.5h0M296.1 489.7h0M289.4 471.8h0M296.6 486.9h0M294.5 477.1h0M289.5 481.4h0M289.8 509h0M290 534h0M292.9 500.1h0M290.4 499.8h0M293.5 473.9h0M290.7 491.8h0M289.1 478.7h0M297.1 524.6h0M289.4 493.4h0M290.4 477.9h0M291.2 526.8h0M293.6 533.7h0M289.6 498.1h0" stroke="#ff0000" stroke-width="2.8" stroke-linecap="round" stroke-opacity="0.35" fill="none"/>
<path d="M294.3 523.7h0M295.5 490.1h0M295.1 490.1h0M294.7 485h0M291.7 521.3h0M289.6 534.7h0M289.9 486.9h0M291.7 510.8h0M294.5 473.4h0M296 486.1h0M289.8 486.3h0M288.9 494.1h0M291 493h0M292.8 514.5h0M295.5 534.1h0M288.8 485.2h0M292.6 538.9h0M288.8 490.9h0M290.7 522h0M293.8 488.2h0M289.4 481.1h0M289.4 501.1h0" stroke="#ff0000" stroke-width="2.8" stroke-linecap="round" stroke-opacity="0.35" fill="none"/>
<path d="M296.2 513.6h0M293.6 491.3h0M289 488.9h0M290.7 487.1h0M294.3 487.4h0M294 499.2h0M292.1 493.9h0M289.8 481.8h0M297 528.7h0M293.8 555.2h0M290.4 504.2h0M290.4 519.9h0M289.6 511.1h0M295 478.1h0M289.3 492.8h0M290.8 538.6h0M294.3 505h0M292.1 486h0M294.9 517h0M292.7 488.4h0M293.9 511.1h0M294.2 536.9h0" stroke="#ff0000" stroke-width="2.8" stroke-linecap="round" stroke-opacity="0.35" fill="none"/>
<path d="M305.3 493.9h0M307.1 492.8h0M301.4 482h0M304.2 482.1h0M301.4 492.2h0M300.2 484.9h0M305.3 474h0M299.3 503.8h0M307.1 476.8h0M305.6 501.2h0M301.9 488.1h0M304 501.8h0M299.4 480.3h0M307.4 463.8h0M301.6 466.8h0M305.3 486.3h0M303.2 498.9h0M301.4 489h0M304.5 474.8h0M301.4 466.4h0M302 489.7h0M305 480h0M304.5 474h0M303.5 503.8h0M306.3 475.7h0" stroke="#0000ff" stroke-width="2.8" stroke-linecap="round" stroke-opacity="0.5" fill="none"/>
<path d="M312.4 502.5h0M314.5 491h0M317.6 471.7h0M313.1 497.9h0M310.4 463.1h0M314 486.7h0M309.8 461.7h0M314.1 489.7h0M314.6 490.8h0M314.7 496.5h0M312.7 481.1h0M312.1 448.7h0M315.2 484.3h0M310.8 479.6h0M310.6 464.8h0M318 473.7h0M311.6 485h0M314.3 482.3h0M310 499.4h0M317.3 457.7h0M313.9 491h0M313.6 489.5h0M317.1 466.4h0M312.4 482.4h0M315.1 488h0M315.3 479h0M310.5 488.2h0M315.2 486.4h0M316.4 481.9h0M315.9 491.6h0M312.3 484.4h0M313.6 489.3h0M315 495.5h0M311 446.7h0M311.2 494.9h0M316.2 485.8h0M309.7 486h0M316.2 480.7h0M313.2 472.2h0M314.3 491.3h0M312.6 483h0M309.7 487.7h0M314.7 490.9h0M316.5 488.9h0M311.6 489.5h0M310.9 476.6h0M313.8 486.7h0M313 495.9h0M316.7 493.3h0M318 481.6h0M311.1 487.5h0M312.3 442.9h0M317.9 490.1h0M311.9 491.4h0M318 472.2h0M313.2 476.2h0M316.1 486.6h0M314.5 485.1h0M315.1 487.6h0M311.2 492.3h0M312.4 493.8h0M314.9 481.9h0M311.1 461.8h0M316.4 486.2h0M311.5 494.5h0M312.1 455.6h0M314.4 471.1h0M313.8 485.5h0M312.9 464.3h0M312.9 481h0M312 489.8h0M313.3 492h0M315.6 485.1h0M315.3 496.5h0M315.7 461.4h0M317.4 474.2h0M311.4 487.6h0M318 477.4h0M312.5 481.6h0M314.2 496.6h0M317 467.9h0M316.1 482.4h0M313.2 501.7h0M310.6 487.9h0M311.2 489h0M310.2 484h0M311 467.1h0M310.6 493.9h0M312.7 489.7h0" stroke="#ff0000" stroke-width="2.8" stroke-linecap="round" stroke-opacity="0.3" fill="none"/>
<path d="M315 480.4h0M313.1 482.1h0M313 501.2h0M317.9 481.6h0M313.9 476h0M314.1 463h0M316 479.5h0M316.1 486.3h0M313.2 488.4h0M317 482.1h0M314.3 483.3h0M311 488.9h0M315.8 497.6h0M315.7 493h0M316.1 513h0M311 498.7h0M315.4 478.6h0M313.8 461h0M311.5 513.1h0M309.7 481.5h0M309.9 485.8h0M315.7 458.9h0M315.2 488.6h0M317.6 481.8h0M315.5 480.9h0M317.8 488.8h0M313.1 486.4h0M314.8 497.9h0M311.3 498h0M314.1 486.7h0M313.7 485.2h0M311.4 490.7h0M317.4 491.4h0M315.5 488.4h0M318 476.2h0M317.2 474.5h0M310.7 482.8h0M317.8 502.8h0M317.1 495.1h0M313.5 481.7h0M313.2 523.4h0M309.8 496.3h0M317.3 486.3h0M311.8 532h0M316.6 475.5h0M310.3 491.5h0M318.1 498.3h0M318.1 489.7h0M314.7 468.5h0M315.1 491.7h0M310.5 480h0M311.2 475.4h0M315.6 494.5h0M310.8 488h0M316.6 487.1h0M311.1 471.7h0M317.6 485.3h0M317.5 487.8h0M317.1 475.4h0M315 501.6h0M311.2 521.5h0M316.2 466.3h0M313.3 503.5h0M310.5 477.7h0M317.4 504.2h0M316 530h0M317.2 480.2h0M317.4 479.5h0M315.3 492.2h0M313.8 481.7h0M311.9 473.1h0M310 506.2h0M313.4 483.8h0M317.3 486.5h0M313.3 469.3h0M317.3 476.3h0M312.3 481.1h0M315.3 487.6h0M313 491.2h0M311.3 492.9h0M318 477.8h0M314.3 461.5h0M311.7 489h0M312.9 473.9h0M317.3 479.7h0M310 522.6h0M316.3 484.7h0M311.3 482.6h0M316.6 475.8h0" stroke="#ff0000" stroke-width="2.8" stroke-linecap="round" stroke-opacity="0.3" fill="none"/>
<path d="M310.7 483.7h0M314.4 466.6h0M310.4 494.9h0M315.2 478.6h0M313 478h0M311.8 483.8h0M317.5 492.6h0M315.4 504.9h0M317.8 490.3h0M317.8 485.3h0M314.6 482.8h0M316.9 481.2h0M309.9 488.5h0M314.8 479.8h0M316.5 524.2h0M315.5 491.5h0M315.1 486.7h0M315.2 494.2h0M316.3 479.4h0M310 477h0M313.9 479.8h0M312.4 489.3h0M317.7 498.5h0M313.5 469.7h0M314.6 489h0M317.8 482.8h0M316.5 481.5h0M316.1 481.9h0M310.9 488.4h0M316 486.7h0M310.9 469.3h0M312.8 483.5h0M316.5 470.6h0M314.5 478.3h0M316.5 472.4h0M312.9 496.9h0M317.4 492.3h0M315.6 489h0M317.2 502h0M314.6 470.4h0M315.4 490.7h0M311.7 484.5h0M317.3 486h0M310.7 488.1h0M315.8 519.2h0M315.3 484.2h0M312.2 478h0M317.1 481.2h0M313.5 478.2h0M313 491.1h0M315.6 465.6h0M312.7 483.9h0M311.6 485.3h0M310.9 499h0M310.2 498.9h0M311.3 485.5h0M314.6 487.7h0M314.5 484.1h0M313 480.1h0M312.5 506.3h0M310.3 472.4h0M309.9 481.4h0M314.3 486.3h0M314.3 469.3h0M310.5 450.3h0M312.3 485.5h0M314.2 479.5h0M311.2 483.6h0M314.3 472.5h0M312.3 493.2h0M317.4 514.5h0M317.3 493.1h0M314.3 503.2h0M309.9 485.6h0M314.2 469.6h0M312.9 502.4h0M313.7 482.9h0M314.1 457h0M316.8 502h0M310.1 487.1h0M317.3 469.9h0M317.5 488.9h0M313.8 487.6h0M315.2 489.8h0M311.8 483.9h0M316.3 520.5h0M312.8 480.4h0M315.9 485h0M316.5 498.1h0" stroke="#ff0000" stroke-width="2.8" stroke-linecap="round" stroke-opacity="0.3" fill="none"/>
<path d="M310.8 473.7h0M317.9 474.1h0M316.8 496.1h0M313.1 485.8h0M309.8 449.6h0M312.3 462.6h0M312 484.5h0M318 475.1h0M314.8 473.1h0M314.6 476.9h0M312.6 465.5h0M314.7 486h0M313.2 483.3h0M312.7 499.7h0M312.2 507.1h0M313.6 484.5h0M313.8 501.7h0M313.1 479.6h0M318 490.5h0M310.5 476.1h0M310.7 485.4h0M314.7 489.2h0M315.9 480.8h0M316.1 470.7h0M312.9 470.9h0M313.9 488.2h0M314.8 490.2h0M315.8 493.8h0M310.2 477.1h0M317.6 486.5h0M309.9 485.6h0M312.5 499.4h0M316.1 476.2h0M313.2 478.5h0M314 494.9h0M313 494.8h0M310.1 484.4h0M315 455.2h0M315 469h0M314.7 489.7h0M309.9 473.5h0M310.9 472.3h0M312.7 515.3h0M312.1 470.4h0M315.5 487.3h0M311.9 485.7h0M314.2 492.5h0M317.8 491.5h0M316.9 482.4h0M309.8 495.7h0M314.4 485.9h0M315.8 474.4h0M311.6 479.9h0M311.7 490.4h0M317.8 475h0M314.7 484.6h0M316.8 481.1h0M315.1 497.5h0M317.9 489.8h0M317.5 453.2h0M313 488.5h0M315.2 478.1h0M309.9 493.6h0M310.4 480.4h0M316.7 506.7h0M313.4 488.1h0M310.3 494.3h0M315.1 477h0M312.4 475.3h0M310.5 496.1h0M310.1 485.1h0M314.2 471.1h0M310.2 491.6h0M309.9 484.9h0M311.6 484.7h0M316 493.4h0M311.4 476.8h0M312 491.4h0M316.1 444.3h0M318.1 498.3h0M311.1 497.3h0M315.8 488.3h0M310.5 489.2h0M311.8 486.9h0M310.8 454.6h0M314.3 456.6h0M317.3 491.9h0M310.1 468.6h0M315.3 480.4h0" stroke="#ff0000" stroke-width="2.8" stroke-linecap="round" stroke-opacity="0.3" fill="none"/>
<path d="M318.1 486.9h0M314.7 519.7h0M310.2 489.9h0M316.6 471h0M316.4 478.5h0M313 458.8h0M310.8 476.3h0M315.6 473h0M314.7 476.2h0M315.1 506.2h0M311.5 504.5h0M317.4 479.9h0M314.5 518h0M311.5 491.4h0M310.3 478.4h0M317.4 494.4h0M310.2 472.6h0M313.4 499.9h0M317 444.2h0M309.8 481.9h0M315.6 496.2h0M310.1 474.7h0M310.1 479.2h0M313 496.1h0M315.2 491.2h0M316.5 503.5h0M315.8 482.6h0M310.2 463.2h0M316.8 490.6h0M317.2 494h0M311.6 475.6h0M309.9 486.1h0M313.7 505.3h0M312 495.6h0M312.1 490.1h0M316.2 498.4h0M312.8 477.4h0M315.6 468.9h0M311.1 486.6h0M317.5 482.2h0M311.1 500.2h0M312 477.4h0M311.7 483.2h0M311 478.5h0M316.5 481.1h0M316.8 464.8h0M311.7 486.7h0M312.6 478.5h0M310.8 485.6h0M313.4 494.8h0M317.9 495.4h0M317.6 494.9h0M313.6 467.2h0M311.8 469.1h0M311 488.2h0M311.9 491.3h0M310.1 479h0M314.3 491.4h0M310.6 468.5h0M314.6 457.9h0M309.8 467.8h0M312.3 478.4h0M315.5 446.9h0M312.2 484.3h0M316.6 481.2h0M316.4 497.3h0M310.2 478.1h0M311.1 478.4h0M315.8 475.9h0M311.3 482.1h0M318.1 470.8h0M313.9 490.5h0M309.9 475.7h0M314.6 492.4h0M316.7 495.2h0M310.2 479.5h0M316.5 499.5h0M311.1 465.4h0M310.2 481.9h0M310.2 482.3h0M316.2 487.6h0M315.3 459.1h0M317.9 493.3h0M312.9 502.1h0M310.6 482.3h0M313.3 489.4h0M310 471.9h0M311.4 461.2h0M312.1 493.7h0" stroke="#ff0000" stroke-width="2.8" stroke-linecap="round" stroke-opacity="0.3" fill="none"/>
<path d="M310.7 503.8h0M314.7 509h0M316.8 465.4h0M318 482.3h0M316.4 482.1h0M316.9 489.4h0M316 482.2h0M315 481.9h0M313.3 484.6h0M310.1 482.9h0M315.8 488.2h0M315.4 484h0M312.4 497.1h0M314.7 493.8h0M316.2 478.5h0M317.5 542.3h0M311.3 500h0M315.7 538.4h0M317.8 489h0M311.7 488.1h0M311.4 514.6h0M312.1 469.4h0M315.1 476.9h0M315 481h0M311.7 489.9h0M315.3 491.2h0M311.5 482.3h0M312.7 491.8h0M311.3 484.2h0M315.8 492.7h0M314.9 471.1h0M317.9 489.9h0M312.8 486.8h0M310 503.8h0M313.9 461.2h0M316.5 484.8h0M317.5 483.9h0M313.8 465.8h0M311.6 482.4h0M316.2 479.3h0M311.6 488.6h0M310.1 487.7h0M318 499.4h0M312.5 477.2h0M317.8 492.3h0M312.1 468.6h0M314.8 481.5h0M313.5 495.8h0M316.3 482.8h0M310.6 490.9h0M311.5 478.3h0M310.4 494.7h0M318 495.4h0M315.8 486.9h0M314.9 519.7h0M313 487.1h0M317.5 477.8h0M309.8 498.2h0M315.1 482.9h0M314.4 473.5h0M315.2 487.2h0M317.7 474.4h0M312 506.3h0M317.9 477.2h0M311.2 492.3h0M311.1 481.9h0M312.4 492.3h0M311.2 483.8h0M316.9 487.1h0M311.3 480.8h0M315.3 491.1h0M310 477.2h0M317.1 486.1h0M310.6 478.5h0M310.9 492.1h0M313.2 485.9h0M314.8 483.6h0M310.5 486.9h0M311.9 493.8h0M310.4 475.4h0M312.3 480.2h0M316.6 475.6h0M314.4 479.6h0M314.6 472.7h0M316.9 472h0M317.9 496.9h0M310.6 488h0M316.3 491h0" stroke="#ff0000" stroke-width="2.8" stroke-linecap="round" stroke-opacity="0.3" fill="none"/>
<path d="M320.9 498.7h0M320.6 473.6h0M321.4 472.6h0M320.7 497.5h0M323.7 471.6h0M322.6 471.4h0M327 465.3h0M326.9 477.5h0M321.5 483.1h0M326.3 469h0M325.6 464.8h0M328.2 459.6h0M326.1 491.2h0M328.3 486.7h0M326.4 459h0M326.2 466.5h0M325.9 468.3h0M325.5 483.6h0M323.7 464h0M324.1 466.5h0M328.3 491h0M323.7 481.8h0M324.7 477.5h0M327.8 490.3h0" stroke="#0000ff" stroke-width="2.8" stroke-linecap="round" stroke-opacity="0.35" fill="none"/>
<path d="M323.9 475.4h0M324.9 485.2h0M324.1 467h0M323.8 473.4h0M328.4 490.8h0M322 472.1h0M327.9 464.1h0M326 460h0M324.3 472h0M325.9 471.4h0M325.7 475.2h0M321.7 473.9h0M327.3 478.3h0M325.6 483.7h0M326.3 467.5h0M322.8 475.3h0M326.4 472.2h0M323.4 478.9h0M323.8 474.4h0M327.8 467.5h0M327.7 469.6h0M320.9 474.5h0M323.1 488.7h0M324.2 490.1h0" stroke="#0000ff" stroke-width="2.8" stroke-linecap="round" stroke-opacity="0.35" fill="none"/>
<path d="M328 477.5h0M327.1 489.5h0M326.4 477.1h0M322 472.6h0M321.8 481.5h0M325.7 471.8h0M321.4 474.3h0M328 499.9h0M321.4 474.1h0M328.2 469.3h0M323 485.6h0M324.6 484.5h0M323.4 471.2h0M326.5 461.3h0M325.7 470.8h0M321.9 482.2h0M324 467.2h0M320.9 486.2h0M328.3 464.1h0M326.3 501.8h0M322.5 478.1h0M326.8 469.5h0M321.9 493.9h0M327.4 487.8h0" stroke="#0000ff" stroke-width="2.8" stroke-linecap="round" stroke-opacity="0.35" fill="none"/>
<path d="M333.1 470.5h0M332.9 476.9h0M336.2 469.7h0M332.7 461.9h0M336.6 469.2h0M331.2 483.6h0M338.4 469.9h0M337.5 468.6h0M333.9 469.2h0M335.7 475.6h0M338 460.7h0M333.3 472.6h0M332.7 450.8h0M334.7 467h0M333.1 469.6h0M334 471.6h0M331.3 494.5h0M332 464.6h0M336.3 465.4h0M331.8 461.1h0M336.5 489.7h0M331.6 473h0M333.9 468.7h0M332.6 497.9h0M334.5 464.5h0M332.2 477.5h0M335.1 466.6h0M330.7 464.1h0M331.3 469.8h0M332.2 443.6h0M333.1 440.4h0M331 470.5h0M332 472.3h0M334.8 459.8h0M333.6 468.2h0M331.2 456.7h0M332.7 483.6h0M335.7 460.1h0M337.6 463.9h0M338.5 465.1h0M330.7 471.4h0M333.1 462.5h0M331.2 473.9h0M338.6 526h0M334.3 459.1h0M337.3 467.8h0M335.8 526.1h0M338 477.9h0M332.9 457.5h0" stroke="#ff0000" stroke-width="2.8" stroke-linecap="round" stroke-opacity="0.3" fill="none"/>
<path d="M335.2 492.3h0M334.2 467.8h0M337 471.1h0M338.5 464.6h0M330.9 457.9h0M335.5 460.1h0M330.7 488h0M335.5 482.8h0M333.1 483.6h0M334.6 485h0M338.4 462.2h0M336.9 471.8h0M330.8 472.6h0M333.5 517.4h0M336.5 471.3h0M333.3 465.9h0M333.3 465h0M337 476.5h0M336.7 462.7h0M338.1 472.9h0M332.3 467.5h0M331.4 453.1h0M330.8 487.2h0M332.2 493.5h0M334.5 472.3h0M338.4 470.5h0M336.2 489.1h0M335.6 461.6h0M338.3 475.5h0M332.5 474.2h0M332.9 462.4h0M335.6 475.6h0M335.3 453.8h0M337.8 474.2h0M338.9 466.8h0M333.3 467.3h0M334.9 464.6h0M335.5 466h0M335.5 469.5h0M337.6 450.2h0M335.7 474.3h0M332.3 481.3h0M334.4 462.2h0M333.3 460.4h0M332.9 468.5h0M334.9 461.3h0M336.7 460.4h0M333.9 466.3h0M338.8 453.3h0" stroke="#ff0000" stroke-width="2.8" stroke-linecap="round" stroke-opacity="0.3" fill="none"/>
<path d="M334.4 472.7h0M332.4 472h0M338 494.7h0M331.3 477.2h0M332 460.9h0M334.2 485.8h0M334.8 454.2h0M335.4 463.5h0M333.6 467.9h0M335.4 461.7h0M335.7 478.4h0M332 460.4h0M331.2 452.6h0M333.7 472.9h0M333.1 462.9h0M332.9 489.1h0M333.3 470.6h0M336.8 474h0M333.5 470.2h0M336.1 460h0M332.4 475.6h0M338.2 496.6h0M332 467.5h0M335 458.4h0M336.2 461.9h0M338.7 473.7h0M338.6 477.7h0M333.6 471.7h0M337.5 462.8h0M336 489.2h0M338.7 468.3h0M338.7 478.2h0M336.8 454h0M334.5 487.4h0M331 467h0M337.3 457.4h0M338 461.9h0M333.8 465.9h0M334.4 474.5h0M333.4 445h0M332.5 449.7h0M334.4 472.6h0M335.1 463.9h0M338.4 483.4h0M333.8 462.1h0M334 461.9h0M336.4 471.4h0M335.3 478.3h0" stroke="#ff0000" stroke-width="2.8" stroke-linecap="round" stroke-opacity="0.3" fill="none"/>
<path d="M337.6 461.6h0M332.9 491.6h0M331.5 464.7h0M332.4 453.4h0M330.8 489.4h0M336.2 478.2h0M333.1 468.3h0M332 474.7h0M338.5 461.2h0M332.2 471.3h0M331.4 469h0M333.6 464.2h0M338.6 479.8h0M335.2 468.1h0M338.1 469.1h0M335.6 463.1h0M336.2 464.9h0M335.6 461.6h0M331 488.6h0M332.9 461.9h0M338.6 482.5h0M334.9 480.6h0M332.9 466.8h0M338.4 456.6h0M334 475.8h0M331.9 480.6h0M331.7 477.5h0M336.5 463.8h0M334.5 472.8h0M337.4 487h0M338.2 467.2h0M338.4 457.2h0M332.6 473.1h0M338.6 461.9h0M332.7 460.7h0M336.4 440.5h0M333.9 546.2h0M334 488.3h0M335.3 461.6h0M335.4 465h0M334.3 467.4h0M336.1 443.7h0M333.9 482.3h0M334.2 506.2h0M333.4 454.1h0M337.1 467.5h0M336.4 454.4h0M336.3 482.5h0" stroke="#ff0000" stroke-width="2.8" stroke-linecap="round" stroke-opacity="0.3" fill="none"/>
<path d="M336.3 458h0M337.5 448.9h0M335 486.4h0M331.2 462h0M333 461.8h0M334.4 453.2h0M334.3 451.2h0M339 471.1h0M331.9 475.9h0M332.8 486.3h0M336.6 463.7h0M337.8 469.5h0M331.7 478.8h0M334.8 462.4h0M338.5 474.5h0M333.4 438.9h0M330.7 464.8h0M334.7 468.7h0M338.8 469.4h0M335.5 459.9h0M339 471.1h0M331.5 461.8h0M333 483.8h0M337.3 477.1h0M334.7 456.3h0M335.7 462.4h0M331.2 533.5h0M332.1 444.2h0M335 462h0M337.4 485.7h0M333.5 466.1h0M337.4 464.7h0M334.7 485h0M337.5 453.7h0M338.9 471h0M337.2 472.3h0M338.7 468.5h0M333.3 501.4h0M334.2 443.6h0M335.3 472.2h0M334.8 473.9h0M331.2 492.3h0M332.4 462.7h0M336.8 513.6h0M330.9 477.6h0M338.2 470.3h0M332 477.5h0M333.1 463.5h0" stroke="#ff0000" stroke-width="2.8" stroke-linecap="round" stroke-opacity="0.3" fill="none"/>
<path d="M331.7 468.5h0M334.1 462.3h0M335.7 466.9h0M337.4 463.8h0M331.2 459.1h0M338 458.5h0M333.3 498.6h0M332.5 479.2h0M338.4 466.8h0M331.2 452.2h0M336.2 472.7h0M331.9 475h0M334.4 474.4h0M334.7 461.2h0M331.1 487.1h0M337.6 470.8h0M332 475.4h0M333.9 456.4h0M338.8 466.9h0M334.7 460.9h0M332.5 507.1h0M331.3 460.8h0M337.1 476.8h0M338.8 480.8h0M331.1 458.2h0M335 458.3h0M336.6 457.4h0M330.9 471.9h0M336.7 474.8h0M331.2 471.9h0M337.9 498.9h0M335.8 458.5h0M335.1 460.9h0M336.7 459.3h0M334.4 472.7h0M335.6 466.4h0M337.9 454.2h0M335.9 441.2h0M338.3 465.6h0M337.6 452.6h0M337.8 464.9h0M337.7 470.9h0M338.1 479.2h0M334.1 468.4h0M332.2 465.7h0M333.3 467.3h0M332.8 457.8h0M335.9 474.4h0" stroke="#ff0000" stroke-width="2.8" stroke-linecap="round" stroke-opacity="0.3" fill="none"/>
<path d="M348.2 500.4h0M346.4 473.1h0M348.1 478.8h0M346.1 482.9h0M349 472h0M349.3 471.6h0M343.9 482.8h0M341.5 506.1h0M349.4 469h0M346.3 493.1h0M342.2 478.8h0M345.1 468.2h0M346.3 473h0M346.9 467.8h0M345.8 501.7h0M344.6 489.1h0M342.2 471.1h0M341.8 473h0M345.8 479.2h0M346.7 493.3h0M346.8 492.5h0M348.9 472.8h0M347.8 472.8h0M348.9 472.5h0M348 483.7h0M344.5 484.6h0M345.7 493.2h0M341.4 505.1h0M343.2 477.3h0M343.3 471h0M349 473.5h0M345.7 460.6h0" stroke="#0000ff" stroke-width="2.8" stroke-linecap="round" stroke-opacity="0.5" fill="none"/>
<path d="M352.6 486.2h0M355 483.7h0M356.7 465.5h0M355.6 497.1h0M359 499.3h0M358.8 467.8h0M354 518.4h0M356.1 514.6h0M356.3 488h0M353 502.4h0M356.1 485.1h0M359.2 520.3h0M355 498.2h0M352 520.4h0M358.7 534.7h0M355 479.5h0M355.9 469.4h0M353.1 500.7h0M356.4 489.6h0M360 504.6h0M357.6 523.8h0M358.6 490.4h0M357.9 489.5h0M356.1 489.8h0M356.8 459.7h0M352 527.1h0M352 537.8h0M353.2 479.5h0M357.2 462.9h0" stroke="#ff0000" stroke-width="2.8" stroke-linecap="round" stroke-opacity="0.3" fill="none"/>
<path d="M360 477.2h0M355.4 497.6h0M353.1 476.7h0M354.6 492.2h0M353.5 513.4h0M351.9 487.1h0M357.9 490.7h0M354.2 515.2h0M353.6 487.4h0M354 496.1h0M352 501.2h0M356.7 487.4h0M356.4 484.4h0M357.6 490.8h0M352.4 470.5h0M355.9 493.7h0M359.3 512.7h0M353.8 490.3h0M353.4 515.4h0M352.2 474.4h0M353 530.5h0M356.1 532.7h0M357.6 498.8h0M354 497.5h0M356.2 505.8h0M353.9 503.6h0M358.6 472h0M356.8 462h0M353.8 467.4h0" stroke="#ff0000" stroke-width="2.8" stroke-linecap="round" stroke-opacity="0.3" fill="none"/>
<path d="M356.7 529.7h0M352.2 486.9h0M359.2 539.6h0M355.6 482.6h0M355.4 507.6h0M353.1 480.6h0M355.8 451.8h0M355 508.4h0M358.9 490.1h0M351.8 489h0M353.6 522.7h0M351.7 478h0M357.5 472.7h0M358.2 460.7h0M354.8 481.9h0M359.2 484.2h0M357.7 483.4h0M353.4 505.3h0M357.3 469.4h0M357.9 524h0M353.1 497.9h0M355.4 496.5h0M359.2 489.7h0M355.6 484.5h0M355.7 476.5h0M351.6 565.2h0M358.4 513.1h0M358.2 503.7h0M354.2 481.8h0" stroke="#ff0000" stroke-width="2.8" stroke-linecap="round" stroke-opacity="0.3" fill="none"/>
<path d="M353.6 483.1h0M354.4 492.5h0M356.8 487.4h0M353.2 484.5h0M359.8 522.9h0M359.2 510.9h0M354.6 455.7h0M352.1 553.8h0M355.7 488h0M359.3 487.3h0M357.8 480h0M359.5 489.1h0M351.7 487.7h0M354.6 522.1h0M352.7 486.5h0M356.6 463.8h0M358.2 498.4h0M352.9 532.8h0M358.9 461.6h0M355.8 561.2h0M355.8 464.8h0M356.9 539.4h0M353.8 570.1h0M353.7 513.8h0M356.8 512.2h0M354 483.8h0M352.3 491.2h0M356.9 454.1h0M353.4 515.2h0" stroke="#ff0000" stroke-width="2.8" stroke-linecap="round" stroke-opacity="0.3" fill="none"/>
<path d="M352.1 457.2h0M354.4 557.3h0M357.2 491.3h0M352.7 533.6h0M358 501.3h0M355 476.1h0M355.5 528.7h0M356.5 475.5h0M356.9 457.6h0M358.1 510.8h0M358.7 554.9h0M356.5 483.4h0M356.7 548.2h0M355.7 483.4h0M359.6 518.9h0M357.7 508.1h0M352.8 459.8h0M353.3 509.7h0M356 478.2h0M354.8 480.3h0M359.8 495.5h0M358.1 454.7h0M357.1 510h0M352.3 492.2h0M354.1 487.8h0M358 465.4h0M358.6 462.8h0M358.2 506.6h0M356.8 511.7h0" stroke="#ff0000" stroke-width="2.8" stroke-linecap="round" stroke-opacity="0.3" fill="none"/>
<path d="M352.6 503.8h0M353.8 514.6h0M357.5 487.9h0M353.6 533.6h0M359 564.9h0M356.3 474.9h0M357 530h0M353.3 531.5h0M353 484.3h0M356.8 485.7h0M356.9 523h0M359.8 505.5h0M357.4 515.3h0M353.8 501.8h0M357.5 496.6h0M359.5 507.7h0M359.3 487.9h0M353.6 493.2h0M357.7 471.4h0M357.2 546.4h0M354.3 500.8h0M355.7 529.5h0M354.2 501.9h0M352 519.8h0M354.7 521h0M352.2 503.3h0M357.9 509.7h0M359.7 480.4h0" stroke="#ff0000" stroke-width="2.8" stroke-linecap="round" stroke-opacity="0.3" fill="none"/>
<path d="M364.5 472.6h0M363.6 451.2h0M365.3 456.1h0M364.7 468.9h0M364.7 459.2h0M365.8 454.3h0M365.8 499.1h0M364.9 440.7h0M366.9 460.2h0M368.9 464.5h0M363.5 481.4h0M363 462h0M369.3 459.3h0M363.7 454.8h0M362.3 474.6h0M366.6 451.3h0M368.8 442.4h0M367.4 479h0M367.1 458.1h0M363.3 466.2h0M362.5 471.7h0M367 469.8h0M367.9 475.7h0M366.5 468.7h0M364.4 449.6h0M363.1 487.3h0M369.7 464.7h0M364.6 464.1h0M366.6 450.8h0M367 456.5h0M362.6 466.2h0M370.4 464.5h0M370.4 450.6h0M365.5 453.6h0M367.8 452.8h0M366.7 478h0M369.6 458.8h0M368 477.6h0M369 459.9h0M366.8 460.5h0M367.6 456.8h0M364.6 463.1h0M364.7 474.6h0M363.2 445.7h0M368.1 464.5h0M368 463.3h0M366.9 461.4h0M369.3 489.2h0M365.8 453.2h0M368.4 496.7h0M363.3 455h0M364.7 450.2h0M363.1 477.2h0M366.8 467.5h0M368 451.9h0M368.9 486.4h0M365.7 450.4h0M368 490.2h0M362.1 462.2h0M369.4 450.7h0M367.9 467.4h0M362.5 461.2h0M365.6 467.5h0M366.3 474.5h0M366.5 457.2h0M368.5 464h0M367.6 479.6h0M369.8 435.6h0M363.1 462.7h0M368.9 468.8h0M369.7 444.2h0M365.9 465.4h0M364.2 482.8h0M365.2 451.4h0M366.3 452.8h0M366.2 467.2h0M369.6 468.2h0M365.2 452.3h0M370.2 473.7h0M369.8 462.4h0M363.7 477.9h0M362.8 454.8h0M366.5 468.5h0M364.3 453.6h0M369.1 467.5h0M366.2 451.4h0" stroke="#ff0000" stroke-width="2.8" stroke-linecap="round" stroke-opacity="0.3" fill="none"/>
<path d="M364.5 473.5h0M362.2 451.4h0M366.2 458.7h0M367.9 466.3h0M362.1 456h0M364.2 453.5h0M362.4 465.1h0M365.4 461.6h0M366.2 479.3h0M367.6 442h0M367.3 469h0M364.8 463.6h0M363.4 459.4h0M362.3 473.6h0M366.1 474.3h0M362.2 444.4h0M369 488.4h0M368.4 464.1h0M362.7 444.8h0M368.7 477h0M362.8 452.2h0M364.8 461.9h0M368.5 466.3h0M365.2 450.2h0M363.4 468.5h0M366.9 469.9h0M362.8 463h0M370.2 446.2h0M370.2 470.9h0M368.1 458.1h0M366.2 456.4h0M364.2 464.1h0M367.3 460.4h0M366.9 477.8h0M369.3 492.8h0M369.7 470.6h0M368 439h0M365.2 480.7h0M362.1 467.8h0M366.9 469.7h0M366.3 482.4h0M369.7 438.3h0M364.9 451h0M364.9 467.7h0M365.5 475.3h0M365.7 489.1h0M365.6 455.4h0M367.4 484.2h0M366.8 464.9h0M362.9 491.3h0M368.5 467.6h0M366.4 453.5h0M363.1 455.6h0M365 456.5h0M363.4 449h0M368.7 468.5h0M366 460.1h0M365.3 472.5h0M363.4 455.9h0M365.3 439.4h0M368 473.1h0M369.4 475.6h0M366.8 457.2h0M368.8 473.1h0M363.7 457.2h0M368.2 457.7h0M365.3 457.7h0M367.4 457.8h0M368.4 452.8h0M369.7 462.7h0M364.8 465.3h0M363.7 481.2h0M364.7 459.7h0M368.8 470.1h0M362.9 440.9h0M364.8 460.3h0M362.8 441.7h0M365.6 458.8h0M367.4 467.1h0M367.6 451.1h0M368.9 465.1h0M362.4 446.1h0M367.3 460.7h0M364.3 460.7h0M366.6 477h0M368.5 461.7h0" stroke="#ff0000" stroke-width="2.8" stroke-linecap="round" stroke-opacity="0.3" fill="none"/>
<path d="M363.3 461.8h0M363.9 467.8h0M366.9 454h0M367.4 463h0M368.4 477.7h0M364.8 453.2h0M369.8 449.8h0M364.6 463.3h0M365.4 468.6h0M366 482.5h0M367.1 465h0M364.6 471h0M363.7 452h0M365.8 476h0M363.2 479.3h0M365.6 460.3h0M366.1 466.7h0M366.5 446.6h0M370.1 465.4h0M366.2 471.7h0M365.3 460.2h0M362.1 463.4h0M368.3 454.2h0M362.1 472.4h0M366.3 467.4h0M363.2 455.4h0M370.3 458.1h0M366.7 476.1h0M365.8 457.9h0M369.8 499h0M370.4 458.3h0M366.4 489.1h0M367.4 458.2h0M369 453h0M363.3 450.9h0M369.5 461.6h0M368.9 468.5h0M367.4 499.7h0M365.6 459.3h0M368.4 470.4h0M368.4 455.2h0M370 500.6h0M362.1 480.1h0M365.2 474.4h0M364.1 475.4h0M369.7 462h0M369.8 453.4h0M370.1 454.1h0M366.3 462.2h0M365.8 466.8h0M370.4 470.1h0M368.9 464.9h0M369.7 450.8h0M363 480.2h0M364.3 449.8h0M363.5 434.9h0M362.3 460.2h0M368.5 455h0M369.4 454.7h0M369.8 471.7h0M364.4 473.4h0M370.4 437.8h0M367 452.2h0M362.8 469.3h0M364 462.5h0M367.2 468h0M368.8 489.9h0M367.4 497.2h0M363.2 454h0M367.8 469.2h0M363 451.8h0M369.5 450.4h0M367 464.1h0M369.3 464.9h0M369.8 451.8h0M369.7 481.7h0M369.3 457.2h0M365.4 456.5h0M368.8 456.3h0M366.7 461.7h0M363.5 463.5h0M366.9 461.3h0M368.6 449.5h0M367.2 462.4h0M363.8 452.4h0M366.2 469.3h0" stroke="#ff0000" stroke-width="2.8" stroke-linecap="round" stroke-opacity="0.3" fill="none"/>
<path d="M362.8 454h0M362.5 472.2h0M366.4 455.9h0M369.5 458.8h0M362.7 450.1h0M367.6 453h0M367.9 464.8h0M367.4 486.1h0M367.9 470.7h0M366.1 457h0M363 448.2h0M367.5 473h0M370.4 456.2h0M367.2 465.8h0M366.1 448.2h0M365.7 497.7h0M368.8 461.5h0M363.2 468.7h0M363.6 452.7h0M368 469.6h0M370.5 451.4h0M369.9 448.8h0M365.9 453.7h0M362.2 464.1h0M369.4 468.8h0M369.5 465.2h0M366.8 459.8h0M366.8 457.3h0M365.3 474.9h0M369.2 456.6h0M366.5 495.2h0M366.6 480.3h0M370.3 461.8h0M363 464.8h0M365.2 479.5h0M365.6 470.3h0M364.2 456.1h0M364 459.9h0M362.7 457.5h0M369.8 452.1h0M368.2 458.3h0M364.4 453h0M369 450.1h0M368.9 468.1h0M367.6 461.3h0M368.5 457h0M368.9 491.5h0M363.8 460.8h0M370.3 454.4h0M368.6 451.1h0M367.4 460.1h0M362.1 462.6h0M364.2 451.6h0M364.3 466.8h0M363.8 470.5h0M366 462.3h0M369 449.4h0M368.1 460.1h0M362.6 459.6h0M365.6 465.7h0M368.5 463.7h0M365.5 499.7h0M367.8 457.6h0M366.2 468.7h0M366.6 461.5h0M366.8 450.3h0M367 496.1h0M365.1 469.8h0M367 468.8h0M362.7 485.2h0M363 471.3h0M369.6 467.9h0M370.1 473.3h0M369.4 460.5h0M368.1 474.6h0M363.5 461.2h0M365.6 459.4h0M368.2 478.7h0M370.2 462.7h0M366 452.5h0M362.3 482.7h0M365.4 454.4h0M369.5 472.5h0M362.6 452.8h0M366.3 450.9h0M368.5 457.4h0" stroke="#ff0000" stroke-width="2.8" stroke-linecap="round" stroke-opacity="0.3" fill="none"/>
<path d="M363.5 461.9h0M366 464.2h0M366.1 455.2h0M370.4 454.3h0M368.6 479.7h0M365.2 474.3h0M368.5 488.2h0M363.5 452.1h0M365.9 459.2h0M367.5 447.9h0M363.4 472.4h0M366.4 455.9h0M363.5 467.9h0M368.8 466.3h0M362.2 459.8h0M362.3 474.9h0M363.1 449.4h0M369 466.7h0M366.6 478.5h0M369.1 470.2h0M369.9 452.3h0M364.7 463.3h0M369.3 470.7h0M368.8 465.2h0M366.5 456.6h0M362.9 479.8h0M362.5 442.4h0M366 463.2h0M369.8 457.2h0M368.9 519.9h0M366.4 471.5h0M363.8 462.8h0M364.7 443.1h0M368.9 468.4h0M362.4 453.1h0M362.5 500h0M367.4 456.8h0M369.4 490.7h0M364.6 450.5h0M365 450.1h0M370.1 461.4h0M365.9 474.3h0M363.2 453h0M368.7 460.2h0M365.1 452.1h0M364.3 489.3h0M369.8 486.5h0M363.1 452.4h0M364.1 445.1h0M367.6 466.9h0M365 463.3h0M366.3 475.2h0M366.6 463.4h0M362.7 462.7h0M369.9 463.1h0M363.8 491h0M367.2 469.4h0M370.4 456.7h0M366 459.7h0M370.2 461.4h0M369.8 452.2h0M364.2 473h0M367.7 483.9h0M364.5 478.3h0M362.9 487.3h0M368.7 472.7h0M364.9 460.9h0M368.6 448.1h0M362.6 445.7h0M370.3 463.7h0M365 484.3h0M366.8 467.3h0M368 452.8h0M366.9 471.9h0M368.4 457.8h0M367.8 457.9h0M367 470.1h0M365.7 465.5h0M364.2 457.2h0M370.5 462.7h0M367.4 466.4h0M370.3 455.5h0M362.7 459h0M368.4 457h0M366.9 489.2h0M364.1 455.8h0" stroke="#ff0000" stroke-width="2.8" stroke-linecap="round" stroke-opacity="0.3" fill="none"/>
<path d="M364.4 460.2h0M368.7 445.7h0M365.9 455.1h0M368.7 464.5h0M369.3 481.9h0M367.9 455.5h0M364.8 469.3h0M365 458.8h0M367.1 485.5h0M367.8 459.7h0M364.2 457.1h0M364 461.3h0M369 450.1h0M365.4 455.2h0M366.7 472.5h0M366.3 466.3h0M363.3 453h0M369.8 456.9h0M364.6 470.4h0M367.6 459.7h0M363.3 461.8h0M362.7 464h0M363.5 452.7h0M369.2 463.5h0M365.1 459.6h0M367.8 437.1h0M362.8 460.4h0M367.4 476.9h0M370.1 460.3h0M366.3 460.2h0M364.9 476.1h0M363.1 432.4h0M368.7 448.8h0M363.6 460.4h0M364.1 475.6h0M370 473.4h0M363.2 440.6h0M367.4 463.4h0M367.7 471.8h0M368.7 463.7h0M368.2 447.5h0M366.7 459.9h0M366.7 464.8h0M370.1 476.4h0M366.6 466.9h0M365 470.7h0M364.4 458.5h0M362.5 436.3h0M363 453.4h0M365.9 458.4h0M367.3 454.3h0M368.5 488.9h0M366.7 468h0M366.9 443h0M363.8 460.1h0M362.9 457.9h0M364.9 464.5h0M368.5 467h0M369.4 437.8h0M366.9 468.7h0M362.1 452.8h0M366.9 479.7h0M363.1 462.2h0M363.4 463.8h0M364.3 464.2h0M366.5 464.2h0M363.7 467.3h0M368.9 467.1h0M364.9 461.2h0M366.8 478.5h0M363.9 465.7h0M370.3 468.2h0M366.8 468h0M368 467.5h0M366 464.4h0M364.4 474.3h0M365.5 502.2h0M369.4 452.8h0M365 464h0M368.6 459.6h0M365.2 480.5h0M364.5 465h0M369.6 462.5h0M368.5 467.6h0M368.7 445h0M368.5 462.6h0" stroke="#ff0000" stroke-width="2.8" stroke-linecap="round" stroke-opacity="0.3" fill="none"/>
<path d="M379.7 492.8h0M378.2 503.8h0M376.5 523.6h0M377.7 494.3h0M373.4 498.5h0M376.9 506.3h0M377.2 527.8h0M374.5 513.4h0M379.8 530.4h0M376.5 510h0M373 503.8h0M377.8 496.6h0M372.6 516.8h0M373.5 499.8h0M376.8 512.8h0M374.3 512.7h0M375.5 493.3h0M375.3 500.3h0M375.7 501.3h0M377.7 483.3h0M374.2 514.9h0M375.3 507.6h0M373 509.5h0M379.9 512.7h0M377.8 552.9h0M379.6 499.9h0M379.2 507.8h0M376.8 534h0M373 519.6h0M379.4 496.7h0M376.7 493.8h0M380.6 500.9h0M376.6 516.4h0M377.7 539.9h0M373.4 499h0M378.8 485.1h0M373.9 516.3h0M376.5 508.1h0M378.3 492.9h0M379 504.1h0M373.8 501.9h0M378 545.9h0M374.8 485.8h0M377.2 486.5h0M375.9 476.1h0M374.8 488.9h0M380.3 499.5h0M380.5 498.4h0M377.6 503.1h0M380.5 529.5h0M374.5 531.7h0M379.7 501.9h0M378.6 540.4h0M377.4 514.6h0M376.7 514h0M376.9 490.6h0M376.2 504.8h0M374.9 530.9h0M376.6 475.3h0M374.5 498.7h0M377.9 511.3h0M375.5 503.3h0" stroke="#ff0000" stroke-width="2.8" stroke-linecap="round" stroke-opacity="0.3" fill="none"/>
<path d="M376.3 486.1h0M380.3 482.3h0M377.8 515h0M376.3 503.4h0M377.6 514.9h0M380.2 547.5h0M377.2 506.1h0M373.3 512.7h0M377.5 514.8h0M375.8 562.1h0M379.1 503h0M373.2 503.7h0M380.4 481.5h0M376.1 504.7h0M379.2 539.1h0M375.9 492.8h0M373.9 500.8h0M373.4 528.2h0M379.9 474.4h0M380.8 522.4h0M374.6 485.9h0M374.7 506.5h0M379.4 496.3h0M376.2 489.4h0M375.2 522.6h0M380.5 495.4h0M373.9 517.3h0M377.4 510.3h0M377 520h0M379 484.1h0M372.6 507.8h0M374.2 502.8h0M372.6 484.5h0M379.1 515.7h0M377.3 494.8h0M375.5 517.5h0M376.6 570.3h0M377.9 520h0M380 486.8h0M377.7 494.6h0M372.6 508.9h0M374.3 512.7h0M376 491.5h0M374.2 504.9h0M373.5 521.7h0M377.9 495.8h0M379.6 489.5h0M378.1 532.8h0M376.8 524.9h0M374.3 497.9h0M378.7 537.7h0M377.2 518.1h0M376.1 532.5h0M380.2 518.5h0M376.3 502.5h0M375.7 539.4h0M380.1 506.1h0M380.6 503.2h0M375.2 506.8h0M377 508.9h0M377.4 534h0M377.5 491.9h0" stroke="#ff0000" stroke-width="2.8" stroke-linecap="round" stroke-opacity="0.3" fill="none"/>
<path d="M376.1 507.6h0M379.3 539.9h0M376.7 515.9h0M375.5 495.4h0M375.5 505.5h0M379.9 478.2h0M379.8 504h0M372.8 500.2h0M372.6 500.2h0M373.4 516.3h0M377.4 470h0M372.6 505.1h0M375.7 499.2h0M375.4 506.9h0M376.5 520.4h0M377.3 488.8h0M375 504.5h0M373.2 483.3h0M378.5 484.2h0M380.7 503.7h0M380.3 505.2h0M375.4 500.6h0M380.1 509.4h0M376 500.7h0M377.4 521.4h0M380.1 502.6h0M375.1 492.8h0M376.6 522.9h0M376.8 495.4h0M372.8 506.5h0M374.8 504.3h0M377.6 503.6h0M375.8 523.9h0M378.4 496.2h0M380.7 496.1h0M380.3 490.8h0M379.4 508.8h0M380.8 495.7h0M374.2 537.5h0M380.9 506.5h0M379.7 497h0M379.6 500.9h0M378.9 498.8h0M372.6 515.7h0M373.7 506.7h0M379.7 503.2h0M376.9 492.7h0M374.2 518.1h0M374.5 521h0M379.6 541.3h0M379.9 517.8h0M379.1 524.6h0M380.6 493.5h0M380.9 506.1h0M380.8 516.9h0M373.1 494.9h0M377.9 531.2h0M374 517.7h0M379.8 501.3h0M377.4 503.8h0M380.9 498.2h0M376.5 516.1h0" stroke="#ff0000" stroke-width="2.8" stroke-linecap="round" stroke-opacity="0.3" fill="none"/>
<path d="M374.7 514h0M379.3 502.4h0M378.6 521h0M373.4 506.1h0M376.3 507.5h0M375.9 507.1h0M380.9 533.1h0M376.9 514.5h0M378.1 479.2h0M376.1 505.9h0M372.8 549.8h0M375.9 507.5h0M377.1 508.6h0M380.8 489.5h0M380.6 541.5h0M380.3 500.5h0M375.7 492.1h0M374.8 506.6h0M376 528.6h0M379.7 489.9h0M376.1 501.9h0M375.8 503h0M373.1 520.5h0M373.5 477.7h0M379.2 501.5h0M374.8 510.7h0M377.9 502.2h0M380.5 491.3h0M377.8 512.7h0M376.3 494.7h0M380.2 487.7h0M380.7 484.7h0M379.1 501.3h0M377.8 513.6h0M374.5 486.4h0M377.6 513.8h0M379.4 506.4h0M373.5 507.7h0M380 523.2h0M377.9 485.1h0M380 497.6h0M373.7 510.4h0M375 489.1h0M379.5 509.9h0M375.7 503.3h0M379.7 554.1h0M378 505.7h0M379.1 503.9h0M374 516.2h0M377.4 513.3h0M374.9 508.8h0M378.1 509.9h0M373.3 475.8h0M373.1 484.3h0M377.4 529h0M375.7 503.9h0M374.5 498.8h0M378.5 490.6h0M377.8 507.3h0M373.1 503.4h0M373.3 502.4h0M374.7 516.1h0" stroke="#ff0000" stroke-width="2.8" stroke-linecap="round" stroke-opacity="0.3" fill="none"/>
<path d="M379 529.6h0M377.8 501.7h0M373.2 518.4h0M375 483h0M373.1 550.8h0M378.7 482.7h0M378 528.5h0M374.1 530.3h0M376.5 513.5h0M379.4 498.6h0M379.9 569h0M380.4 533h0M377.7 525.6h0M377 499.6h0M373.3 515.8h0M373.4 493.5h0M374.8 523.8h0M379.3 492.6h0M376.4 508.9h0M374.3 503.3h0M372.6 539.9h0M376.5 523.2h0M380.5 511.7h0M380.8 509.9h0M377.9 512.1h0M378.6 471.3h0M378.4 516.3h0M380.4 482.9h0M379.8 512.4h0M379.6 491.8h0M375.3 510.8h0M375.4 509.1h0M373.2 510.7h0M379.5 496.3h0M376.1 478.5h0M374.7 509.7h0M374.3 508.2h0M376.4 500.1h0M375.3 511h0M373.9 472.3h0M372.8 508.8h0M375.9 483.1h0M377.2 510.8h0M375.5 496.1h0M373.1 501.5h0M373.3 493.1h0M373.3 528.9h0M373.1 523.1h0M374.5 533.6h0M380.7 531.4h0M374.9 498.9h0M377.7 516.7h0M377.8 508.2h0M379.4 502.2h0M379.1 495.7h0M374.4 478.3h0M373 556.1h0M378.4 499.2h0M374 533.6h0M380.3 493.7h0M377.4 484.9h0M376.6 521.5h0" stroke="#ff0000" stroke-width="2.8" stroke-linecap="round" stroke-opacity="0.3" fill="none"/>
<path d="M380.1 508.6h0M377.4 503h0M379.5 507.1h0M375.8 517.5h0M379.5 504.7h0M376.1 516.8h0M380 517.5h0M377.1 525.1h0M380.5 476.2h0M379.7 475.6h0M378.6 499.6h0M380.2 514.1h0M375.2 507.7h0M373.3 504.5h0M378.8 507h0M376.8 538.2h0M376.2 486.9h0M378 498.5h0M374.6 504.4h0M376.4 465h0M375.1 496.4h0M379.8 517.1h0M375.6 510.3h0M376.4 500.8h0M379.6 532.8h0M379.4 512.7h0M378.1 472.1h0M380.5 471.2h0M373.9 496.9h0M374 511h0M380.8 482.4h0M374.8 501.1h0M376.6 535.8h0M374 511.4h0M374.6 484.4h0M380.4 483.5h0M378.3 492.3h0M374 542.6h0M372.9 529.2h0M373.7 503.9h0M373.8 495.6h0M374.3 507.8h0M380.2 502.5h0M379 499.6h0M377.7 491.1h0M376.6 486h0M377.4 489.8h0M376.7 517.3h0M378.8 507.9h0M380.9 495.7h0M378 532.8h0M373.8 574.5h0M379 468.7h0M377.3 495.1h0M378.2 513.2h0M377 475.7h0M376.7 503.4h0M374 503.1h0M373.9 521.2h0M373.6 479.5h0M379.5 532.1h0" stroke="#ff0000" stroke-width="2.8" stroke-linecap="round" stroke-opacity="0.3" fill="none"/>
<path d="M383.6 504.4h0M383.3 504.7h0M383.5 505.9h0M387.4 506.6h0M384 505.6h0M389.7 508.7h0M391.1 507.8h0M387.9 513.9h0M389.6 498.7h0M385.1 516.9h0M389.2 512.4h0M388.8 507.6h0M390.3 507.4h0M391 512.1h0M390.9 516h0M391.4 508.1h0M384.4 508.4h0" stroke="#0000ff" stroke-width="2.8" stroke-linecap="round" stroke-opacity="0.35" fill="none"/>
<path d="M384 513h0M388.7 507.3h0M389.8 508h0M390.6 500.8h0M383.5 509.9h0M387.1 523.6h0M390 504.9h0M387.5 507.4h0M389.4 505.3h0M384.2 514.2h0M383.5 509.8h0M386.1 505.2h0M387.6 511.4h0M385.3 506.9h0M385.9 513.2h0M387.5 512.8h0M383.1 515.8h0" stroke="#0000ff" stroke-width="2.8" stroke-linecap="round" stroke-opacity="0.35" fill="none"/>
<path d="M383.1 513.9h0M383.5 513.9h0M389.2 507.1h0M387.9 506.2h0M386.7 508.4h0M391.3 516.3h0M386.2 514.3h0M387.6 508.5h0M384.1 509.1h0M387.4 522.2h0M384 526.1h0M386 508.9h0M387.1 504.2h0M384.7 508.7h0M389.9 516.2h0M385.2 509.7h0" stroke="#0000ff" stroke-width="2.8" stroke-linecap="round" stroke-opacity="0.35" fill="none"/>
<path d="M396.7 500.1h0M401.7 518.6h0M399.3 481.2h0M394.6 489.2h0M394.6 492.9h0M394.7 522.4h0M400.2 492.7h0M398.1 462.5h0M399.8 493.6h0M398.1 481.3h0M401.3 487.7h0M398.3 483.3h0M395.1 493.4h0M401.7 477.5h0M395.5 493.6h0M396.5 487h0M398.9 487.9h0M393.6 480.8h0M393.5 492.7h0M397.5 489.4h0M398.5 495.2h0M395.8 492.4h0M398.8 480.7h0M393.5 474h0M400.1 504.8h0M396.7 509.1h0M400.3 493.3h0M396.2 478.4h0M395.8 475.2h0M401.3 482.8h0M393.5 455.2h0M401.6 491.7h0M396.2 495.1h0M395.9 452.7h0M401.6 496.8h0M396.9 517.5h0M396.7 486.5h0M396.3 473.6h0M396.1 492.5h0M397.7 489.4h0M397.3 477.6h0M394.9 448.5h0M394.1 491.2h0M399.7 491.2h0M394.8 462.3h0M400.6 454.2h0M401.5 509.8h0M396.2 496.5h0M393.7 481.3h0M394.4 499.5h0M401.7 481.2h0M396.8 485.4h0M393.9 458.1h0M400.3 483.4h0M399.5 479.5h0M398.6 496.2h0M400.8 536h0M395.1 489h0M398 485.6h0M401 501.3h0M393.5 472.4h0M396.3 479.7h0M400.8 499.9h0M400.8 492.6h0M399.4 481.4h0M401.5 471.6h0M400.9 539.5h0M394.5 479.5h0M399.1 517.3h0M397.4 512.2h0M400.2 551.5h0M394.1 495.6h0M399.1 441.8h0M400.1 507.2h0M396.2 484.3h0M398.1 481.7h0M398.5 502.8h0M401.8 511.8h0M397.8 511.3h0M397.9 473.7h0M400.5 476h0M401.8 497.1h0M395.2 475.2h0M401.5 514.4h0M395.5 519.8h0M399.1 512.2h0" stroke="#ff0000" stroke-width="2.8" stroke-linecap="round" stroke-opacity="0.3" fill="none"/>
<path d="M399.8 493.2h0M394.2 504.3h0M397.5 495.5h0M399.3 495h0M399.3 481.5h0M397.6 474.1h0M394.1 482.7h0M399.5 479.9h0M397 480.5h0M397.8 502.2h0M397.9 494.1h0M398.3 492.4h0M396.1 504h0M399.6 505.3h0M393.6 492.6h0M397.2 489.4h0M394.6 499h0M398 488.5h0M401.1 494h0M400.4 469h0M395.9 448.9h0M399.9 496.8h0M401.7 478.8h0M400.9 471.7h0M395.1 484.6h0M396.9 498.1h0M396 490.8h0M393.6 486.3h0M401.9 528.6h0M401.3 482.6h0M401.1 466h0M394.5 481.2h0M399.8 504.9h0M398.2 474.4h0M395.9 476.1h0M394.4 503.2h0M396 497.5h0M401.4 485.5h0M397.2 509.8h0M396.9 462.6h0M394.9 492.8h0M398.3 468.6h0M399.1 482.2h0M401.8 490.3h0M398.9 516.4h0M400.9 518.8h0M401.1 447.8h0M399.6 492.7h0M400.5 494.5h0M394 464.7h0M399.2 470h0M398.6 522.2h0M397.5 488.1h0M398.5 468.5h0M397 490.3h0M399.1 478.7h0M396.5 503.5h0M398 483.1h0M394.1 489.9h0M400.6 486h0M396.7 509.6h0M401 488.4h0M395.3 482.8h0M395.5 489h0M401.6 486.4h0M393.6 487.6h0M395.3 510.7h0M399.8 472.6h0M394.3 490.7h0M398.1 470.1h0M396.5 498.5h0M394.4 486.7h0M395.7 496h0M396.1 496.7h0M397.5 476.8h0M394.3 485.5h0M396.4 478.7h0M400.2 517.8h0M393.8 477.2h0M397 477h0M400.7 494.1h0M396.6 481.3h0M396.4 483.7h0M397.5 478.3h0M401.7 485.8h0M400 483.3h0" stroke="#ff0000" stroke-width="2.8" stroke-linecap="round" stroke-opacity="0.3" fill="none"/>
<path d="M397.4 493.2h0M393.5 490.1h0M396.2 491.5h0M394.9 490.9h0M398.6 501.8h0M398.9 514.7h0M400.4 474.5h0M400.9 489.8h0M394.9 472.7h0M395.2 491.3h0M395.6 484.9h0M396.7 494.4h0M394.1 517h0M395.3 483.6h0M397.2 507.2h0M394.3 503.7h0M398.4 503.6h0M394.7 493.7h0M393.7 518.8h0M396.7 466.2h0M396.3 482.3h0M399.4 557h0M395.1 483.9h0M393.9 464h0M397.7 486.9h0M401.4 483.5h0M394 475.6h0M399.5 522.2h0M401.4 506.3h0M395.1 486.5h0M401.9 494h0M400.2 507h0M400.3 472h0M396.7 479.1h0M400.7 531.2h0M398.3 534.8h0M394.9 477.6h0M398 471.8h0M395 446.1h0M397.9 476.8h0M401 478.2h0M396.3 475.6h0M398.8 491.1h0M397.9 479.3h0M396.5 506.2h0M397.7 480.9h0M396.1 507.7h0M400.2 483.3h0M394 459.6h0M399.4 482.5h0M395.5 526.8h0M396.7 485.6h0M397.7 483.3h0M398 499.4h0M394.9 491.3h0M401.8 474.4h0M395.6 472.9h0M398.8 480h0M396.9 494.9h0M399.4 503.9h0M398.7 491.2h0M400.6 494.2h0M394.6 475.1h0M396.9 482.2h0M396.8 474.8h0M395.1 481.6h0M401.2 498.9h0M398.6 507.2h0M401.8 493.4h0M399.7 483.8h0M399.2 516.5h0M393.7 488.4h0M396.9 476.5h0M394.6 482.8h0M396.2 476.1h0M399.4 483.7h0M401.1 486.7h0M396.4 488.6h0M394.5 504.4h0M399.8 481.1h0M399.9 487.5h0M398.4 458.2h0M395.2 493.2h0M401.2 496.4h0M400.2 477.2h0M397.1 483.8h0" stroke="#ff0000" stroke-width="2.8" stroke-linecap="round" stroke-opacity="0.3" fill="none"/>
<path d="M401.4 538.5h0M401.4 473.1h0M394.4 481.6h0M396.2 500.7h0M400 477.8h0M395.4 481.4h0M400.3 478.1h0M394 502.2h0M395.3 491.8h0M401.5 507.8h0M400.4 501.2h0M399.6 533.2h0M397.4 493.3h0M397 492.8h0M398.3 484.3h0M401.2 539.9h0M396.6 495.6h0M400.9 528.9h0M393.8 514.9h0M396 461.2h0M397.5 487.6h0M395.7 486.2h0M397.6 488.9h0M394.9 468.9h0M394.8 492.8h0M400.4 533.6h0M399.8 469.7h0M400.6 469.6h0M395.2 485.7h0M397.4 483.5h0M399.9 506.7h0M394 472.3h0M401.8 482.5h0M394.8 504.6h0M399.5 473.3h0M401.4 492.8h0M399.5 491.8h0M394.6 487h0M398.2 473.1h0M401.3 466.2h0M401.1 481.9h0M399.3 468.9h0M400.6 482.2h0M396.8 479.3h0M399.4 453.5h0M396.9 530.5h0M399.6 477.9h0M398.1 474.3h0M399.3 482.7h0M401.2 498.2h0M396.7 488.6h0M400.8 495.1h0M396.9 497.7h0M400.8 495.3h0M393.9 481.9h0M398.6 490.9h0M397.9 486.4h0M398.8 501.7h0M398.8 497.4h0M400.1 464.6h0M400.4 504.7h0M397.6 482.1h0M401.6 482.7h0M395.5 483.9h0M393.6 489.9h0M396.9 502h0M395.5 502h0M397.7 503.5h0M395 508h0M398.6 513.6h0M400.9 462.6h0M397.2 488.3h0M399.6 485.3h0M398 540.3h0M395.9 508.9h0M396.3 497.6h0M398 488.9h0M397.7 491h0M395.3 500.2h0M394.1 495.8h0M396.5 482h0M398.3 465.6h0M401.4 499h0M394.2 497.2h0M398.9 485.6h0M397.8 480.5h0" stroke="#ff0000" stroke-width="2.8" stroke-linecap="round" stroke-opacity="0.3" fill="none"/>
<path d="M401 506.2h0M395.2 499.9h0M393.8 471.5h0M400.6 507.4h0M398.4 492.4h0M398.3 472.8h0M399.7 491.1h0M399.6 515.7h0M400.2 495.8h0M401.2 505.2h0M395.3 493.1h0M397.4 469.3h0M395.6 466.9h0M396.3 474.6h0M396.7 474.3h0M396.6 441.2h0M395 494h0M395.7 507.6h0M397.3 457.5h0M398.3 475.5h0M396.4 510.5h0M400.9 504.2h0M394.9 504.3h0M398.8 494.4h0M394.6 479.9h0M401 503.8h0M396.8 502.1h0M399.7 485.7h0M401.1 471h0M397.1 488.6h0M396.5 479.6h0M396.3 476.6h0M395.9 500.4h0M401.2 459.6h0M401.2 516.2h0M398.1 480.8h0M396.4 499.5h0M396.8 514.8h0M400.4 465h0M394.6 465.2h0M398.5 517.7h0M393.5 519.6h0M396.6 478.9h0M401.7 501h0M401 492.8h0M399 473.3h0M393.8 485.8h0M395.4 481.4h0M395 467h0M394.7 527.7h0M395.9 497.6h0M398 521.4h0M397.4 487.7h0M397.5 475.1h0M394.4 484.6h0M401.1 476.2h0M401.2 482.4h0M395.4 489h0M398 450.5h0M399.2 515.4h0M395.7 494.9h0M401.3 488.8h0M400.8 490.7h0M395.5 475.4h0M397.9 492.1h0M398.2 506h0M401 485.2h0M399.4 490.6h0M396.6 478.9h0M401.6 485.7h0M399.9 480.8h0M400.8 476.2h0M396.1 485.7h0M396.9 476.5h0M397.4 486.9h0M395.3 488.3h0M395.4 504h0M400.7 473.8h0M399.8 466.6h0M397.9 495.1h0M394.5 488.4h0M399.6 481.6h0M400 456.9h0M397.4 493.2h0M401.3 503h0M395.3 474.2h0" stroke="#ff0000" stroke-width="2.8" stroke-linecap="round" stroke-opacity="0.3" fill="none"/>
<path d="M395.2 481.4h0M400.1 491h0M396 509.9h0M394.1 475.3h0M393.8 463h0M393.9 473.9h0M398 476.3h0M398.9 526.5h0M395.3 477.1h0M396.4 510.1h0M394.1 494.1h0M397.9 486.3h0M396.1 476.8h0M397.2 476.4h0M401.4 476.7h0M396.3 506.1h0M395.7 498h0M396.7 500.2h0M395.6 478h0M396.2 524.9h0M393.7 481.1h0M396.8 510.9h0M396.5 485.5h0M398.5 486.1h0M396.6 488.2h0M401.8 491.7h0M395.5 482.8h0M399.5 484.4h0M399.5 490.8h0M398.3 477.7h0M398.6 482.5h0M393.5 477.6h0M393.8 474.8h0M395.8 487.2h0M393.6 492.5h0M400.4 485h0M400.3 487.3h0M399.2 470.8h0M395.4 528.1h0M401.8 513.8h0M401.5 472.9h0M401.2 488.7h0M398.9 494.3h0M394.5 468.8h0M393.6 477.8h0M396.1 481.7h0M397.4 489.8h0M395.3 509.4h0M393.9 486.4h0M398 504.5h0M400.1 450.9h0M399.3 489.7h0M398.4 497.3h0M399.4 518.8h0M395.8 495.9h0M393.9 473h0M399.6 482h0M395 499.4h0M395.4 469.7h0M395 497.8h0M401.4 496.9h0M395.3 506.7h0M401.3 462.9h0M401.1 496.3h0M393.8 488.2h0M394.9 520h0M397.9 477h0M398.3 478.2h0M396.5 509.9h0M399.1 495.3h0M396.7 497.8h0M398.1 474.4h0M400.9 478.2h0M396 489h0M398.2 477.2h0M396.5 465h0M399 485h0M397.9 476.2h0M394.9 482.7h0M396.1 493.1h0M397.9 497.3h0M397.6 480.7h0M394.5 500.5h0M399.5 471.9h0M393.7 498.4h0" stroke="#ff0000" stroke-width="2.8" stroke-linecap="round" stroke-opacity="0.3" fill="none"/>
<path d="M405.3 476.6h0M408.4 478.3h0M406.8 476.1h0M407.1 471.8h0M407.3 476.6h0M406.4 469.4h0M409.7 470.2h0M407.9 468.6h0M409.5 481.1h0M404.9 472.5h0M409.1 481.9h0M409.7 475.8h0M405.5 469.1h0M405.3 477.5h0M406.4 469.3h0M408.8 476h0M409.6 468.9h0M412.2 470.7h0M408.6 466.6h0M410 466.1h0" stroke="#0000ff" stroke-width="2.8" stroke-linecap="round" stroke-opacity="0.35" fill="none"/>
<path d="M408.6 476h0M410.6 474.7h0M406.2 467.7h0M412.3 475.5h0M409.4 475.1h0M409.2 467.9h0M408 479.7h0M406.2 470.7h0M410.8 477.2h0M406.4 471.2h0M406.1 473.4h0M411.1 471.9h0M410.5 474.2h0M406.1 471.1h0M404.8 470.5h0M405 469.1h0M411.2 470.3h0M409.3 473.6h0M404.1 475.3h0M404.1 467.1h0" stroke="#0000ff" stroke-width="2.8" stroke-linecap="round" stroke-opacity="0.35" fill="none"/>
<path d="M404.1 469.7h0M404.8 470h0M404.7 469.1h0M408.4 478.8h0M409.4 467.7h0M407.9 470.2h0M411.6 477.1h0M404.8 468.1h0M405.9 472.4h0M410 474.1h0M411 469.1h0M405.2 483.7h0M406.9 479.7h0M410.1 469.9h0M405.3 468.7h0M409.9 470.3h0M407.7 469.9h0M410.2 471.4h0M404.3 477.6h0" stroke="#0000ff" stroke-width="2.8" stroke-linecap="round" stroke-opacity="0.35" fill="none"/>
<path d="M420 492.2h0M421.5 508.2h0M419.9 513.6h0M414.6 487.6h0M417.3 471.4h0M417.2 482.9h0M418.4 496.8h0M415.6 475.9h0M422.3 495.6h0M419.6 498.1h0M414.4 481.6h0M419.4 491.8h0M419.7 474.7h0M418 495.4h0M417.7 507.8h0M415.7 506.2h0M421.3 488.6h0M415.9 488.1h0M418.9 522.8h0M419.9 519.2h0M422.3 474.6h0M415 471.4h0M417.8 476.4h0M421.7 489.3h0M414.5 528h0M415.7 472.3h0M422.5 485.2h0M414.5 472.9h0M415.9 469h0M416.3 486.9h0M419.8 485.9h0M415 481.5h0M418.4 478.5h0M414.7 506.9h0M420.6 489.6h0M417.8 489.8h0M417.4 488.6h0M419.1 486h0M420.9 496.5h0M415.3 472.4h0M419.7 515h0M419.3 493.7h0M414.9 477.5h0M417.4 505.9h0M418.8 485.7h0M420.5 484.8h0M422.1 482.2h0M421.2 502.4h0M421.3 485.9h0M422.6 478.7h0M419.9 497.8h0M419.9 479.4h0M415.3 504.9h0M419.5 504.8h0M421.2 501.2h0M419.4 477.9h0M414.5 490h0M416.3 476.2h0M419.3 483.9h0M420.1 496.3h0M419.2 494.9h0M419.8 477.1h0M419.8 488.7h0M416 488.8h0M421.1 475.9h0M416.5 497.6h0M419.8 476.9h0M415.1 532.8h0M416.5 489.7h0M422.3 499h0M419.1 484.8h0M414.6 484.8h0M421.2 486.4h0M417 494.6h0M420.5 487.1h0M421 506.9h0M414.8 493.4h0M419.1 491.7h0M418.3 476.9h0M421 476.3h0M420.1 504.2h0M414.9 469.8h0M415.3 482.5h0M415.3 479.2h0" stroke="#ff0000" stroke-width="2.8" stroke-linecap="round" stroke-opacity="0.3" fill="none"/>
<path d="M421.1 500.9h0M419.8 489.2h0M416.4 481.7h0M415.7 472.8h0M421.2 490.2h0M415.4 480.4h0M417.1 503.2h0M417.8 522.6h0M420.8 503.2h0M420.9 495h0M414.5 487.1h0M415.1 482.9h0M415.1 472.4h0M415.5 451.5h0M420.5 501.5h0M418.6 479.4h0M415.2 495.5h0M416.2 504.2h0M418 495h0M422.7 484.6h0M417.1 481.5h0M422.5 525.5h0M417 484.7h0M420.5 510.6h0M419.4 503.5h0M419.1 478.1h0M421.2 466.9h0M415.6 515.5h0M420.1 497.2h0M416.1 494.3h0M418.2 538.2h0M416.3 473.6h0M415.1 505.2h0M416.8 470.9h0M415.4 503.7h0M419.9 482.3h0M415.1 493h0M421.6 487.7h0M419.3 513.8h0M418.4 480h0M414.5 469.8h0M421.1 475.9h0M420.4 494.6h0M416.2 486.6h0M415.9 503.2h0M418.2 490.9h0M419.6 493h0M418.3 516.4h0M416.3 487.9h0M416.5 498.6h0M417.2 481h0M420.8 495h0M421.7 484.3h0M418.4 486.1h0M415.6 493.7h0M419.8 483.5h0M415.6 491.9h0M418.7 490.9h0M418 483.7h0M419.2 447.8h0M421.2 485.5h0M421.2 503.3h0M417.2 482.5h0M416.1 472.1h0M420.4 478.6h0M417.9 504.2h0M421.2 485.4h0M416.9 503.4h0M417.2 487.7h0M416.5 493.8h0M421.8 497h0M420.9 485.6h0M419.3 501.7h0M418.7 500.2h0M415.7 535h0M418.7 497.6h0M417.3 502h0M418.2 469.9h0M419.3 555.1h0M422.1 491.4h0M417.7 498.2h0M418.9 483.9h0M417.6 504.4h0M417.3 488.5h0" stroke="#ff0000" stroke-width="2.8" stroke-linecap="round" stroke-opacity="0.3" fill="none"/>
<path d="M416.1 473.7h0M421.3 490.8h0M416.9 482.4h0M417.4 484.2h0M422 484.9h0M422.8 485.3h0M417.9 480.3h0M417.3 484h0M417.8 502.7h0M415.7 461.3h0M417.2 474.5h0M418.2 468.3h0M418.2 467.5h0M421.6 499h0M421.1 534h0M419.4 483h0M421 517.1h0M417 492.2h0M415.8 507.6h0M414.6 496.4h0M420.1 492.1h0M416.8 488h0M417 465.5h0M420.1 490.7h0M415.8 493.3h0M420.9 501.3h0M418.9 465.6h0M414.4 485.6h0M417.6 507.1h0M415.1 536.4h0M420.6 477.8h0M419.4 496.8h0M416.4 487h0M419.1 514.6h0M419.8 488.6h0M418.9 474.3h0M419.3 513.1h0M416.7 469.3h0M422 504.5h0M421.7 500.6h0M416.1 523.7h0M416.1 501.2h0M414.9 486.5h0M422.7 480.3h0M417.6 487.5h0M421.1 495.8h0M418.8 485.5h0M420.9 489.3h0M415.5 495.6h0M420.8 480.7h0M417.1 509h0M417 469.4h0M422.4 510.5h0M420.8 489.8h0M419.4 492.1h0M420 484.4h0M419.1 481.8h0M416.4 490.8h0M421.3 485.8h0M416.1 500.1h0M417.8 505.2h0M422.3 489.4h0M418.2 466.7h0M420.7 483.7h0M414.5 487.7h0M417 519.4h0M415.8 484.1h0M417.6 481.4h0M421.1 479.3h0M417.5 512.8h0M420.1 492.3h0M415.8 490.3h0M414.7 480.4h0M415.4 471.6h0M417 479h0M419.5 474.6h0M419.3 481.4h0M418.9 492.9h0M421.3 486.9h0M419.4 481.9h0M417.1 486.2h0M418 483h0M415.9 483h0M422.4 480.9h0" stroke="#ff0000" stroke-width="2.8" stroke-linecap="round" stroke-opacity="0.3" fill="none"/>
<path d="M420.3 461.3h0M416 492.9h0M419.5 493.8h0M422 499.7h0M420.9 500.4h0M416.8 485.6h0M420 490.5h0M419 494.1h0M420 502.1h0M417.7 483.6h0M421.8 471h0M419.7 495.5h0M415.9 490.1h0M420.2 484h0M420.9 537.7h0M415 508.1h0M418.6 498.8h0M415.8 494h0M415.9 533.3h0M422.3 528.9h0M416.3 494.7h0M420.9 488.3h0M421.9 485h0M414.5 478.6h0M421.5 484.9h0M420.1 484.8h0M420.3 499.9h0M416.9 498.7h0M421.9 491h0M421.9 458h0M416.4 535.6h0M419.4 466.3h0M414.5 490.8h0M420.4 482.5h0M415.2 477.1h0M418.1 484.9h0M419.8 527h0M414.4 496.9h0M421.6 500.3h0M417.5 498.2h0M420.3 471.6h0M416.3 485.5h0M416.9 492.6h0M421.8 486.4h0M416.3 469.1h0M416.8 552h0M421 481.2h0M419.3 491.6h0M418.6 483.1h0M417.6 486.5h0M419.6 482.7h0M418.7 493.8h0M416.4 495.4h0M421.9 482h0M419.7 483.8h0M418.4 503.4h0M421 478.7h0M419.6 515.6h0M422.4 484.5h0M415.4 469.2h0M421.5 492.4h0M417 506.5h0M420.6 485.8h0M416 483h0M419.5 471.4h0M421.2 508.4h0M414.8 489.7h0M422.6 495.7h0M419.9 459.8h0M416.5 497.3h0M415.5 482.8h0M421.7 486.3h0M417.9 472.2h0M415 469.3h0M418.8 473.5h0M415.8 492.4h0M421.6 499.8h0M421.5 513.1h0M417 508.8h0M416.1 504.8h0M415.5 486.8h0M420.2 473.3h0M421.1 503.2h0" stroke="#ff0000" stroke-width="2.8" stroke-linecap="round" stroke-opacity="0.3" fill="none"/>
<path d="M416 455.6h0M419.9 478h0M420.3 475.7h0M419 510.2h0M418.4 487.4h0M419.6 485h0M415.4 486.6h0M419.9 478.1h0M417.9 484.2h0M421 479.1h0M415 480.2h0M418.6 544.7h0M421.6 520.3h0M415 472.4h0M422.2 477.3h0M421.3 496.2h0M421.9 486.7h0M421.6 482.6h0M417.4 476.3h0M417.2 529.5h0M418.2 490.2h0M414.5 497.6h0M415.2 491.8h0M418.2 499.4h0M416.2 492.8h0M415.7 504.5h0M419.5 490.5h0M418 508.5h0M422.4 500.3h0M419.7 485.7h0M421.6 484.2h0M422 505.6h0M421.1 491.7h0M418.2 491h0M415.5 488.1h0M415.8 532h0M417.6 488.4h0M419.4 504h0M420.1 492.7h0M415.4 479h0M419.1 474.2h0M420.3 504.4h0M421.5 487.4h0M416.8 479.2h0M420.7 484.1h0M421.3 476.1h0M415.8 474.4h0M414.4 460.4h0M416.1 543.3h0M421 475.1h0M419.1 503.4h0M418.9 496.9h0M418.4 470.9h0M422.6 510.4h0M421.1 490.2h0M417.4 469.9h0M416.9 451h0M419.6 473.1h0M416 493.4h0M416.7 456.2h0M422.5 539.8h0M420.9 482.7h0M420.8 473.6h0M415.9 474h0M414.8 523.3h0M417.2 474.9h0M414.6 477.1h0M422.6 465.7h0M421.2 496.3h0M416.9 484.3h0M422.6 502h0M416.2 483h0M414.7 484.7h0M416.4 487h0M417.2 485.6h0M416.2 492.9h0M421.2 479.3h0M420.9 479.9h0M415.2 486.5h0M417.8 495.1h0M416.3 483.9h0M418.4 473.7h0M421.6 490.6h0" stroke="#ff0000" stroke-width="2.8" stroke-linecap="round" stroke-opacity="0.3" fill="none"/>
<path d="M422 474.3h0M422.6 486.5h0M418.8 515.5h0M418.7 490.1h0M418.5 474h0M421.2 479.2h0M418.5 472.5h0M415.7 494.2h0M421.1 482.1h0M414.8 510.5h0M415.6 462.4h0M421.1 515.8h0M422.4 482.4h0M416.4 495.8h0M414.7 476.1h0M417.2 465.9h0M420.3 495.9h0M417.7 475.9h0M417.6 483h0M418.3 496.6h0M421.1 476.5h0M420.2 471h0M418.2 531.2h0M420.8 497.7h0M416.9 511.2h0M421.5 475h0M415.2 493.2h0M422.7 466.8h0M417.1 499.4h0M421.3 491.3h0M418.9 493.8h0M420.8 490.1h0M421.5 477.2h0M417 486.9h0M420.9 489.1h0M421.1 474.5h0M421.2 479.6h0M417.5 491.5h0M415 477.1h0M421.2 485.7h0M420.3 485.8h0M417.1 484.4h0M419.9 490.8h0M420.1 497.6h0M415.3 494.7h0M416.9 495h0M421 471.3h0M422.4 494.4h0M416.9 495.8h0M415.5 483.2h0M420.3 480.3h0M419.9 492.3h0M421.7 515h0M418.1 442.8h0M415.3 504.5h0M420.4 494.9h0M420.5 486.7h0M420.5 490.3h0M416.7 473.7h0M417.9 478.3h0M414.6 514.3h0M414.5 510.9h0M419.2 485h0M419.4 495.9h0M422.4 488.2h0M419.3 469h0M421.6 475.7h0M421.4 476.6h0M419.5 481.8h0M419.3 493.7h0M416.3 487.2h0M419.4 454.1h0M418.1 489.6h0M419.3 492.5h0M417.5 484h0M421.7 500.5h0M418.4 483.3h0M419.4 482.3h0M422.3 477.4h0M415.8 482.4h0M419.8 486.7h0M419.3 477.5h0M421.4 501.1h0" stroke="#ff0000" stroke-width="2.8" stroke-linecap="round" stroke-opacity="0.3" fill="none"/>
<path d="M432.2 469.1h0M431.3 485.4h0M425 474.6h0M427.7 478.1h0M427.6 476.3h0M429.9 482.3h0M432.8 462.7h0M431.5 474.4h0M431 471.3h0M427.2 465.9h0M429.4 475.9h0M433.1 471.4h0M431.7 481.2h0M429.1 479.5h0M428.5 474.9h0M430.6 483.6h0M432.4 475.1h0" stroke="#0000ff" stroke-width="2.8" stroke-linecap="round" stroke-opacity="0.35" fill="none"/>
<path d="M428.3 472.2h0M432.5 470.5h0M427.5 470.7h0M428.7 462.2h0M429.1 466.4h0M425 471.6h0M433.3 476.1h0M425.1 469.1h0M432.3 476.5h0M431.2 477h0M425.9 471.9h0M426.1 472.1h0M425.7 473.5h0M431.9 476.5h0M431.6 480.6h0M431.6 468.4h0M425.2 474.1h0" stroke="#0000ff" stroke-width="2.8" stroke-linecap="round" stroke-opacity="0.35" fill="none"/>
<path d="M430.2 472.9h0M430.6 473.7h0M430.9 473.6h0M426.8 475.4h0M426.7 462.5h0M425.1 483.1h0M431.2 474h0M431.2 478.3h0M430.7 480.5h0M426.3 483.6h0M429.5 472.1h0M429.4 476h0M428.7 469.9h0M427.2 472h0M426.9 473.8h0M426.9 475.8h0M430.3 471.6h0" stroke="#0000ff" stroke-width="2.8" stroke-linecap="round" stroke-opacity="0.35" fill="none"/>
<path d="M442.8 479.6h0M443.7 472h0M439.5 450.9h0M441.2 464.2h0M440 480.2h0M436.7 460.9h0M441.3 462.8h0M437.1 459.5h0M436.3 458.2h0M440.5 471h0M441.1 480h0M436.3 453.2h0M437 468.6h0M437.9 475.2h0M443.1 514.1h0M441.2 459.2h0M441.4 476.8h0M443.3 464.6h0M436.5 472.3h0M439.3 462.1h0M436.3 460h0M443.4 461.1h0M441.6 473.3h0M441.6 456.7h0M436.3 455.7h0M443.7 454.2h0M442.8 464.8h0M439.4 470.6h0M443.1 479.7h0" stroke="#ff0000" stroke-width="2.8" stroke-linecap="round" stroke-opacity="0.35" fill="none"/>
<path d="M436.7 467.3h0M440 464.6h0M440.1 454.8h0M443 468.9h0M437.6 470.8h0M438.9 457.8h0M442.7 476.3h0M437.9 469.1h0M436.8 528.1h0M436.7 460.2h0M436.3 464.8h0M435.9 477.5h0M440.6 458.4h0M442.2 455.9h0M436 454.4h0M442.6 467.7h0M439.5 472.8h0M435.9 468.2h0M440.5 444.4h0M441.1 478.5h0M439.7 477.1h0M438.5 475.1h0M440.5 460.8h0M438.5 463.5h0M439.5 452.3h0M439.5 462.3h0M442.9 465.1h0M437.7 488.7h0M443.6 471h0" stroke="#ff0000" stroke-width="2.8" stroke-linecap="round" stroke-opacity="0.35" fill="none"/>
<path d="M436.4 457h0M439.1 474.5h0M438.3 465.6h0M438.8 447.1h0M440.1 443.6h0M439.6 481.7h0M441.9 444.3h0M440.5 471h0M435.9 469.7h0M443.5 451.9h0M436.8 461.3h0M436.3 458.1h0M438.9 510.3h0M436 487.1h0M443.3 464.8h0M440.4 487.3h0M442.9 468.3h0M435.9 482.1h0M441.9 464.9h0M436.5 465h0M441.7 474.9h0M440.4 454.1h0M441.3 484.9h0M441.3 472.2h0M443.6 480.6h0M442 476.1h0M441.6 464.8h0M439 499.9h0M443.4 466.7h0" stroke="#ff0000" stroke-width="2.8" stroke-linecap="round" stroke-opacity="0.35" fill="none"/>
<path d="M450.8 439.6h0M451.9 480.3h0M448.7 467.5h0M448.7 421.4h0M454.1 453.8h0M448.4 453h0M450.1 456.5h0M449.1 438h0M446 459.5h0M453.3 450.2h0M451.1 446.5h0M451.3 446.9h0M449.3 461.2h0M454.2 445.4h0M446 455.7h0M452.1 459.7h0M452.8 442h0M451 441.6h0M453.2 448.9h0M451.9 449.9h0M446.4 449h0M452.5 460.8h0M448.5 464h0M446.1 466.6h0M451.8 446h0M447 444.5h0M450.2 413.2h0M454 452.5h0M449.5 462.3h0M449.5 449.2h0M446.8 459.6h0M452 442.4h0M447.5 442.2h0M451.8 454.3h0M449.3 452.4h0M447.2 466.2h0M448.7 450.6h0M453.3 469.1h0M450.3 451.7h0M452.3 442.2h0M451.2 460h0M447.7 455.8h0M450.8 453.1h0M449.7 448.8h0M448.3 443.3h0M452 456.6h0M446 466h0M446.3 462.6h0M446.8 469.4h0M453.8 456.4h0M447.1 464.2h0" stroke="#ff0000" stroke-width="2.8" stroke-linecap="round" stroke-opacity="0.3" fill="none"/>
<path d="M453.9 461h0M452.4 467.6h0M454 424h0M449.4 445h0M446.9 438.6h0M449.8 456.4h0M447.5 459.8h0M448.1 474.8h0M448.7 485.2h0M446.1 459.3h0M451.1 449.5h0M446.5 462.3h0M453.4 464h0M450.9 464.6h0M454.1 471.2h0M450.3 439.5h0M453.8 446.5h0M447.6 447.3h0M449.7 464.5h0M454.1 457.3h0M454.1 450.5h0M447.2 467.9h0M448.8 454.3h0M453.2 447.7h0M446.7 449.2h0M446.9 464.9h0M449.3 482.5h0M452.3 481.4h0M449 447.9h0M449.9 453.7h0M445.9 452.4h0M448.5 452.1h0M447.8 461.3h0M451.7 420.5h0M451.5 453.7h0M446.8 458.8h0M448.4 446.9h0M452.3 451.8h0M448.5 479.8h0M449.9 458.2h0M447.9 437.7h0M449.2 453.6h0M453.7 446.2h0M448.4 461.2h0M452.6 450.9h0M445.8 448.1h0M453.8 476.4h0M452.8 450.5h0M449.6 454.5h0M449.7 454.2h0M451.9 451h0" stroke="#ff0000" stroke-width="2.8" stroke-linecap="round" stroke-opacity="0.3" fill="none"/>
<path d="M448.2 456.3h0M452.8 454h0M448.7 445.9h0M449.8 426.9h0M452.7 446.2h0M453.4 455.2h0M452.7 440.9h0M453.1 445.8h0M449.7 451.3h0M449.2 461.9h0M452.6 448.3h0M451.3 453.9h0M451.9 463.1h0M453 442.6h0M450.7 449h0M446.2 446.2h0M450.8 447.2h0M450.9 454.7h0M454.1 450.9h0M450 471.7h0M451.8 462.8h0M449.3 433.6h0M447.4 442.8h0M447.7 458.6h0M447.7 454.7h0M453.4 449h0M448.8 451.9h0M446.3 452.2h0M449.9 457h0M451.6 463.3h0M448.5 444.1h0M449.8 460.8h0M450.1 452.1h0M446.7 469h0M446.2 463.3h0M450.6 455.3h0M450.7 462.9h0M447.4 444.4h0M446.6 449.7h0M452.1 450.7h0M451.4 450.5h0M446.7 454.3h0M451.5 440.6h0M448.6 433.7h0M450.9 475.4h0M452.7 467.8h0M449 465.8h0M448.9 488.2h0M451.2 439.1h0M452 451h0M446.3 442.2h0" stroke="#ff0000" stroke-width="2.8" stroke-linecap="round" stroke-opacity="0.3" fill="none"/>
<path d="M449.8 443.1h0M453.5 470.8h0M446.7 462.8h0M446.3 463.6h0M449.2 423.7h0M448 461.2h0M448.9 452.7h0M448.2 453.9h0M451.1 460.2h0M448.6 475.9h0M452.5 441.3h0M450 461.7h0M449 452.1h0M451.9 438.1h0M451.5 444h0M453.1 439.1h0M452.7 450.7h0M451.8 447h0M453.3 421.3h0M453.4 445.8h0M447.7 442.4h0M449.2 449.9h0M452.4 450.5h0M448 447.3h0M451.1 438.4h0M446.8 464.3h0M449.2 431.6h0M448.1 448h0M453.3 452.8h0M453.6 483.2h0M446.5 468.2h0M450.2 442.5h0M449.5 455.8h0M449.5 474.8h0M447.7 466.2h0M448.6 443.2h0M447.2 446.6h0M454.1 457.2h0M446.9 453.2h0M446.4 466.3h0M448.9 456.7h0M453.1 438.4h0M446.5 444.2h0M448.8 459.6h0M453.6 480.4h0M449.7 466.3h0M452.2 447h0M451.9 448.7h0M450.3 463h0M450.1 445.6h0" stroke="#ff0000" stroke-width="2.8" stroke-linecap="round" stroke-opacity="0.3" fill="none"/>
<path d="M450.5 434.5h0M453.1 452.8h0M452 453.3h0M450.9 452.3h0M446 457.3h0M446.4 465.4h0M450.2 444.5h0M452.6 478.2h0M446.4 455.7h0M447.9 462.1h0M453.5 455.8h0M453.5 444h0M452.9 467.6h0M449.8 449.4h0M448.4 444.7h0M452.5 448.6h0M451.8 447.6h0M453.6 441.3h0M446.1 463.4h0M447.4 468.7h0M450 445.5h0M454.1 442.9h0M450.4 476.4h0M451.9 461.6h0M447.7 458.9h0M450.9 451.9h0M450 458.7h0M447.2 454.4h0M450.8 450.5h0M446.3 459.7h0M449.7 457.3h0M452 436.9h0M447.9 451.7h0M453.4 479.6h0M445.9 462.3h0M452.6 446.4h0M449.1 470.7h0M446.3 469.3h0M446.6 442.1h0M452.6 455.3h0M451.8 449.1h0M453.8 451.7h0M449.4 460.9h0M450 466.2h0M450.7 485.3h0M454 457.2h0M446.2 450.1h0M447.9 459.8h0M453.8 466.1h0M452.3 460.7h0" stroke="#ff0000" stroke-width="2.8" stroke-linecap="round" stroke-opacity="0.3" fill="none"/>
<path d="M449.6 451.3h0M447.6 437.7h0M451.8 458.4h0M445.9 443.6h0M449.6 463.4h0M452.6 463.1h0M449 453.4h0M451.8 456.9h0M450.2 450.3h0M450.6 458.5h0M447.8 471.7h0M453.8 453.6h0M452.4 476h0M452.7 440.7h0M452.4 448.5h0M448.9 440.8h0M452.4 472.9h0M449.9 447.6h0M450.2 443.9h0M447.7 428.1h0M453.2 473.1h0M451.2 468.8h0M445.9 452.2h0M449.9 483.3h0M453.8 431.8h0M451.7 468.8h0M451.3 470.8h0M447.2 472.4h0M447.5 447.2h0M449.7 456.2h0M448.9 452.4h0M453.3 450.2h0M446 428.2h0M446.5 453.3h0M453.8 456.5h0M447.2 442.3h0M448.2 459.6h0M447.3 459.8h0M453.9 461.7h0M448.5 426h0M446 456.9h0M448.1 462.9h0M451.7 446.3h0M451.9 466.4h0M447.3 464.3h0M447.7 450.8h0M449.7 472.6h0M451.6 449.9h0M445.9 454.1h0M449.4 437.2h0" stroke="#ff0000" stroke-width="2.8" stroke-linecap="round" stroke-opacity="0.3" fill="none"/>
<path d="M458.7 476.3h0M461.8 522.9h0M464.1 497.3h0M460.1 487.1h0M463.1 482.6h0M460.5 508.2h0M463.5 494.9h0M463 469.1h0M456.9 474.3h0M457.4 478.3h0M464 475.4h0M458.6 491.8h0M461.1 514.6h0M457.7 499.9h0M463.9 469.9h0M462.5 496.1h0M461.4 482.5h0M463 479.7h0M463.4 498.2h0M458.9 486.8h0M458.8 493.4h0M457.7 502.9h0M462 486.2h0M462.6 523.5h0M462.2 509.5h0M457.2 462.8h0M458 517.2h0M461.4 471.5h0M456.7 476.5h0M461.6 482.4h0" stroke="#ff0000" stroke-width="2.8" stroke-linecap="round" stroke-opacity="0.3" fill="none"/>
<path d="M460.9 485.3h0M457.8 540.2h0M458.5 486.5h0M462 551.1h0M456.4 481.9h0M458.1 516.8h0M461.3 488.8h0M462.7 511.8h0M463.5 534.1h0M463.7 514.7h0M460.2 507.4h0M460.6 497.9h0M459.1 487h0M461.2 498.1h0M463.7 509.5h0M462.6 494h0M457.6 476.6h0M460.8 541.8h0M457.2 474.6h0M464.2 521.2h0M460.2 502.1h0M460.1 497.3h0M459.7 464h0M457.9 477.8h0M464.5 475.1h0M464.5 489.7h0M456.6 473.2h0M462.6 497.3h0M460.5 486.9h0M464.4 504.1h0" stroke="#ff0000" stroke-width="2.8" stroke-linecap="round" stroke-opacity="0.3" fill="none"/>
<path d="M462.2 488h0M457.8 503h0M460.7 500.7h0M462.4 486.2h0M464.4 494.1h0M462.1 495.5h0M459.6 515.1h0M458.9 481.9h0M462.8 487h0M458.1 506.7h0M456.7 483.3h0M461.6 495.5h0M459.7 520.5h0M457 508.3h0M457.1 493.5h0M462.6 494.9h0M459.1 513.2h0M458.4 541.6h0M459.6 483.4h0M462.9 522.7h0M461.9 478.8h0M464.6 479h0M461.5 531h0M462.2 491.4h0M459.8 488h0M463.7 516.8h0M464.3 532h0M460 483.4h0M458.9 542h0M461.5 489.2h0" stroke="#ff0000" stroke-width="2.8" stroke-linecap="round" stroke-opacity="0.3" fill="none"/>
<path d="M456.4 485.8h0M462.9 482.7h0M459.6 525.3h0M456.7 530.9h0M461.2 531.3h0M459.6 504.9h0M463 494.3h0M463.9 476.8h0M456.4 487.8h0M460.1 509.1h0M456.8 486.9h0M460.9 483.9h0M463.2 489.8h0M457.3 496.5h0M464.6 484.5h0M458.3 472.5h0M460.3 483.9h0M458.9 503.7h0M464.6 461.3h0M457 512h0M461.9 483.1h0M464.6 484h0M463.6 497.9h0M464 506.9h0M461.8 482.7h0M456.5 507.9h0M460.4 485.2h0M457.7 492.1h0M456.9 503.8h0M464.6 496.2h0" stroke="#ff0000" stroke-width="2.8" stroke-linecap="round" stroke-opacity="0.3" fill="none"/>
<path d="M461.3 482h0M460.9 522.2h0M459.2 486.2h0M461.3 500h0M460.4 475.4h0M457.2 495.5h0M463.2 496.1h0M461.7 505.1h0M461 480.2h0M459.9 513.2h0M457.1 484.5h0M457 505.1h0M463.8 485.9h0M460.2 505.5h0M460.3 492.4h0M462.8 519.1h0M461.7 494.8h0M459.8 498h0M457.8 500.2h0M461.9 477.5h0M461.4 465.3h0M457.1 500.1h0M456.9 480.2h0M457.9 501.2h0M464.1 474.3h0M464.7 513.8h0M458.7 481.3h0M464.2 466.4h0M459.4 461.3h0" stroke="#ff0000" stroke-width="2.8" stroke-linecap="round" stroke-opacity="0.3" fill="none"/>
<path d="M458.6 496.6h0M459.4 507.5h0M464.7 472.7h0M462.8 475.6h0M458.1 502.5h0M461.6 500.7h0M462.2 479.5h0M457.1 501.3h0M464.5 484.7h0M456.6 532.3h0M462 484.7h0M460.7 521.8h0M464.7 485.3h0M459.3 485.6h0M463.9 489.7h0M456.8 486.2h0M459.2 489.3h0M457.6 511.9h0M459.6 474.2h0M463.3 492.2h0M458.7 488.2h0M456.8 485.5h0M457.8 506.6h0M464.5 538.5h0M461.5 502.3h0M463 487.3h0M462.5 486.5h0M459.3 490.5h0M461.1 476.6h0" stroke="#ff0000" stroke-width="2.8" stroke-linecap="round" stroke-opacity="0.3" fill="none"/>
<path d="M471.8 472.6h0M467.4 473.5h0M471.7 471.3h0M471.2 473.4h0" stroke="#0000ff" stroke-width="2.8" stroke-linecap="round" stroke-opacity="0.5" fill="none"/>
<path d="M482.6 492.3h0M482.5 476h0M482.1 472.8h0M478.8 455.6h0M483.8 484.2h0M482.8 476.4h0M482.7 488.3h0M483.8 470.9h0M478.7 475.1h0M483.9 502.8h0M482.5 482.5h0M478.4 469.3h0M482.2 495.3h0M479.7 492.4h0M482.8 476.7h0M484.4 477.2h0M484.1 487.1h0M480.5 465.8h0M484.8 464.1h0M480.8 482.5h0M477.7 498.9h0M479.4 485.7h0M479.5 470h0M485.3 488.1h0M478.7 484.8h0M485.6 478.8h0M484.7 468h0M479.3 490h0M483.9 472.7h0M480.3 471.1h0" stroke="#ff0000" stroke-width="2.8" stroke-linecap="round" stroke-opacity="0.3" fill="none"/>
<path d="M479.6 488.1h0M479 473.7h0M478.4 479.4h0M478.8 479.5h0M485.5 476.1h0M484.7 486.2h0M481.8 477.6h0M480.6 482.3h0M484.8 479.2h0M483.9 481.8h0M481.7 477.6h0M479.4 485.1h0M481.1 466.5h0M479.6 492.4h0M481.4 478.1h0M484.8 482.4h0M477.4 481.2h0M480.6 483.3h0M483.6 462h0M485.6 483h0M481.8 464h0M479.8 482.7h0M482.8 495.1h0M481.3 470.2h0M482 471.9h0M481.9 472.1h0M480.7 481.2h0M479.1 479.8h0M481.8 479.3h0M483.2 479.7h0" stroke="#ff0000" stroke-width="2.8" stroke-linecap="round" stroke-opacity="0.3" fill="none"/>
<path d="M483.1 461.7h0M481.7 486.4h0M483 495.6h0M478.8 479h0M477.4 475.6h0M483.3 485h0M479.6 457.5h0M479.5 477.3h0M482.9 480.9h0M482.3 477.4h0M481.2 478h0M482.6 497h0M484.8 489.6h0M484.6 484.1h0M484.7 482.9h0M483.6 490.4h0M478.8 486.7h0M480.3 478.9h0M483.3 467.5h0M481.5 482.5h0M482.9 484.1h0M484.4 491.5h0M482.2 474.4h0M482.5 472.3h0M477.3 488.9h0M481.2 489.9h0M484.1 493.4h0M483.7 481.1h0M483.3 466.2h0M482.8 480.1h0" stroke="#ff0000" stroke-width="2.8" stroke-linecap="round" stroke-opacity="0.3" fill="none"/>
<path d="M480.3 474.8h0M477.4 479.7h0M480.8 484h0M482.9 481.1h0M484.8 464.2h0M478.2 499.4h0M481.3 474.1h0M482.7 490.2h0M482.6 494.6h0M481.5 475.4h0M483.1 459.6h0M485 489.5h0M483.2 487.1h0M485.3 479.7h0M480.9 500.2h0M481.6 481.1h0M478.1 475.5h0M478.1 471.3h0M482.9 478.3h0M479.3 482.9h0M482.6 477.8h0M482.8 493.8h0M477.8 466.8h0M481.8 484.3h0M482.7 468.6h0M480.6 506.5h0M484.6 480.1h0M479.7 483.2h0M482.1 524.7h0M477.7 477.4h0" stroke="#ff0000" stroke-width="2.8" stroke-linecap="round" stroke-opacity="0.3" fill="none"/>
<path d="M477.7 483.6h0M480.5 491.7h0M478 491.1h0M483.7 477.2h0M482.4 481.1h0M484.4 482.6h0M477.6 493.3h0M480 476h0M482.2 475.5h0M483 473.4h0M485.2 488.6h0M482.1 471.3h0M485.4 469.1h0M479.4 483.4h0M479.7 484.6h0M479 487.7h0M485.4 490.6h0M483.9 488.1h0M482 491.6h0M483.4 489.7h0M481.3 476.2h0M479.1 493.7h0M485.6 476.4h0M478.7 472.9h0M484.4 467.6h0M480.5 454.9h0M481.1 458.6h0M480.1 482.4h0M480.6 491h0M481.9 496.5h0" stroke="#ff0000" stroke-width="2.8" stroke-linecap="round" stroke-opacity="0.3" fill="none"/>
<path d="M481.4 471.1h0M483.3 469.6h0M484.6 492.2h0M479.1 490.8h0M481.5 487.1h0M477.5 477.1h0M483.5 478.7h0M484.3 487.3h0M482 469.3h0M484.7 487.4h0M483 496.9h0M480 465.1h0M477.6 482.8h0M481.6 501.1h0M483.3 477.9h0M482.5 472.9h0M478.1 483.7h0M480 479h0M482 478.6h0M478.6 494.6h0M482.9 498.9h0M481.1 489.8h0M477.8 479.3h0M480.6 475.7h0M484.7 475.7h0M480 472.9h0M480.1 489h0M481.8 484.2h0M484.1 489h0" stroke="#ff0000" stroke-width="2.8" stroke-linecap="round" stroke-opacity="0.3" fill="none"/>
<path d="M494.2 502.4h0M494.5 504.4h0M494.7 502.3h0" stroke="#0000ff" stroke-width="2.8" stroke-linecap="round" stroke-opacity="0.5" fill="none"/>
<path d="M503.4 457.6h0M498.8 482h0M500 474.6h0M505.4 460h0M504.5 468.4h0M500.5 461.4h0M505 462.9h0M503.9 485.1h0M503.7 474.2h0M501 468.5h0M504.7 473.9h0M500.2 480.4h0M504.8 472.6h0M505.1 466.9h0M504.4 462.2h0M498.7 468h0M502.2 475h0M503.4 486.6h0M500.6 456.5h0M500.3 459.1h0M501.1 473.4h0M505.2 474.8h0M499.2 467.1h0M506.2 464.7h0M501.5 448.9h0M505.8 457.6h0M498.4 468.5h0M501.3 469.6h0M501 456h0M499.4 466.3h0M505.9 449.9h0M503.4 467.5h0M505.2 451.4h0M499.9 488.3h0M501.2 469.6h0M498.3 461.5h0M504.9 476.4h0M498.5 471.8h0M502.1 459.5h0M501.8 467.8h0M506.5 468.5h0M499.3 462.8h0M502.8 459.6h0M501.8 456.4h0M503.3 484.7h0M502.2 463.6h0M502.8 474.9h0M501.2 464.3h0M504 484.9h0M504.7 460.2h0M498.9 454.4h0M503.6 483.8h0M501.5 474.7h0M499.2 460.5h0M503.3 465.1h0M502.5 469h0M499.7 469.4h0M504.8 466.5h0M501.3 458.7h0M499.3 467h0M499.8 469.1h0M504.9 471.1h0M498.8 470.8h0M499.4 465.4h0M501.3 466.5h0M502.8 459.5h0M500.2 478.7h0M502.1 461.2h0M499.1 480.1h0M498.4 460.5h0M498.4 469.4h0M500.7 463.3h0M505.1 445.3h0M504.7 453.9h0M504.9 465.6h0M501.2 478.6h0M501.8 470h0M501.2 470.4h0M504.2 473.3h0M505.4 470.5h0M503 468.6h0M499.8 460.3h0M502.1 460h0" stroke="#ff0000" stroke-width="2.8" stroke-linecap="round" stroke-opacity="0.3" fill="none"/>
<path d="M502.2 470.9h0M505.4 482h0M501 465.1h0M501.8 471.1h0M501.4 460.5h0M499.4 467.4h0M500 470.9h0M504.5 474.5h0M504 476.2h0M503.2 444.8h0M501.3 471.7h0M502 465.1h0M500.7 471.9h0M498.7 478.1h0M504.3 474.8h0M498.9 478.6h0M503.7 462.2h0M500.1 469.3h0M505 481.2h0M501.4 465.4h0M502.4 458.8h0M501.4 467.7h0M501.3 461.4h0M506.3 474.7h0M506 481.1h0M500.6 476h0M505.8 448.5h0M499.2 468.3h0M500.3 473h0M504 474.4h0M506 448.3h0M504.8 490.1h0M498.2 462.2h0M500.2 465h0M505.6 461.9h0M504.3 471.6h0M505.2 467.6h0M501.8 487.9h0M499.7 473.4h0M504.4 464.8h0M501.7 470.2h0M502.2 463.3h0M504.9 468h0M501.9 465h0M501.1 465.3h0M499.7 473.5h0M501.9 479.1h0M503.6 485h0M501.9 472.2h0M504.8 468.3h0M506.4 445.1h0M502 457.6h0M500.7 449.8h0M498.4 480.5h0M504.7 479.9h0M500.7 467.3h0M505.3 470.2h0M503.4 465h0M505.4 475.1h0M502.9 477.6h0M501.7 471h0M501.7 470.6h0M501.1 465.5h0M506.5 460.2h0M498.4 472.3h0M500.1 473.4h0M500.1 472.3h0M499.3 475.4h0M502.6 471.4h0M505.6 466.3h0M505.5 473.7h0M498.7 475.4h0M505.8 476.5h0M505.4 474.3h0M505.7 456.7h0M504.2 467.3h0M502.3 490.3h0M502.6 476.7h0M504.6 471.5h0M505.9 468.3h0M498.2 466.6h0M501.5 465.4h0M500.5 481h0" stroke="#ff0000" stroke-width="2.8" stroke-linecap="round" stroke-opacity="0.3" fill="none"/>
<path d="M499.4 473.3h0M501.9 447h0M505.7 464.2h0M501.7 470.5h0M501.7 463.5h0M501 444h0M500.8 481.2h0M505.7 452.8h0M502.5 460.9h0M504 469.3h0M502.4 458.2h0M506.2 462.5h0M500.4 452.6h0M503.8 464h0M506 475.1h0M505 472.6h0M502.1 461.6h0M503.5 474.6h0M503.2 471.2h0M499.6 482.5h0M501.8 458.7h0M499.5 473h0M505.4 447.9h0M506.1 472.4h0M499.3 465.7h0M506.2 469.3h0M501.9 475.9h0M501.4 466.4h0M501.3 472.9h0M504.5 470.1h0M499.6 474.4h0M505.6 467.5h0M505.2 466.8h0M502.8 490.4h0M506.5 458.2h0M505 462.1h0M501 479.2h0M499.6 469.6h0M500.7 455.4h0M499.7 467.3h0M498.9 467.5h0M501.1 453.8h0M498.9 477h0M502.6 475.4h0M502.3 470.9h0M506.4 465.2h0M503.4 474.9h0M504.1 474.6h0M504.8 474.7h0M506.1 459.5h0M500.9 460.3h0M501.4 470.3h0M501.1 466.6h0M500.6 467.8h0M499.8 469.6h0M502 474.8h0M502.6 461.7h0M506.1 460.7h0M506.4 476.3h0M503.4 445.5h0M505.2 466.7h0M506.4 472h0M504.6 443.8h0M502.1 473.6h0M499.5 471h0M506.6 457.7h0M500.7 465.8h0M500.7 464.7h0M501.2 460.8h0M503.4 479.7h0M498.7 475.2h0M499.6 465.4h0M499.1 463.5h0M499.9 461.8h0M505.9 472.3h0M500.5 456.3h0M498.6 471.1h0M503.7 479.5h0M503.7 463.2h0M506.5 466.2h0M503.3 467.4h0M501.5 477.1h0M502.9 463.1h0" stroke="#ff0000" stroke-width="2.8" stroke-linecap="round" stroke-opacity="0.3" fill="none"/>
<path d="M502.1 463.5h0M501.5 475.5h0M505 447.3h0M502.6 466.3h0M501.2 474.1h0M505 461.8h0M503 478.5h0M503.7 470.8h0M502.3 461.2h0M499.6 482h0M503.7 469.1h0M501.2 463.3h0M504.8 463.2h0M506.1 465.3h0M503.3 467.5h0M505.4 478.4h0M498.8 469.2h0M502.4 460.4h0M504.2 460.4h0M502.8 452.8h0M498.8 458.8h0M502.1 459.3h0M498.5 469.2h0M504.9 467h0M500.5 469h0M502.4 458.3h0M506.3 446.7h0M500.7 462.1h0M503.1 460.1h0M505 476h0M499.5 468.7h0M503.8 462.5h0M505.3 481.6h0M503.1 455.5h0M501.8 475.4h0M499.3 470h0M504 473h0M501.7 452.6h0M502.5 463.5h0M505.7 471.3h0M505.8 466.2h0M504.3 479.3h0M505.3 464.1h0M503.8 485.3h0M504.9 464.6h0M504.2 489.3h0M503.8 466.1h0M505.6 467.7h0M506 473.7h0M500.7 469.1h0M503.5 465.2h0M505.9 460.9h0M501.2 474.5h0M503.3 492.9h0M504.8 455.4h0M500.7 467.5h0M504.1 462h0M502.5 467h0M500.8 456.5h0M505.5 468.6h0M498.8 447.4h0M500.7 472.5h0M500 463.5h0M499.7 454.9h0M506.2 480.6h0M499.2 463.8h0M500.1 460.9h0M505.9 465.9h0M502.3 466.8h0M500.5 468.6h0M502.2 477.3h0M503.3 462h0M498.5 470.4h0M500.8 464.9h0M503.8 468h0M499.8 454.4h0M505.6 469.8h0M501.3 456.5h0M502.4 469.7h0M498.8 470.2h0M505.4 456.9h0M505.7 466.7h0M499.2 446.9h0" stroke="#ff0000" stroke-width="2.8" stroke-linecap="round" stroke-opacity="0.3" fill="none"/>
<path d="M498.4 466.5h0M502.4 473.9h0M499.6 446.8h0M502.3 467.9h0M500.7 467.1h0M498.2 478.9h0M499.9 466.4h0M500 460.1h0M499.3 472.6h0M501.3 478.9h0M503.9 467.5h0M502.3 473.9h0M499.4 448.1h0M504.8 464.2h0M505.6 467.9h0M500.4 460.3h0M499.1 462.7h0M499.4 460.6h0M501.1 460.2h0M504.2 452.3h0M499.8 459.2h0M499.8 462.6h0M502.7 471.6h0M498.9 461.3h0M503.8 469.6h0M501.1 462.1h0M499.8 477.6h0M505.7 460.4h0M498.8 459.2h0M499.8 482.8h0M500.2 461.8h0M505.1 465.4h0M498.6 470.8h0M500.2 467.1h0M504.3 468.4h0M504.7 473.3h0M498.7 464.8h0M500.1 472.9h0M504.5 485.2h0M498.6 454.9h0M501.8 468.5h0M502.3 471.2h0M504.8 469.1h0M503.9 490.2h0M499 464.8h0M500.9 463.1h0M502.2 468.2h0M502.5 469.6h0M502.1 474h0M506 463.5h0M504.1 462.4h0M500.7 463.7h0M501.5 464.1h0M500.1 472.3h0M499.4 454.5h0M503.3 442.2h0M499.9 464.9h0M504.8 460.6h0M502 467.5h0M501.8 469.1h0M498.4 482.4h0M504.3 481.1h0M502 481.6h0M504.2 462.1h0M506 460.3h0M502.6 474.3h0M503.1 475h0M501.3 459.2h0M505.4 480.9h0M498.9 481.3h0M501.7 448.6h0M500.3 465.1h0M500.4 465.4h0M502.9 470.2h0M500.2 462.5h0M503.4 467.3h0M503.8 465.9h0M500.2 457.6h0M504.2 456.7h0M505.8 472.2h0M501.7 462.7h0M499.2 476.4h0M506 463.6h0" stroke="#ff0000" stroke-width="2.8" stroke-linecap="round" stroke-opacity="0.3" fill="none"/>
<path d="M499.6 470.8h0M504.3 484.4h0M502.6 461h0M505.5 450.4h0M502.2 471h0M501.6 455.5h0M505.2 464.4h0M498.5 463.1h0M506.4 469.7h0M498.9 442.9h0M502.8 471h0M504.8 462.9h0M500.1 465.6h0M506 487h0M504.8 479.1h0M502.9 455h0M504.8 458.2h0M499.9 459.3h0M501 473.8h0M503.4 459.2h0M505.7 488.7h0M499.3 474.8h0M504.3 474.1h0M506.2 457h0M501.7 456.4h0M500.7 476.9h0M499.9 461.3h0M506.5 473.1h0M503.1 452.4h0M499.5 466.1h0M498.2 466.6h0M499.9 448.3h0M500.1 468h0M500.7 474.2h0M500.1 464.7h0M502 468.7h0M499.1 475.7h0M500.5 477.2h0M500.3 452.8h0M501 476.5h0M499 469.3h0M501.5 459.8h0M503.8 479.8h0M500 479.9h0M504.4 469.7h0M500 448.7h0M505.6 477.3h0M500.5 471h0M502.3 462.8h0M501.6 467.6h0M503.4 469.6h0M504 456h0M505.2 469.8h0M504.4 470h0M498.9 466.4h0M502.2 474.3h0M499 482.4h0M504.5 459.1h0M506.3 449.4h0M502.2 466.9h0M504 453.4h0M499 461.3h0M498.9 471h0M502.6 463.4h0M505.6 468.8h0M498.2 468.1h0M499.3 483.5h0M501.9 474.7h0M498.7 469.2h0M506.1 482.5h0M504 465.4h0M503.9 461.5h0M502.1 463.4h0M505.6 477.2h0M499.1 454.1h0M502.3 466.1h0M505 478.4h0M503.7 479.4h0M501.3 465.8h0M505.3 462.7h0M500.6 473.4h0M499.8 467.4h0" stroke="#ff0000" stroke-width="2.8" stroke-linecap="round" stroke-opacity="0.3" fill="none"/>
<path d="M512.5 466h0M508.9 474.3h0M516.8 480.9h0M511.3 468.7h0M511 469.7h0M514.1 482.9h0M511.2 473.9h0M514.2 472.6h0M512.4 459.1h0M510.8 463h0M509.1 472.7h0M516.1 464.7h0M509.3 471.7h0M513.1 480.3h0M510.5 467.3h0M508.7 472.1h0M510.7 468.3h0M511.6 471.1h0" stroke="#0000ff" stroke-width="2.8" stroke-linecap="round" stroke-opacity="0.35" fill="none"/>
<path d="M512.9 481.8h0M511.2 463.9h0M515.5 463.9h0M511.9 470.1h0M514.4 471.4h0M516.1 468.9h0M512.5 515.8h0M514.6 462.9h0M509.1 487.4h0M510.3 487.8h0M511.3 471.3h0M515.6 492.2h0M516 487.6h0M509 469.8h0M510.7 479.9h0M508.9 458.7h0M514.1 475.4h0" stroke="#0000ff" stroke-width="2.8" stroke-linecap="round" stroke-opacity="0.35" fill="none"/>
<path d="M512.1 456.3h0M511.5 474.5h0M509.2 474.2h0M510.1 468.6h0M516.2 460.6h0M509.3 465.1h0M517 458.2h0M515.6 481.4h0M516 481.3h0M511.9 459.9h0M515.4 489.6h0M515.1 488.9h0M508.8 473.1h0M514 460h0M515.7 483.8h0M517 475h0M511.1 469.1h0" stroke="#0000ff" stroke-width="2.8" stroke-linecap="round" stroke-opacity="0.35" fill="none"/>
<path d="M526 528.6h0M524.2 533.8h0M521.5 511.1h0M521.4 567.2h0M522.9 522.9h0M526 533.9h0M525.3 556.2h0M519.2 525.7h0M523.6 539h0M526.6 538.5h0M520.2 502.5h0M524.9 510.3h0M522.8 557.2h0M522.3 529.6h0M520.4 532.5h0M523.7 546.2h0M523.8 535.3h0M526.9 529.3h0M521.3 557.3h0M520.5 495.2h0M525.3 565.5h0M526.5 538.7h0M521.2 534.9h0M526.8 542.2h0M522.9 534.8h0M520.9 549.5h0M521.7 536.5h0M524.1 542.4h0" stroke="#ff0000" stroke-width="2.8" stroke-linecap="round" stroke-opacity="0.3" fill="none"/>
<path d="M519.4 543.9h0M522.8 481.8h0M524 510.6h0M522 530.9h0M526.4 556.4h0M527.3 518.2h0M525 488.1h0M520.9 497.9h0M521.2 538.5h0M519.5 557.5h0M524.7 520.7h0M522.9 499.7h0M524.8 544h0M520.6 523.1h0M523 551.4h0M519.3 547.3h0M522.8 540.4h0M519.4 494.2h0M521.6 555h0M523.4 533.8h0M526.9 548.7h0M522.2 525.4h0M521.6 542.4h0M519.6 541h0M524.4 513.5h0M525.4 532.9h0M527.1 492.8h0M527.2 527.7h0" stroke="#ff0000" stroke-width="2.8" stroke-linecap="round" stroke-opacity="0.3" fill="none"/>
<path d="M522.5 565.8h0M520.5 549.7h0M521.6 541h0M526 522h0M527 516.1h0M523.1 498.1h0M525.4 534h0M520.9 541.5h0M527.4 545.2h0M521.2 506.3h0M524.8 539.2h0M523.1 534.2h0M526.6 506.7h0M520.4 534.1h0M522.8 531.5h0M521.8 522.8h0M520.7 553.8h0M527 569.1h0M526.2 559h0M520.1 543.1h0M520.8 513.4h0M525 548.9h0M527.3 539.9h0M527.4 539.3h0M526.4 537.9h0M519.8 553h0M523.5 559.2h0M527.1 570.8h0" stroke="#ff0000" stroke-width="2.8" stroke-linecap="round" stroke-opacity="0.3" fill="none"/>
<path d="M523.3 554.6h0M520.1 538.1h0M526.5 560.1h0M523.6 499.3h0M524.1 529h0M524.2 519.6h0M524 505.8h0M520 535.1h0M521.7 544h0M520.2 550.7h0M519.7 504.4h0M526.6 495.7h0M525.1 535.2h0M520.5 503.8h0M526.4 515.4h0M522.4 524.4h0M527.1 519.4h0M523.6 508.2h0M521.6 564.1h0M522.5 551.4h0M524.9 565h0M519.9 525.3h0M522.8 525.8h0M520.1 512.5h0M525.2 499.4h0M526.6 500.3h0M522.4 547.1h0M523.3 532.8h0" stroke="#ff0000" stroke-width="2.8" stroke-linecap="round" stroke-opacity="0.3" fill="none"/>
<path d="M520.6 519.6h0M524.1 521h0M523.3 533.1h0M519.2 533.7h0M520.4 560.7h0M520.8 572.6h0M519.3 524.6h0M520.2 526.2h0M520.6 550.3h0M525.8 527.9h0M525.2 532.6h0M527.4 513h0M524.8 506.2h0M527.2 539.8h0M525.7 536.5h0M526.3 557.6h0M526.1 531.1h0M521.5 520.1h0M523.7 561.6h0M525.5 532.2h0M525 534.4h0M523.7 548h0M521.3 507.1h0M524.2 496.8h0M527.3 563.6h0M520.9 570.8h0M522.3 478.3h0" stroke="#ff0000" stroke-width="2.8" stroke-linecap="round" stroke-opacity="0.3" fill="none"/>
<path d="M521.4 502.9h0M526.2 507h0M520.9 528.6h0M523.4 506.3h0M520.7 538.7h0M524.2 531.4h0M525.4 499.8h0M520.9 501.2h0M521.6 514.2h0M523.3 542.2h0M523.6 547h0M526.1 545.7h0M522.8 559.9h0M523.3 558.5h0M525.2 538.7h0M523.8 527h0M521.7 523h0M522.9 560.6h0M526.1 546.9h0M520.7 511.8h0M525 550.4h0M526.5 548.7h0M524.8 556.9h0M523.2 550.8h0M522.2 537.2h0M525 504.3h0M520.2 514h0" stroke="#ff0000" stroke-width="2.8" stroke-linecap="round" stroke-opacity="0.3" fill="none"/>
<path d="M532.8 491.8h0M534.1 508.6h0M532.1 507.1h0M535.1 507.9h0M531.3 516.5h0M532.9 514.7h0M533.1 499.1h0M533.7 505h0M537.6 537.2h0M532.3 493.1h0" stroke="#0000ff" stroke-width="2.8" stroke-linecap="round" stroke-opacity="0.5" fill="none"/>
<path d="M541.8 504.5h0M542.3 483.5h0M542 451.3h0M548.1 472h0M546.7 484.3h0M547.9 477.8h0M547.7 470.3h0M540.4 512.5h0M546.8 463.3h0M542.8 470.9h0M541.5 482.4h0M547.5 454h0M545.8 458.1h0M542.6 469.3h0M545.1 469.9h0M540.7 480.3h0M546.8 498.8h0M540.3 476.4h0M545.1 473.9h0M545.7 469.5h0M540.8 479.7h0M542.3 464.2h0M544.2 474.2h0M543.1 467h0M540.2 467.4h0M544.9 474.3h0M544.2 473.7h0M545.6 465.4h0M547.9 464.9h0M546.7 473.7h0M542.8 501.7h0M542.7 472.8h0M541.7 473.9h0M548.2 481.1h0M545.4 467.2h0M543.9 467.6h0M548 474.4h0M542.2 470.7h0M547.2 467.6h0M544.2 484.2h0M544.8 477.3h0M545.7 476.2h0M545.9 466h0M543.2 462.9h0" stroke="#ff0000" stroke-width="2.8" stroke-linecap="round" stroke-opacity="0.3" fill="none"/>
<path d="M544.4 471.3h0M544.5 476.8h0M540.9 503h0M540.8 469.3h0M547.2 482.3h0M541.6 476.8h0M543 486.6h0M546.1 472.2h0M540.9 477h0M542 486.7h0M547.7 487.8h0M544 471h0M541.3 460.8h0M542.4 467.1h0M543.8 483.2h0M546.9 496.4h0M545.5 477.7h0M545.3 464.8h0M546.3 455.5h0M544.9 475.5h0M540.3 475.3h0M545.5 442.2h0M541.1 465.1h0M547.8 461.8h0M541.6 473.5h0M540.9 481h0M542.8 470.6h0M542.5 465h0M546.6 473.3h0M543.2 503h0M541.8 476.1h0M543.6 472h0M546.8 466.3h0M544.7 484.7h0M547.7 456.6h0M545.5 469.4h0M542.4 482.8h0M542.4 467.2h0M546.4 464.3h0M541.9 469.2h0M540.8 477.2h0M541.9 471.8h0M541.3 467.6h0" stroke="#ff0000" stroke-width="2.8" stroke-linecap="round" stroke-opacity="0.3" fill="none"/>
<path d="M543.4 462.7h0M546 461.6h0M543.7 459.3h0M547.7 491.5h0M547.7 453h0M542.2 438.6h0M544.7 469.1h0M543.8 481.2h0M546.6 471.1h0M540.8 486.3h0M540.3 475.9h0M542.8 455.6h0M541.9 449.4h0M541.6 451.7h0M546.6 468.3h0M545.1 453.4h0M540.7 496.9h0M542.4 475h0M543.8 481.6h0M540.6 471.6h0M544.8 462.1h0M547.4 456.9h0M541.5 467.5h0M540.5 467.9h0M542.7 474.7h0M546.2 471.2h0M544.8 469.5h0M540.4 470.5h0M547.7 469.4h0M546 473.3h0M546.9 462.6h0M545.6 465h0M543 480.1h0M545.5 466.5h0M543.8 454.1h0M548.4 446.8h0M546.6 450.2h0M546.1 465.3h0M548.4 471.1h0M540.5 458.9h0M545.7 482h0M546.1 463.4h0M541.5 488h0" stroke="#ff0000" stroke-width="2.8" stroke-linecap="round" stroke-opacity="0.3" fill="none"/>
<path d="M543.3 467.8h0M545.5 462.5h0M540.3 468h0M546.6 469.4h0M544.7 469.3h0M542.3 460.6h0M547.6 475.2h0M548.1 453.1h0M542 463.6h0M545 455.3h0M545.3 458.6h0M542.8 485.2h0M540.6 472.9h0M545.8 473.4h0M541.9 468.1h0M548 457.6h0M547.7 484.3h0M541.5 474.6h0M547.6 459.8h0M547.3 465.1h0M544 466.6h0M545.3 490.6h0M544.5 465.6h0M543.4 465.8h0M543.6 488.8h0M546.7 467.6h0M540.2 471.1h0M542.7 482.5h0M541.7 441h0M542.5 496.4h0M544.8 470.6h0M548.3 439h0M543.8 457.1h0M543.7 463.5h0M543.3 471.7h0M542.8 466.5h0M547.4 455.5h0M548 465.5h0M546.9 472.5h0M541.2 469.6h0M545.8 478.7h0M546.5 474.7h0M541.9 477.9h0" stroke="#ff0000" stroke-width="2.8" stroke-linecap="round" stroke-opacity="0.3" fill="none"/>
<path d="M541.4 470.6h0M544.6 473.7h0M542.6 467.3h0M540.4 464.6h0M542.2 459.8h0M541.3 463.2h0M546.2 471.5h0M541.7 460.9h0M545 470.4h0M543.6 472h0M542.9 462.1h0M545.8 479.5h0M544.1 447.7h0M543.1 441.6h0M543.9 464.5h0M547.3 476.4h0M544.1 503.9h0M544.8 455h0M545.3 477h0M548.3 470.3h0M545 445.8h0M545.1 460.5h0M542.6 463.5h0M543.5 481h0M544 476.5h0M544.8 475.6h0M545.1 469.4h0M543.9 462.8h0M542.6 445.8h0M547.8 468.8h0M546.3 477.7h0M540.2 449.6h0M546.7 454.1h0M541.9 459.3h0M542.8 473.5h0M545.7 451h0M547.6 478.4h0M544.9 451.6h0M546.3 459.5h0M541 487.2h0M546.1 453.9h0M540.8 460.1h0M543.9 492.9h0" stroke="#ff0000" stroke-width="2.8" stroke-linecap="round" stroke-opacity="0.3" fill="none"/>
<path d="M546.1 447.9h0M540.5 472.8h0M545.4 470.6h0M547.1 475h0M542.5 473.8h0M546.9 468.7h0M543.8 455.7h0M547.5 449h0M547.3 469.7h0M545.3 468.5h0M543.4 463h0M543.8 521.7h0M544.7 455.7h0M546.6 462.7h0M543.7 479.9h0M546.7 490.7h0M546.1 463.4h0M540.2 457.6h0M542.4 457.1h0M541.5 477.6h0M541.9 484.7h0M540.2 462.3h0M542.2 460.7h0M541 491.6h0M547.7 465.6h0M540.2 450.7h0M544.6 472.8h0M546.2 465.6h0M542.3 478.4h0M546.7 476h0M540.7 500.1h0M540.5 455.5h0M543.9 472.3h0M545.3 479.6h0M544.5 483.7h0M546.6 468.9h0M540.8 462.9h0M545.1 488.7h0M541.9 479.5h0M543.5 468.4h0M541 480.4h0M544 447.8h0M546.4 482h0" stroke="#ff0000" stroke-width="2.8" stroke-linecap="round" stroke-opacity="0.3" fill="none"/>
<path d="M557.8 550.4h0M553.9 474.5h0M555.3 551.4h0M554.4 486.3h0M553.7 535.8h0M554.8 552.6h0M555.3 493.1h0M551.4 476.6h0M551.1 521.8h0M558.6 518.2h0M551.9 513.7h0M554.8 484.4h0M556.4 517.6h0M551.8 500.1h0M551.3 476.9h0M558.4 482.2h0M557.5 506.4h0M551.5 560.8h0M558.9 484h0M551.7 495.3h0M556.6 505h0M552.4 475.8h0M556.4 483.5h0M558.4 488.6h0M558.3 481h0M556.2 493.8h0M552.1 479.6h0M552.6 475.1h0M558.8 494.2h0M556.4 496.3h0M553.4 520.1h0M554.6 493.2h0M553.4 522.8h0M551.6 460.1h0M557.9 475.9h0" stroke="#ff0000" stroke-width="2.8" stroke-linecap="round" stroke-opacity="0.35" fill="none"/>
<path d="M554.1 545.5h0M553 553.7h0M557.3 488.3h0M551.2 486h0M552.7 492.2h0M552.6 535.3h0M551.2 535.1h0M552.9 496.6h0M551.1 521h0M558 496.1h0M551.5 525h0M554.3 499.9h0M553.7 538.8h0M552 494.5h0M555.6 500.5h0M555.8 496.7h0M554.6 493.8h0M556.1 480.4h0M552.8 553.4h0M556.4 466.7h0M554.9 519.1h0M557 500h0M558.6 493.9h0M550.7 519.1h0M553.9 485.8h0M556.2 490.3h0M555.1 543.1h0M558.6 517.3h0M553.2 526.8h0M551.2 478.2h0M553.4 499.9h0M551.9 465.5h0M557.4 499.9h0M552.2 475.2h0" stroke="#ff0000" stroke-width="2.8" stroke-linecap="round" stroke-opacity="0.35" fill="none"/>
<path d="M551.4 518.6h0M553.5 487.5h0M556.1 500.9h0M558.7 467.5h0M552.6 488.7h0M557.9 494h0M553.4 513h0M552.3 521.7h0M557.6 464.8h0M557.4 483.3h0M556.1 493.4h0M554.5 501.5h0M556.1 473.2h0M553.4 507.2h0M551.7 494.1h0M550.8 491.1h0M554.9 490.6h0M552.6 513.8h0M555.2 456.7h0M557.2 520.1h0M557.7 496.4h0M556.3 464.5h0M554.6 456.5h0M557.2 477.3h0M552.7 496h0M552.3 513.7h0M555.2 501.7h0M557.7 549h0M551.9 499.9h0M557 519.4h0M552.4 503.5h0M552.5 492.3h0M552.7 499.9h0M552.9 528.5h0" stroke="#ff0000" stroke-width="2.8" stroke-linecap="round" stroke-opacity="0.35" fill="none"/>
<path d="M567.6 548.7h0M561.4 467h0M567.4 513.3h0M561.6 493.9h0M567.7 528.7h0M567.4 481.8h0M561.2 489.9h0M563.5 472.2h0M562.2 542.2h0M561.1 478.3h0M564.5 461.3h0M567.6 566h0M563.3 465h0M565.9 488.4h0M563.2 469.2h0M567 507.1h0M564 503.6h0M568.5 535.6h0M566.7 505.7h0M568.4 517.9h0M566 484.6h0M565.2 488.4h0M569 461h0M565.7 496.9h0M562.2 496.4h0M561.8 455.4h0M568.7 494.7h0M567.3 487.2h0M567.4 490.3h0M563 494.3h0M562.3 485.9h0M569.1 507.5h0M561.4 510h0M563.4 490.2h0M564.6 510.5h0M564.5 540.6h0M568.3 486.7h0M565.4 472.1h0M563.6 482.7h0M562.8 456.2h0M563 537.9h0M566.5 493.4h0M563.3 525.1h0M561.5 469.7h0M568.8 552.1h0M566 539.1h0M566.1 515.7h0M567.2 502.4h0M565.8 530.5h0M566.7 471.8h0M568.5 500.5h0M569.4 519.2h0M561.4 513.7h0M569.4 497h0M568.2 558.6h0M565.6 525.9h0M562.8 497.3h0M566.4 502h0M566.8 490.6h0M566.5 531.7h0M561.4 535.8h0M563.5 514.7h0" stroke="#a020f0" stroke-width="2.8" stroke-linecap="round" stroke-opacity="0.3" fill="none"/>
<path d="M563.8 492.2h0M563.2 497.6h0M564 487.8h0M562 520.8h0M562.1 483.1h0M562.7 508.2h0M568.7 506.9h0M567.1 489.4h0M566.9 512.3h0M562.9 503.2h0M563 465h0M564 516.6h0M561.5 474.4h0M566.3 486.1h0M567.3 505.7h0M561.1 560.3h0M563.3 491.7h0M568.9 530.8h0M567 560.3h0M561.6 514.1h0M566.1 472.9h0M565.9 475.3h0M568.1 473.2h0M561.1 505.5h0M562.1 489.6h0M564 517.6h0M564.9 451.1h0M562 525h0M568.2 460.7h0M567.9 477.9h0M562.7 490.5h0M568.2 502h0M565.9 480.3h0M563.4 500.9h0M566.6 451.1h0M567.4 484h0M562.8 463.1h0M563.9 489.2h0M561.7 497.4h0M567.8 519.4h0M568.3 537.3h0M569.1 493.6h0M566 492.9h0M562.6 506.4h0M569.3 497.1h0M568.4 484.6h0M562.7 502.3h0M565.7 509.9h0M566.3 536.7h0M568.2 508.9h0M561.8 516.6h0M567.6 483.6h0M562 493.1h0M563.8 506.1h0M566.8 447.1h0M563.9 472.5h0M567.1 508.7h0M567 559.3h0M568.7 539.4h0M561.5 492h0M563 490.9h0M566.7 490.2h0" stroke="#a020f0" stroke-width="2.8" stroke-linecap="round" stroke-opacity="0.3" fill="none"/>
<path d="M561.9 509.3h0M568.2 553.2h0M567.8 508.2h0M561 528.5h0M561.5 517h0M567.4 483h0M567.3 473.7h0M563 528.2h0M565 495.1h0M566.8 481.8h0M561.3 492.4h0M564.6 490.9h0M564.3 494.1h0M562.1 527.6h0M561 478.3h0M563.6 450.1h0M563.7 495.9h0M562.9 504.6h0M562.9 525.7h0M562.7 490.6h0M569.1 470.1h0M566.6 515.5h0M565.4 513h0M565.3 485.8h0M563.8 485.8h0M561.2 479.6h0M562.5 563.8h0M568.1 484.6h0M562.6 474.1h0M565.4 540.3h0M564.4 532.4h0M569.3 513.4h0M565 518.9h0M564.7 539.1h0M562.3 536.3h0M565.4 515.3h0M564.3 556.3h0M561.9 511.5h0M565.8 471.1h0M561.2 488.9h0M564.4 437.6h0M563.2 486.9h0M568.5 530.4h0M565.6 524.2h0M561.2 461.6h0M568.6 482h0M562.6 483.4h0M567.4 518.3h0M561 490.1h0M565.3 490.7h0M568.9 501.2h0M566.5 488.5h0M562.5 487.8h0M568.1 496.6h0M566 471.4h0M562 531.1h0M568.4 487h0M564.6 478.5h0M561.6 480.6h0M562.1 520.4h0M567.9 546.5h0" stroke="#a020f0" stroke-width="2.8" stroke-linecap="round" stroke-opacity="0.3" fill="none"/>
<path d="M565.5 499.1h0M568.9 495.2h0M565.9 480.7h0M565.2 479.5h0M561.1 488.8h0M564.6 553.6h0M567 501.9h0M569.1 479.7h0M567 520.1h0M562.2 556.7h0M568.2 510.5h0M564.4 486.6h0M564.5 507.2h0M565.3 533.9h0M561.2 561h0M562.2 489h0M569.3 484.1h0M561.6 453.9h0M568.2 511.4h0M565.9 555.3h0M566.8 507.6h0M564.3 498h0M568.4 509.3h0M566.5 477.7h0M566.9 462.3h0M567.7 518.4h0M561.9 501h0M568.3 453.7h0M566.4 477.2h0M566.7 515.5h0M562.9 521h0M563.5 469.2h0M561 477h0M561.7 484.8h0M569.3 496.4h0M568.8 436.2h0M561.5 462h0M562.3 544.8h0M561.8 479.1h0M568.2 499.5h0M564.2 551.9h0M563.9 476.7h0M561.7 497.6h0M562.5 470.1h0M561.8 462h0M568.7 490.8h0M569.4 506.6h0M564.7 493.9h0M562.8 486.3h0M566.8 526h0M565.1 492.1h0M563.7 486.3h0M567.7 532.2h0M568.9 537.9h0M568.8 509.4h0M568.5 478.4h0M562.4 481h0M565.7 504.1h0M564.6 535.8h0M568.5 484.3h0M566.8 517.6h0" stroke="#a020f0" stroke-width="2.8" stroke-linecap="round" stroke-opacity="0.3" fill="none"/>
<path d="M564.8 470.7h0M565.6 484h0M561.6 509.1h0M567.7 471.1h0M564 479.3h0M561.8 545.8h0M562.9 501h0M563.1 544.6h0M564.7 471.1h0M569.1 466h0M563.6 555h0M568.7 496.3h0M568.3 503.3h0M563.2 545.6h0M566.3 487.7h0M568.4 483.4h0M568.6 519.8h0M568.7 524.4h0M563.6 458.5h0M568.9 524.3h0M563.5 510.1h0M565 540.8h0M566.5 474.9h0M567.2 488.3h0M568 502h0M567.2 552.2h0M565 510.8h0M569.1 492.7h0M561.3 485.7h0M566.8 486.6h0M568.1 442.6h0M565 518h0M566.6 506.5h0M561.8 492.6h0M561.7 534.2h0M567.4 505h0M564.2 517.4h0M561.5 498.4h0M567.4 500.9h0M561.4 481h0M562.5 501.6h0M566.8 461.6h0M566.6 493.8h0M563.3 546.1h0M566.3 529.6h0M566 452.6h0M567.3 498.4h0M566.6 507.5h0M569.3 466.1h0M564.1 495.7h0M566.2 500.3h0M568 494.3h0M561.5 502.7h0M564.8 493.3h0M568.5 501h0M568.3 506.4h0M566 490.2h0M564.9 477.9h0M566.1 518.7h0M562 476.6h0M563.7 458h0" stroke="#a020f0" stroke-width="2.8" stroke-linecap="round" stroke-opacity="0.3" fill="none"/>
<path d="M562.9 495.3h0M568.1 495.8h0M564.1 473.3h0M562 490.6h0M568.5 498.7h0M563.7 527h0M563.4 538.4h0M565 510.7h0M564.6 515h0M568.2 531.8h0M569 558.4h0M562.3 490.2h0M567.9 488.5h0M562.1 516.2h0M563.7 459.6h0M567.3 494.1h0M569.2 465.7h0M569 496.8h0M568.6 531.6h0M561 487.9h0M561.7 481.9h0M564.2 526.4h0M562.4 524.6h0M567 506.4h0M565.5 466.1h0M562.8 548.7h0M563.8 490.5h0M567.2 485.6h0M564.1 513.4h0M567.7 471.8h0M565.5 496.4h0M562.8 505.8h0M562 525.8h0M562.1 435.1h0M569 465.1h0M563.4 469.8h0M561 528.3h0M564.9 553h0M561.1 517.7h0M564.2 473.4h0M566.7 506.1h0M566.5 482.1h0M568.1 503.8h0M562.7 555.7h0M562.8 501.5h0M561.6 491.8h0M565.1 505.7h0M564.8 495.4h0M568.4 493h0M565.6 491.2h0M562.6 489.6h0M564.5 528.5h0M562.1 514.2h0M568.5 488.1h0M565 507.7h0M569.1 509.9h0M564.9 490.4h0M563.2 499.2h0M568.9 488.5h0M566.5 508.6h0M564.8 496.8h0" stroke="#a020f0" stroke-width="2.8" stroke-linecap="round" stroke-opacity="0.3" fill="none"/>
<path d="M572.4 502.7h0M579.3 508h0M578.2 530.7h0M572.6 475.7h0M574.9 473.5h0M577.6 489.9h0M573.1 525.9h0M574.9 510.5h0M574.8 495.5h0M575 474.8h0M578.3 481.5h0M571.7 492.8h0M571.8 501.8h0M579.3 454.7h0M572.3 495.4h0M573 498.9h0M573.1 498.1h0M577.2 521.7h0M575.2 500.3h0M574.8 557.7h0M576.5 485.9h0M574.7 536.6h0M578.6 458.7h0M573.2 512.2h0M577.1 482h0M573 515.3h0M578.5 509.6h0M577.1 475.6h0M577.7 524.6h0M575.2 496.9h0M574.3 493.5h0M572.3 491.5h0M573.6 524.5h0M574.5 533.3h0M575.2 484.9h0M576.2 492.5h0M572.4 491.4h0M574.5 562.5h0M574.6 508.2h0M574.7 485.2h0M579.8 486.7h0M574.5 515.6h0M577.8 505.5h0M573.1 493.5h0M576.7 516.3h0M575.1 542.7h0M571.7 490.1h0M576.6 507.7h0M574.9 488.8h0M572.6 547.2h0M572.8 485.3h0M578.2 494.3h0M572.3 456.2h0M577.6 481.7h0M579.2 490h0M573.7 470.2h0M578.6 504.4h0M571.5 532.4h0M574.8 523.3h0M573.1 528h0M577.2 502.8h0M577 463.2h0M577.3 532h0M578.6 507.7h0M578.2 502.2h0M578.9 494.4h0M579.6 496.6h0M575.4 539.7h0M573.9 502.9h0M579.3 497.5h0" stroke="#ff0000" stroke-width="2.8" stroke-linecap="round" stroke-opacity="0.3" fill="none"/>
<path d="M575.3 493.9h0M575.7 509.5h0M575.4 535.2h0M574.9 503.2h0M578.7 489.1h0M577.2 517.8h0M579.8 483.5h0M573.2 498.2h0M578.8 494.6h0M579.3 518.5h0M579.5 485.8h0M575.1 530.2h0M572.4 495.2h0M576.3 470.5h0M573.5 503h0M577.5 474.6h0M579.8 483h0M573.6 510.2h0M573.2 479.4h0M576.7 509.5h0M579.2 481.3h0M575.7 528.3h0M577.6 505.6h0M575.9 516.9h0M578.2 520.3h0M579.1 500.3h0M574 497.3h0M571.7 532.7h0M579.3 505.5h0M577.4 505.9h0M577.1 476.9h0M577.5 501.4h0M576.1 509.7h0M578.1 496.1h0M578.3 458.5h0M572.6 490.7h0M577.6 501.3h0M574.6 517.6h0M573.8 479.1h0M576.6 474.9h0M575.5 539.2h0M573.3 543.9h0M579 523.6h0M579.1 483.7h0M576.1 511.8h0M574.5 523.1h0M579.2 463.3h0M576.1 527.4h0M577.8 480.8h0M575.8 475.6h0M574 461.9h0M576.6 497.1h0M578.9 528.3h0M572.8 482.1h0M576.3 489.1h0M579.6 485.5h0M576.1 515.3h0M578.3 503.1h0M579.2 501.5h0M573 488.7h0M571.7 533.8h0M576.5 497.2h0M573.4 460.6h0M575.7 488.5h0M574.2 489.7h0M574.7 512h0M573.5 537.9h0M572.6 483.3h0M578.8 506.2h0" stroke="#ff0000" stroke-width="2.8" stroke-linecap="round" stroke-opacity="0.3" fill="none"/>
<path d="M573.4 505.3h0M576.2 500.5h0M572.2 508.5h0M579 502.1h0M576.1 486.7h0M574.5 488.5h0M577 488.8h0M579.8 486.7h0M572.7 495.5h0M579 508.6h0M576.7 514.2h0M577.6 518h0M578.6 490.9h0M572.6 488.2h0M573.5 524.7h0M578.3 511.8h0M574 527.6h0M575.1 519h0M575.1 486.1h0M578.4 545.8h0M579.7 505.3h0M575.8 471h0M579.6 508.9h0M571.7 508h0M574.6 482.1h0M576.9 461.3h0M578.2 507.4h0M578.6 482.1h0M571.8 507.5h0M577.6 480.8h0M572.7 464.1h0M577.2 524.5h0M573.4 475.8h0M577.9 504.2h0M576.1 484.2h0M574.6 509.9h0M572.6 520h0M572.1 479.2h0M572.8 508.8h0M577.4 510.8h0M579.2 500.6h0M574.9 480.3h0M572.4 515.7h0M577.3 504.9h0M572.9 461.8h0M574.4 508.8h0M576.8 499.8h0M576.6 476.5h0M579.6 504h0M579.7 487.7h0M573.2 487.8h0M576.8 507.3h0M578.9 503.5h0M572.9 491.6h0M572.2 494.7h0M575.2 526.3h0M575.5 517h0M572.1 484.4h0M575.8 495.6h0M572.3 527.5h0M578.1 460.6h0M572 515.1h0M575.3 533.9h0M577.3 524.1h0M577.8 500.6h0M579.7 489h0M578.3 494.9h0M574 512h0M579.1 498.3h0" stroke="#ff0000" stroke-width="2.8" stroke-linecap="round" stroke-opacity="0.3" fill="none"/>
<path d="M574 498h0M573.2 498.4h0M574.8 478.7h0M579.8 509.3h0M576.2 485.6h0M573.7 531.1h0M576.2 476.5h0M579.7 501.2h0M575.2 497.2h0M579.7 508.4h0M573.2 492.7h0M578.5 507.5h0M578.5 477.7h0M573.4 487.9h0M573.9 485.9h0M573.6 522.8h0M577.5 484.2h0M576.4 508.5h0M573 472.7h0M572 489.7h0M572.9 493.3h0M578.4 487.8h0M572.5 503.6h0M573.6 500.6h0M575.3 496.4h0M579 474.5h0M573.7 476.7h0M571.5 511.8h0M571.6 488.7h0M579.7 501.3h0M572.5 498.9h0M575.6 493.3h0M576.3 557.1h0M572.4 536.6h0M574.8 501.7h0M574.2 479.9h0M575.5 493h0M575.2 474.9h0M572.4 474.8h0M572.5 517.6h0M576.6 546.1h0M579.2 530.7h0M578.8 494.3h0M576.7 516.4h0M579.2 523.8h0M573.3 503.7h0M572.1 488.1h0M577.3 500.2h0M573.4 492h0M573.3 531.2h0M572.9 508.4h0M572.7 480.6h0M576.1 509.6h0M577.5 494.5h0M579 505h0M579.4 516.8h0M572.5 501.1h0M577 500.6h0M574.3 514.7h0M579.5 491.3h0M576.4 504.1h0M575.2 525.7h0M574.2 517.5h0M576.3 506.5h0M578.9 487.4h0M573.4 495.5h0M575.5 507.9h0M575.7 564.3h0M574.8 504.8h0" stroke="#ff0000" stroke-width="2.8" stroke-linecap="round" stroke-opacity="0.3" fill="none"/>
<path d="M575.9 477.3h0M571.6 504.7h0M575.1 508.7h0M577.4 545.1h0M577.8 481h0M573.1 523.6h0M577.5 498.7h0M576.7 507.4h0M573.2 520.9h0M577.6 517.2h0M573.9 479.4h0M579 538.7h0M573.8 545.9h0M576.7 506.3h0M574.7 482.1h0M579.7 503.9h0M578.8 504.3h0M577.1 489.9h0M577.2 493.8h0M571.6 514.3h0M578.9 512.9h0M579.1 493.3h0M572.6 500.4h0M578.3 532.8h0M572.6 476.1h0M577.1 499.1h0M574.2 485.6h0M572.1 518.2h0M574.2 496.6h0M576.5 488.5h0M573.5 500.1h0M577.8 543.5h0M572.7 505.5h0M579.1 494.9h0M579.5 508.6h0M574.8 519.6h0M578 507.2h0M578.4 496.6h0M575.2 496.1h0M573.4 470h0M575.8 553h0M575 538.1h0M575.4 507.7h0M577 485h0M578.7 497.4h0M579.3 497.6h0M572.3 521.4h0M571.9 472.5h0M578.7 510.5h0M576.7 519.6h0M575.5 507.1h0M572.9 470.3h0M574.2 503.5h0M578.4 478.8h0M574.6 523h0M572.3 500.2h0M576.2 477.5h0M574.5 514.2h0M573.4 497.3h0M574.8 512.4h0M574.3 486.5h0M578.7 482.8h0M576.6 468.3h0M575.7 524.1h0M574.6 486.2h0M578.5 493.2h0M572.3 500h0M572.5 520.9h0M576 480.4h0" stroke="#ff0000" stroke-width="2.8" stroke-linecap="round" stroke-opacity="0.3" fill="none"/>
<path d="M576.9 462.3h0M576.5 489.2h0M572 509.4h0M579.4 475.5h0M578.7 507.5h0M577.1 518.7h0M579.8 465.4h0M576.8 482.3h0M578.7 541.1h0M573.7 483.6h0M575.1 511.8h0M574.5 499.2h0M578.3 525.4h0M578.7 492h0M578.3 503.7h0M573.2 491.1h0M573.1 548.2h0M578.2 487.9h0M579.2 493.8h0M577.7 483.4h0M572.6 507.7h0M572.8 511.9h0M576 492.9h0M576.2 503.8h0M576.6 511.4h0M576.4 515.7h0M578.4 474.9h0M577.3 488.4h0M573.6 464.9h0M571.8 494.9h0M578.6 481h0M577.2 478h0M574.6 559.1h0M573.7 518.8h0M573.7 491.6h0M578.2 470.9h0M577.9 495.2h0M573.7 491h0M579.1 484.9h0M578.1 460.3h0M576 458.9h0M575 488h0M578.2 546.8h0M573 474.5h0M572.4 556.7h0M572.8 470.8h0M574.5 516.7h0M573.5 508h0M576.8 492.7h0M577.8 483.3h0M575.1 491.6h0M576.9 544.1h0M576.2 498.9h0M576.1 511.9h0M572.8 495h0M575.9 477.8h0M578.5 495.2h0M576.2 507.4h0M574.5 491.6h0M575.4 497h0M573 525.9h0M573 479.6h0M574.9 486.8h0M579.2 492.9h0M576.2 504h0M573.9 516.1h0M577.1 494.6h0M578.1 528.8h0M574.1 482.4h0" stroke="#ff0000" stroke-width="2.8" stroke-linecap="round" stroke-opacity="0.3" fill="none"/>
<path d="M584.6 497.7h0M586.5 487h0M589.9 462.2h0M588.2 507.1h0M583 515.2h0M589.2 501.2h0M590.2 472.8h0M582 533.2h0M586.5 501.1h0M586.1 482h0M587.6 535.6h0M582.7 497.7h0M585.6 491.6h0M583 489.7h0M585 482.4h0M586.1 498.5h0M583.2 502.1h0M582.1 522.3h0M585.4 482.8h0M585.2 519.7h0M587.7 508.5h0M587.6 506.6h0M587.8 536.5h0M588.9 482.7h0M584.7 518.1h0M585.1 497h0M589.4 520.4h0M587.5 486.2h0M589.3 527.2h0M584.7 537.3h0M589 493h0M588.2 515.1h0M589.3 505.8h0M587.8 478.3h0M585.1 536.5h0" stroke="#0000ff" stroke-width="2.8" stroke-linecap="round" stroke-opacity="0.5" fill="none"/>
<path d="M593.5 468.2h0M597.8 479.8h0M599.8 476h0M595.9 485.2h0M599.8 495.5h0M595.4 475.5h0M596.2 470.4h0M594.9 474.1h0M593.9 464.6h0M600.4 464.1h0M595 475.4h0M597.8 470h0M597 467.8h0M599.5 526.6h0M600 473.1h0M599.2 495.1h0M596.4 464.9h0M596.9 469h0M593.2 472.2h0M595 476.2h0M598.6 490.8h0M594.4 503.1h0M599.4 490.3h0M592.7 471.8h0M593.3 483.6h0" stroke="#ff0000" stroke-width="2.8" stroke-linecap="round" stroke-opacity="0.3" fill="none"/>
<path d="M600 482.9h0M599.8 464.4h0M595 490.2h0M597.1 477h0M592.6 468.2h0M592.5 481.6h0M600.6 484.1h0M595.3 471.9h0M599.7 489h0M599.6 468.8h0M599.7 479.7h0M599.9 472.8h0M595.7 462.1h0M596.3 481.5h0M593.4 494.2h0M593.2 485.5h0M598.1 462.9h0M599.8 478.9h0M600.2 498.9h0M593.3 469.4h0M594.4 479h0M593.3 485.9h0M600.2 457.1h0M594.8 484.1h0M599.2 453.6h0" stroke="#ff0000" stroke-width="2.8" stroke-linecap="round" stroke-opacity="0.3" fill="none"/>
<path d="M598 470.3h0M597.7 470.5h0M593.4 502.9h0M597 490.7h0M597.6 468.5h0M592.8 484.9h0M594.1 482.3h0M599.7 463.4h0M596.7 480.1h0M599.5 471.6h0M596.3 508.2h0M598.5 488.6h0M600.3 478.1h0M594.2 487.6h0M599.4 488.2h0M597.3 463.2h0M598.1 467.9h0M599 471.1h0M595.6 488.3h0M599.3 480.8h0M594.5 526.9h0M596.7 476h0M595 481.4h0M600 492.7h0M592.6 485.6h0" stroke="#ff0000" stroke-width="2.8" stroke-linecap="round" stroke-opacity="0.3" fill="none"/>
<path d="M598.6 487.8h0M595.2 471.5h0M598.9 487.1h0M594.1 465.1h0M599.1 514.2h0M599.7 457.3h0M594.5 487.2h0M594.3 471.6h0M594.3 453.3h0M600.3 475.4h0M599 497.6h0M595.7 488.6h0M595.8 484.3h0M593.7 473.5h0M592.7 483.4h0M598.1 470.6h0M596.8 452.8h0M598.8 499.5h0M595.1 474.9h0M597.5 481.8h0M592.8 477.5h0M598.6 482.8h0M598.1 489.9h0M596.7 510.9h0M598.9 485.2h0" stroke="#ff0000" stroke-width="2.8" stroke-linecap="round" stroke-opacity="0.3" fill="none"/>
<path d="M600.8 478.5h0M594.1 487.7h0M593.2 497.5h0M593.7 486.8h0M600.6 493.5h0M594.4 480h0M593.1 483.4h0M600.4 479.8h0M597.9 496.1h0M593.1 481.9h0M592.9 477h0M600.3 487.4h0M597.3 484.8h0M598.3 463.9h0M594.1 490.5h0M596.4 484.3h0M592.6 472h0M597.6 472h0M599 473.3h0M600.4 477.8h0M598.4 475.5h0M597.9 500.9h0M593.4 467.3h0M597.7 476.6h0M599.1 500h0" stroke="#ff0000" stroke-width="2.8" stroke-linecap="round" stroke-opacity="0.3" fill="none"/>
<path d="M600.7 483.6h0M599.2 476.1h0M594.3 506.7h0M596.2 472h0M593.8 476.6h0M595.5 480.7h0M592.8 486.7h0M598.1 504.7h0M593.4 488.5h0M600 480.8h0M597.9 513.8h0M595.5 470.4h0M594.8 478.6h0M597.2 467.1h0M597.2 477.9h0M593.8 485.3h0M595.4 465.5h0M599.8 484h0M597.7 492.3h0M599.1 458.6h0M596.5 473.5h0M598.1 464.9h0M595.9 483.7h0M597.3 488.8h0M598.4 481.6h0" stroke="#ff0000" stroke-width="2.8" stroke-linecap="round" stroke-opacity="0.3" fill="none"/>
<path d="M606.1 462.8h0M607 467.1h0M605.5 480.9h0M606.3 461.6h0M604.8 465.1h0M607.3 480.2h0M604 471.4h0M605.5 464h0M604.3 484.7h0M605.5 473.7h0M611 467.9h0M603.8 466.4h0M610.7 475.8h0M605 473.7h0M608.7 456.3h0M606 454.8h0M605.9 475.5h0M604.2 460.3h0M603.8 466.6h0M608.2 481.5h0M603.9 443.7h0M605 468.9h0M604.4 482.3h0M609 468.3h0M609.8 469.9h0M609.3 479.7h0M605.1 468.1h0M610.1 481.2h0M605.7 472.9h0M610.3 462.8h0M604.6 467.2h0M607 502.3h0M610.1 458.5h0M605.1 461.9h0M609 487.7h0M603.7 466.7h0M608.5 463h0M604.5 472h0M605 459.3h0M605.7 457.6h0M609.9 478.2h0M610.2 466.3h0M607.4 474h0M606.4 489.3h0M608.7 504.3h0M610.7 466.1h0M607.9 471.4h0M609.8 475.8h0M607.6 447.2h0M606.8 458.2h0M604.9 505.1h0M603.2 472.6h0M605.2 444.3h0M603.3 471.9h0M606.1 485.2h0M611.2 466.8h0M603.6 449.7h0M608.6 469.2h0M608.2 471.8h0M608.7 453.7h0M607.9 479.3h0M608.4 466.5h0M610 451.1h0M604.4 485.6h0M607.6 474.2h0M610.4 462h0M611.1 471.4h0M610.7 466.5h0M609.1 466.1h0M608.2 482.5h0M603.1 486.7h0M609.8 471.7h0M605.9 464.8h0M608.7 459.1h0M605.1 445.4h0M608.2 472.9h0M609.8 463.6h0M608.7 485.9h0M607 474.7h0M607.7 476.4h0M603.6 465.4h0M611 467.1h0M604.3 459.5h0M605.3 480.8h0" stroke="#ff0000" stroke-width="2.8" stroke-linecap="round" stroke-opacity="0.3" fill="none"/>
<path d="M604.8 463.5h0M610 464.7h0M604.3 469.2h0M607 454.1h0M604.6 449.4h0M604.2 475.3h0M604.6 470.8h0M606.3 467.9h0M603.3 455.3h0M610.6 465.8h0M604.6 495.7h0M608.5 498h0M604.8 468.1h0M606.2 464.3h0M605.4 467.1h0M608.5 474.7h0M603 470.8h0M605.5 472.2h0M607.9 458.8h0M603.9 482.5h0M609.6 466.1h0M606.9 454.4h0M609.8 464.3h0M605.1 462.9h0M604.8 483.3h0M603.7 446.4h0M609.7 461.4h0M604.3 480.3h0M606.8 464.6h0M603.8 455.7h0M610.1 468h0M602.9 462.8h0M610.1 464.5h0M607.9 464.1h0M609.2 463.7h0M603.9 479h0M608.2 465.4h0M610.8 463h0M603.6 465.8h0M610.8 468.7h0M609 465.7h0M604.2 471.1h0M606.5 495.7h0M609.6 480.6h0M607.9 477.6h0M604.7 475.2h0M606.1 485.7h0M604.6 467h0M603.2 522.6h0M610.4 483.5h0M603.8 461.6h0M607.6 465.9h0M605.6 481.7h0M607.8 467.2h0M604.8 469.2h0M608.8 476.8h0M603.4 483.2h0M607.7 491.8h0M604.1 488.2h0M607.3 475.5h0M609.5 482.7h0M609.5 456.2h0M609.8 493.9h0M607.6 464.6h0M603.7 480.4h0M606.9 466h0M602.9 456h0M607.9 472h0M607.7 477.4h0M610.7 468.4h0M604.7 487.1h0M607.7 467.1h0M605.5 460.6h0M610.5 451h0M604.4 465.4h0M609.3 475.3h0M606 451.6h0M605.8 467.3h0M603.8 469.9h0M604.3 493.6h0M610.4 467.7h0M610.4 453.3h0M607 484.9h0M606.3 483.5h0" stroke="#ff0000" stroke-width="2.8" stroke-linecap="round" stroke-opacity="0.3" fill="none"/>
<path d="M604.2 468.5h0M608 468.7h0M611 489.5h0M604 469.4h0M607 477.6h0M610.9 476.5h0M608.6 485.8h0M608.8 456.3h0M608.5 467.1h0M609.6 467.6h0M609.9 482.9h0M604.5 460.3h0M604.6 478h0M607.9 473.2h0M608.4 484.1h0M603.2 452.9h0M605.2 456.7h0M606.5 459.4h0M608.2 498.8h0M604.1 470.5h0M606.7 494.2h0M603.7 463.5h0M603 468.4h0M607.6 471h0M604.2 477h0M603.5 461.9h0M605.6 482.2h0M603.6 468.4h0M604 471.8h0M606 478.1h0M609.6 460.1h0M603.4 465.7h0M609.5 466.5h0M611.2 468.9h0M610 484.5h0M610.3 484.6h0M604.5 484.1h0M609.5 468.2h0M606.6 508.7h0M607.7 474.7h0M609.5 455h0M603.1 491.4h0M606.6 466.4h0M606.7 467.2h0M604 469.8h0M603.2 462.3h0M603.8 469.2h0M610.3 512.2h0M607.4 464h0M603.4 483.1h0M603.8 512.6h0M609 467.5h0M607 481h0M608.8 448.2h0M611.2 466.3h0M611.2 478.9h0M603.5 520.8h0M607.2 474.1h0M610.6 460.3h0M603.2 470.9h0M607.5 457.8h0M604.4 470.1h0M603.9 463.4h0M605.4 477.5h0M605.8 469.4h0M609 457.2h0M603.5 465.8h0M608.8 453.5h0M603.7 467.3h0M602.9 475.3h0M610.5 489.9h0M605.2 462.7h0M606.9 462.9h0M610.2 449.9h0M604.2 449.6h0M608 465.8h0M604.6 471.1h0M603.7 466.4h0M606.1 470.6h0M604.3 470.9h0M604.7 477.3h0M610.9 488.6h0M610.7 472.4h0M608.6 472.8h0" stroke="#ff0000" stroke-width="2.8" stroke-linecap="round" stroke-opacity="0.3" fill="none"/>
<path d="M603.8 471.9h0M611 471.3h0M608.4 466.4h0M607.5 486h0M610.6 481.7h0M605.3 477.2h0M604.4 463.9h0M609.9 454.2h0M606.7 477h0M611 454.8h0M606.3 462.1h0M605.4 465.3h0M606.2 482.4h0M605 461.9h0M610.4 481.3h0M609.8 462.6h0M608 446.9h0M606.7 494h0M606.5 472.6h0M605 471.5h0M609.3 478.9h0M609.2 471.4h0M603.1 448.1h0M609 450.7h0M606.6 470.4h0M608.3 476.4h0M610 479.5h0M606.9 473.7h0M607.3 470.2h0M610.7 471.2h0M605.2 464.1h0M607.3 499.9h0M605.8 446.1h0M606 481.3h0M607.3 478.2h0M607.9 467.5h0M610.7 492.3h0M607.7 470.5h0M606.6 495.8h0M605.2 465h0M606.2 477.3h0M603.8 465.9h0M605.5 481.4h0M603 477.9h0M606.3 468.6h0M605.4 483h0M609 473.6h0M609.8 449.3h0M603.7 468.9h0M608.5 477.4h0M606.7 459h0M608.3 479.3h0M608.2 486.6h0M603.2 463.4h0M609.3 478.3h0M604.9 468h0M607.3 473.2h0M603.8 469h0M605.9 477.6h0M605 456.2h0M610 470.3h0M607.4 480.1h0M606.4 471.9h0M607.9 471.4h0M606.7 481.1h0M606.3 496.9h0M610.5 453.4h0M603.9 473.4h0M610.1 490.5h0M605.4 462.8h0M605.1 460h0M607.7 465.4h0M610.9 459.5h0M606.4 455.7h0M605.1 475.5h0M605.2 458.1h0M610.3 502.2h0M604.3 472.8h0M604.2 481.2h0M609.4 467.9h0M603.5 469.9h0M605.8 467.2h0M607.1 480.4h0" stroke="#ff0000" stroke-width="2.8" stroke-linecap="round" stroke-opacity="0.3" fill="none"/>
<path d="M603.9 474.6h0M606.8 466.5h0M604.9 464.8h0M608.5 480.9h0M609.5 459.6h0M606.8 483.3h0M608.6 456.5h0M609.3 472.8h0M608.6 462.5h0M607.1 465h0M603.4 461.5h0M605.1 494.4h0M603.2 463.2h0M603.6 464.3h0M604.5 496.6h0M607.6 468.8h0M607.9 468.1h0M608.8 493.7h0M604.7 458.7h0M611.1 474.8h0M608.8 517h0M609.5 463.6h0M608.2 469h0M610.1 456h0M608.8 536.9h0M604.4 471h0M606.7 487.8h0M607.1 463.2h0M606.6 471.1h0M608.2 455.6h0M606.1 467.8h0M607.8 469.7h0M610.9 503.8h0M604.9 458.5h0M607.2 462.3h0M609.2 505.7h0M609.2 462.7h0M610.3 464.3h0M604.2 464.5h0M608.1 471.6h0M605.3 473.5h0M604.7 460.4h0M605.3 481.6h0M604.8 492.5h0M606.2 443.7h0M609.9 483.1h0M605.9 472h0M605.2 478.1h0M609.4 485.2h0M609.4 466.8h0M605.7 464.7h0M603.5 467.9h0M602.9 465.9h0M604.1 460.8h0M608.1 472.6h0M604.2 461.8h0M605.2 479.3h0M606 475.4h0M605 465.1h0M608.5 474.5h0M610.6 463h0M608.5 474.4h0M610 481.5h0M609.2 478.2h0M604.6 486.1h0M606 466.8h0M607.2 465.9h0M606.9 479.4h0M606.9 478.4h0M606.8 465.9h0M605.3 470.8h0M605 486.6h0M610.7 494h0M608.8 493h0M607.3 499.1h0M605.2 469.3h0M604.7 469.8h0M603.9 476.7h0M609.1 477.2h0M603.9 471.5h0M606.7 476.4h0M609 465.8h0M610 481.9h0" stroke="#ff0000" stroke-width="2.8" stroke-linecap="round" stroke-opacity="0.3" fill="none"/>
<path d="M610.2 467h0M603.6 479h0M608.9 468.3h0M609.3 469.7h0M606.9 483.2h0M607.8 446.1h0M604.1 475.8h0M605.6 476.6h0M609.3 473.4h0M610 482.8h0M607.5 445.8h0M609.7 455.5h0M610.4 473.3h0M605.9 460.5h0M608.7 473.1h0M603.3 459.2h0M611.1 463.4h0M610.1 467.7h0M608 462.2h0M606.1 498.2h0M605 475.7h0M603.5 468.2h0M610.7 468.8h0M605.1 489.6h0M611.1 461.8h0M605.3 466.3h0M608.9 467.9h0M609.9 449.6h0M605.2 476.4h0M608.3 457h0M604.8 469.9h0M604.6 472.4h0M606.5 491h0M605.9 475.8h0M605.3 505.9h0M609.2 471.2h0M610.4 469.1h0M610.6 466.1h0M606.2 470.5h0M606.2 476.5h0M603.4 471.4h0M611 467.6h0M607.6 462.5h0M609.8 504h0M605.2 469.1h0M610.3 471.2h0M604 477.5h0M606.8 457.2h0M606.7 479.8h0M605.3 478.9h0M607.2 461.2h0M606.7 446.9h0M607.4 471.5h0M611.3 452.9h0M609.8 469h0M605.9 471.2h0M607.4 457.5h0M604.8 493.4h0M609 465h0M608.1 479.8h0M606.8 463.1h0M610.5 487h0M605.6 457.2h0M605.6 466.1h0M603.1 481.7h0M604.1 508.7h0M609.7 464.1h0M608.9 505.4h0M609.7 474.1h0M605 471.2h0M608.6 478.8h0M605.7 469.2h0M607.2 465.8h0M606.6 484.4h0M608.5 487h0M611 458.5h0M607.3 473.2h0M611 478.6h0M604.6 470.3h0M603.2 452.7h0M609.6 468.3h0M606.7 460.6h0M604.3 475.9h0" stroke="#ff0000" stroke-width="2.8" stroke-linecap="round" stroke-opacity="0.3" fill="none"/>
<path d="M619.8 484.4h0M621.6 475.7h0M621.3 481h0M616.6 489.9h0M615.5 492.1h0M617.2 491.3h0M617.2 479.2h0M618.7 480.7h0M621.5 480.1h0M619.8 480h0M616.7 492.5h0M621 485h0M621.7 489.1h0M620.5 474.8h0M620.9 475.4h0M618.9 484.7h0M613.5 481h0M618.5 481.4h0M621.3 475.9h0M617.2 476.1h0" stroke="#0000ff" stroke-width="2.8" stroke-linecap="round" stroke-opacity="0.35" fill="none"/>
<path d="M614 482.8h0M618.9 476.5h0M616.4 480h0M617 481.7h0M619.9 481.2h0M616.8 487.9h0M617.1 490.6h0M614.8 481.1h0M613.7 476.4h0M616 481.4h0M615.8 479.2h0M617.3 481.1h0M619.6 491.4h0M616.5 483h0M613.4 472.4h0M619 482.6h0M613.8 485.4h0M617.5 486.1h0M614.5 474h0M616.4 483.4h0" stroke="#0000ff" stroke-width="2.8" stroke-linecap="round" stroke-opacity="0.35" fill="none"/>
<path d="M615.4 492.7h0M617.6 482.6h0M618.2 483.7h0M617.3 487.6h0M613.5 480h0M619.7 486.4h0M621.1 482.6h0M614.9 489.4h0M615.5 494.5h0M615.8 488.6h0M615.9 480h0M616.1 485.1h0M616.8 483.6h0M621.6 482.4h0M621.1 483.9h0M616.8 478h0M616.1 479h0M621 477.6h0M613.4 485.4h0" stroke="#0000ff" stroke-width="2.8" stroke-linecap="round" stroke-opacity="0.35" fill="none"/>
<path d="M625.3 470.4h0M624.8 492.4h0M624.2 463.2h0M631 495.7h0M624.9 489.7h0M629.6 471.4h0M626.3 463.8h0M628 471.5h0M631.9 468.6h0M626.8 464.3h0M627.5 470.6h0M625.4 471.8h0M626.9 471.4h0M631.7 486h0M629.9 468.2h0M627.4 476.6h0M626.7 468.1h0M627 475.2h0M630.6 464.6h0M625.4 482.6h0M625.8 484.6h0M630.4 485.2h0M624.3 481.2h0M628.1 480.1h0M629.5 466h0M627.3 472.5h0M631.3 489.6h0M629.4 482.4h0M626 470.6h0M630.3 492.2h0M627 465h0M623.8 491h0M628.6 459.3h0M630.4 472.8h0M632.1 483.4h0M628.7 479.2h0M629.5 482.3h0M624.3 487.2h0M628.6 472.6h0M630.2 475.1h0" stroke="#ff0000" stroke-width="2.8" stroke-linecap="round" stroke-opacity="0.35" fill="none"/>
<path d="M625.7 476.2h0M629.8 469.7h0M629.2 459.7h0M625.9 476.1h0M630 467.2h0M629.8 469.1h0M625.6 475h0M624.1 466.5h0M627.6 466.1h0M627.6 486.1h0M628.9 492.2h0M631.9 459.3h0M626.5 495.2h0M630 497h0M629.2 486.7h0M623.9 489.5h0M624 475.8h0M626.3 468.9h0M626.1 471.7h0M627.7 484.2h0M624.1 480.3h0M626.5 467.6h0M624.1 468.5h0M625.8 478.9h0M627.4 483h0M631.2 494.5h0M630.5 473h0M631.6 481h0M628 469.4h0M629.3 464h0M626.9 460.4h0M627.9 491.4h0M626.7 481.3h0M630.6 487.1h0M630.3 473.6h0M627 474h0M631 475.9h0M630 486.3h0M631.5 466.9h0M627.3 498.8h0" stroke="#ff0000" stroke-width="2.8" stroke-linecap="round" stroke-opacity="0.35" fill="none"/>
<path d="M624.5 490.4h0M624.4 491.3h0M628.2 471.5h0M627.1 460.9h0M631.4 488.8h0M630.5 478.9h0M630.6 466.3h0M629.8 470.5h0M626.4 476.1h0M629.6 482.2h0M627.1 477.9h0M628.7 475.6h0M627 504.2h0M629.1 473.3h0M626 486.5h0M626.9 467.1h0M625.3 469.4h0M624.3 472.8h0M627.2 514.9h0M628.7 466h0M625.1 475.8h0M623.9 485.9h0M628.2 465.4h0M627.4 477.4h0M630.8 478.5h0M630.2 484.8h0M631.9 468.4h0M624.2 468.5h0M628.1 474.2h0M623.8 476.6h0M624 482.9h0M630.8 491.5h0M627.4 462.6h0M625.2 474.2h0M627.2 485.9h0M624.9 480.2h0M628.1 500.5h0M630.8 464.2h0M627.4 483.8h0M623.9 476.3h0" stroke="#ff0000" stroke-width="2.8" stroke-linecap="round" stroke-opacity="0.35" fill="none"/>
<path d="M638.2 498.3h0M638.4 484h0M634.5 528.4h0M634.5 482.4h0M642.2 476.5h0M639.5 449.4h0M634.8 508.6h0M638.4 539.1h0M636.7 538.2h0M638.9 496.4h0M641.9 491.4h0M634.4 540.8h0M635.9 458.7h0M640.3 505.9h0M636 468.9h0M636 497.1h0M638.3 488.4h0M637 485.2h0M641.4 501.5h0M636.6 482.7h0M636.1 507.7h0M640.3 495.3h0M636.4 488h0M641.1 504h0M636.5 514.2h0M636.6 495.7h0M641.5 533.7h0M638.7 539.5h0M641.2 526.4h0M639.4 484.6h0M637.8 508h0M636.6 516.1h0M635.6 472.8h0M641.5 530.5h0M636.5 439.6h0M636.7 525h0M635.3 447.2h0M636.8 488.1h0M635.9 472.9h0M634.9 540.5h0M636.8 463.7h0M636.8 477.1h0M636.7 554.7h0M640.9 509.9h0M640.1 466.8h0M639.4 467.5h0M638.1 508.7h0M640.3 489.4h0M638.7 515.5h0M636.6 465.3h0M636.7 480.5h0M636.6 514.3h0M635.6 549.8h0M640.6 451.6h0M635.7 529.3h0M640.7 469.8h0M640.9 521.8h0M636.7 478.4h0M639.9 561.5h0M640 466.2h0M641.3 520.7h0M642.6 518.9h0M637.7 473h0M635.2 521.4h0M636.1 482.8h0M634.4 484.7h0M636.6 515.3h0M641.9 458.5h0M635.1 470.7h0M640.4 507.5h0M636.8 531.8h0M639 445.8h0M637.3 484.9h0M642.2 489.9h0M640.1 486.9h0M634.9 511.1h0M642.2 470h0M638.7 465.8h0M642.6 485.7h0M635.8 448.4h0M639.3 509.2h0M635 508.7h0M635.7 534.8h0M637.2 481.9h0M636.9 532.3h0M638.3 486.4h0M642 501.5h0M640.8 524h0M634.8 517.3h0M634.9 565.8h0M642.5 475.4h0" stroke="#ff0000" stroke-width="2.8" stroke-linecap="round" stroke-opacity="0.3" fill="none"/>
<path d="M634.3 475.7h0M638.2 458.1h0M635.5 515.3h0M634.5 500.9h0M637.3 521.9h0M634.7 507.6h0M638.4 505.9h0M635.1 496h0M640.6 474.9h0M637 464.5h0M636.3 471.8h0M637.3 485.7h0M637.1 540.2h0M637.1 473.2h0M641.2 493.3h0M640.7 466.1h0M640.8 483.3h0M641 494.6h0M636.7 473.5h0M638 500.8h0M640.5 464.8h0M636.5 514.4h0M639.2 529h0M641.3 476.8h0M636.8 530.9h0M635.5 557.6h0M637.2 456.8h0M638.9 496h0M640.5 538.4h0M637.3 505.3h0M640.8 492.8h0M640.6 491.2h0M640.9 450.3h0M635.5 509.5h0M634.7 528.6h0M642.5 480.1h0M641.3 498h0M640.3 553.4h0M641.9 470.5h0M640.3 487.8h0M641.8 491.9h0M636 487.3h0M636.7 513.6h0M640.4 465.4h0M642.3 513.7h0M636.7 534.9h0M642.6 475.9h0M638.8 508.1h0M635.8 504.1h0M637.9 477.9h0M641.9 487h0M640.6 534.2h0M635.2 534.1h0M636.9 492.2h0M638.6 527.4h0M641.6 479h0M639.5 509.4h0M635 491h0M635.8 460h0M642.6 486.7h0M639.6 515.5h0M641.3 545h0M635.8 489.7h0M635.7 510.4h0M637 499h0M634.5 558.6h0M634.6 481.6h0M638.3 517.4h0M637.3 502.3h0M635.4 481.4h0M637.4 471.7h0M640.1 482.6h0M634.7 498.7h0M639 442.4h0M635.4 515.9h0M637.2 505.2h0M636.3 491.6h0M640.5 512.5h0M641.3 465.4h0M639.8 519.2h0M642 474.6h0M640.3 444.7h0M640.1 527.6h0M636 522.1h0M639.5 453.8h0M640.2 486.8h0M640.6 468.7h0M637.1 485h0M642.4 531.4h0M642.2 474.9h0M637.4 473.2h0" stroke="#ff0000" stroke-width="2.8" stroke-linecap="round" stroke-opacity="0.3" fill="none"/>
<path d="M637 522.4h0M637.5 552h0M641.2 546.1h0M639.5 550.4h0M640.3 478.6h0M639.4 484.4h0M641.6 562.6h0M634.9 438h0M638 491.1h0M635.4 451.5h0M636.3 546.8h0M641.5 485.7h0M636.4 525.5h0M637.8 525.6h0M639.9 498.5h0M636.7 483.4h0M641.6 451.5h0M635.2 480.7h0M641.2 487.2h0M635.9 474.4h0M639.9 442.6h0M639.3 512.8h0M638 486.2h0M641.8 451.6h0M642.4 454.9h0M642.3 534.7h0M639 542.5h0M634.7 479.2h0M634.5 472.6h0M636.6 484.3h0M642.6 512.2h0M642.7 468.8h0M635.3 476.6h0M634.5 466.7h0M639.6 531.6h0M634.8 463.3h0M641.6 483.4h0M641.6 506.2h0M640.9 499.6h0M637.8 490.5h0M639 528.4h0M638.2 496.1h0M642.1 518.9h0M634.4 534.8h0M639.7 466h0M634.4 486.2h0M636.1 511.3h0M638.1 487.5h0M634.3 466h0M635.4 552.9h0M640.1 505.2h0M640 499.9h0M638.9 505.5h0M640.4 454.4h0M634.9 538.1h0M637.2 468.1h0M637.2 536.9h0M641.3 475.4h0M642 450.7h0M635 471.5h0M640.3 499.4h0M636.6 461.1h0M636.1 538.3h0M635.9 533.6h0M638 474.1h0M642.1 469.2h0M639.8 526.2h0M637.7 483.5h0M640.7 496.4h0M635.8 472.7h0M638.2 534.5h0M636.6 508.2h0M637.9 537.7h0M635.4 483.9h0M635.7 509.5h0M636.2 504.3h0M639.6 473.2h0M636.3 490.3h0M639.1 539.5h0M636.1 460.6h0M634.9 519.5h0M640.2 438.4h0M636.4 486.5h0M637.2 496.6h0M640.1 508.1h0M635.5 496.4h0M634.4 537h0M635 487.4h0M637.8 478.5h0M635 499.5h0M637.8 517.6h0" stroke="#ff0000" stroke-width="2.8" stroke-linecap="round" stroke-opacity="0.3" fill="none"/>
<path d="M640.1 514.5h0M635 469.5h0M638.7 515h0M642.6 506.8h0M637.5 488.6h0M641.6 484.2h0M640 528.2h0M635.1 480.1h0M641.9 483.3h0M638.3 555.6h0M635.7 453.7h0M639.6 479.6h0M636.6 517.4h0M639.6 492.4h0M635.2 450.7h0M635.5 500.1h0M641.1 474h0M635.1 521.4h0M634.6 501.9h0M639.1 471h0M636.4 491.7h0M638.6 470.7h0M637.8 492.5h0M639.9 492.3h0M637.5 484.4h0M636.7 530h0M642.6 492.4h0M640.3 477.7h0M637.4 474.6h0M636.5 474.1h0M641.8 502.6h0M635.1 468.4h0M636.2 447.9h0M639.5 537.4h0M636.1 480.2h0M640.3 487.1h0M637.7 531.6h0M641.1 461h0M642.2 469.2h0M640.9 519.4h0M638.9 526.9h0M642 492.7h0M638 485.8h0M635.1 520.1h0M637.3 515.4h0M642.3 522.3h0M635.9 490h0M639.3 481h0M637.5 481.6h0M634.3 460.4h0M641.9 469h0M639 516.1h0M639.8 495.4h0M641 503.7h0M638.3 495h0M635.1 508.6h0M634.5 450.5h0M636.2 515.4h0M639.2 486.1h0M640.9 525h0M642.5 493.1h0M642.4 468.4h0M638.8 514.3h0M641 508.2h0M636 478h0M638.7 521.8h0M641.7 497.5h0M640.7 457.3h0M642 504.5h0M641.7 471.7h0M637.1 500.4h0M638.4 536.7h0M638.9 442.9h0M636.7 531.6h0M634.6 470.3h0M642.1 456.9h0M637.2 503.7h0M634.7 523h0M641.9 537.8h0M634.7 492.7h0M634.8 493.2h0M640.2 494.1h0M638.3 518.4h0M635.8 485.6h0M636.5 497.8h0M634.6 488.1h0M635.9 477.8h0M637.5 494.9h0M635.2 437.3h0M638.3 520.5h0M639.5 482.1h0" stroke="#ff0000" stroke-width="2.8" stroke-linecap="round" stroke-opacity="0.3" fill="none"/>
<path d="M636.3 465.4h0M641 513.7h0M641.8 490.5h0M636.3 503.6h0M639.2 552h0M639.8 497.2h0M637.9 536h0M635 495.6h0M639.2 461.5h0M636.4 529h0M640.1 468.7h0M639 501.9h0M640.2 492.4h0M642.6 519.8h0M641.4 469h0M637.8 463h0M638.6 520.7h0M636.2 499.8h0M635.8 500.4h0M642.5 505.7h0M640.3 484.9h0M636.2 515.8h0M639.3 452.2h0M636.5 463.5h0M641.6 491.6h0M635.3 483h0M642.1 492.7h0M635.1 500.6h0M641.1 532h0M635.2 466.2h0M638.1 471.8h0M635.6 451.7h0M637.4 472.9h0M642.4 496.3h0M638.4 529h0M635.4 474.7h0M635.6 514.4h0M637.6 510.3h0M637.2 513.7h0M637.1 500.9h0M642.4 505.3h0M641.9 513h0M640.9 464.7h0M638.2 474.4h0M636 485.4h0M639.4 454.7h0M641.9 465.6h0M635.4 470.9h0M639.7 454.3h0M640.3 517h0M634.4 498.6h0M638.9 512.3h0M640.2 486.3h0M637.9 466.2h0M638.9 474.3h0M639.8 485.5h0M637.5 495.8h0M640.1 468.9h0M636.8 483.9h0M639.6 517.9h0M639.3 473.4h0M637 565.1h0M636.8 472.5h0M639.9 506.3h0M636.6 503.1h0M640.1 495.5h0M635.5 530.3h0M641.2 492.7h0M639 468.8h0M636.2 479.3h0M637.8 490.6h0M635 464.1h0M637.9 490.1h0M634.6 518.1h0M635.8 457h0M637.3 507.9h0M634.3 497.3h0M636.8 526.2h0M637.5 512.2h0M635.1 483.5h0M638.9 447.3h0M641.4 493.6h0M635.4 476h0M637.7 496.4h0M636.4 441.3h0M637.6 508.5h0M639.2 480.6h0M634.3 490.7h0M635.6 478.6h0M639.8 449.8h0M641.6 507.4h0" stroke="#ff0000" stroke-width="2.8" stroke-linecap="round" stroke-opacity="0.3" fill="none"/>
<path d="M636 521h0M636.8 473.6h0M637.7 507.3h0M634.5 499.5h0M638.5 476.8h0M637.5 484.8h0M638.2 486.9h0M636.4 511h0M637.5 501.2h0M635.4 480.8h0M641 503.6h0M637.3 490.5h0M637.1 450.7h0M636.9 536.2h0M642.3 485.5h0M636.9 508h0M640.9 492.9h0M640.3 513h0M637.1 521.4h0M642.2 495.5h0M639.9 520.1h0M636.1 510.5h0M642.7 490.3h0M639.6 496.9h0M639 505.6h0M638.5 510.8h0M641 536.8h0M636.2 492.2h0M640 499.7h0M635 489.5h0M636.9 462.2h0M639.2 441.7h0M636.8 558.2h0M635.1 497.3h0M641.3 474.4h0M639.4 454.3h0M640.7 526.1h0M636.8 522.9h0M640.4 477.7h0M640.4 560.6h0M640.7 497.2h0M638.4 487.1h0M642.6 484.8h0M638.6 475.2h0M636.4 508.3h0M634.8 485.1h0M637.1 493.5h0M635.8 489.5h0M637.1 500.2h0M635.9 508.5h0M642.5 485.4h0M639.3 512.1h0M634.7 486.6h0M635.7 485.8h0M634.3 522.4h0M636.5 472.1h0M637.7 460.5h0M641.3 490.1h0M637.7 482.6h0M640.2 518.3h0M642.6 443.8h0M635.6 497.3h0M637.6 447.2h0M640.4 503.3h0M637.5 444.8h0M640.4 489.1h0M641.5 470.4h0M641.2 479.1h0M638.9 532h0M635.3 442.3h0M634.5 477.6h0M637.8 444.6h0M638.7 493.6h0M640.1 503.8h0M636.2 530h0M641.7 531.5h0M636.7 484.4h0M635.9 456.1h0M639.4 522.2h0M639.6 508.1h0M636.2 522.3h0M640.9 499h0M641.9 489.9h0M637.7 483h0M639.4 459.7h0M639 466.8h0M641.5 516.1h0M642.5 510.9h0M636 461.6h0M637.1 486.4h0" stroke="#ff0000" stroke-width="2.8" stroke-linecap="round" stroke-opacity="0.3" fill="none"/>
<path d="M652.7 475.9h0M650.1 486.5h0M646.2 475.5h0M644.9 474.8h0M647.4 468.1h0M651.1 478h0M646.2 470h0M650.7 476.5h0M650.1 473.8h0M652.2 478.8h0M651.9 481.2h0M651.9 473.4h0M650.4 465.1h0M651.5 463.5h0M652.5 470.6h0M652.9 467.5h0M647.8 471.8h0M649.6 479.9h0M647 465.2h0M646 485.8h0M651.1 480.8h0M652.6 480.7h0M648.7 482.8h0M647 480.2h0M651.7 468.6h0M647.3 472.9h0M648.2 467.5h0M645.4 484.3h0M650.5 462.1h0M647 477.9h0M645.3 473.7h0M650.6 461.6h0M645.1 479.4h0M651.9 463.9h0M646.5 480.9h0" stroke="#0000ff" stroke-width="2.8" stroke-linecap="round" stroke-opacity="0.5" fill="none"/>
<path d="M657.6 480.1h0M659.4 456.7h0M663.4 468.4h0M659.5 469.6h0M663.5 454.9h0M660.2 489.9h0M660.5 491.2h0M658.2 492.8h0M656.3 476.2h0M655.7 504.1h0M659.2 466.5h0M655.5 466.1h0M659.6 478.8h0M663.1 457.1h0M659.6 451.3h0M658.3 477.9h0M658.9 475.4h0M660.2 461.7h0M658.4 468.8h0" stroke="#ff0000" stroke-width="2.8" stroke-linecap="round" stroke-opacity="0.35" fill="none"/>
<path d="M663.2 479h0M663.1 500.5h0M659.6 461.9h0M657 468.5h0M659.6 455.9h0M660.2 473.7h0M656.5 465.5h0M656.2 489.7h0M663.1 455.6h0M655.8 471.9h0M659.9 488.7h0M656.3 469.8h0M658.9 468.7h0M655.9 486.4h0M663.3 471h0M660.1 478.9h0M656.3 451.8h0M660.1 464.9h0M657.6 475.4h0" stroke="#ff0000" stroke-width="2.8" stroke-linecap="round" stroke-opacity="0.35" fill="none"/>
<path d="M660.9 471.8h0M660.7 474.4h0M663.3 518.3h0M659.3 440.3h0M657 466.2h0M661.7 460.5h0M659.6 472.3h0M662.5 486.6h0M659.2 486.2h0M658.4 486.3h0M659.1 480.4h0M663 475.2h0M656.2 481.9h0M657.9 478.8h0M658.1 458.3h0M657.9 478.1h0M659.2 479h0M655.4 447.5h0M660.7 462h0" stroke="#ff0000" stroke-width="2.8" stroke-linecap="round" stroke-opacity="0.35" fill="none"/>
<path d="M668.1 514h0M672.5 505.9h0M668.1 521.4h0M671.1 505.2h0M666.1 503.5h0M673.3 507.4h0M671 510.7h0M673.7 495.8h0M670.1 500.7h0M672.6 520h0M673.7 519.5h0M666.1 539.1h0M666.5 509.2h0M670.6 491.9h0M666.8 533.4h0M668.4 510.9h0M671.3 524.2h0M667.3 506.1h0M667.6 523.6h0M670.6 508h0M669.8 487.8h0M669.4 510.9h0M671.9 522.6h0M673.2 508h0M671.8 486.8h0M666.7 504.7h0M670.7 501.7h0" stroke="#ff0000" stroke-width="2.8" stroke-linecap="round" stroke-opacity="0.35" fill="none"/>
<path d="M666.5 502.3h0M670.7 507.1h0M667.9 502.5h0M668.4 497.7h0M672.1 504.1h0M666.8 521.8h0M666.5 509.1h0M670.5 518.5h0M673.7 493.7h0M671.9 506.1h0M669.7 505.8h0M672.5 514h0M669.3 501.2h0M673.4 513h0M669.3 514.5h0M667.6 528.1h0M665.9 515.1h0M668.6 491.2h0M673.2 513.1h0M666.3 525h0M671.4 499.6h0M673.5 502.4h0M666.8 511.9h0M673.6 497h0M671 505.7h0M666 534.1h0M671.4 485.8h0" stroke="#ff0000" stroke-width="2.8" stroke-linecap="round" stroke-opacity="0.35" fill="none"/>
<path d="M667.6 505.9h0M667.7 513.8h0M670.7 503.9h0M670.5 525.6h0M670.3 502.2h0M665.9 513.2h0M666.1 507.8h0M668.7 496h0M667.2 490.1h0M674.1 515.4h0M671.4 507.3h0M668.9 512.9h0M668.2 507.4h0M668.5 521h0M673.6 496.7h0M667.6 517.3h0M667.4 505.9h0M668.1 488.2h0M670.8 503.9h0M666.5 502.2h0M673.3 517.3h0M666.8 509.1h0M666.3 507.8h0M673.5 501.6h0M667.3 504.8h0M673 496.1h0" stroke="#ff0000" stroke-width="2.8" stroke-linecap="round" stroke-opacity="0.35" fill="none"/>
<line x1="41.7" y1="459" x2="41.7" y2="487" stroke="#ff0000" stroke-width="0.8"/>
<line x1="41.7" y1="517" x2="41.7" y2="557" stroke="#ff0000" stroke-width="0.8"/>
<rect x="37.7" y="487" width="8" height="30" fill="#fff" stroke="#ff0000" stroke-width="0.8" fill-opacity="0.22"/>
<line x1="37.7" y1="500.4" x2="45.7" y2="500.4" stroke="#ff0000" stroke-width="1.0"/>
<line x1="52.2" y1="425.7" x2="52.2" y2="482.5" stroke="#ff0000" stroke-width="0.8"/>
<line x1="52.2" y1="536.5" x2="52.2" y2="573" stroke="#ff0000" stroke-width="0.8"/>
<rect x="48.2" y="482.5" width="8" height="54" fill="#fff" stroke="#ff0000" stroke-width="0.8" fill-opacity="0.22"/>
<line x1="48.2" y1="508.7" x2="56.2" y2="508.7" stroke="#ff0000" stroke-width="1.0"/>
<line x1="62.6" y1="455.8" x2="62.6" y2="464.3" stroke="#0000ff" stroke-width="0.8"/>
<line x1="62.6" y1="512" x2="62.6" y2="530.5" stroke="#0000ff" stroke-width="0.8"/>
<rect x="58.6" y="464.3" width="8" height="47.7" fill="#fff" stroke="#0000ff" stroke-width="0.8" fill-opacity="0.22"/>
<line x1="58.6" y1="494.4" x2="66.6" y2="494.4" stroke="#0000ff" stroke-width="1.0"/>
<line x1="73.1" y1="429" x2="73.1" y2="472.5" stroke="#ff0000" stroke-width="0.8"/>
<line x1="73.1" y1="501.5" x2="73.1" y2="556" stroke="#ff0000" stroke-width="0.8"/>
<rect x="69.1" y="472.5" width="8" height="29" fill="#fff" stroke="#ff0000" stroke-width="0.8" fill-opacity="0.22"/>
<line x1="69.1" y1="487" x2="77.1" y2="487" stroke="#ff0000" stroke-width="1.0"/>
<line x1="83.6" y1="457" x2="83.6" y2="468" stroke="#0000ff" stroke-width="0.8"/>
<line x1="83.6" y1="477" x2="83.6" y2="489" stroke="#0000ff" stroke-width="0.8"/>
<rect x="79.6" y="468" width="8" height="9" fill="#fff" stroke="#0000ff" stroke-width="0.8" fill-opacity="0.22"/>
<line x1="79.6" y1="473.6" x2="87.6" y2="473.6" stroke="#0000ff" stroke-width="1.0"/>
<line x1="94.1" y1="440" x2="94.1" y2="463.6" stroke="#ff0000" stroke-width="0.8"/>
<line x1="94.1" y1="482.5" x2="94.1" y2="507" stroke="#ff0000" stroke-width="0.8"/>
<rect x="90.1" y="463.6" width="8" height="18.9" fill="#fff" stroke="#ff0000" stroke-width="0.8" fill-opacity="0.22"/>
<line x1="90.1" y1="471.8" x2="98.1" y2="471.8" stroke="#ff0000" stroke-width="1.0"/>
<line x1="104.5" y1="436" x2="104.5" y2="469" stroke="#ff0000" stroke-width="0.8"/>
<line x1="104.5" y1="498" x2="104.5" y2="535" stroke="#ff0000" stroke-width="0.8"/>
<rect x="100.5" y="469" width="8" height="29" fill="#fff" stroke="#ff0000" stroke-width="0.8" fill-opacity="0.22"/>
<line x1="100.5" y1="482" x2="108.5" y2="482" stroke="#ff0000" stroke-width="1.0"/>
<line x1="115" y1="446.8" x2="115" y2="478" stroke="#ff0000" stroke-width="0.8"/>
<line x1="115" y1="502.6" x2="115" y2="531.6" stroke="#ff0000" stroke-width="0.8"/>
<rect x="111" y="478" width="8" height="24.6" fill="#fff" stroke="#ff0000" stroke-width="0.8" fill-opacity="0.22"/>
<line x1="111" y1="491" x2="119" y2="491" stroke="#ff0000" stroke-width="1.0"/>
<line x1="125.5" y1="429" x2="125.5" y2="474" stroke="#ff0000" stroke-width="0.8"/>
<line x1="125.5" y1="507.5" x2="125.5" y2="546" stroke="#ff0000" stroke-width="0.8"/>
<rect x="121.5" y="474" width="8" height="33.5" fill="#fff" stroke="#ff0000" stroke-width="0.8" fill-opacity="0.22"/>
<line x1="121.5" y1="490.4" x2="129.5" y2="490.4" stroke="#ff0000" stroke-width="1.0"/>
<line x1="135.9" y1="449" x2="135.9" y2="476.5" stroke="#ff0000" stroke-width="0.8"/>
<line x1="135.9" y1="507" x2="135.9" y2="554" stroke="#ff0000" stroke-width="0.8"/>
<rect x="131.9" y="476.5" width="8" height="30.5" fill="#fff" stroke="#ff0000" stroke-width="0.8" fill-opacity="0.22"/>
<line x1="131.9" y1="489.7" x2="139.9" y2="489.7" stroke="#ff0000" stroke-width="1.0"/>
<line x1="146.4" y1="464.7" x2="146.4" y2="467" stroke="#0000ff" stroke-width="0.8"/>
<line x1="146.4" y1="473" x2="146.4" y2="475.4" stroke="#0000ff" stroke-width="0.8"/>
<rect x="142.4" y="467" width="8" height="6" fill="#fff" stroke="#0000ff" stroke-width="0.8" fill-opacity="0.22"/>
<line x1="142.4" y1="470.3" x2="150.4" y2="470.3" stroke="#0000ff" stroke-width="1.0"/>
<line x1="156.9" y1="468" x2="156.9" y2="487.5" stroke="#ff0000" stroke-width="0.8"/>
<line x1="156.9" y1="509.3" x2="156.9" y2="537.2" stroke="#ff0000" stroke-width="0.8"/>
<rect x="152.9" y="487.5" width="8" height="21.8" fill="#fff" stroke="#ff0000" stroke-width="0.8" fill-opacity="0.22"/>
<line x1="152.9" y1="496.4" x2="160.9" y2="496.4" stroke="#ff0000" stroke-width="1.0"/>
<line x1="167.3" y1="505" x2="167.3" y2="510" stroke="#0000ff" stroke-width="0.8"/>
<line x1="167.3" y1="513.8" x2="167.3" y2="517" stroke="#0000ff" stroke-width="0.8"/>
<rect x="163.3" y="510" width="8" height="3.8" fill="#fff" stroke="#0000ff" stroke-width="0.8" fill-opacity="0.22"/>
<line x1="163.3" y1="512" x2="171.3" y2="512" stroke="#0000ff" stroke-width="1.0"/>
<line x1="177.8" y1="470.3" x2="177.8" y2="516.5" stroke="#ff0000" stroke-width="0.8"/>
<line x1="177.8" y1="547.7" x2="177.8" y2="574" stroke="#ff0000" stroke-width="0.8"/>
<rect x="173.8" y="516.5" width="8" height="31.2" fill="#fff" stroke="#ff0000" stroke-width="0.8" fill-opacity="0.22"/>
<line x1="173.8" y1="532" x2="181.8" y2="532" stroke="#ff0000" stroke-width="1.0"/>
<line x1="188.3" y1="490.4" x2="188.3" y2="512" stroke="#0000ff" stroke-width="0.8"/>
<line x1="188.3" y1="528.3" x2="188.3" y2="536" stroke="#0000ff" stroke-width="0.8"/>
<rect x="184.3" y="512" width="8" height="16.3" fill="#fff" stroke="#0000ff" stroke-width="0.8" fill-opacity="0.22"/>
<line x1="184.3" y1="522" x2="192.3" y2="522" stroke="#0000ff" stroke-width="1.0"/>
<line x1="198.8" y1="454.7" x2="198.8" y2="472.5" stroke="#ff0000" stroke-width="0.8"/>
<line x1="198.8" y1="490.4" x2="198.8" y2="516" stroke="#ff0000" stroke-width="0.8"/>
<rect x="194.8" y="472.5" width="8" height="17.9" fill="#fff" stroke="#ff0000" stroke-width="0.8" fill-opacity="0.22"/>
<line x1="194.8" y1="480.3" x2="202.8" y2="480.3" stroke="#ff0000" stroke-width="1.0"/>
<line x1="209.2" y1="444" x2="209.2" y2="477" stroke="#ff0000" stroke-width="0.8"/>
<line x1="209.2" y1="501.5" x2="209.2" y2="534" stroke="#ff0000" stroke-width="0.8"/>
<rect x="205.2" y="477" width="8" height="24.5" fill="#fff" stroke="#ff0000" stroke-width="0.8" fill-opacity="0.22"/>
<line x1="205.2" y1="488.6" x2="213.2" y2="488.6" stroke="#ff0000" stroke-width="1.0"/>
<line x1="219.7" y1="471" x2="219.7" y2="481.9" stroke="#0000ff" stroke-width="0.8"/>
<line x1="219.7" y1="530" x2="219.7" y2="540.6" stroke="#0000ff" stroke-width="0.8"/>
<rect x="215.7" y="481.9" width="8" height="48.1" fill="#fff" stroke="#0000ff" stroke-width="0.8" fill-opacity="0.22"/>
<line x1="215.7" y1="520" x2="223.7" y2="520" stroke="#0000ff" stroke-width="1.0"/>
<line x1="230.2" y1="432.4" x2="230.2" y2="459.8" stroke="#ff0000" stroke-width="0.8"/>
<line x1="230.2" y1="483" x2="230.2" y2="510.4" stroke="#ff0000" stroke-width="0.8"/>
<rect x="226.2" y="459.8" width="8" height="23.2" fill="#fff" stroke="#ff0000" stroke-width="0.8" fill-opacity="0.22"/>
<line x1="226.2" y1="471.4" x2="234.2" y2="471.4" stroke="#ff0000" stroke-width="1.0"/>
<line x1="240.6" y1="446" x2="240.6" y2="446.4" stroke="#0000ff" stroke-width="0.8"/>
<line x1="240.6" y1="451.3" x2="240.6" y2="457" stroke="#0000ff" stroke-width="0.8"/>
<rect x="236.6" y="446.4" width="8" height="4.9" fill="#fff" stroke="#0000ff" stroke-width="0.8" fill-opacity="0.22"/>
<line x1="236.6" y1="448" x2="244.6" y2="448" stroke="#0000ff" stroke-width="1.0"/>
<line x1="251.1" y1="457" x2="251.1" y2="477.6" stroke="#ff0000" stroke-width="0.8"/>
<line x1="251.1" y1="495.5" x2="251.1" y2="523.8" stroke="#ff0000" stroke-width="0.8"/>
<rect x="247.1" y="477.6" width="8" height="17.9" fill="#fff" stroke="#ff0000" stroke-width="0.8" fill-opacity="0.22"/>
<line x1="247.1" y1="484.8" x2="255.1" y2="484.8" stroke="#ff0000" stroke-width="1.0"/>
<line x1="261.6" y1="477" x2="261.6" y2="488" stroke="#0000ff" stroke-width="0.8"/>
<line x1="261.6" y1="497" x2="261.6" y2="509.3" stroke="#0000ff" stroke-width="0.8"/>
<rect x="257.6" y="488" width="8" height="9" fill="#fff" stroke="#0000ff" stroke-width="0.8" fill-opacity="0.22"/>
<line x1="257.6" y1="491.5" x2="265.6" y2="491.5" stroke="#0000ff" stroke-width="1.0"/>
<line x1="272" y1="457.6" x2="272" y2="476.3" stroke="#ff0000" stroke-width="0.8"/>
<line x1="272" y1="497.7" x2="272" y2="528.3" stroke="#ff0000" stroke-width="0.8"/>
<rect x="268" y="476.3" width="8" height="21.4" fill="#fff" stroke="#ff0000" stroke-width="0.8" fill-opacity="0.22"/>
<line x1="268" y1="485.2" x2="276" y2="485.2" stroke="#ff0000" stroke-width="1.0"/>
<line x1="282.5" y1="457.6" x2="282.5" y2="477" stroke="#ff0000" stroke-width="0.8"/>
<line x1="282.5" y1="494.8" x2="282.5" y2="523.8" stroke="#ff0000" stroke-width="0.8"/>
<rect x="278.5" y="477" width="8" height="17.8" fill="#fff" stroke="#ff0000" stroke-width="0.8" fill-opacity="0.22"/>
<line x1="278.5" y1="484.3" x2="286.5" y2="484.3" stroke="#ff0000" stroke-width="1.0"/>
<line x1="293" y1="470.3" x2="293" y2="483.7" stroke="#ff0000" stroke-width="0.8"/>
<line x1="293" y1="519.4" x2="293" y2="559.5" stroke="#ff0000" stroke-width="0.8"/>
<rect x="289" y="483.7" width="8" height="35.7" fill="#fff" stroke="#ff0000" stroke-width="0.8" fill-opacity="0.22"/>
<line x1="289" y1="493.3" x2="297" y2="493.3" stroke="#ff0000" stroke-width="1.0"/>
<line x1="303.4" y1="460.2" x2="303.4" y2="468" stroke="#0000ff" stroke-width="0.8"/>
<line x1="303.4" y1="494.2" x2="303.4" y2="513.8" stroke="#0000ff" stroke-width="0.8"/>
<rect x="299.4" y="468" width="8" height="26.2" fill="#fff" stroke="#0000ff" stroke-width="0.8" fill-opacity="0.22"/>
<line x1="299.4" y1="483" x2="307.4" y2="483" stroke="#0000ff" stroke-width="1.0"/>
<line x1="313.9" y1="460" x2="313.9" y2="478" stroke="#ff0000" stroke-width="0.8"/>
<line x1="313.9" y1="491.5" x2="313.9" y2="513.8" stroke="#ff0000" stroke-width="0.8"/>
<rect x="309.9" y="478" width="8" height="13.5" fill="#fff" stroke="#ff0000" stroke-width="0.8" fill-opacity="0.22"/>
<line x1="309.9" y1="485.2" x2="317.9" y2="485.2" stroke="#ff0000" stroke-width="1.0"/>
<line x1="324.4" y1="456.2" x2="324.4" y2="468" stroke="#0000ff" stroke-width="0.8"/>
<line x1="324.4" y1="488.8" x2="324.4" y2="513.8" stroke="#0000ff" stroke-width="0.8"/>
<rect x="320.4" y="468" width="8" height="20.8" fill="#fff" stroke="#0000ff" stroke-width="0.8" fill-opacity="0.22"/>
<line x1="320.4" y1="474.3" x2="328.4" y2="474.3" stroke="#0000ff" stroke-width="1.0"/>
<line x1="334.9" y1="439.7" x2="334.9" y2="460.2" stroke="#ff0000" stroke-width="0.8"/>
<line x1="334.9" y1="475.4" x2="334.9" y2="497" stroke="#ff0000" stroke-width="0.8"/>
<rect x="330.9" y="460.2" width="8" height="15.2" fill="#fff" stroke="#ff0000" stroke-width="0.8" fill-opacity="0.22"/>
<line x1="330.9" y1="466.5" x2="338.9" y2="466.5" stroke="#ff0000" stroke-width="1.0"/>
<line x1="345.3" y1="460.2" x2="345.3" y2="471.8" stroke="#0000ff" stroke-width="0.8"/>
<line x1="345.3" y1="487" x2="345.3" y2="509.8" stroke="#0000ff" stroke-width="0.8"/>
<rect x="341.3" y="471.8" width="8" height="15.2" fill="#fff" stroke="#0000ff" stroke-width="0.8" fill-opacity="0.22"/>
<line x1="341.3" y1="473.6" x2="349.3" y2="473.6" stroke="#0000ff" stroke-width="1.0"/>
<line x1="355.8" y1="449.5" x2="355.8" y2="476.3" stroke="#ff0000" stroke-width="0.8"/>
<line x1="355.8" y1="514.2" x2="355.8" y2="571.8" stroke="#ff0000" stroke-width="0.8"/>
<rect x="351.8" y="476.3" width="8" height="37.9" fill="#fff" stroke="#ff0000" stroke-width="0.8" fill-opacity="0.22"/>
<line x1="351.8" y1="490" x2="359.8" y2="490" stroke="#ff0000" stroke-width="1.0"/>
<line x1="366.3" y1="434.6" x2="366.3" y2="455.3" stroke="#ff0000" stroke-width="0.8"/>
<line x1="366.3" y1="470.3" x2="366.3" y2="492.6" stroke="#ff0000" stroke-width="0.8"/>
<rect x="362.3" y="455.3" width="8" height="15" fill="#fff" stroke="#ff0000" stroke-width="0.8" fill-opacity="0.22"/>
<line x1="362.3" y1="462.5" x2="370.3" y2="462.5" stroke="#ff0000" stroke-width="1.0"/>
<line x1="376.7" y1="463" x2="376.7" y2="494.8" stroke="#ff0000" stroke-width="0.8"/>
<line x1="376.7" y1="518.2" x2="376.7" y2="554" stroke="#ff0000" stroke-width="0.8"/>
<rect x="372.7" y="494.8" width="8" height="23.4" fill="#fff" stroke="#ff0000" stroke-width="0.8" fill-opacity="0.22"/>
<line x1="372.7" y1="504.9" x2="380.7" y2="504.9" stroke="#ff0000" stroke-width="1.0"/>
<line x1="387.2" y1="496" x2="387.2" y2="506.6" stroke="#0000ff" stroke-width="0.8"/>
<line x1="387.2" y1="513.8" x2="387.2" y2="521.6" stroke="#0000ff" stroke-width="0.8"/>
<rect x="383.2" y="506.6" width="8" height="7.2" fill="#fff" stroke="#0000ff" stroke-width="0.8" fill-opacity="0.22"/>
<line x1="383.2" y1="509" x2="391.2" y2="509" stroke="#0000ff" stroke-width="1.0"/>
<line x1="397.7" y1="444.2" x2="397.7" y2="478" stroke="#ff0000" stroke-width="0.8"/>
<line x1="397.7" y1="498.8" x2="397.7" y2="530.5" stroke="#ff0000" stroke-width="0.8"/>
<rect x="393.7" y="478" width="8" height="20.8" fill="#fff" stroke="#ff0000" stroke-width="0.8" fill-opacity="0.22"/>
<line x1="393.7" y1="487.7" x2="401.7" y2="487.7" stroke="#ff0000" stroke-width="1.0"/>
<line x1="408.2" y1="458" x2="408.2" y2="469.8" stroke="#0000ff" stroke-width="0.8"/>
<line x1="408.2" y1="475.9" x2="408.2" y2="484.8" stroke="#0000ff" stroke-width="0.8"/>
<rect x="404.2" y="469.8" width="8" height="6.1" fill="#fff" stroke="#0000ff" stroke-width="0.8" fill-opacity="0.22"/>
<line x1="404.2" y1="471.8" x2="412.2" y2="471.8" stroke="#0000ff" stroke-width="1.0"/>
<line x1="418.6" y1="451.3" x2="418.6" y2="479.2" stroke="#ff0000" stroke-width="0.8"/>
<line x1="418.6" y1="498.2" x2="418.6" y2="526" stroke="#ff0000" stroke-width="0.8"/>
<rect x="414.6" y="479.2" width="8" height="19" fill="#fff" stroke="#ff0000" stroke-width="0.8" fill-opacity="0.22"/>
<line x1="414.6" y1="487" x2="422.6" y2="487" stroke="#ff0000" stroke-width="1.0"/>
<line x1="429.1" y1="463.6" x2="429.1" y2="470.3" stroke="#0000ff" stroke-width="0.8"/>
<line x1="429.1" y1="479.2" x2="429.1" y2="484.8" stroke="#0000ff" stroke-width="0.8"/>
<rect x="425.1" y="470.3" width="8" height="8.9" fill="#fff" stroke="#0000ff" stroke-width="0.8" fill-opacity="0.22"/>
<line x1="425.1" y1="475.4" x2="433.1" y2="475.4" stroke="#0000ff" stroke-width="1.0"/>
<line x1="439.6" y1="442.4" x2="439.6" y2="459.8" stroke="#ff0000" stroke-width="0.8"/>
<line x1="439.6" y1="475.9" x2="439.6" y2="499.3" stroke="#ff0000" stroke-width="0.8"/>
<rect x="435.6" y="459.8" width="8" height="16.1" fill="#fff" stroke="#ff0000" stroke-width="0.8" fill-opacity="0.22"/>
<line x1="435.6" y1="466.5" x2="443.6" y2="466.5" stroke="#ff0000" stroke-width="1.0"/>
<line x1="450" y1="423.4" x2="450" y2="445.7" stroke="#ff0000" stroke-width="0.8"/>
<line x1="450" y1="461.4" x2="450" y2="486" stroke="#ff0000" stroke-width="0.8"/>
<rect x="446" y="445.7" width="8" height="15.7" fill="#fff" stroke="#ff0000" stroke-width="0.8" fill-opacity="0.22"/>
<line x1="446" y1="452.9" x2="454" y2="452.9" stroke="#ff0000" stroke-width="1.0"/>
<line x1="460.5" y1="461.4" x2="460.5" y2="479.9" stroke="#ff0000" stroke-width="0.8"/>
<line x1="460.5" y1="502.6" x2="460.5" y2="535" stroke="#ff0000" stroke-width="0.8"/>
<rect x="456.5" y="479.9" width="8" height="22.7" fill="#fff" stroke="#ff0000" stroke-width="0.8" fill-opacity="0.22"/>
<line x1="456.5" y1="489.7" x2="464.5" y2="489.7" stroke="#ff0000" stroke-width="1.0"/>
<line x1="471" y1="471" x2="471" y2="471.8" stroke="#0000ff" stroke-width="0.8"/>
<line x1="471" y1="474.7" x2="471" y2="475" stroke="#0000ff" stroke-width="0.8"/>
<rect x="467" y="471.8" width="8" height="2.9" fill="#fff" stroke="#0000ff" stroke-width="0.8" fill-opacity="0.22"/>
<line x1="467" y1="473" x2="475" y2="473" stroke="#0000ff" stroke-width="1.0"/>
<line x1="481.4" y1="455.8" x2="481.4" y2="473.6" stroke="#ff0000" stroke-width="0.8"/>
<line x1="481.4" y1="487.5" x2="481.4" y2="506" stroke="#ff0000" stroke-width="0.8"/>
<rect x="477.4" y="473.6" width="8" height="13.9" fill="#fff" stroke="#ff0000" stroke-width="0.8" fill-opacity="0.22"/>
<line x1="477.4" y1="480.3" x2="485.4" y2="480.3" stroke="#ff0000" stroke-width="1.0"/>
<line x1="491.9" y1="502" x2="491.9" y2="502.6" stroke="#0000ff" stroke-width="0.8"/>
<line x1="491.9" y1="504.9" x2="491.9" y2="505" stroke="#0000ff" stroke-width="0.8"/>
<rect x="487.9" y="502.6" width="8" height="2.3" fill="#fff" stroke="#0000ff" stroke-width="0.8" fill-opacity="0.22"/>
<line x1="487.9" y1="503.6" x2="495.9" y2="503.6" stroke="#0000ff" stroke-width="1.0"/>
<line x1="502.4" y1="445.7" x2="502.4" y2="462.5" stroke="#ff0000" stroke-width="0.8"/>
<line x1="502.4" y1="474" x2="502.4" y2="491" stroke="#ff0000" stroke-width="0.8"/>
<rect x="498.4" y="462.5" width="8" height="11.5" fill="#fff" stroke="#ff0000" stroke-width="0.8" fill-opacity="0.22"/>
<line x1="498.4" y1="468" x2="506.4" y2="468" stroke="#ff0000" stroke-width="1.0"/>
<line x1="512.9" y1="454.7" x2="512.9" y2="465.8" stroke="#0000ff" stroke-width="0.8"/>
<line x1="512.9" y1="480.3" x2="512.9" y2="502.6" stroke="#0000ff" stroke-width="0.8"/>
<rect x="508.9" y="465.8" width="8" height="14.5" fill="#fff" stroke="#0000ff" stroke-width="0.8" fill-opacity="0.22"/>
<line x1="508.9" y1="471.8" x2="516.9" y2="471.8" stroke="#0000ff" stroke-width="1.0"/>
<line x1="523.3" y1="475.9" x2="523.3" y2="514.5" stroke="#ff0000" stroke-width="0.8"/>
<line x1="523.3" y1="545.5" x2="523.3" y2="574" stroke="#ff0000" stroke-width="0.8"/>
<rect x="519.3" y="514.5" width="8" height="31" fill="#fff" stroke="#ff0000" stroke-width="0.8" fill-opacity="0.22"/>
<line x1="519.3" y1="533.4" x2="527.3" y2="533.4" stroke="#ff0000" stroke-width="1.0"/>
<line x1="533.8" y1="477" x2="533.8" y2="492.1" stroke="#0000ff" stroke-width="0.8"/>
<line x1="533.8" y1="515.6" x2="533.8" y2="547.3" stroke="#0000ff" stroke-width="0.8"/>
<rect x="529.8" y="492.1" width="8" height="23.5" fill="#fff" stroke="#0000ff" stroke-width="0.8" fill-opacity="0.22"/>
<line x1="529.8" y1="502.6" x2="537.8" y2="502.6" stroke="#0000ff" stroke-width="1.0"/>
<line x1="544.3" y1="443.5" x2="544.3" y2="461.4" stroke="#ff0000" stroke-width="0.8"/>
<line x1="544.3" y1="477" x2="544.3" y2="496" stroke="#ff0000" stroke-width="0.8"/>
<rect x="540.3" y="461.4" width="8" height="15.6" fill="#fff" stroke="#ff0000" stroke-width="0.8" fill-opacity="0.22"/>
<line x1="540.3" y1="469.2" x2="548.3" y2="469.2" stroke="#ff0000" stroke-width="1.0"/>
<line x1="554.7" y1="451.3" x2="554.7" y2="489.9" stroke="#ff0000" stroke-width="0.8"/>
<line x1="554.7" y1="533.4" x2="554.7" y2="569.6" stroke="#ff0000" stroke-width="0.8"/>
<rect x="550.7" y="489.9" width="8" height="43.5" fill="#fff" stroke="#ff0000" stroke-width="0.8" fill-opacity="0.22"/>
<line x1="550.7" y1="502.6" x2="558.7" y2="502.6" stroke="#ff0000" stroke-width="1.0"/>
<line x1="565.2" y1="435.7" x2="565.2" y2="484.8" stroke="#a020f0" stroke-width="0.8"/>
<line x1="565.2" y1="518.2" x2="565.2" y2="568.4" stroke="#a020f0" stroke-width="0.8"/>
<rect x="561.2" y="484.8" width="8" height="33.4" fill="#fff" stroke="#a020f0" stroke-width="0.8" fill-opacity="0.22"/>
<line x1="561.2" y1="497" x2="569.2" y2="497" stroke="#a020f0" stroke-width="1.0"/>
<line x1="575.7" y1="453.1" x2="575.7" y2="482.5" stroke="#ff0000" stroke-width="0.8"/>
<line x1="575.7" y1="514.9" x2="575.7" y2="564" stroke="#ff0000" stroke-width="0.8"/>
<rect x="571.7" y="482.5" width="8" height="32.4" fill="#fff" stroke="#ff0000" stroke-width="0.8" fill-opacity="0.22"/>
<line x1="571.7" y1="498.2" x2="579.7" y2="498.2" stroke="#ff0000" stroke-width="1.0"/>
<line x1="586.1" y1="458" x2="586.1" y2="476.3" stroke="#0000ff" stroke-width="0.8"/>
<line x1="586.1" y1="517.1" x2="586.1" y2="543.9" stroke="#0000ff" stroke-width="0.8"/>
<rect x="582.1" y="476.3" width="8" height="40.8" fill="#fff" stroke="#0000ff" stroke-width="0.8" fill-opacity="0.22"/>
<line x1="582.1" y1="496.4" x2="590.1" y2="496.4" stroke="#0000ff" stroke-width="1.0"/>
<line x1="596.6" y1="454.6" x2="596.6" y2="473.1" stroke="#ff0000" stroke-width="0.8"/>
<line x1="596.6" y1="485.2" x2="596.6" y2="500.4" stroke="#ff0000" stroke-width="0.8"/>
<rect x="592.6" y="473.1" width="8" height="12.1" fill="#fff" stroke="#ff0000" stroke-width="0.8" fill-opacity="0.22"/>
<line x1="592.6" y1="478" x2="600.6" y2="478" stroke="#ff0000" stroke-width="1.0"/>
<line x1="607.1" y1="443.5" x2="607.1" y2="462.9" stroke="#ff0000" stroke-width="0.8"/>
<line x1="607.1" y1="478" x2="607.1" y2="501.5" stroke="#ff0000" stroke-width="0.8"/>
<rect x="603.1" y="462.9" width="8" height="15.1" fill="#fff" stroke="#ff0000" stroke-width="0.8" fill-opacity="0.22"/>
<line x1="603.1" y1="470.2" x2="611.1" y2="470.2" stroke="#ff0000" stroke-width="1.0"/>
<line x1="617.6" y1="471.4" x2="617.6" y2="479.2" stroke="#0000ff" stroke-width="0.8"/>
<line x1="617.6" y1="486.5" x2="617.6" y2="493.7" stroke="#0000ff" stroke-width="0.8"/>
<rect x="613.6" y="479.2" width="8" height="7.3" fill="#fff" stroke="#0000ff" stroke-width="0.8" fill-opacity="0.22"/>
<line x1="613.6" y1="482.5" x2="621.6" y2="482.5" stroke="#0000ff" stroke-width="1.0"/>
<line x1="628" y1="459" x2="628" y2="468" stroke="#ff0000" stroke-width="0.8"/>
<line x1="628" y1="482.5" x2="628" y2="503.7" stroke="#ff0000" stroke-width="0.8"/>
<rect x="624" y="468" width="8" height="14.5" fill="#fff" stroke="#ff0000" stroke-width="0.8" fill-opacity="0.22"/>
<line x1="624" y1="474.3" x2="632" y2="474.3" stroke="#ff0000" stroke-width="1.0"/>
<line x1="638.5" y1="435.2" x2="638.5" y2="475.4" stroke="#ff0000" stroke-width="0.8"/>
<line x1="638.5" y1="512" x2="638.5" y2="565" stroke="#ff0000" stroke-width="0.8"/>
<rect x="634.5" y="475.4" width="8" height="36.6" fill="#fff" stroke="#ff0000" stroke-width="0.8" fill-opacity="0.22"/>
<line x1="634.5" y1="491.9" x2="642.5" y2="491.9" stroke="#ff0000" stroke-width="1.0"/>
<line x1="649" y1="458.4" x2="649" y2="466.9" stroke="#0000ff" stroke-width="0.8"/>
<line x1="649" y1="481.4" x2="649" y2="490.3" stroke="#0000ff" stroke-width="0.8"/>
<rect x="645" y="466.9" width="8" height="14.5" fill="#fff" stroke="#0000ff" stroke-width="0.8" fill-opacity="0.22"/>
<line x1="645" y1="474.3" x2="653" y2="474.3" stroke="#0000ff" stroke-width="1.0"/>
<line x1="659.4" y1="443.5" x2="659.4" y2="461.3" stroke="#ff0000" stroke-width="0.8"/>
<line x1="659.4" y1="482.5" x2="659.4" y2="502.6" stroke="#ff0000" stroke-width="0.8"/>
<rect x="655.4" y="461.3" width="8" height="21.2" fill="#fff" stroke="#ff0000" stroke-width="0.8" fill-opacity="0.22"/>
<line x1="655.4" y1="473.1" x2="663.4" y2="473.1" stroke="#ff0000" stroke-width="1.0"/>
<line x1="669.9" y1="484.7" x2="669.9" y2="500.4" stroke="#ff0000" stroke-width="0.8"/>
<line x1="669.9" y1="523.1" x2="669.9" y2="541.6" stroke="#ff0000" stroke-width="0.8"/>
<rect x="665.9" y="500.4" width="8" height="22.7" fill="#fff" stroke="#ff0000" stroke-width="0.8" fill-opacity="0.22"/>
<line x1="665.9" y1="509.7" x2="673.9" y2="509.7" stroke="#ff0000" stroke-width="1.0"/>
<text x="57.3" y="419" font-size="11" text-anchor="middle" stroke="#000" stroke-width="0.12">*</text>
<text x="78.2" y="419" font-size="11" text-anchor="middle" stroke="#000" stroke-width="0.12">***</text>
<text x="141" y="419" font-size="11" text-anchor="middle" stroke="#000" stroke-width="0.12">*</text>
<text x="162" y="419" font-size="11" text-anchor="middle" stroke="#000" stroke-width="0.12">*</text>
<text x="182.9" y="419" font-size="11" text-anchor="middle" stroke="#000" stroke-width="0.12">***</text>
<text x="214.3" y="419" font-size="11" text-anchor="middle" stroke="#000" stroke-width="0.12">*</text>
<text x="235.3" y="419" font-size="11" text-anchor="middle" stroke="#000" stroke-width="0.12">**</text>
<text x="256.2" y="419" font-size="11" text-anchor="middle" stroke="#000" stroke-width="0.12">***</text>
<text x="298.1" y="419" font-size="11" text-anchor="middle" stroke="#000" stroke-width="0.12">***</text>
<text x="319" y="419" font-size="11" text-anchor="middle" stroke="#000" stroke-width="0.12">***</text>
<text x="340" y="419" font-size="11" text-anchor="middle" stroke="#000" stroke-width="0.12">***</text>
<text x="381.8" y="419" font-size="11" text-anchor="middle" stroke="#000" stroke-width="0.12">*</text>
<text x="402.8" y="419" font-size="11" text-anchor="middle" stroke="#000" stroke-width="0.12">***</text>
<text x="423.7" y="419" font-size="11" text-anchor="middle" stroke="#000" stroke-width="0.12">***</text>
<text x="465.6" y="419" font-size="11" text-anchor="middle" stroke="#000" stroke-width="0.12">*</text>
<text x="486.5" y="419" font-size="11" text-anchor="middle" stroke="#000" stroke-width="0.12">*</text>
<text x="507.5" y="419" font-size="11" text-anchor="middle" stroke="#000" stroke-width="0.12">***</text>
<text x="528.4" y="419" font-size="11" text-anchor="middle" stroke="#000" stroke-width="0.12">**</text>
<text x="559.8" y="419" font-size="11" text-anchor="middle" stroke="#000" stroke-width="0.12">*</text>
<text x="612.2" y="419" font-size="11" text-anchor="middle" stroke="#000" stroke-width="0.12">***</text>
<text x="643.6" y="419" font-size="11" text-anchor="middle" stroke="#000" stroke-width="0.12">***</text>
<rect x="35.4" y="402.4" width="641.2" height="182.2" fill="none" stroke="#7f7f7f" stroke-width="0.6"/>
<line x1="32.9" y1="581.8" x2="35.4" y2="581.8" stroke="#333" stroke-width="0.6"/>
<text x="31.9" y="584.3" font-size="7.4" text-anchor="end" fill="#333" stroke="#333" stroke-width="0.12">0</text>
<line x1="32.9" y1="534.6" x2="35.4" y2="534.6" stroke="#333" stroke-width="0.6"/>
<text x="31.9" y="537.1" font-size="7.4" text-anchor="end" fill="#333" stroke="#333" stroke-width="0.12">2</text>
<line x1="32.9" y1="487.4" x2="35.4" y2="487.4" stroke="#333" stroke-width="0.6"/>
<text x="31.9" y="489.9" font-size="7.4" text-anchor="end" fill="#333" stroke="#333" stroke-width="0.12">4</text>
<line x1="32.9" y1="440.2" x2="35.4" y2="440.2" stroke="#333" stroke-width="0.6"/>
<text x="31.9" y="442.7" font-size="7.4" text-anchor="end" fill="#333" stroke="#333" stroke-width="0.12">6</text>
<text x="0" y="0" font-size="7.4" stroke="#000" stroke-width="0.12" text-anchor="middle" transform="translate(21.0 492.4) rotate(-90)">UBE2E2 Expression Level (log2 TPM)</text>
<line x1="41.7" y1="584.6" x2="41.7" y2="586.8" stroke="#333" stroke-width="0.6"/>
<text x="0" y="0" font-size="7.5" stroke="#000" stroke-width="0.12" text-anchor="end" transform="translate(44.3 588) rotate(-90)">ACC.Tumor (n=79)</text>
<line x1="52.2" y1="584.6" x2="52.2" y2="586.8" stroke="#333" stroke-width="0.6"/>
<text x="0" y="0" font-size="7.5" stroke="#000" stroke-width="0.12" text-anchor="end" transform="translate(54.8 588) rotate(-90)">BLCA.Tumor (n=408)</text>
<line x1="62.6" y1="584.6" x2="62.6" y2="586.8" stroke="#333" stroke-width="0.6"/>
<text x="0" y="0" font-size="7.5" stroke="#000" stroke-width="0.12" text-anchor="end" transform="translate(65.2 588) rotate(-90)">BLCA.Normal (n=19)</text>
<line x1="73.1" y1="584.6" x2="73.1" y2="586.8" stroke="#333" stroke-width="0.6"/>
<text x="0" y="0" font-size="7.5" stroke="#000" stroke-width="0.12" text-anchor="end" transform="translate(75.7 588) rotate(-90)">BRCA.Tumor (n=1093)</text>
<line x1="83.6" y1="584.6" x2="83.6" y2="586.8" stroke="#333" stroke-width="0.6"/>
<text x="0" y="0" font-size="7.5" stroke="#000" stroke-width="0.12" text-anchor="end" transform="translate(86.2 588) rotate(-90)">BRCA.Normal (n=112)</text>
<line x1="94.1" y1="584.6" x2="94.1" y2="586.8" stroke="#333" stroke-width="0.6"/>
<text x="0" y="0" font-size="7.5" stroke="#000" stroke-width="0.12" text-anchor="end" transform="translate(96.7 588) rotate(-90)">BRCA−Basal.Tumor (n=190)</text>
<line x1="104.5" y1="584.6" x2="104.5" y2="586.8" stroke="#333" stroke-width="0.6"/>
<text x="0" y="0" font-size="7.5" stroke="#000" stroke-width="0.12" text-anchor="end" transform="translate(107.1 588) rotate(-90)">BRCA−Her2.Tumor (n=82)</text>
<line x1="115" y1="584.6" x2="115" y2="586.8" stroke="#333" stroke-width="0.6"/>
<text x="0" y="0" font-size="7.5" stroke="#000" stroke-width="0.12" text-anchor="end" transform="translate(117.6 588) rotate(-90)">BRCA−LumA.Tumor (n=564)</text>
<line x1="125.5" y1="584.6" x2="125.5" y2="586.8" stroke="#333" stroke-width="0.6"/>
<text x="0" y="0" font-size="7.5" stroke="#000" stroke-width="0.12" text-anchor="end" transform="translate(128.1 588) rotate(-90)">BRCA−LumB.Tumor (n=217)</text>
<line x1="135.9" y1="584.6" x2="135.9" y2="586.8" stroke="#333" stroke-width="0.6"/>
<text x="0" y="0" font-size="7.5" stroke="#000" stroke-width="0.12" text-anchor="end" transform="translate(138.5 588) rotate(-90)">CESC.Tumor (n=304)</text>
<line x1="146.4" y1="584.6" x2="146.4" y2="586.8" stroke="#333" stroke-width="0.6"/>
<text x="0" y="0" font-size="7.5" stroke="#000" stroke-width="0.12" text-anchor="end" transform="translate(149 588) rotate(-90)">CESC.Normal (n=3)</text>
<line x1="156.9" y1="584.6" x2="156.9" y2="586.8" stroke="#333" stroke-width="0.6"/>
<text x="0" y="0" font-size="7.5" stroke="#000" stroke-width="0.12" text-anchor="end" transform="translate(159.5 588) rotate(-90)">CHOL.Tumor (n=36)</text>
<line x1="167.3" y1="584.6" x2="167.3" y2="586.8" stroke="#333" stroke-width="0.6"/>
<text x="0" y="0" font-size="7.5" stroke="#000" stroke-width="0.12" text-anchor="end" transform="translate(169.9 588) rotate(-90)">CHOL.Normal (n=9)</text>
<line x1="177.8" y1="584.6" x2="177.8" y2="586.8" stroke="#333" stroke-width="0.6"/>
<text x="0" y="0" font-size="7.5" stroke="#000" stroke-width="0.12" text-anchor="end" transform="translate(180.4 588) rotate(-90)">COAD.Tumor (n=457)</text>
<line x1="188.3" y1="584.6" x2="188.3" y2="586.8" stroke="#333" stroke-width="0.6"/>
<text x="0" y="0" font-size="7.5" stroke="#000" stroke-width="0.12" text-anchor="end" transform="translate(190.9 588) rotate(-90)">COAD.Normal (n=41)</text>
<line x1="198.8" y1="584.6" x2="198.8" y2="586.8" stroke="#333" stroke-width="0.6"/>
<text x="0" y="0" font-size="7.5" stroke="#000" stroke-width="0.12" text-anchor="end" transform="translate(201.3 588) rotate(-90)">DLBC.Tumor (n=48)</text>
<line x1="209.2" y1="584.6" x2="209.2" y2="586.8" stroke="#333" stroke-width="0.6"/>
<text x="0" y="0" font-size="7.5" stroke="#000" stroke-width="0.12" text-anchor="end" transform="translate(211.8 588) rotate(-90)">ESCA.Tumor (n=184)</text>
<line x1="219.7" y1="584.6" x2="219.7" y2="586.8" stroke="#333" stroke-width="0.6"/>
<text x="0" y="0" font-size="7.5" stroke="#000" stroke-width="0.12" text-anchor="end" transform="translate(222.3 588) rotate(-90)">ESCA.Normal (n=11)</text>
<line x1="230.2" y1="584.6" x2="230.2" y2="586.8" stroke="#333" stroke-width="0.6"/>
<text x="0" y="0" font-size="7.5" stroke="#000" stroke-width="0.12" text-anchor="end" transform="translate(232.8 588) rotate(-90)">GBM.Tumor (n=153)</text>
<line x1="240.6" y1="584.6" x2="240.6" y2="586.8" stroke="#333" stroke-width="0.6"/>
<text x="0" y="0" font-size="7.5" stroke="#000" stroke-width="0.12" text-anchor="end" transform="translate(243.2 588) rotate(-90)">GBM.Normal (n=5)</text>
<line x1="251.1" y1="584.6" x2="251.1" y2="586.8" stroke="#333" stroke-width="0.6"/>
<text x="0" y="0" font-size="7.5" stroke="#000" stroke-width="0.12" text-anchor="end" transform="translate(253.7 588) rotate(-90)">HNSC.Tumor (n=520)</text>
<line x1="261.6" y1="584.6" x2="261.6" y2="586.8" stroke="#333" stroke-width="0.6"/>
<text x="0" y="0" font-size="7.5" stroke="#000" stroke-width="0.12" text-anchor="end" transform="translate(264.2 588) rotate(-90)">HNSC.Normal (n=44)</text>
<line x1="272" y1="584.6" x2="272" y2="586.8" stroke="#333" stroke-width="0.6"/>
<text x="0" y="0" font-size="7.5" stroke="#000" stroke-width="0.12" text-anchor="end" transform="translate(274.6 588) rotate(-90)">HNSC−HPV+.Tumor (n=97)</text>
<line x1="282.5" y1="584.6" x2="282.5" y2="586.8" stroke="#333" stroke-width="0.6"/>
<text x="0" y="0" font-size="7.5" stroke="#000" stroke-width="0.12" text-anchor="end" transform="translate(285.1 588) rotate(-90)">HNSC−HPV−.Tumor (n=421)</text>
<line x1="293" y1="584.6" x2="293" y2="586.8" stroke="#333" stroke-width="0.6"/>
<text x="0" y="0" font-size="7.5" stroke="#000" stroke-width="0.12" text-anchor="end" transform="translate(295.6 588) rotate(-90)">KICH.Tumor (n=66)</text>
<line x1="303.4" y1="584.6" x2="303.4" y2="586.8" stroke="#333" stroke-width="0.6"/>
<text x="0" y="0" font-size="7.5" stroke="#000" stroke-width="0.12" text-anchor="end" transform="translate(306.1 588) rotate(-90)">KICH.Normal (n=25)</text>
<line x1="313.9" y1="584.6" x2="313.9" y2="586.8" stroke="#333" stroke-width="0.6"/>
<text x="0" y="0" font-size="7.5" stroke="#000" stroke-width="0.12" text-anchor="end" transform="translate(316.5 588) rotate(-90)">KIRC.Tumor (n=533)</text>
<line x1="324.4" y1="584.6" x2="324.4" y2="586.8" stroke="#333" stroke-width="0.6"/>
<text x="0" y="0" font-size="7.5" stroke="#000" stroke-width="0.12" text-anchor="end" transform="translate(327 588) rotate(-90)">KIRC.Normal (n=72)</text>
<line x1="334.9" y1="584.6" x2="334.9" y2="586.8" stroke="#333" stroke-width="0.6"/>
<text x="0" y="0" font-size="7.5" stroke="#000" stroke-width="0.12" text-anchor="end" transform="translate(337.5 588) rotate(-90)">KIRP.Tumor (n=290)</text>
<line x1="345.3" y1="584.6" x2="345.3" y2="586.8" stroke="#333" stroke-width="0.6"/>
<text x="0" y="0" font-size="7.5" stroke="#000" stroke-width="0.12" text-anchor="end" transform="translate(347.9 588) rotate(-90)">KIRP.Normal (n=32)</text>
<line x1="355.8" y1="584.6" x2="355.8" y2="586.8" stroke="#333" stroke-width="0.6"/>
<text x="0" y="0" font-size="7.5" stroke="#000" stroke-width="0.12" text-anchor="end" transform="translate(358.4 588) rotate(-90)">LAML.Tumor (n=173)</text>
<line x1="366.3" y1="584.6" x2="366.3" y2="586.8" stroke="#333" stroke-width="0.6"/>
<text x="0" y="0" font-size="7.5" stroke="#000" stroke-width="0.12" text-anchor="end" transform="translate(368.9 588) rotate(-90)">LGG.Tumor (n=516)</text>
<line x1="376.7" y1="584.6" x2="376.7" y2="586.8" stroke="#333" stroke-width="0.6"/>
<text x="0" y="0" font-size="7.5" stroke="#000" stroke-width="0.12" text-anchor="end" transform="translate(379.3 588) rotate(-90)">LIHC.Tumor (n=371)</text>
<line x1="387.2" y1="584.6" x2="387.2" y2="586.8" stroke="#333" stroke-width="0.6"/>
<text x="0" y="0" font-size="7.5" stroke="#000" stroke-width="0.12" text-anchor="end" transform="translate(389.8 588) rotate(-90)">LIHC.Normal (n=50)</text>
<line x1="397.7" y1="584.6" x2="397.7" y2="586.8" stroke="#333" stroke-width="0.6"/>
<text x="0" y="0" font-size="7.5" stroke="#000" stroke-width="0.12" text-anchor="end" transform="translate(400.3 588) rotate(-90)">LUAD.Tumor (n=515)</text>
<line x1="408.2" y1="584.6" x2="408.2" y2="586.8" stroke="#333" stroke-width="0.6"/>
<text x="0" y="0" font-size="7.5" stroke="#000" stroke-width="0.12" text-anchor="end" transform="translate(410.8 588) rotate(-90)">LUAD.Normal (n=59)</text>
<line x1="418.6" y1="584.6" x2="418.6" y2="586.8" stroke="#333" stroke-width="0.6"/>
<text x="0" y="0" font-size="7.5" stroke="#000" stroke-width="0.12" text-anchor="end" transform="translate(421.2 588) rotate(-90)">LUSC.Tumor (n=501)</text>
<line x1="429.1" y1="584.6" x2="429.1" y2="586.8" stroke="#333" stroke-width="0.6"/>
<text x="0" y="0" font-size="7.5" stroke="#000" stroke-width="0.12" text-anchor="end" transform="translate(431.7 588) rotate(-90)">LUSC.Normal (n=51)</text>
<line x1="439.6" y1="584.6" x2="439.6" y2="586.8" stroke="#333" stroke-width="0.6"/>
<text x="0" y="0" font-size="7.5" stroke="#000" stroke-width="0.12" text-anchor="end" transform="translate(442.2 588) rotate(-90)">MESO.Tumor (n=87)</text>
<line x1="450" y1="584.6" x2="450" y2="586.8" stroke="#333" stroke-width="0.6"/>
<text x="0" y="0" font-size="7.5" stroke="#000" stroke-width="0.12" text-anchor="end" transform="translate(452.6 588) rotate(-90)">OV.Tumor (n=303)</text>
<line x1="460.5" y1="584.6" x2="460.5" y2="586.8" stroke="#333" stroke-width="0.6"/>
<text x="0" y="0" font-size="7.5" stroke="#000" stroke-width="0.12" text-anchor="end" transform="translate(463.1 588) rotate(-90)">PAAD.Tumor (n=178)</text>
<line x1="471" y1="584.6" x2="471" y2="586.8" stroke="#333" stroke-width="0.6"/>
<text x="0" y="0" font-size="7.5" stroke="#000" stroke-width="0.12" text-anchor="end" transform="translate(473.6 588) rotate(-90)">PAAD.Normal (n=4)</text>
<line x1="481.4" y1="584.6" x2="481.4" y2="586.8" stroke="#333" stroke-width="0.6"/>
<text x="0" y="0" font-size="7.5" stroke="#000" stroke-width="0.12" text-anchor="end" transform="translate(484 588) rotate(-90)">PCPG.Tumor (n=179)</text>
<line x1="491.9" y1="584.6" x2="491.9" y2="586.8" stroke="#333" stroke-width="0.6"/>
<text x="0" y="0" font-size="7.5" stroke="#000" stroke-width="0.12" text-anchor="end" transform="translate(494.5 588) rotate(-90)">PCPG.Normal (n=3)</text>
<line x1="502.4" y1="584.6" x2="502.4" y2="586.8" stroke="#333" stroke-width="0.6"/>
<text x="0" y="0" font-size="7.5" stroke="#000" stroke-width="0.12" text-anchor="end" transform="translate(505 588) rotate(-90)">PRAD.Tumor (n=497)</text>
<line x1="512.9" y1="584.6" x2="512.9" y2="586.8" stroke="#333" stroke-width="0.6"/>
<text x="0" y="0" font-size="7.5" stroke="#000" stroke-width="0.12" text-anchor="end" transform="translate(515.5 588) rotate(-90)">PRAD.Normal (n=52)</text>
<line x1="523.3" y1="584.6" x2="523.3" y2="586.8" stroke="#333" stroke-width="0.6"/>
<text x="0" y="0" font-size="7.5" stroke="#000" stroke-width="0.12" text-anchor="end" transform="translate(525.9 588) rotate(-90)">READ.Tumor (n=166)</text>
<line x1="533.8" y1="584.6" x2="533.8" y2="586.8" stroke="#333" stroke-width="0.6"/>
<text x="0" y="0" font-size="7.5" stroke="#000" stroke-width="0.12" text-anchor="end" transform="translate(536.4 588) rotate(-90)">READ.Normal (n=10)</text>
<line x1="544.3" y1="584.6" x2="544.3" y2="586.8" stroke="#333" stroke-width="0.6"/>
<text x="0" y="0" font-size="7.5" stroke="#000" stroke-width="0.12" text-anchor="end" transform="translate(546.9 588) rotate(-90)">SARC.Tumor (n=259)</text>
<line x1="554.7" y1="584.6" x2="554.7" y2="586.8" stroke="#333" stroke-width="0.6"/>
<text x="0" y="0" font-size="7.5" stroke="#000" stroke-width="0.12" text-anchor="end" transform="translate(557.3 588) rotate(-90)">SKCM.Tumor (n=103)</text>
<line x1="565.2" y1="584.6" x2="565.2" y2="586.8" stroke="#333" stroke-width="0.6"/>
<text x="0" y="0" font-size="7.5" stroke="#000" stroke-width="0.12" text-anchor="end" transform="translate(567.8 588) rotate(-90)">SKCM.Metastasis (n=368)</text>
<line x1="575.7" y1="584.6" x2="575.7" y2="586.8" stroke="#333" stroke-width="0.6"/>
<text x="0" y="0" font-size="7.5" stroke="#000" stroke-width="0.12" text-anchor="end" transform="translate(578.3 588) rotate(-90)">STAD.Tumor (n=415)</text>
<line x1="586.1" y1="584.6" x2="586.1" y2="586.8" stroke="#333" stroke-width="0.6"/>
<text x="0" y="0" font-size="7.5" stroke="#000" stroke-width="0.12" text-anchor="end" transform="translate(588.7 588) rotate(-90)">STAD.Normal (n=35)</text>
<line x1="596.6" y1="584.6" x2="596.6" y2="586.8" stroke="#333" stroke-width="0.6"/>
<text x="0" y="0" font-size="7.5" stroke="#000" stroke-width="0.12" text-anchor="end" transform="translate(599.2 588) rotate(-90)">TGCT.Tumor (n=150)</text>
<line x1="607.1" y1="584.6" x2="607.1" y2="586.8" stroke="#333" stroke-width="0.6"/>
<text x="0" y="0" font-size="7.5" stroke="#000" stroke-width="0.12" text-anchor="end" transform="translate(609.7 588) rotate(-90)">THCA.Tumor (n=501)</text>
<line x1="617.6" y1="584.6" x2="617.6" y2="586.8" stroke="#333" stroke-width="0.6"/>
<text x="0" y="0" font-size="7.5" stroke="#000" stroke-width="0.12" text-anchor="end" transform="translate(620.2 588) rotate(-90)">THCA.Normal (n=59)</text>
<line x1="628" y1="584.6" x2="628" y2="586.8" stroke="#333" stroke-width="0.6"/>
<text x="0" y="0" font-size="7.5" stroke="#000" stroke-width="0.12" text-anchor="end" transform="translate(630.6 588) rotate(-90)">THYM.Tumor (n=120)</text>
<line x1="638.5" y1="584.6" x2="638.5" y2="586.8" stroke="#333" stroke-width="0.6"/>
<text x="0" y="0" font-size="7.5" stroke="#000" stroke-width="0.12" text-anchor="end" transform="translate(641.1 588) rotate(-90)">UCEC.Tumor (n=545)</text>
<line x1="649" y1="584.6" x2="649" y2="586.8" stroke="#333" stroke-width="0.6"/>
<text x="0" y="0" font-size="7.5" stroke="#000" stroke-width="0.12" text-anchor="end" transform="translate(651.6 588) rotate(-90)">UCEC.Normal (n=35)</text>
<line x1="659.4" y1="584.6" x2="659.4" y2="586.8" stroke="#333" stroke-width="0.6"/>
<text x="0" y="0" font-size="7.5" stroke="#000" stroke-width="0.12" text-anchor="end" transform="translate(662 588) rotate(-90)">UCS.Tumor (n=57)</text>
<line x1="669.9" y1="584.6" x2="669.9" y2="586.8" stroke="#333" stroke-width="0.6"/>
<text x="0" y="0" font-size="7.5" stroke="#000" stroke-width="0.12" text-anchor="end" transform="translate(672.5 588) rotate(-90)">UVM.Tumor (n=80)</text>
<path d="M373.2 652 V658.6 H389.7" fill="none" stroke="#000" stroke-width="0.7"/>
<text x="383.5" y="664.6" font-size="7.4" text-anchor="middle" stroke="#000" stroke-width="0.12">***</text>
<text x="18.4" y="697.3" font-size="10.5" font-weight="bold">G</text>
<text x="122.6" y="710.8" font-size="7.4" text-anchor="middle" stroke="#000" stroke-width="0.12">CPTACdatabase</text>
<line x1="84.3" y1="719.9" x2="161" y2="719.9" stroke="#333" stroke-width="0.8"/>
<text x="122.6" y="721" font-size="8" text-anchor="middle" stroke="#000" stroke-width="0.12">***</text>
<line x1="48.1" y1="724.8" x2="48.1" y2="830.8" stroke="#444" stroke-width="0.8"/>
<line x1="48.1" y1="830.8" x2="196.2" y2="830.8" stroke="#888" stroke-width="0.8"/>
<line x1="45.6" y1="830.4" x2="48.1" y2="830.4" stroke="#444" stroke-width="0.7"/>
<text x="44.5" y="832.8" font-size="7.4" text-anchor="end" fill="#333" stroke="#333" stroke-width="0.12">-3</text>
<line x1="45.6" y1="812.9" x2="48.1" y2="812.9" stroke="#444" stroke-width="0.7"/>
<text x="44.5" y="815.3" font-size="7.4" text-anchor="end" fill="#333" stroke="#333" stroke-width="0.12">-2</text>
<line x1="45.6" y1="795.5" x2="48.1" y2="795.5" stroke="#444" stroke-width="0.7"/>
<text x="44.5" y="797.9" font-size="7.4" text-anchor="end" fill="#333" stroke="#333" stroke-width="0.12">-1</text>
<line x1="45.6" y1="778" x2="48.1" y2="778" stroke="#444" stroke-width="0.7"/>
<text x="44.5" y="780.4" font-size="7.4" text-anchor="end" fill="#333" stroke="#333" stroke-width="0.12">0</text>
<line x1="45.6" y1="760.5" x2="48.1" y2="760.5" stroke="#444" stroke-width="0.7"/>
<text x="44.5" y="762.9" font-size="7.4" text-anchor="end" fill="#333" stroke="#333" stroke-width="0.12">1</text>
<line x1="45.6" y1="743.1" x2="48.1" y2="743.1" stroke="#444" stroke-width="0.7"/>
<text x="44.5" y="745.5" font-size="7.4" text-anchor="end" fill="#333" stroke="#333" stroke-width="0.12">2</text>
<line x1="45.6" y1="725.6" x2="48.1" y2="725.6" stroke="#444" stroke-width="0.7"/>
<text x="44.5" y="728" font-size="7.4" text-anchor="end" fill="#333" stroke="#333" stroke-width="0.12">3</text>
<line x1="85.8" y1="765.2" x2="85.8" y2="785.2" stroke="#333" stroke-width="0.6" stroke-dasharray="1 0.8"/>
<line x1="85.8" y1="800.2" x2="85.8" y2="820.4" stroke="#333" stroke-width="0.6" stroke-dasharray="1 0.8"/>
<line x1="76.8" y1="765.2" x2="94.8" y2="765.2" stroke="#333" stroke-width="0.8"/>
<line x1="76.8" y1="820.4" x2="94.8" y2="820.4" stroke="#333" stroke-width="0.8"/>
<rect x="68" y="785.2" width="35.6" height="15" fill="#4d62d9" stroke="none" stroke-width="0.8"/>
<line x1="68" y1="791" x2="103.6" y2="791" stroke="#111" stroke-width="1.2"/>
<line x1="159.4" y1="745.3" x2="159.4" y2="767.4" stroke="#333" stroke-width="0.6" stroke-dasharray="1 0.8"/>
<line x1="159.4" y1="788.8" x2="159.4" y2="808.1" stroke="#333" stroke-width="0.6" stroke-dasharray="1 0.8"/>
<line x1="150.4" y1="745.3" x2="168.4" y2="745.3" stroke="#333" stroke-width="0.8"/>
<line x1="150.4" y1="808.1" x2="168.4" y2="808.1" stroke="#333" stroke-width="0.8"/>
<rect x="141.6" y="767.4" width="35.6" height="21.4" fill="#ee3a10" stroke="none" stroke-width="0.8"/>
<line x1="141.6" y1="777.2" x2="177.2" y2="777.2" stroke="#111" stroke-width="1.2"/>
<text x="86.8" y="838" font-size="7.4" text-anchor="middle" stroke="#000" stroke-width="0.12">Normal</text>
<text x="86.8" y="844.3" font-size="7.4" text-anchor="middle" stroke="#000" stroke-width="0.12">(n=165)</text>
<text x="162.5" y="838" font-size="7.4" text-anchor="middle" stroke="#000" stroke-width="0.12">Tumor</text>
<text x="162.5" y="844.3" font-size="7.4" text-anchor="middle" stroke="#000" stroke-width="0.12">(n=165)</text>
<text x="0" y="0" font-size="7.4" stroke="#000" stroke-width="0.12" text-anchor="middle" transform="translate(33.5 778.7) rotate(-90)">Z-value</text>
<text x="201.3" y="697" font-size="10.5" font-weight="bold">H</text>
<text x="284.3" y="711" font-size="7.4" text-anchor="middle" stroke="#000" stroke-width="0.12">TCGA database</text>
<line x1="262.4" y1="717.2" x2="306.6" y2="717.2" stroke="#222" stroke-width="0.8"/>
<text x="284.3" y="719" font-size="8" text-anchor="middle" stroke="#000" stroke-width="0.12">*</text>
<path d="M265.3 774h0M267.3 769.3h0M270.6 780.2h0M262 783.6h0M261.6 785.6h0M270.2 777.4h0M271.9 773.6h0M271.5 775.4h0M267.4 778.9h0M268.4 784.2h0M260.3 776.6h0M261.8 785.1h0M267.3 774h0M265.8 790.6h0M266.2 778.7h0M267.8 779.8h0M260 776.2h0M268.6 776.4h0M271.1 790.2h0M269.7 778.4h0M262.6 775.4h0M266.8 780.6h0M261.8 785h0M265.5 784.6h0M262.4 781.7h0M262.6 774.4h0M262.9 778.5h0M262.9 775.1h0M265.5 777.2h0M271.8 782.2h0M259.4 774.6h0M267.6 780.4h0M264.7 785.8h0M270.6 784.2h0M261.1 778.7h0M260.5 783.9h0M269.3 773.9h0M269.5 777.4h0M259.4 772.6h0M265.1 772h0M261.2 778.1h0M261.5 769.3h0M259.6 771.8h0M262.1 776.9h0M260.4 790.6h0M259.2 769.3h0M264.8 781.2h0M263.1 775.1h0M269 779.3h0M265 781.8h0" stroke="#2b7bba" stroke-width="2.9" stroke-linecap="round" stroke-opacity="0.95" fill="none"/>
<path d="M305.3 782.6h0M311.2 783.7h0M298.4 772.4h0M301 779.6h0M298.3 750h0M311.6 778.4h0M299.9 796.4h0M304.2 772h0M310.4 788.7h0M302 783.1h0M311 768h0M298.8 753.8h0M310.8 775.2h0M306.7 788.6h0M311.5 793.1h0M309.1 755.9h0M306.5 781.7h0M312.3 762.6h0M310.9 754.2h0M304.2 765.4h0M310.8 777.8h0M307.6 766h0M310.2 782.6h0M305.4 778.7h0M299.3 750h0M301.7 773.5h0M298.9 781.7h0M311.1 775.2h0M310.4 779.7h0M305.1 776.4h0M310.8 767.8h0M305.2 761.9h0M301.3 772.9h0M310.7 765.1h0M308.2 768.1h0M309.1 750h0M305.9 802.9h0M301.7 788.6h0M308.2 762.4h0M310.1 789.5h0M301.6 771.4h0M310.4 776.9h0M303.9 787h0M304 786.4h0M300.7 776.7h0M305.9 766h0M308.7 781.4h0M312.2 771.1h0M299.1 791.2h0M298.8 777.5h0M307.9 780.4h0M298 792.7h0M309.1 773h0M307.4 770.9h0M305.7 778.3h0M304.5 795.4h0M306.2 773.9h0M301.7 785.1h0M299.4 760.7h0M299.7 787.5h0M309.7 761.6h0M306.2 787.4h0M298.8 786.1h0M305.2 772.1h0M299.1 808h0M307.4 771.9h0M298.6 766.4h0M309.9 759.3h0M310.6 763h0M309.1 771.4h0M304.3 783.7h0M300.3 771.2h0M308.4 799.2h0M299.4 766.5h0M309.2 774.7h0M309.1 768.2h0M311 768h0M298 767.1h0M310.9 788.1h0M310 789.8h0M299.4 773.1h0M310.8 784.2h0M309.9 773.7h0M301.8 766.7h0M307.8 795h0M307 771.6h0M312.3 778.6h0M299.9 753.5h0M312 755.8h0M307.8 765h0M305.4 788.7h0M299.4 779.1h0M302.8 804.2h0M299.3 750h0M307.5 771.3h0M307.7 772.8h0M305.4 774.2h0M298.6 770.6h0M302.6 755.1h0M310 766.6h0M307.7 789h0M298.8 766h0M303.7 766.3h0M307.9 770.4h0M304 750h0M300 750h0M303.9 758.6h0M305.5 750h0M305.1 771.6h0M301.6 762.1h0M307.7 770.8h0M301.7 772.2h0M309.5 760.8h0M310.6 761.5h0M308 769.8h0M302.3 782.7h0M308.2 762.3h0M302.1 791.6h0M305.9 777.1h0M310.6 776.4h0M300.5 756.6h0M310.5 784.5h0M300.9 750h0M308.9 761.1h0M310.9 793.1h0M307.9 766.3h0M304.4 784.3h0M298.2 769.7h0M300.8 771.6h0M303.8 768.3h0M306.4 764.3h0M305.3 756.6h0M298.6 772.3h0M306.2 785.9h0M298.2 786.3h0M309.8 778.9h0M305.7 779.2h0M303.5 773.8h0M299.2 780.2h0M309.1 778h0M301.9 777.8h0M301.5 790h0M300.9 770.7h0M298.1 767.3h0M311.7 769.1h0M299.3 784.9h0M305.7 794.6h0M299.6 750h0M305.9 791.3h0M306 763.6h0M312.1 768.5h0M299.2 775.9h0M311 781.4h0M306.7 786.2h0M302 780.7h0M300.5 755h0M302.6 763.3h0M309.6 786.7h0M300 776.1h0M304.8 768.3h0M301.6 767.7h0M299.5 778.7h0M298.8 766.5h0M299.4 780.7h0M301.9 786.9h0M300.5 769h0M311.5 780.3h0M304.3 799.8h0M310.6 777.9h0M311.2 792.8h0M301.2 789.8h0M311.8 780.9h0M300.3 773h0M310.9 771.2h0M303.7 751.6h0M308.3 765.2h0M306.6 769.7h0M310.7 789h0M301.2 750h0M308.1 753h0M303.2 805.4h0M301.2 756.3h0M311.6 767.1h0M305.6 769.1h0M299.3 764.4h0M301.1 783h0M303.8 796.6h0M299.8 789.3h0M298 768.4h0M312.3 769.6h0M311 769.9h0M301.4 774.5h0M303.4 765.3h0M312.2 783h0M298.1 772.4h0M306.8 769h0M306.5 784.5h0M310.1 752.3h0M299 773.3h0M301.3 765.5h0M310 765.8h0M298.3 772.9h0M298.4 765.7h0M301.1 776.1h0M305.9 772.5h0M303.1 776.7h0M308.1 769.8h0M307.5 775.2h0M307.4 774.5h0M305.3 761.6h0M307.8 778h0M302.8 785.6h0M309.5 760.7h0M306.2 778h0M309.8 775h0M305.2 786.1h0M308.5 765.2h0M302.5 787.2h0M301.2 776.2h0M302.5 779.3h0M304.3 776.8h0M302.1 792.5h0M300.3 750h0M300.5 759.2h0M304.1 770.4h0M310.9 775.4h0M299 793.7h0M309.1 766.9h0M301.7 770.9h0M304 767.6h0M298.1 767h0M301.8 763.1h0M298.5 767.9h0M307.6 751.5h0M300.7 780h0M311.6 771.5h0M301.1 780.4h0M309 780h0M310.5 788.9h0M307.6 771.6h0M304.9 769.5h0M298.2 761h0M312.2 770.2h0M307.9 766.9h0M306.7 794.4h0M309 792.5h0M308.2 788.9h0M305.6 794.1h0M303.2 771.7h0M302.1 783.3h0M299.4 771.4h0M304.7 783.5h0M305.7 763.5h0M309.1 775.2h0M312 767.9h0M307.6 786.2h0M309.2 760.8h0M299.5 751.9h0M302.8 780.8h0M302.1 762.2h0M299.5 776h0M307.1 773.3h0M304.3 751.8h0M310.7 775.6h0M299.8 787.6h0M306.6 775.1h0M299 790.6h0M300.9 786.8h0M300.3 754.7h0M308.7 771.3h0M304.9 755.4h0M307.8 774.3h0M298.4 778h0M303.3 785.8h0M301.9 790.3h0M306.4 750h0M302.7 789.8h0M311.1 785.1h0M307.1 775.7h0M298.6 770h0M297.9 750h0M298 772h0M302.1 782.9h0M306.2 788h0M300.4 787h0M310.4 763h0M311 776h0M298.5 780h0M306.1 800.9h0M298.7 801.9h0M308.4 818.3h0M302 798.1h0M299.8 821.4h0M310.4 826.4h0M298.5 805.4h0M312.1 792.2h0M306.7 798.1h0M305.3 823.8h0M309.5 790.8h0M304.5 794.8h0M305.4 794.5h0M307.4 799.8h0M312 823.6h0M300.1 797.4h0M299.4 806.3h0M300.5 814.7h0M299.6 798.3h0M309.7 804.7h0M298 813h0M308 810.3h0M309.1 812.5h0M300.7 804.9h0M307.3 792h0M302.7 825.8h0M305.3 797.4h0M299.4 808.2h0M303.4 815.8h0M299.8 826.6h0M311.4 807.2h0M304.1 816.3h0M309.9 817.2h0M310.2 822.1h0M307.3 825.1h0M310.4 795h0M308.3 797.1h0M300.1 799.6h0M303.2 816.4h0M298.6 815.9h0M303.5 791.3h0M307.5 806.1h0M305.8 807.7h0M300.9 817.3h0M307.5 818.1h0M303.3 800.8h0M304.4 812h0M305.3 801.5h0M299.8 815.7h0M310.4 819.1h0M302.4 813.9h0M301.2 809.9h0M299.8 791.4h0M302.2 806.1h0M304.3 816.5h0M311.4 807h0M302 809.2h0M299.6 814.5h0M305 804h0M307.4 818h0M308.6 804h0M310.2 811.8h0M308.4 825.8h0M303.8 804.1h0M307.1 821.6h0M298.9 803.5h0M305.2 791.7h0M309.7 806.6h0M311.1 823.6h0M302.1 818.5h0M298 804h0M301.1 816.7h0M302.1 747h0M302.5 750.1h0M306.2 746.7h0M298.8 754.6h0M308.1 753.9h0M310.9 748.4h0M304.5 746.4h0M310.7 751.2h0M300.6 754.6h0M301.1 753.6h0M300.8 750h0M301.6 753.6h0M300.9 752h0M301.9 752.9h0M302 733.6h0M309 736.6h0M306 741h0M301 826h0M309 826.5h0" stroke="#f7821b" stroke-width="2.9" stroke-linecap="round" stroke-opacity="0.95" fill="none"/>
<line x1="260.2" y1="779.6" x2="271.2" y2="779.6" stroke="#111" stroke-width="0.8"/>
<circle cx="265.7" cy="779.6" r="1.6" fill="#fff" stroke="#111" stroke-width="0.6"/>
<line x1="299.6" y1="779.2" x2="310.6" y2="779.2" stroke="#111" stroke-width="0.8"/>
<circle cx="305.1" cy="779.2" r="1.6" fill="#fff" stroke="#111" stroke-width="0.6"/>
<line x1="242.3" y1="726" x2="242.3" y2="830" stroke="#222" stroke-width="0.8"/>
<line x1="242.3" y1="830" x2="328.1" y2="830" stroke="#222" stroke-width="0.8"/>
<line x1="239.8" y1="802.2" x2="242.3" y2="802.2" stroke="#222" stroke-width="0.7"/>
<text x="238.5" y="804.6" font-size="7.4" text-anchor="end" fill="#333" stroke="#333" stroke-width="0.12">2</text>
<line x1="239.8" y1="769.8" x2="242.3" y2="769.8" stroke="#222" stroke-width="0.7"/>
<text x="238.5" y="772.2" font-size="7.4" text-anchor="end" fill="#333" stroke="#333" stroke-width="0.12">4</text>
<line x1="239.8" y1="737.4" x2="242.3" y2="737.4" stroke="#222" stroke-width="0.7"/>
<text x="238.5" y="739.8" font-size="7.4" text-anchor="end" fill="#333" stroke="#333" stroke-width="0.12">6</text>
<line x1="265.7" y1="830" x2="265.7" y2="832.5" stroke="#222" stroke-width="0.7"/>
<line x1="305.1" y1="830" x2="305.1" y2="832.5" stroke="#222" stroke-width="0.7"/>
<text x="265.7" y="839.5" font-size="7.4" text-anchor="middle" stroke="#000" stroke-width="0.12">Normal</text>
<text x="265.7" y="846" font-size="7.4" text-anchor="middle" stroke="#000" stroke-width="0.12">(n=50)</text>
<text x="307.3" y="839.5" font-size="7.4" text-anchor="middle" stroke="#000" stroke-width="0.12">Tumor</text>
<text x="307.3" y="846" font-size="7.4" text-anchor="middle" stroke="#000" stroke-width="0.12">(n=374)</text>
<text x="0" y="0" font-size="7.4" stroke="#000" stroke-width="0.12" text-anchor="middle" transform="translate(223.3 774.2) rotate(-90)">The expression of PTBP2</text>
<text x="0" y="0" font-size="7.4" stroke="#000" stroke-width="0.12" text-anchor="middle" transform="translate(229.9 774.2) rotate(-90)">Log2(TPM+1)</text>
<text x="344.9" y="697.2" font-size="10.5" font-weight="bold">I</text>
<text x="434.6" y="710.2" font-size="7.4" text-anchor="middle" stroke="#000" stroke-width="0.12">TCGA database</text>
<line x1="400.7" y1="716.9" x2="468.5" y2="716.9" stroke="#222" stroke-width="0.8"/>
<text x="434.6" y="719" font-size="8" text-anchor="middle" stroke="#000" stroke-width="0.12">**</text>
<path d="M402.9 760.4h0M401 778.9h0M403 778.9h0M402.5 773.6h0M400.5 758h0M401 770.2h0M401.7 768h0M402.3 765.2h0M402.2 783.9h0M403.5 758.4h0M399.4 771.5h0M402.7 771.7h0M398.1 786.9h0M402.4 778.1h0M402.9 787.1h0M402.8 767h0M401.4 774.5h0M402 758h0M397.6 785.9h0M402 769.8h0M401.1 778.4h0M397.2 779.2h0M401 761h0M402.8 779.5h0M398.6 765.8h0M402.7 765.1h0M403.1 777.8h0M397.7 775h0M397 779.3h0M403.1 773.5h0M403.6 778.4h0M398.1 783.7h0M398.5 780h0M403.4 760.5h0M397.1 771.1h0M404.4 774.7h0M398.1 763.8h0M398.7 777.4h0M397.3 764.6h0M400.6 773.6h0M397.8 795.4h0M400.8 791h0M399.2 798.3h0M398.3 795.5h0M402.5 800.2h0M403.8 822.9h0M401.9 810.7h0M399.9 797.8h0M400.8 799.6h0M404.3 797.1h0M399.7 803.2h0M404 808.9h0M400 814.7h0M398.2 819.3h0M396.9 807.3h0M404.5 813.7h0M400.8 747.3h0M398.6 828.3h0" stroke="#4db8d9" stroke-width="2.8" stroke-linecap="round" stroke-opacity="0.95" fill="none"/>
<path d="M426.6 794.1h0M423.2 774.9h0M425.8 752.3h0M419.8 797.7h0M424.7 761.1h0M424.1 801.7h0M423.3 790.8h0M425.8 787.5h0M422.8 772.3h0M420.5 779.2h0M422.3 751.6h0M420 787.7h0M419.7 797.7h0M420.9 794.2h0M426.1 768h0M424.9 771.8h0M421.4 805.5h0M420 751.6h0M426.4 796.2h0M424.7 794.8h0M422.9 761.9h0M423.3 811h0M424.6 760h0M424.6 813h0M424.7 751.6h0M420 772.8h0M420.7 803.3h0M422.3 776.3h0M421.6 765.8h0M426.6 784.6h0M424.8 794.9h0M419.5 784h0M425 753.9h0M423.8 771.6h0M421.4 763.5h0M422.7 802.4h0M420.8 773.3h0M423.7 751.6h0M419.4 773.8h0M421.4 785.7h0M424.4 792.9h0M421.5 812.6h0M422.9 784.4h0M424.5 787.7h0M419.1 770.3h0M425.7 758.1h0M419.6 764.1h0M425.1 784.3h0M423.2 775.3h0M420 791.8h0M426.7 751.6h0M423.2 777.3h0M423 774.1h0M421 795.7h0M421.2 800h0M424.6 795.8h0M421.3 773.9h0M423.4 783h0M422.1 775.6h0M420.4 800.9h0M425.3 793.3h0M422.7 779.3h0M423.9 799.7h0M423.8 797.2h0M423.9 785.4h0M421.4 751.6h0M422.9 772.4h0M424.5 774.3h0M421.2 769.1h0M423.9 798.7h0M426.2 778.1h0M421.7 813.9h0M423.6 766.5h0M420.5 792h0M419.2 755.8h0M422.1 766.9h0M420.4 789h0M425.6 778.4h0M421.7 811.2h0M420.5 779.5h0M423 775.6h0M420.1 788.1h0M420.7 794.7h0M425.7 768.9h0M419.2 783.3h0M423.9 753.1h0M425.6 800.5h0M422.3 804.9h0M426.1 782.7h0M422.7 775.8h0M422.8 774.6h0M424.6 801.9h0M419.6 786.1h0M422.6 802.3h0M426.2 766.6h0M426.1 774.1h0M421.8 773.8h0M422.2 778.9h0M424.4 775h0M423.7 751.6h0M423.2 801.2h0M424.3 764.1h0M419.6 822.2h0M422.2 775h0M421.7 807.7h0M421.1 812.3h0M420.7 751.6h0M420.7 765.4h0M426.6 761.8h0M419.5 766.3h0M423.2 762.9h0M422.5 778h0M426.3 813.4h0M420.7 751.6h0M423.3 760.1h0M421.1 794.9h0M425.8 772.2h0M425.2 769.3h0M420.6 774h0M421.1 764.2h0M422.5 796.4h0M423.2 805.4h0M420.6 799.2h0M422.8 783.6h0M420.9 764.8h0M419.1 766h0M420.6 784.2h0M423.8 779h0M419.6 772.4h0M423.1 787.4h0M419.2 776h0M419.4 751.6h0M424.4 781.6h0M420.9 756.8h0M421.8 779.4h0M426.5 803h0M423.2 786.2h0M426.5 752.6h0M426 821.1h0M419.4 751.6h0M424.6 779.7h0M423.5 751.6h0M422.9 754.7h0M424.6 758.4h0M423 773.1h0M422 804.5h0M420.1 771.5h0M422.2 813.5h0M419.8 795.9h0M423.3 768.1h0M422.2 814.9h0M425.7 768.1h0M420.1 783h0M419.1 784.8h0M419.8 787h0M420.5 783.2h0M421.7 774.2h0M424.5 794.5h0M422.5 809.5h0M423.9 791.1h0M420 751.6h0M426.6 780.1h0M426.2 761.8h0M423.5 782.7h0M421.5 776.4h0M424.3 764h0M424.2 755.7h0M422.1 772.7h0M420 751.6h0M420.1 756.9h0M424 792.3h0M422 776.6h0M425.3 788.7h0M420.4 788.5h0M420.6 799.3h0M422.5 763.2h0M419.2 773.2h0M426.2 780h0M419.2 786h0M419.6 767.4h0M423 790.9h0M424.3 776.5h0M423.9 797.6h0M426.3 785.9h0M426.7 794.8h0M421.3 801.9h0M420.7 806.3h0M419.2 781.3h0M419.8 795.5h0M423.7 751.6h0M421.1 783.2h0M423.3 759.6h0M419.2 770.7h0M420 773.6h0M419.3 770h0M419.2 806.9h0M425.7 776.1h0M423.9 758.8h0M424.8 810.4h0M426.4 794.3h0M423.5 749.6h0M419.8 827.6h0" stroke="#e8442c" stroke-width="2.8" stroke-linecap="round" stroke-opacity="0.95" fill="none"/>
<path d="M447.6 767.7h0M446.7 779.7h0M449.7 742.1h0M446.3 746.6h0M446.8 756.1h0M449.8 793.9h0M449.3 784.6h0M445.6 810.3h0M444.7 792.5h0M450 786.6h0M443.8 764.7h0M449.4 811.4h0M445.1 796.4h0M446.4 792.8h0M443.1 797.3h0M446.1 793.5h0M442.7 799.6h0M446 764.9h0M444.6 796h0M445.8 769.4h0M445 799.6h0M449.8 783.1h0M449.3 744h0M449.4 801.1h0M444.4 779.1h0M446.2 815.1h0M443.8 774.3h0M446.1 763.9h0M443.5 819.3h0M447.4 784.1h0M445.8 776.4h0M448.9 788.9h0M444.8 783.5h0M443.7 766.4h0M448.6 764.4h0M446.2 768.4h0M443.8 805.8h0M446.8 755.4h0M445.2 761.4h0M443.3 754.9h0M447.8 806.5h0M444.3 808.5h0M445.6 773.3h0M445.6 782.3h0M447 776.1h0M444.4 806.1h0M443.8 753.8h0M449.3 775.8h0M447.6 759.9h0M448 819.3h0M445.7 775.2h0M442.8 751.4h0M446.7 754.2h0M449.4 766h0M443.8 813.7h0M449.2 757.3h0M443.2 789.1h0M447.9 770.4h0M445.8 762.3h0M447.7 778.9h0M446.5 780.2h0M446.3 770.4h0M446.3 755.5h0M449.5 781.7h0M446.5 819.3h0M443.2 785.7h0M448.9 790.3h0M443.6 761.2h0M443.9 798.2h0M450 767.3h0M444.5 808h0M446.6 767.5h0M448.7 748.5h0M443.1 789.2h0M446.3 769.7h0M446.6 805h0M448.2 769h0M449 793.5h0M448.8 786.8h0M445.7 781h0M444.2 780.6h0M447.5 764.6h0M446.6 796.6h0M445.2 807.1h0M444.2 753.9h0M443.3 792.1h0M445.8 769.3h0M443.8 773.1h0M446.3 772.6h0M442.8 760.4h0M443 763.6h0M443.1 768.8h0M449.4 781.1h0M443.7 776.1h0M449 763.9h0M443.7 760.2h0M445.1 772.1h0M443.2 803.1h0M446.4 760.7h0M449.3 784.5h0M445 759.3h0M445.1 745h0M448.5 797.3h0M449.6 761.7h0M448.5 790.8h0M446.1 763.4h0M443.7 789.6h0M442.8 778.8h0M442.7 751.2h0M449.2 768.2h0M443.5 800.6h0M448.9 755.3h0M442.9 775.5h0M444.7 761.5h0M442.8 766.2h0M447 772h0M448.7 799.5h0M446.8 785.2h0M444.6 791.4h0M445.3 785.7h0M445.5 771.5h0M443.8 786.6h0M444.7 760.6h0M443.4 782.5h0M445.8 784.1h0M444.1 814.4h0M446.4 759.2h0M448.3 783.6h0M447 745.8h0M446.9 795.2h0M445.3 768.3h0M443.3 750.6h0M448.5 776.1h0M445.9 775.6h0M447.3 736.2h0M449.4 779.6h0M447.9 779.7h0M449 791.1h0M449.9 819.3h0M448.4 772.8h0M444.2 771.6h0M443.4 775.6h0M446.1 816.8h0M446.5 771.7h0M443.9 775.1h0M442.9 771.7h0M447.9 783h0M444.8 786.8h0M443.7 784.7h0M450.1 764.2h0M444.2 734.2h0M444.8 821.3h0" stroke="#0f9a82" stroke-width="2.8" stroke-linecap="round" stroke-opacity="0.95" fill="none"/>
<path d="M468.8 770.9h0M467.2 780.1h0M466.3 767.8h0M465.8 769.7h0M466.4 768.3h0M468.3 776.1h0M467.5 761h0M469.1 773.2h0M466.2 777.4h0M464.9 773.3h0M470.8 781.7h0M471.4 767.6h0M465.6 771.1h0M470.4 761.7h0M466.8 751.2h0M468.3 817.8h0" stroke="#2c4c8c" stroke-width="2.8" stroke-linecap="round" stroke-opacity="0.95" fill="none"/>
<circle cx="400.7" cy="783.2" r="1.8" fill="#fff" stroke="#111" stroke-width="0.6"/>
<circle cx="422.9" cy="779.3" r="1.8" fill="#fff" stroke="#111" stroke-width="0.6"/>
<circle cx="446.3" cy="779.3" r="1.8" fill="#fff" stroke="#111" stroke-width="0.6"/>
<circle cx="468" cy="770.6" r="1.8" fill="#fff" stroke="#111" stroke-width="0.6"/>
<line x1="387.9" y1="724.8" x2="387.9" y2="831.4" stroke="#222" stroke-width="0.8"/>
<line x1="387.9" y1="831.4" x2="481.3" y2="831.4" stroke="#222" stroke-width="0.8"/>
<line x1="385.4" y1="803.3" x2="387.9" y2="803.3" stroke="#222" stroke-width="0.7"/>
<text x="384.2" y="805.7" font-size="7.4" text-anchor="end" fill="#333" stroke="#333" stroke-width="0.12">2</text>
<line x1="385.4" y1="770.3" x2="387.9" y2="770.3" stroke="#222" stroke-width="0.7"/>
<text x="384.2" y="772.7" font-size="7.4" text-anchor="end" fill="#333" stroke="#333" stroke-width="0.12">4</text>
<line x1="385.4" y1="737.3" x2="387.9" y2="737.3" stroke="#222" stroke-width="0.7"/>
<text x="384.2" y="739.7" font-size="7.4" text-anchor="end" fill="#333" stroke="#333" stroke-width="0.12">6</text>
<line x1="400.7" y1="831.4" x2="400.7" y2="833.9" stroke="#222" stroke-width="0.7"/>
<text x="400.7" y="840" font-size="7.4" text-anchor="middle" stroke="#000" stroke-width="0.12">G1</text>
<line x1="422.9" y1="831.4" x2="422.9" y2="833.9" stroke="#222" stroke-width="0.7"/>
<text x="422.9" y="840" font-size="7.4" text-anchor="middle" stroke="#000" stroke-width="0.12">G2</text>
<line x1="446.3" y1="831.4" x2="446.3" y2="833.9" stroke="#222" stroke-width="0.7"/>
<text x="446.3" y="840" font-size="7.4" text-anchor="middle" stroke="#000" stroke-width="0.12">G3</text>
<line x1="468" y1="831.4" x2="468" y2="833.9" stroke="#222" stroke-width="0.7"/>
<text x="468" y="840" font-size="7.4" text-anchor="middle" stroke="#000" stroke-width="0.12">G4</text>
<text x="437" y="846.5" font-size="7.4" text-anchor="middle" stroke="#000" stroke-width="0.12">Histologic grade</text>
<text x="0" y="0" font-size="7.4" stroke="#000" stroke-width="0.12" text-anchor="middle" transform="translate(367.0 775.8) rotate(-90)">The expression of PTBP2</text>
<text x="0" y="0" font-size="7.4" stroke="#000" stroke-width="0.12" text-anchor="middle" transform="translate(375.2 775.8) rotate(-90)">Log2(TPM+1)</text>
<text x="496.3" y="697.3" font-size="10.5" font-weight="bold">J</text>
<text x="608.1" y="706.1" font-size="7.4" text-anchor="middle" stroke="#000" stroke-width="0.12">Overall Survival (OS)</text>
<rect x="536.2" y="711.5" width="141" height="118.7" fill="none" stroke="#999" stroke-width="0.6"/>
<line x1="533.7" y1="716.4" x2="536.2" y2="716.4" stroke="#333" stroke-width="0.6"/>
<text x="532.7" y="718.8" font-size="7.4" text-anchor="end" fill="#222" stroke="#222" stroke-width="0.12">1.0</text>
<line x1="533.7" y1="738.4" x2="536.2" y2="738.4" stroke="#333" stroke-width="0.6"/>
<text x="532.7" y="740.8" font-size="7.4" text-anchor="end" fill="#222" stroke="#222" stroke-width="0.12">0.8</text>
<line x1="533.7" y1="760.5" x2="536.2" y2="760.5" stroke="#333" stroke-width="0.6"/>
<text x="532.7" y="762.9" font-size="7.4" text-anchor="end" fill="#222" stroke="#222" stroke-width="0.12">0.6</text>
<line x1="533.7" y1="782.5" x2="536.2" y2="782.5" stroke="#333" stroke-width="0.6"/>
<text x="532.7" y="784.9" font-size="7.4" text-anchor="end" fill="#222" stroke="#222" stroke-width="0.12">0.4</text>
<line x1="533.7" y1="804.6" x2="536.2" y2="804.6" stroke="#333" stroke-width="0.6"/>
<text x="532.7" y="807" font-size="7.4" text-anchor="end" fill="#222" stroke="#222" stroke-width="0.12">0.2</text>
<line x1="533.7" y1="826.6" x2="536.2" y2="826.6" stroke="#333" stroke-width="0.6"/>
<text x="532.7" y="829" font-size="7.4" text-anchor="end" fill="#222" stroke="#222" stroke-width="0.12">0.0</text>
<line x1="540.7" y1="830.2" x2="540.7" y2="832.7" stroke="#333" stroke-width="0.6"/>
<text x="540.7" y="839.5" font-size="7.4" text-anchor="middle" fill="#222" stroke="#222" stroke-width="0.12">0</text>
<line x1="562.1" y1="830.2" x2="562.1" y2="832.7" stroke="#333" stroke-width="0.6"/>
<text x="562.1" y="839.5" font-size="7.4" text-anchor="middle" fill="#222" stroke="#222" stroke-width="0.12">20</text>
<line x1="583.6" y1="830.2" x2="583.6" y2="832.7" stroke="#333" stroke-width="0.6"/>
<text x="583.6" y="839.5" font-size="7.4" text-anchor="middle" fill="#222" stroke="#222" stroke-width="0.12">40</text>
<line x1="605" y1="830.2" x2="605" y2="832.7" stroke="#333" stroke-width="0.6"/>
<text x="605" y="839.5" font-size="7.4" text-anchor="middle" fill="#222" stroke="#222" stroke-width="0.12">60</text>
<line x1="626.4" y1="830.2" x2="626.4" y2="832.7" stroke="#333" stroke-width="0.6"/>
<text x="626.4" y="839.5" font-size="7.4" text-anchor="middle" fill="#222" stroke="#222" stroke-width="0.12">80</text>
<line x1="647.9" y1="830.2" x2="647.9" y2="832.7" stroke="#333" stroke-width="0.6"/>
<text x="647.9" y="839.5" font-size="7.4" text-anchor="middle" fill="#222" stroke="#222" stroke-width="0.12">100</text>
<line x1="669.3" y1="830.2" x2="669.3" y2="832.7" stroke="#333" stroke-width="0.6"/>
<text x="669.3" y="839.5" font-size="7.4" text-anchor="middle" fill="#222" stroke="#222" stroke-width="0.12">120</text>
<text x="606.7" y="847.3" font-size="7.4" text-anchor="middle" stroke="#000" stroke-width="0.12">Time (months)</text>
<text x="0" y="0" font-size="7.4" stroke="#000" stroke-width="0.12" text-anchor="middle" transform="translate(516.6 774) rotate(-90)">Probability</text>
<text x="672.2" y="721.2" font-size="7.4" text-anchor="end" stroke="#000" stroke-width="0.12">HR=1.48(1.01-2.17)</text>
<text x="672.2" y="733.4" font-size="7.4" text-anchor="end" stroke="#000" stroke-width="0.12">logrank P=0.044</text>
<path d="M540.2 715.9H541.6V717.7H543V719.5H544.5V721.5H546V723.5H547.5V726H549V728.5H550.2V730.5H551.4V732.4H552.6V734.4H554.3V735.8H556V737.2H557.7V738.1H559.4V739H560.6V740.2H561.8V741.3H563V742.5H564.3V744H565.7V745.5H567V747H568.2V748.5H569.5V749.9H570.7V751.4H572V752.2H573.4V753H574.7V753.7H576V754.5H577.2V755H578.4V755.5H579.6V756H580.8V756.5H582V757H583.2V757.8H584.4V758.6H585.6V759.4H586.8V760.2H588V761H589.3V761.7H590.5V762.3H591.8V763H593.1V763.7H594.3V764.3H595.6V765H596.8V765.4H598.1V765.8H599.3V766.2H600.5V766.7H601.8V767.1H603V767.5H604.2V767.9H605.4V768.4H606.6V768.8H607.9V769.3H609.1V769.7H610.3V770.2H611.5V770.6H612.9V771.5H614.2V772.4H615.6V773.4H616.9V774.3H618.3V775.2L629.6 775.2L631.8 775.2L631.8 789.9L653.3 789.9L653.3 797.3L672.6 797.3" fill="none" stroke="#222" stroke-width="0.8"/>
<path d="M540.2 715.9H541.5V717.6H542.7V719.3H544V721H545.3V723H546.7V725H548V727H549.5V729.1H551.1V731.2H552.6V733.3H554.1V735.9H555.7V738.6H557.2V741.2H558.6V744.6H560V748H562V753H564V759.3H565.2V760.6H566.5V762H568V763.1H569.6V764.3L584.3 764.3L584.3 769.5L590 769.5L590 774L594 774L594 778.5L597.9 778.5L597.9 784.2L601.3 784.2L601.3 790.5L629.6 790.5L629.6 802.3L657.9 802.3L657.9 827.2" fill="none" stroke="#d9302a" stroke-width="0.8"/>
<path d="M540.5 715v2.6M539.2 716.3h2.6M540.7 715.2v2.6M539.4 716.5h2.6M541.2 715.9v2.6M539.9 717.2h2.6M542.8 717.9v2.6M541.5 719.2h2.6M543.5 718.9v2.6M542.2 720.2h2.6M543.8 719.3v2.6M542.5 720.6h2.6M544.1 719.7v2.6M542.8 721h2.6M544.4 720.1v2.6M543.1 721.4h2.6M546.8 723.5v2.6M545.5 724.8h2.6M549.2 727.5v2.6M547.9 728.8h2.6M550.3 729.3v2.6M549 730.6h2.6M550.9 730.3v2.6M549.6 731.6h2.6M551.3 731v2.6M550 732.3h2.6M551.9 732v2.6M550.6 733.3h2.6M552.6 733.1v2.6M551.3 734.4h2.6M552.7 733.2v2.6M551.4 734.5h2.6M552.9 733.3v2.6M551.6 734.6h2.6M553.5 733.8v2.6M552.2 735.1h2.6M553.7 734v2.6M552.4 735.3h2.6M554.8 734.9v2.6M553.5 736.2h2.6M556.8 736.3v2.6M555.5 737.6h2.6M558.1 737v2.6M556.8 738.3h2.6M559 737.5v2.6M557.7 738.8h2.6M559.1 737.5v2.6M557.8 738.8h2.6M560.7 739v2.6M559.4 740.3h2.6M560.8 739.1v2.6M559.5 740.4h2.6M563.7 742v2.6M562.4 743.3h2.6M565.7 744.2v2.6M564.4 745.5h2.6M567.6 746.4v2.6M566.3 747.7h2.6M568.9 748v2.6M567.6 749.3h2.6M569.4 748.6v2.6M568.1 749.9h2.6M571 750.3v2.6M569.7 751.6h2.6M571.2 750.4v2.6M569.9 751.7h2.6M575 752.6v2.6M573.7 753.9h2.6M575.8 753.1v2.6M574.5 754.4h2.6M579.1 754.5v2.6M577.8 755.8h2.6M583.6 756.8v2.6M582.3 758.1h2.6M585.1 757.8v2.6M583.8 759.1h2.6M586.3 758.6v2.6M585 759.9h2.6M591.8 761.7v2.6M590.5 763h2.6M592.9 762.3v2.6M591.6 763.6h2.6M593.7 762.7v2.6M592.4 764h2.6M595.2 763.5v2.6M593.9 764.8h2.6M596 763.8v2.6M594.7 765.1h2.6M597.4 764.3v2.6M596.1 765.6h2.6M597.6 764.4v2.6M596.3 765.7h2.6M605 766.9v2.6M603.7 768.2h2.6M606 767.3v2.6M604.7 768.6h2.6M607.9 768v2.6M606.6 769.3h2.6M608.5 768.2v2.6M607.2 769.5h2.6M608.6 768.2v2.6M607.3 769.5h2.6M614.4 771.3v2.6M613.1 772.6h2.6M614.8 771.5v2.6M613.5 772.8h2.6M616.2 772.5v2.6M614.9 773.8h2.6M616.7 772.8v2.6M615.4 774.1h2.6M618.4 773.9v2.6M617.1 775.2h2.6M620.1 773.9v2.6M618.8 775.2h2.6M620.2 773.9v2.6M618.9 775.2h2.6M621.4 773.9v2.6M620.1 775.2h2.6M622.1 773.9v2.6M620.8 775.2h2.6M623.8 773.9v2.6M622.5 775.2h2.6M624.3 773.9v2.6M623 775.2h2.6M627.1 773.9v2.6M625.8 775.2h2.6M630.3 773.9v2.6M629 775.2h2.6M636 788.6v2.6M634.7 789.9h2.6M641 788.6v2.6M639.7 789.9h2.6M662 796v2.6M660.7 797.3h2.6M666 796v2.6M664.7 797.3h2.6M670 796v2.6M668.7 797.3h2.6" stroke="#222" stroke-width="0.6"/>
<path d="M544.6 720.6v2.6M543.3 721.9h2.6M546.6 723.6v2.6M545.3 724.9h2.6M547.5 725v2.6M546.2 726.2h2.6M547.7 725.3v2.6M546.4 726.6h2.6M548.7 726.7v2.6M547.4 728h2.6M549.3 727.5v2.6M548 728.8h2.6M549.8 728.2v2.6M548.5 729.5h2.6M554.7 735.6v2.6M553.4 736.9h2.6M559 744.3v2.6M557.7 745.6h2.6M560.9 749v2.6M559.6 750.2h2.6M577.2 763v2.6M575.9 764.3h2.6M577.3 763v2.6M576 764.3h2.6M580.9 763v2.6M579.6 764.3h2.6M578 763v2.6M576.7 764.3h2.6M596 777.2v2.6M594.7 778.5h2.6M600 782.9v2.6M598.7 784.2h2.6M612 789.2v2.6M610.7 790.5h2.6M624 789.2v2.6M622.7 790.5h2.6M644 801v2.6M642.7 802.3h2.6" stroke="#d9302a" stroke-width="0.6"/>
<text x="539.6" y="811.3" font-size="7.4" stroke="#000" stroke-width="0.12">Expression</text>
<line x1="541" y1="817.5" x2="551" y2="817.5" stroke="#333" stroke-width="0.9"/>
<text x="555" y="820" font-size="7.4" stroke="#000" stroke-width="0.12">low</text>
<line x1="541" y1="824.6" x2="551" y2="824.6" stroke="#d9302a" stroke-width="0.9"/>
<text x="555" y="827.2" font-size="7.4" stroke="#000" stroke-width="0.12">high</text></svg></body></html>
